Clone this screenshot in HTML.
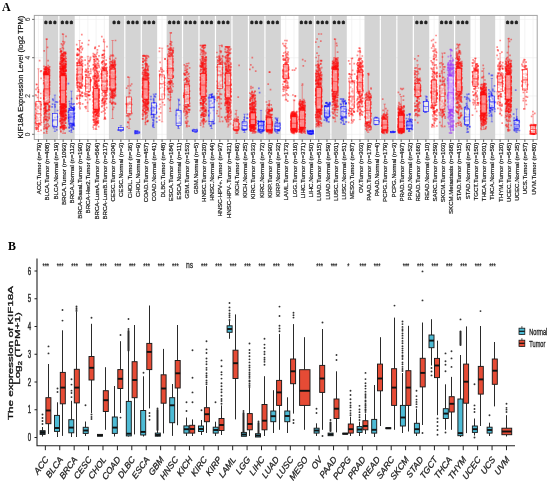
<!DOCTYPE html>
<html><head><meta charset="utf-8"><title>KIF18A expression</title>
<style>html,body{margin:0;padding:0;background:#fff;}svg{display:block;}</style>
</head><body>
<svg width="550" height="491" viewBox="0 0 550 491"><rect x="0" y="0" width="550" height="491" fill="#fff"/><path d="M38.42 15.4V139.5 M46.67 15.4V139.5 M54.91 15.4V139.5 M63.15 15.4V139.5 M71.40 15.4V139.5 M79.64 15.4V139.5 M87.89 15.4V139.5 M96.13 15.4V139.5 M104.38 15.4V139.5 M112.62 15.4V139.5 M120.86 15.4V139.5 M129.11 15.4V139.5 M137.35 15.4V139.5 M145.60 15.4V139.5 M153.84 15.4V139.5 M162.09 15.4V139.5 M170.33 15.4V139.5 M178.57 15.4V139.5 M186.82 15.4V139.5 M195.06 15.4V139.5 M203.31 15.4V139.5 M211.55 15.4V139.5 M219.80 15.4V139.5 M228.04 15.4V139.5 M236.28 15.4V139.5 M244.53 15.4V139.5 M252.77 15.4V139.5 M261.02 15.4V139.5 M269.26 15.4V139.5 M277.51 15.4V139.5 M285.75 15.4V139.5 M293.99 15.4V139.5 M302.24 15.4V139.5 M310.48 15.4V139.5 M318.73 15.4V139.5 M326.97 15.4V139.5 M335.22 15.4V139.5 M343.46 15.4V139.5 M351.70 15.4V139.5 M359.95 15.4V139.5 M368.19 15.4V139.5 M376.44 15.4V139.5 M384.68 15.4V139.5 M392.93 15.4V139.5 M401.17 15.4V139.5 M409.41 15.4V139.5 M417.66 15.4V139.5 M425.90 15.4V139.5 M434.15 15.4V139.5 M442.39 15.4V139.5 M450.64 15.4V139.5 M458.88 15.4V139.5 M467.12 15.4V139.5 M475.37 15.4V139.5 M483.61 15.4V139.5 M491.86 15.4V139.5 M500.10 15.4V139.5 M508.35 15.4V139.5 M516.59 15.4V139.5 M524.83 15.4V139.5 M533.08 15.4V139.5 M34.3 134.30H537.2 M34.3 96.00H537.2 M34.3 57.70H537.2 M34.3 19.40H537.2" stroke="#ececec" stroke-width="0.6" fill="none"/><rect x="42.94" y="15.4" width="15.29" height="124.1" fill="#d4d4d4"/><rect x="59.43" y="15.4" width="15.29" height="124.1" fill="#d4d4d4"/><rect x="108.90" y="15.4" width="15.29" height="124.1" fill="#d4d4d4"/><rect x="125.39" y="15.4" width="15.29" height="124.1" fill="#d4d4d4"/><rect x="141.88" y="15.4" width="15.29" height="124.1" fill="#d4d4d4"/><rect x="166.61" y="15.4" width="15.29" height="124.1" fill="#d4d4d4"/><rect x="183.10" y="15.4" width="15.29" height="124.1" fill="#d4d4d4"/><rect x="199.59" y="15.4" width="15.29" height="124.1" fill="#d4d4d4"/><rect x="216.07" y="15.4" width="15.29" height="124.1" fill="#d4d4d4"/><rect x="232.56" y="15.4" width="15.29" height="124.1" fill="#d4d4d4"/><rect x="249.05" y="15.4" width="15.29" height="124.1" fill="#d4d4d4"/><rect x="265.54" y="15.4" width="15.29" height="124.1" fill="#d4d4d4"/><rect x="298.52" y="15.4" width="15.29" height="124.1" fill="#d4d4d4"/><rect x="315.00" y="15.4" width="15.29" height="124.1" fill="#d4d4d4"/><rect x="331.49" y="15.4" width="15.29" height="124.1" fill="#d4d4d4"/><rect x="364.47" y="15.4" width="15.29" height="124.1" fill="#d4d4d4"/><rect x="380.96" y="15.4" width="15.29" height="124.1" fill="#d4d4d4"/><rect x="397.45" y="15.4" width="15.29" height="124.1" fill="#d4d4d4"/><rect x="413.94" y="15.4" width="15.29" height="124.1" fill="#d4d4d4"/><rect x="438.67" y="15.4" width="15.29" height="124.1" fill="#d4d4d4"/><rect x="455.16" y="15.4" width="15.29" height="124.1" fill="#d4d4d4"/><rect x="479.89" y="15.4" width="15.29" height="124.1" fill="#d4d4d4"/><rect x="504.62" y="15.4" width="15.29" height="124.1" fill="#d4d4d4"/><rect x="34.3" y="15.4" width="502.9" height="124.1" fill="none" stroke="#a3a3a3" stroke-width="1.0"/><path d="M40.0 117.3h.01M35.9 116.7h.01M40.6 106.6h.01M41.2 104.7h.01M38.3 108.2h.01M37.6 106.6h.01M39.1 122.6h.01M40.7 109.2h.01M39.2 124.2h.01M37.5 87.5h.01M37.6 114.5h.01M36.9 84.5h.01M41.4 122.5h.01M37.5 87.9h.01M41.1 130.4h.01M38.6 92.0h.01M45.5 90.3h.01M45.5 96.2h.01M44.9 118.4h.01M49.6 92.0h.01M45.7 69.1h.01M49.0 94.4h.01M45.9 120.0h.01M44.4 118.9h.01M45.3 88.9h.01M48.8 69.0h.01M49.0 90.9h.01M49.2 109.8h.01M44.3 104.3h.01M48.0 94.4h.01M43.9 101.6h.01M45.5 90.2h.01M44.3 73.6h.01M45.0 114.1h.01M49.4 84.1h.01M45.1 93.0h.01M46.7 101.3h.01M49.2 85.5h.01M47.8 100.6h.01M44.9 113.0h.01M45.0 74.6h.01M44.8 74.2h.01M44.5 75.2h.01M44.0 98.6h.01M48.1 74.8h.01M49.3 107.5h.01M45.9 93.0h.01M45.8 106.5h.01M45.8 79.0h.01M46.5 128.4h.01M49.0 67.3h.01M43.9 97.2h.01M48.2 68.0h.01M47.4 83.5h.01M43.7 91.5h.01M43.8 95.6h.01M46.0 88.9h.01M44.8 91.7h.01M47.3 92.8h.01M44.1 108.0h.01M43.9 96.8h.01M49.6 85.3h.01M47.9 68.3h.01M47.7 74.6h.01M48.7 93.3h.01M44.9 73.6h.01M47.1 81.5h.01M45.1 77.7h.01M46.5 110.5h.01M45.4 103.1h.01M49.2 117.8h.01M48.3 92.8h.01M45.0 90.0h.01M47.3 102.0h.01M47.7 74.7h.01M47.0 110.6h.01M47.5 121.2h.01M45.4 90.2h.01M45.8 102.8h.01M44.8 84.8h.01M46.2 79.4h.01M44.6 90.3h.01M44.2 96.6h.01M45.4 86.7h.01M48.5 86.4h.01M49.5 82.2h.01M49.1 92.1h.01M45.0 83.7h.01M45.0 105.6h.01M45.1 67.7h.01M48.2 69.9h.01M47.0 74.6h.01M46.2 89.9h.01M47.4 88.8h.01M46.4 67.4h.01M46.2 71.6h.01M47.5 47.4h.01M44.0 132.9h.01M60.2 71.8h.01M61.3 103.9h.01M63.3 91.8h.01M61.1 90.5h.01M63.3 115.2h.01M60.2 87.7h.01M61.2 79.0h.01M62.2 74.7h.01M63.7 97.4h.01M60.4 89.8h.01M65.1 115.1h.01M65.9 107.2h.01M62.0 102.7h.01M61.2 81.5h.01M63.5 79.3h.01M60.5 91.5h.01M61.3 76.9h.01M62.2 90.9h.01M65.2 80.3h.01M61.1 103.2h.01M61.4 97.3h.01M60.9 75.7h.01M62.4 74.8h.01M60.9 102.4h.01M62.5 127.1h.01M60.7 77.1h.01M60.8 51.7h.01M60.6 61.5h.01M61.8 100.2h.01M65.3 78.8h.01M64.1 53.6h.01M61.6 86.0h.01M60.8 117.7h.01M60.4 89.6h.01M60.4 88.1h.01M63.6 66.8h.01M62.2 86.0h.01M60.4 103.7h.01M60.8 101.3h.01M60.7 89.6h.01M61.8 111.6h.01M64.3 97.5h.01M60.5 72.4h.01M60.9 106.4h.01M61.7 93.1h.01M61.7 119.9h.01M62.0 96.8h.01M61.6 68.2h.01M62.0 70.8h.01M65.0 78.5h.01M63.7 126.5h.01M61.9 101.9h.01M61.3 95.2h.01M63.0 93.8h.01M66.1 78.9h.01M63.5 68.7h.01M63.4 72.4h.01M65.8 101.8h.01M60.3 97.4h.01M64.0 104.0h.01M65.1 77.4h.01M62.1 109.6h.01M61.6 77.6h.01M64.4 65.6h.01M61.1 99.0h.01M61.1 118.3h.01M62.8 82.2h.01M65.3 84.5h.01M63.2 117.0h.01M65.1 57.8h.01M63.5 100.9h.01M62.9 116.2h.01M65.9 67.1h.01M63.8 100.1h.01M64.0 102.9h.01M61.3 58.2h.01M62.4 68.1h.01M62.5 55.0h.01M60.8 109.6h.01M61.7 86.5h.01M60.8 86.5h.01M60.6 110.1h.01M64.7 110.8h.01M65.1 61.0h.01M64.8 104.9h.01M62.4 89.9h.01M64.4 128.2h.01M63.5 84.8h.01M62.2 82.1h.01M62.4 85.0h.01M63.8 85.8h.01M65.7 56.5h.01M65.2 84.7h.01M65.0 104.9h.01M62.4 92.4h.01M65.0 98.3h.01M63.2 81.8h.01M65.1 76.4h.01M65.2 119.3h.01M62.1 99.1h.01M61.2 109.2h.01M62.3 83.0h.01M62.9 104.4h.01M61.8 70.4h.01M63.3 79.9h.01M64.8 100.8h.01M62.3 67.2h.01M64.2 101.1h.01M64.0 52.9h.01M62.2 87.3h.01M61.6 57.5h.01M65.4 98.5h.01M61.2 90.9h.01M63.5 97.6h.01M60.6 97.2h.01M64.8 78.2h.01M65.5 104.4h.01M61.8 102.1h.01M63.8 125.5h.01M65.9 104.0h.01M62.2 68.5h.01M64.0 73.9h.01M64.0 127.8h.01M62.6 104.5h.01M63.7 95.0h.01M63.5 58.5h.01M62.1 103.5h.01M60.7 111.4h.01M63.5 127.0h.01M61.7 86.1h.01M64.8 106.9h.01M65.8 85.1h.01M64.8 87.4h.01M60.7 90.7h.01M63.5 96.6h.01M61.2 68.2h.01M64.8 84.3h.01M62.2 83.7h.01M60.8 55.7h.01M65.3 99.9h.01M65.8 89.2h.01M62.8 114.8h.01M61.9 124.8h.01M65.3 105.2h.01M61.9 90.7h.01M64.3 78.4h.01M61.4 79.3h.01M61.2 72.8h.01M60.8 107.5h.01M64.6 98.2h.01M62.2 65.1h.01M60.4 76.2h.01M63.2 108.0h.01M66.1 97.0h.01M61.0 76.0h.01M64.6 94.4h.01M65.7 83.4h.01M64.5 111.2h.01M60.4 100.0h.01M60.2 103.0h.01M64.3 92.3h.01M62.1 114.4h.01M62.6 91.4h.01M65.7 123.2h.01M61.3 78.6h.01M60.5 80.8h.01M62.0 112.6h.01M63.2 126.2h.01M64.6 52.8h.01M63.8 92.3h.01M61.5 86.2h.01M64.5 88.5h.01M65.7 111.5h.01M61.6 113.2h.01M65.1 92.1h.01M65.1 111.6h.01M60.8 68.1h.01M60.7 127.3h.01M63.0 71.6h.01M62.4 67.0h.01M62.4 103.0h.01M61.2 79.9h.01M65.2 63.8h.01M62.7 93.7h.01M62.8 102.1h.01M64.0 73.8h.01M65.7 71.2h.01M64.1 101.3h.01M63.3 70.0h.01M63.7 74.8h.01M63.0 60.1h.01M65.1 95.7h.01M64.2 71.8h.01M61.5 111.8h.01M64.7 86.0h.01M63.1 82.2h.01M66.1 58.5h.01M63.3 65.9h.01M62.0 92.6h.01M62.7 120.4h.01M65.3 87.5h.01M62.4 81.2h.01M65.0 83.3h.01M62.0 103.4h.01M61.8 90.2h.01M63.7 97.7h.01M60.5 121.5h.01M60.6 83.6h.01M65.0 106.6h.01M61.4 108.3h.01M60.8 101.1h.01M64.1 74.5h.01M60.5 115.9h.01M61.6 97.1h.01M65.6 99.8h.01M66.0 36.3h.01M61.5 43.8h.01M62.7 34.0h.01M81.5 59.9h.01M80.4 69.5h.01M81.4 46.4h.01M76.8 83.7h.01M77.0 85.5h.01M79.7 74.0h.01M81.5 88.1h.01M79.5 62.6h.01M79.4 78.4h.01M77.8 74.5h.01M80.9 57.2h.01M82.5 85.7h.01M81.0 65.3h.01M81.0 68.4h.01M80.4 64.2h.01M78.8 66.2h.01M77.3 79.5h.01M82.1 49.7h.01M77.3 64.5h.01M76.8 54.7h.01M79.3 76.0h.01M77.4 54.8h.01M76.7 85.3h.01M82.0 69.3h.01M82.0 72.0h.01M82.1 77.6h.01M77.8 74.7h.01M79.3 67.5h.01M79.0 68.6h.01M80.8 66.3h.01M77.0 82.9h.01M81.4 80.0h.01M77.2 87.4h.01M78.1 79.5h.01M80.5 67.0h.01M81.2 56.7h.01M81.5 57.5h.01M82.0 78.7h.01M89.7 88.3h.01M88.6 82.9h.01M88.1 72.2h.01M90.4 79.9h.01M86.6 71.4h.01M90.8 73.4h.01M89.4 89.9h.01M89.0 86.5h.01M88.4 95.2h.01M85.3 94.4h.01M85.6 99.8h.01M89.5 79.5h.01M89.0 92.0h.01M86.9 72.0h.01M90.0 60.5h.01M86.0 83.0h.01M88.9 40.5h.01M98.5 100.6h.01M94.0 54.4h.01M94.7 74.3h.01M93.7 106.2h.01M94.6 81.2h.01M98.6 109.5h.01M97.4 102.5h.01M93.4 105.8h.01M97.9 94.8h.01M99.1 94.8h.01M94.1 106.4h.01M94.4 59.6h.01M94.2 105.3h.01M98.8 88.6h.01M94.1 104.8h.01M95.3 103.9h.01M94.0 97.0h.01M97.5 100.2h.01M95.7 111.9h.01M98.8 89.9h.01M96.7 70.9h.01M95.5 106.6h.01M93.3 116.6h.01M98.5 101.7h.01M96.0 107.6h.01M94.7 82.1h.01M96.4 80.4h.01M97.3 77.3h.01M94.0 57.2h.01M97.5 101.8h.01M93.7 112.7h.01M98.3 122.7h.01M96.7 87.9h.01M93.3 53.6h.01M94.2 119.9h.01M99.0 109.7h.01M99.0 55.8h.01M94.0 109.6h.01M97.2 67.2h.01M95.8 121.3h.01M98.8 104.7h.01M94.2 78.5h.01M97.8 105.4h.01M97.1 91.5h.01M98.9 97.2h.01M94.7 73.8h.01M99.1 95.4h.01M96.8 123.6h.01M98.7 114.9h.01M97.7 87.2h.01M98.7 107.4h.01M93.8 110.6h.01M97.5 87.4h.01M94.4 99.3h.01M98.8 108.2h.01M97.7 97.5h.01M96.0 114.8h.01M93.5 112.2h.01M97.0 90.7h.01M96.0 109.5h.01M95.9 90.4h.01M98.7 92.3h.01M94.2 105.2h.01M96.0 78.7h.01M98.6 96.8h.01M96.3 119.2h.01M98.0 93.0h.01M98.1 95.4h.01M96.5 91.9h.01M96.1 56.7h.01M96.7 85.0h.01M99.0 97.9h.01M96.4 97.9h.01M94.8 105.0h.01M95.3 104.2h.01M97.2 94.9h.01M94.6 107.6h.01M94.4 83.7h.01M97.2 98.1h.01M93.1 78.4h.01M96.5 110.9h.01M98.1 100.4h.01M93.7 92.5h.01M95.1 99.8h.01M98.1 105.0h.01M94.0 99.6h.01M99.1 104.2h.01M96.4 113.3h.01M94.1 84.0h.01M96.1 81.3h.01M93.2 94.3h.01M94.6 97.8h.01M95.5 109.4h.01M98.1 111.8h.01M94.2 121.7h.01M97.0 108.6h.01M94.6 103.9h.01M97.4 95.9h.01M98.2 96.0h.01M96.2 99.6h.01M96.2 106.7h.01M93.7 112.9h.01M94.3 121.6h.01M94.7 79.1h.01M95.7 66.7h.01M98.7 94.6h.01M97.2 124.7h.01M98.0 63.0h.01M97.2 107.6h.01M97.4 91.6h.01M96.6 54.0h.01M97.4 49.9h.01M93.7 129.0h.01M104.2 87.1h.01M102.9 81.6h.01M104.4 50.7h.01M105.1 117.4h.01M105.1 87.9h.01M106.4 69.1h.01M107.2 73.7h.01M101.6 112.1h.01M106.5 89.1h.01M106.7 98.3h.01M106.6 85.5h.01M103.4 70.5h.01M102.3 84.8h.01M106.6 107.7h.01M106.9 67.5h.01M106.9 88.4h.01M105.6 101.5h.01M107.1 71.6h.01M105.5 95.6h.01M103.6 71.9h.01M105.8 89.5h.01M105.8 92.0h.01M106.9 95.1h.01M105.7 89.6h.01M105.2 113.3h.01M104.0 68.0h.01M104.7 81.5h.01M103.1 75.0h.01M104.0 89.0h.01M103.8 76.6h.01M103.7 81.4h.01M104.2 70.7h.01M101.5 73.9h.01M104.8 90.2h.01M105.7 73.3h.01M104.3 85.0h.01M104.7 74.4h.01M101.7 63.1h.01M104.3 75.6h.01M106.1 73.4h.01M103.4 69.4h.01M102.6 75.0h.01M103.7 41.3h.01M113.1 92.8h.01M113.3 77.4h.01M112.0 93.3h.01M110.3 89.3h.01M109.9 77.1h.01M114.6 86.1h.01M111.4 94.6h.01M115.2 89.7h.01M109.8 58.5h.01M113.4 79.4h.01M115.3 92.2h.01M114.4 67.2h.01M111.9 73.6h.01M111.6 78.4h.01M111.1 69.7h.01M110.7 69.0h.01M111.2 92.4h.01M112.0 85.2h.01M110.6 71.1h.01M110.4 81.4h.01M114.5 75.7h.01M109.6 88.7h.01M114.3 72.0h.01M114.6 74.5h.01M114.7 90.9h.01M110.4 82.7h.01M113.7 83.7h.01M110.2 95.1h.01M110.6 64.8h.01M110.1 71.1h.01M111.1 84.5h.01M109.8 62.0h.01M114.3 82.5h.01M111.4 82.9h.01M111.3 64.9h.01M115.2 88.4h.01M111.2 72.9h.01M110.6 102.3h.01M114.7 95.5h.01M114.1 86.8h.01M111.3 72.2h.01M115.2 89.6h.01M113.5 65.2h.01M114.7 89.7h.01M114.1 77.8h.01M114.0 87.9h.01M112.1 85.4h.01M111.8 86.8h.01M112.3 83.9h.01M110.7 96.7h.01M111.1 74.0h.01M113.0 95.7h.01M114.3 81.8h.01M112.8 60.6h.01M113.8 95.7h.01M110.0 63.5h.01M112.5 93.1h.01M112.3 97.8h.01M112.3 94.5h.01M113.5 67.3h.01M113.7 107.3h.01M127.3 106.3h.01M128.0 86.0h.01M129.6 93.2h.01M127.0 106.4h.01M131.4 99.3h.01M129.5 103.9h.01M128.1 105.2h.01M144.8 91.2h.01M147.4 95.4h.01M146.9 58.4h.01M146.9 99.6h.01M142.9 93.9h.01M144.2 90.0h.01M145.9 79.1h.01M148.5 77.9h.01M143.3 83.3h.01M147.6 95.6h.01M144.2 74.1h.01M146.0 66.7h.01M146.9 104.2h.01M145.4 84.1h.01M147.7 89.9h.01M147.0 69.9h.01M144.7 112.0h.01M148.0 100.3h.01M146.1 99.3h.01M148.5 79.6h.01M145.8 86.7h.01M144.2 89.4h.01M148.3 88.5h.01M145.1 99.3h.01M144.0 106.0h.01M143.0 86.6h.01M148.6 82.6h.01M148.2 102.3h.01M147.0 87.6h.01M147.7 82.3h.01M146.0 113.8h.01M145.1 108.6h.01M146.9 79.2h.01M147.9 94.2h.01M144.8 86.9h.01M148.5 83.4h.01M143.9 93.5h.01M145.4 83.9h.01M147.4 106.8h.01M148.1 84.9h.01M143.4 86.1h.01M146.7 112.5h.01M145.9 78.1h.01M143.9 82.1h.01M148.6 74.9h.01M147.8 102.2h.01M144.4 105.6h.01M146.6 75.9h.01M142.8 100.8h.01M145.1 97.5h.01M144.2 86.5h.01M147.9 73.5h.01M147.5 76.6h.01M145.1 91.5h.01M147.0 79.5h.01M146.6 90.6h.01M145.8 63.5h.01M148.5 79.9h.01M143.3 92.0h.01M143.3 114.9h.01M145.7 83.7h.01M142.6 97.1h.01M146.1 90.0h.01M143.1 62.2h.01M148.5 66.3h.01M145.6 83.4h.01M145.1 83.5h.01M147.7 70.2h.01M143.1 82.7h.01M146.9 86.5h.01M147.6 91.5h.01M144.2 81.4h.01M143.6 74.9h.01M145.8 92.3h.01M146.1 79.5h.01M147.4 78.5h.01M143.4 101.7h.01M144.9 89.1h.01M144.5 80.0h.01M147.6 80.5h.01M148.0 103.4h.01M143.3 84.4h.01M146.3 103.9h.01M143.0 110.5h.01M143.1 91.1h.01M147.8 110.1h.01M144.2 91.2h.01M143.2 108.1h.01M146.4 87.0h.01M143.9 97.6h.01M143.1 55.8h.01M162.7 76.4h.01M159.9 104.3h.01M159.9 76.5h.01M164.7 85.1h.01M161.8 79.5h.01M162.1 97.4h.01M161.8 84.4h.01M165.0 58.8h.01M161.6 94.4h.01M159.4 51.4h.01M173.2 50.8h.01M170.2 84.1h.01M171.1 75.7h.01M171.5 76.4h.01M170.4 58.8h.01M167.5 86.4h.01M171.3 69.3h.01M171.2 90.0h.01M170.6 87.4h.01M169.5 61.3h.01M170.6 72.6h.01M170.5 58.4h.01M169.4 70.2h.01M170.4 69.1h.01M173.1 86.5h.01M167.6 89.4h.01M171.2 68.4h.01M172.5 68.3h.01M171.2 88.5h.01M169.5 88.1h.01M167.7 61.2h.01M173.1 52.1h.01M170.6 69.8h.01M168.4 59.4h.01M169.1 75.0h.01M167.8 72.6h.01M170.5 71.2h.01M169.0 77.8h.01M170.4 99.7h.01M168.2 88.1h.01M168.9 92.2h.01M169.7 57.2h.01M168.1 98.8h.01M171.4 52.8h.01M169.2 76.5h.01M171.6 80.7h.01M171.2 32.8h.01M186.7 99.3h.01M188.2 104.6h.01M186.3 87.3h.01M187.8 121.3h.01M187.1 80.7h.01M184.7 90.8h.01M186.9 123.1h.01M185.2 68.0h.01M184.4 80.1h.01M189.3 85.8h.01M188.7 88.7h.01M189.1 84.0h.01M187.5 98.9h.01M184.8 85.0h.01M189.7 106.1h.01M185.0 97.0h.01M183.9 112.0h.01M185.9 78.6h.01M184.8 109.5h.01M184.8 90.2h.01M185.8 110.9h.01M188.9 73.6h.01M186.3 101.6h.01M188.3 89.4h.01M185.8 110.3h.01M186.9 72.1h.01M185.2 86.9h.01M185.4 106.6h.01M184.5 97.2h.01M189.3 98.6h.01M205.6 77.2h.01M201.6 115.1h.01M201.1 87.3h.01M203.1 106.4h.01M201.5 73.7h.01M203.5 48.4h.01M203.2 86.8h.01M204.3 88.5h.01M205.1 63.5h.01M205.8 100.4h.01M204.8 111.7h.01M203.0 56.9h.01M205.6 79.9h.01M203.0 90.7h.01M202.1 58.6h.01M205.0 67.3h.01M204.9 61.1h.01M202.0 113.9h.01M200.7 77.6h.01M205.5 110.7h.01M203.4 74.3h.01M206.1 112.8h.01M203.5 73.2h.01M205.8 63.9h.01M205.1 77.8h.01M205.0 88.5h.01M202.4 82.1h.01M205.7 90.3h.01M201.9 90.8h.01M206.2 104.4h.01M202.6 81.3h.01M203.1 109.3h.01M201.4 89.5h.01M203.4 103.3h.01M203.2 99.7h.01M201.7 91.2h.01M203.0 85.5h.01M204.1 121.0h.01M202.1 99.9h.01M201.1 117.1h.01M204.4 95.4h.01M202.2 76.5h.01M206.1 78.3h.01M204.0 84.2h.01M205.7 57.7h.01M200.4 66.1h.01M204.7 53.3h.01M205.2 73.6h.01M202.9 66.0h.01M203.1 86.9h.01M206.1 79.9h.01M206.0 83.1h.01M202.4 87.2h.01M200.4 59.7h.01M203.2 90.1h.01M203.7 108.2h.01M204.7 114.1h.01M204.3 87.9h.01M202.6 93.6h.01M203.6 123.8h.01M206.3 121.0h.01M201.0 93.9h.01M203.3 62.8h.01M206.2 108.0h.01M204.9 116.5h.01M202.1 112.9h.01M204.2 83.1h.01M203.5 80.5h.01M206.2 57.9h.01M202.8 81.7h.01M200.7 74.0h.01M202.1 82.1h.01M201.6 85.7h.01M204.1 102.9h.01M201.4 79.0h.01M202.5 89.0h.01M205.4 106.8h.01M205.7 75.5h.01M205.8 74.5h.01M202.8 60.0h.01M202.2 85.3h.01M203.5 114.1h.01M204.1 88.6h.01M203.8 65.6h.01M200.7 63.1h.01M200.6 102.8h.01M204.8 87.0h.01M203.3 101.8h.01M204.4 84.2h.01M201.6 78.7h.01M202.0 85.7h.01M201.4 52.5h.01M202.1 92.2h.01M202.7 81.0h.01M200.9 61.0h.01M203.2 120.7h.01M204.6 87.3h.01M200.6 104.8h.01M200.8 84.1h.01M204.4 106.2h.01M205.5 59.9h.01M205.2 88.5h.01M203.6 88.2h.01M201.3 45.5h.01M219.5 71.1h.01M218.0 91.2h.01M221.3 103.4h.01M217.1 67.2h.01M217.1 81.3h.01M220.4 58.3h.01M221.5 80.8h.01M217.8 61.4h.01M220.9 75.3h.01M220.4 51.2h.01M217.7 86.3h.01M222.5 55.9h.01M222.2 70.1h.01M222.1 80.5h.01M221.6 62.3h.01M217.7 62.3h.01M220.5 84.7h.01M217.3 85.3h.01M217.6 97.7h.01M221.8 45.4h.01M229.1 87.9h.01M229.2 52.6h.01M230.5 76.0h.01M226.2 80.2h.01M229.4 96.2h.01M226.6 89.2h.01M227.2 86.4h.01M225.9 68.7h.01M230.5 91.7h.01M228.3 67.3h.01M227.5 46.9h.01M229.6 90.8h.01M229.2 74.3h.01M226.0 75.5h.01M226.0 101.5h.01M225.2 94.0h.01M227.7 80.2h.01M230.4 95.3h.01M230.0 106.7h.01M228.3 107.3h.01M229.8 85.4h.01M226.8 98.2h.01M226.5 75.0h.01M226.4 77.8h.01M228.3 71.5h.01M228.3 60.7h.01M229.7 58.2h.01M230.0 102.9h.01M229.3 96.6h.01M227.3 110.8h.01M226.4 112.3h.01M228.4 64.6h.01M230.8 92.3h.01M228.7 95.7h.01M227.1 95.7h.01M229.2 87.2h.01M226.8 96.4h.01M225.7 58.0h.01M225.0 89.2h.01M226.4 119.7h.01M225.6 82.9h.01M229.4 85.5h.01M226.7 81.2h.01M229.7 73.8h.01M226.0 99.4h.01M229.9 119.7h.01M230.0 70.3h.01M227.7 75.4h.01M226.8 84.5h.01M228.5 102.2h.01M225.1 63.5h.01M225.2 74.2h.01M230.1 104.3h.01M227.2 62.3h.01M226.4 78.4h.01M225.1 90.4h.01M228.6 78.8h.01M230.9 112.1h.01M229.1 93.3h.01M226.4 92.7h.01M226.8 95.2h.01M228.3 64.2h.01M228.1 97.1h.01M226.7 84.9h.01M229.6 116.6h.01M229.1 86.9h.01M227.3 102.1h.01M226.5 70.7h.01M229.1 76.1h.01M226.3 63.6h.01M225.6 74.5h.01M225.5 103.6h.01M228.1 83.0h.01M228.7 81.9h.01M228.8 48.1h.01M229.0 73.3h.01M231.0 119.1h.01M228.4 61.1h.01M227.6 84.2h.01M229.0 60.6h.01M227.9 85.1h.01M225.3 79.5h.01M227.7 88.1h.01M227.4 46.8h.01M235.4 130.5h.01M238.0 122.5h.01M238.3 127.9h.01M233.4 125.1h.01M236.7 129.9h.01M237.9 126.4h.01M238.1 119.5h.01M238.0 117.1h.01M237.7 127.2h.01M237.1 129.4h.01M236.9 129.6h.01M236.1 125.8h.01M238.1 127.2h.01M252.8 120.8h.01M254.5 108.9h.01M253.8 124.8h.01M254.7 114.2h.01M254.8 95.0h.01M250.3 122.7h.01M254.7 114.7h.01M253.3 130.0h.01M249.8 125.9h.01M250.2 121.8h.01M254.0 94.8h.01M254.0 105.9h.01M251.4 119.6h.01M252.3 123.6h.01M253.2 127.1h.01M251.6 98.5h.01M253.1 121.3h.01M250.8 109.6h.01M254.6 125.1h.01M252.3 127.2h.01M252.7 109.1h.01M252.6 122.4h.01M253.5 117.8h.01M254.0 119.6h.01M254.5 113.4h.01M254.8 109.5h.01M254.0 114.5h.01M250.5 121.5h.01M252.7 120.0h.01M251.0 113.7h.01M253.2 116.9h.01M252.2 116.1h.01M254.1 114.0h.01M251.0 125.6h.01M252.0 103.3h.01M253.4 113.6h.01M253.6 124.5h.01M252.4 120.4h.01M253.6 119.5h.01M254.2 102.9h.01M254.8 117.0h.01M251.0 123.6h.01M252.1 126.7h.01M250.1 116.9h.01M254.9 120.6h.01M254.8 115.5h.01M252.6 116.7h.01M255.2 122.3h.01M251.8 120.4h.01M250.7 118.7h.01M249.8 120.1h.01M253.0 113.3h.01M250.7 124.5h.01M253.6 126.3h.01M251.0 127.9h.01M251.2 128.7h.01M251.2 117.8h.01M250.8 108.2h.01M250.1 109.5h.01M252.2 115.8h.01M250.6 125.1h.01M251.0 122.9h.01M254.5 113.8h.01M252.0 114.9h.01M252.6 112.2h.01M255.1 115.8h.01M252.3 129.0h.01M251.1 115.0h.01M255.1 116.6h.01M250.8 129.2h.01M252.7 113.6h.01M251.2 121.6h.01M251.0 119.1h.01M254.6 91.5h.01M252.9 103.2h.01M253.8 117.1h.01M251.3 109.1h.01M250.6 97.7h.01M253.3 116.8h.01M251.2 112.8h.01M251.1 108.1h.01M250.7 130.3h.01M254.1 119.0h.01M250.6 110.5h.01M251.4 112.0h.01M251.6 126.7h.01M253.6 121.7h.01M252.3 116.1h.01M255.3 108.8h.01M253.9 113.6h.01M253.8 129.6h.01M251.5 126.3h.01M251.9 113.4h.01M251.8 119.4h.01M252.7 130.1h.01M255.5 106.2h.01M254.8 121.8h.01M254.2 130.9h.01M254.5 118.8h.01M250.2 120.9h.01M250.7 120.7h.01M249.8 104.3h.01M251.8 114.5h.01M251.0 125.6h.01M251.8 120.4h.01M251.0 88.4h.01M249.9 69.4h.01M272.3 124.1h.01M267.8 126.9h.01M266.9 117.3h.01M269.6 123.6h.01M269.7 129.4h.01M268.3 111.9h.01M268.4 121.6h.01M268.2 120.0h.01M267.2 124.9h.01M271.5 127.0h.01M267.1 130.2h.01M270.8 130.1h.01M267.3 120.5h.01M270.5 126.2h.01M267.8 129.8h.01M266.5 129.6h.01M267.5 124.1h.01M267.5 122.8h.01M271.3 131.0h.01M266.5 110.7h.01M266.7 125.0h.01M270.6 130.6h.01M269.5 114.1h.01M270.7 116.7h.01M269.3 129.8h.01M268.1 119.6h.01M271.7 128.2h.01M268.9 105.3h.01M267.2 127.6h.01M269.7 128.5h.01M267.4 130.8h.01M267.9 129.2h.01M269.3 110.3h.01M266.6 119.1h.01M270.4 125.1h.01M267.3 104.8h.01M269.5 130.2h.01M270.4 130.1h.01M266.4 129.8h.01M269.4 123.2h.01M270.6 129.0h.01M266.4 111.0h.01M267.8 125.0h.01M266.6 131.2h.01M267.1 130.6h.01M269.8 124.2h.01M271.1 126.3h.01M267.6 130.4h.01M270.8 130.1h.01M266.8 130.1h.01M270.9 130.2h.01M267.6 129.6h.01M270.7 121.0h.01M269.4 129.6h.01M266.8 123.5h.01M271.9 129.8h.01M268.5 109.2h.01M266.4 102.0h.01M285.2 87.7h.01M284.5 59.9h.01M285.7 78.3h.01M287.9 57.7h.01M285.1 66.3h.01M285.9 71.7h.01M286.6 53.8h.01M283.9 74.5h.01M286.7 48.0h.01M286.9 71.2h.01M288.7 78.1h.01M286.1 55.2h.01M288.0 52.2h.01M286.2 70.9h.01M287.7 68.2h.01M286.0 75.4h.01M287.0 72.4h.01M285.7 79.8h.01M283.9 74.8h.01M287.6 70.5h.01M283.4 77.1h.01M283.2 74.4h.01M283.8 53.0h.01M283.0 95.4h.01M283.0 77.5h.01M287.4 87.8h.01M287.1 77.0h.01M287.5 66.9h.01M282.8 55.9h.01M286.5 67.1h.01M286.2 78.5h.01M284.6 65.8h.01M288.3 76.3h.01M284.5 72.8h.01M294.1 127.2h.01M291.3 117.8h.01M296.5 126.1h.01M291.8 113.3h.01M294.3 122.5h.01M293.0 117.1h.01M291.1 121.8h.01M296.8 126.3h.01M291.0 129.3h.01M296.2 120.2h.01M291.9 120.8h.01M294.1 113.2h.01M291.1 129.8h.01M293.0 120.9h.01M291.5 128.5h.01M296.2 124.7h.01M296.3 121.1h.01M294.0 126.8h.01M293.4 114.3h.01M293.5 126.4h.01M292.1 131.1h.01M294.4 129.8h.01M293.3 124.2h.01M294.1 125.4h.01M295.8 121.4h.01M296.9 130.9h.01M292.9 129.0h.01M295.8 122.9h.01M296.8 123.1h.01M291.1 127.3h.01M292.9 120.7h.01M296.7 123.0h.01M292.2 124.8h.01M292.7 119.1h.01M291.5 123.6h.01M295.3 121.0h.01M294.8 116.3h.01M296.2 115.1h.01M292.7 116.6h.01M291.5 131.4h.01M296.1 118.1h.01M296.2 114.7h.01M295.9 123.7h.01M296.8 126.1h.01M292.9 127.8h.01M295.9 127.1h.01M296.2 125.2h.01M292.3 126.7h.01M293.8 132.6h.01M295.9 118.2h.01M296.2 113.5h.01M295.9 123.9h.01M295.4 115.8h.01M293.2 125.5h.01M293.1 116.5h.01M293.0 114.8h.01M291.8 125.5h.01M296.4 117.1h.01M295.6 122.7h.01M294.3 130.3h.01M291.4 132.0h.01M294.2 124.3h.01M291.9 119.2h.01M293.1 116.6h.01M291.2 124.8h.01M295.1 128.8h.01M295.8 125.6h.01M292.2 116.8h.01M295.3 114.2h.01M292.1 114.6h.01M293.5 116.8h.01M294.9 125.9h.01M296.6 124.8h.01M291.3 116.3h.01M292.2 129.8h.01M291.8 130.4h.01M295.3 123.9h.01M294.1 125.4h.01M293.2 128.8h.01M294.2 115.5h.01M291.4 129.7h.01M292.7 118.1h.01M294.0 126.4h.01M294.6 114.8h.01M296.3 120.4h.01M295.2 117.3h.01M294.0 128.2h.01M291.3 125.3h.01M295.8 126.7h.01M295.0 122.6h.01M294.5 118.5h.01M292.3 124.1h.01M294.3 129.0h.01M291.8 130.6h.01M293.4 118.4h.01M293.0 117.9h.01M293.2 129.0h.01M295.8 115.4h.01M292.8 112.9h.01M294.9 115.9h.01M292.5 124.5h.01M295.8 130.6h.01M294.6 70.1h.01M295.9 68.4h.01M301.9 104.1h.01M302.5 113.0h.01M302.7 127.5h.01M302.8 122.6h.01M304.6 130.0h.01M302.1 127.2h.01M300.9 120.6h.01M301.8 123.0h.01M304.5 111.1h.01M301.5 112.5h.01M302.9 118.7h.01M299.3 129.8h.01M303.9 118.8h.01M301.5 116.2h.01M299.4 110.6h.01M304.3 122.6h.01M302.5 107.3h.01M302.6 104.6h.01M303.7 108.4h.01M300.3 116.4h.01M300.1 126.3h.01M301.4 129.8h.01M304.5 124.9h.01M299.6 115.9h.01M301.6 126.3h.01M303.9 116.0h.01M300.7 109.4h.01M301.9 121.1h.01M303.4 109.3h.01M300.9 129.0h.01M300.0 115.4h.01M301.3 127.1h.01M299.6 114.0h.01M304.3 113.4h.01M302.2 127.0h.01M300.7 128.7h.01M302.5 115.5h.01M301.8 113.8h.01M302.2 123.8h.01M301.4 122.2h.01M302.3 125.3h.01M305.0 129.2h.01M304.2 113.6h.01M302.7 123.1h.01M303.9 118.6h.01M304.3 108.7h.01M305.1 128.6h.01M304.9 116.4h.01M300.5 128.0h.01M304.2 119.1h.01M304.0 128.7h.01M301.4 123.9h.01M299.3 124.2h.01M303.9 105.3h.01M302.9 110.8h.01M304.4 115.3h.01M303.7 125.2h.01M304.0 103.0h.01M304.4 100.9h.01M303.6 112.4h.01M304.5 120.4h.01M304.4 122.3h.01M300.1 121.7h.01M299.5 108.1h.01M302.1 120.3h.01M301.2 125.8h.01M304.0 126.9h.01M300.3 105.8h.01M304.8 109.4h.01M301.1 131.7h.01M303.7 127.7h.01M302.1 127.6h.01M301.9 102.4h.01M305.2 133.1h.01M320.1 114.9h.01M318.3 75.2h.01M319.1 77.4h.01M321.0 102.6h.01M317.5 102.6h.01M321.4 88.3h.01M320.5 97.0h.01M321.4 107.1h.01M317.9 87.2h.01M316.6 109.5h.01M321.0 114.1h.01M315.8 102.7h.01M319.8 68.2h.01M318.2 85.2h.01M319.6 104.8h.01M321.7 100.7h.01M316.7 111.8h.01M317.1 103.1h.01M320.9 83.5h.01M318.7 71.0h.01M319.4 89.0h.01M318.2 100.3h.01M317.0 99.9h.01M317.1 79.1h.01M319.0 98.6h.01M318.0 111.2h.01M321.1 78.9h.01M320.2 73.1h.01M321.5 97.0h.01M319.0 87.2h.01M318.3 117.2h.01M320.0 101.0h.01M319.7 118.8h.01M318.3 104.8h.01M321.0 100.3h.01M321.0 99.9h.01M317.9 66.5h.01M316.4 80.6h.01M315.7 114.9h.01M318.4 83.7h.01M321.6 105.3h.01M320.4 86.5h.01M316.0 73.9h.01M320.8 98.4h.01M318.8 123.4h.01M316.6 94.7h.01M317.7 66.5h.01M318.5 121.7h.01M318.2 71.8h.01M320.4 113.6h.01M315.8 104.5h.01M320.1 108.6h.01M317.4 67.0h.01M319.7 98.4h.01M317.0 121.1h.01M319.3 112.2h.01M320.5 69.0h.01M319.7 75.5h.01M320.8 79.4h.01M316.5 71.2h.01M321.2 123.9h.01M315.9 117.5h.01M320.8 111.1h.01M320.7 105.0h.01M317.2 107.9h.01M321.6 89.1h.01M318.4 97.2h.01M317.8 125.5h.01M318.7 117.0h.01M319.1 86.7h.01M319.1 94.0h.01M320.5 105.1h.01M318.2 76.6h.01M316.1 89.2h.01M317.9 106.9h.01M319.1 65.6h.01M316.5 101.2h.01M321.5 101.6h.01M316.9 111.2h.01M316.5 86.5h.01M315.8 95.7h.01M317.3 120.6h.01M319.1 115.9h.01M320.0 87.4h.01M319.8 117.5h.01M320.4 95.2h.01M318.7 93.6h.01M316.7 90.7h.01M318.7 124.4h.01M321.5 60.6h.01M319.5 112.3h.01M317.1 105.4h.01M318.5 73.9h.01M319.0 115.8h.01M321.6 106.8h.01M320.4 83.5h.01M320.2 70.9h.01M321.5 92.6h.01M320.3 79.2h.01M316.3 119.4h.01M321.4 82.7h.01M318.6 46.9h.01M315.8 42.2h.01M336.3 68.0h.01M335.2 96.6h.01M335.4 93.0h.01M334.8 109.7h.01M336.1 58.8h.01M336.6 85.4h.01M337.5 109.9h.01M333.2 107.5h.01M334.7 107.7h.01M333.6 70.1h.01M336.6 90.5h.01M336.0 68.7h.01M334.1 81.8h.01M333.2 85.7h.01M333.3 101.5h.01M336.3 82.4h.01M336.6 73.5h.01M337.2 82.1h.01M334.8 90.2h.01M334.8 86.3h.01M335.5 64.4h.01M336.5 74.9h.01M336.3 97.6h.01M337.2 112.5h.01M336.5 104.1h.01M337.8 82.6h.01M335.6 75.7h.01M336.9 73.3h.01M333.3 83.5h.01M337.2 95.4h.01M337.9 62.8h.01M333.8 91.0h.01M336.6 76.4h.01M337.7 91.0h.01M334.9 90.1h.01M334.1 69.6h.01M334.4 100.5h.01M334.0 70.1h.01M336.5 75.9h.01M336.3 84.8h.01M337.5 66.7h.01M335.4 83.4h.01M333.6 83.0h.01M337.4 76.7h.01M336.9 82.0h.01M335.1 90.4h.01M333.9 67.5h.01M334.8 84.8h.01M333.0 88.0h.01M336.1 80.2h.01M332.6 109.0h.01M332.6 61.5h.01M337.9 82.7h.01M334.7 98.5h.01M334.6 76.2h.01M337.6 90.5h.01M334.0 84.2h.01M336.9 69.4h.01M332.3 90.3h.01M332.6 79.2h.01M335.2 66.7h.01M334.7 77.1h.01M333.7 70.8h.01M334.0 59.6h.01M335.3 84.5h.01M335.1 98.5h.01M337.8 61.3h.01M338.1 63.8h.01M336.5 75.9h.01M334.4 67.8h.01M333.9 79.7h.01M337.4 101.4h.01M333.5 103.9h.01M335.6 64.8h.01M337.3 71.8h.01M332.9 98.8h.01M335.7 74.9h.01M334.4 71.4h.01M335.7 80.9h.01M336.0 100.5h.01M336.2 61.8h.01M335.5 94.6h.01M335.9 58.1h.01M333.9 91.6h.01M334.1 85.2h.01M332.3 80.6h.01M332.9 73.1h.01M336.8 92.9h.01M337.2 87.0h.01M335.4 73.9h.01M336.4 92.4h.01M335.7 75.3h.01M337.2 69.3h.01M333.8 90.6h.01M334.1 90.3h.01M334.3 62.8h.01M335.9 63.4h.01M336.1 69.4h.01M336.9 45.6h.01M334.7 39.1h.01M348.8 102.6h.01M349.4 110.7h.01M353.3 95.7h.01M354.3 111.9h.01M351.3 95.8h.01M353.3 104.3h.01M352.5 104.8h.01M351.8 101.5h.01M349.8 63.9h.01M349.5 93.6h.01M352.9 82.7h.01M351.3 111.4h.01M352.5 91.0h.01M350.7 83.1h.01M349.0 78.7h.01M352.1 81.8h.01M352.2 80.6h.01M358.5 79.6h.01M358.8 77.3h.01M357.7 89.3h.01M357.8 88.7h.01M357.0 100.3h.01M357.7 107.1h.01M361.2 58.5h.01M359.1 66.2h.01M358.8 84.8h.01M359.5 89.0h.01M357.6 85.9h.01M358.9 58.6h.01M358.6 93.6h.01M359.3 94.9h.01M361.7 102.1h.01M357.0 76.5h.01M357.5 87.2h.01M360.5 101.6h.01M360.1 101.9h.01M360.3 65.8h.01M359.7 86.9h.01M362.6 89.4h.01M362.6 61.6h.01M359.7 105.9h.01M360.8 74.0h.01M357.7 78.6h.01M357.6 99.1h.01M361.2 83.2h.01M357.4 72.3h.01M360.3 85.6h.01M362.1 82.6h.01M361.6 103.4h.01M357.3 76.7h.01M360.8 87.1h.01M357.8 68.0h.01M361.6 75.2h.01M360.5 112.9h.01M361.6 78.6h.01M357.9 76.2h.01M361.1 84.3h.01M359.6 66.5h.01M357.6 72.1h.01M361.4 69.3h.01M359.2 101.7h.01M358.2 72.7h.01M361.1 99.2h.01M361.7 72.3h.01M359.6 82.8h.01M362.3 106.5h.01M361.4 99.5h.01M362.4 70.1h.01M359.4 95.0h.01M359.3 90.2h.01M357.9 109.4h.01M360.1 67.4h.01M358.7 70.9h.01M359.0 89.4h.01M358.9 91.5h.01M361.3 106.6h.01M361.3 74.3h.01M359.3 48.1h.01M366.8 122.4h.01M365.9 101.8h.01M369.0 122.5h.01M365.6 101.5h.01M365.6 124.1h.01M370.8 128.1h.01M366.8 110.6h.01M370.6 108.0h.01M370.3 94.0h.01M366.9 123.7h.01M370.9 97.5h.01M367.2 123.7h.01M370.4 126.3h.01M369.3 104.4h.01M366.6 113.1h.01M365.9 97.2h.01M370.2 97.7h.01M370.6 129.3h.01M367.1 125.5h.01M370.4 102.2h.01M370.4 118.4h.01M371.1 127.8h.01M365.9 118.6h.01M365.2 125.7h.01M369.1 92.7h.01M368.2 105.0h.01M370.3 122.6h.01M371.1 95.7h.01M369.2 125.0h.01M369.8 127.0h.01M371.1 128.8h.01M366.4 108.8h.01M366.4 94.6h.01M366.7 109.1h.01M370.2 110.8h.01M366.9 130.6h.01M385.8 124.2h.01M381.9 132.1h.01M387.4 116.6h.01M386.3 131.8h.01M386.6 129.8h.01M383.5 122.9h.01M386.8 131.2h.01M384.2 122.9h.01M382.3 120.3h.01M383.6 125.5h.01M383.8 117.2h.01M385.7 121.0h.01M382.4 130.0h.01M384.1 115.6h.01M386.4 119.0h.01M385.3 130.1h.01M382.8 132.5h.01M384.5 128.0h.01M382.3 123.5h.01M382.7 118.7h.01M385.9 127.1h.01M387.2 128.2h.01M385.7 121.9h.01M382.6 125.0h.01M385.3 123.1h.01M382.4 119.0h.01M382.3 130.0h.01M384.9 130.2h.01M382.3 129.7h.01M385.7 123.2h.01M387.5 114.4h.01M387.4 124.8h.01M386.2 127.8h.01M383.5 114.3h.01M382.5 129.5h.01M398.5 114.7h.01M402.3 128.5h.01M401.4 116.6h.01M404.1 127.2h.01M403.7 115.1h.01M403.8 125.5h.01M403.9 125.9h.01M401.1 106.8h.01M400.0 120.6h.01M399.3 121.1h.01M399.0 123.5h.01M398.5 126.8h.01M400.0 117.3h.01M399.0 131.8h.01M402.3 123.2h.01M399.5 113.5h.01M404.1 132.3h.01M402.9 112.4h.01M401.4 107.6h.01M398.7 124.2h.01M398.8 112.6h.01M401.5 119.9h.01M398.6 130.5h.01M398.7 126.1h.01M400.2 109.5h.01M399.8 113.0h.01M399.6 124.0h.01M403.5 116.3h.01M399.0 113.8h.01M402.6 115.7h.01M401.8 122.2h.01M400.2 125.8h.01M401.0 121.0h.01M402.6 122.0h.01M404.2 126.2h.01M399.0 131.1h.01M400.4 128.2h.01M398.2 127.3h.01M400.4 131.0h.01M401.7 124.4h.01M401.2 123.9h.01M398.4 115.3h.01M401.2 123.3h.01M401.3 126.0h.01M402.4 130.0h.01M403.7 121.0h.01M401.2 128.3h.01M398.7 132.5h.01M404.0 130.0h.01M400.1 125.7h.01M403.9 128.7h.01M401.7 118.3h.01M401.5 127.2h.01M401.3 126.2h.01M403.3 116.2h.01M399.9 131.4h.01M398.4 118.6h.01M400.9 123.5h.01M400.4 119.8h.01M401.0 127.3h.01M398.3 127.3h.01M402.1 118.8h.01M403.7 110.5h.01M400.1 114.8h.01M403.4 111.1h.01M398.8 129.6h.01M400.6 114.2h.01M400.7 113.9h.01M403.6 121.2h.01M399.3 129.1h.01M398.3 129.8h.01M398.8 108.5h.01M401.9 114.2h.01M399.8 106.9h.01M400.8 120.6h.01M402.2 123.7h.01M400.1 123.2h.01M402.9 118.8h.01M402.3 126.7h.01M402.9 117.1h.01M400.4 113.2h.01M399.1 107.9h.01M398.7 119.3h.01M398.4 121.2h.01M399.0 106.9h.01M400.4 111.8h.01M399.7 124.0h.01M399.2 115.7h.01M402.8 131.9h.01M401.8 111.7h.01M401.0 109.8h.01M400.6 126.3h.01M402.7 123.1h.01M404.0 130.7h.01M399.9 117.7h.01M404.1 121.7h.01M403.3 129.4h.01M399.2 120.7h.01M399.0 102.6h.01M400.8 88.7h.01M416.8 83.6h.01M419.7 79.8h.01M415.0 86.9h.01M419.6 89.6h.01M418.2 87.9h.01M415.3 90.2h.01M415.1 106.1h.01M415.0 68.1h.01M418.7 111.4h.01M416.7 110.4h.01M415.2 91.8h.01M416.4 85.3h.01M420.3 87.3h.01M415.5 91.8h.01M417.3 92.4h.01M415.2 115.3h.01M420.2 91.6h.01M420.4 80.8h.01M418.3 81.7h.01M415.1 87.5h.01M419.7 89.7h.01M418.2 79.7h.01M420.6 95.9h.01M416.9 88.1h.01M416.5 101.1h.01M419.3 109.5h.01M419.6 89.3h.01M419.4 88.0h.01M414.9 80.6h.01M418.1 84.6h.01M415.1 74.2h.01M416.9 105.7h.01M417.3 60.7h.01M433.1 109.3h.01M434.2 58.8h.01M435.7 95.2h.01M432.3 104.4h.01M434.2 98.4h.01M433.5 86.4h.01M436.6 90.9h.01M433.3 90.6h.01M433.0 89.2h.01M433.0 62.9h.01M434.6 73.4h.01M432.3 106.0h.01M435.4 94.4h.01M434.7 102.1h.01M436.6 101.8h.01M436.2 93.4h.01M434.8 79.2h.01M436.9 77.4h.01M432.1 97.8h.01M432.4 104.1h.01M431.7 87.6h.01M433.7 100.6h.01M433.2 94.2h.01M435.7 49.9h.01M434.3 112.3h.01M432.7 71.2h.01M434.5 86.9h.01M431.2 92.1h.01M436.2 56.2h.01M434.6 90.0h.01M435.6 105.1h.01M434.8 85.3h.01M434.1 80.9h.01M431.5 81.7h.01M434.3 123.2h.01M434.4 79.6h.01M433.7 71.9h.01M432.2 124.7h.01M435.6 49.0h.01M435.0 102.8h.01M433.6 56.4h.01M436.0 85.5h.01M433.7 93.0h.01M432.1 95.7h.01M433.7 105.5h.01M436.6 84.7h.01M437.1 94.1h.01M436.1 51.8h.01M433.5 87.0h.01M434.0 82.2h.01M435.3 101.7h.01M433.3 39.7h.01M442.1 116.8h.01M444.9 66.9h.01M444.7 111.3h.01M445.1 116.5h.01M444.3 72.5h.01M439.7 76.3h.01M442.3 100.3h.01M441.3 125.7h.01M442.6 90.3h.01M445.0 79.0h.01M442.1 84.6h.01M444.7 93.4h.01M441.1 115.4h.01M440.8 92.0h.01M444.7 84.0h.01M444.0 114.2h.01M441.8 91.6h.01M442.6 77.5h.01M441.7 73.0h.01M443.0 111.4h.01M460.2 89.6h.01M461.8 86.4h.01M459.5 67.0h.01M461.1 87.8h.01M461.6 71.4h.01M458.5 117.5h.01M457.2 86.0h.01M459.8 50.8h.01M458.1 88.1h.01M459.8 72.6h.01M459.2 52.5h.01M456.2 82.7h.01M460.6 76.2h.01M459.3 80.1h.01M455.9 83.1h.01M460.6 68.8h.01M461.1 61.5h.01M460.0 86.0h.01M461.8 61.7h.01M461.3 88.6h.01M461.7 78.7h.01M461.4 65.4h.01M457.1 56.3h.01M457.1 100.4h.01M459.4 76.1h.01M456.2 103.5h.01M456.2 72.0h.01M461.2 123.7h.01M461.6 64.0h.01M459.0 98.0h.01M457.9 112.4h.01M456.5 99.7h.01M460.5 72.1h.01M458.0 87.2h.01M457.1 57.2h.01M461.9 77.7h.01M456.5 53.5h.01M461.3 82.8h.01M459.4 62.8h.01M460.2 117.5h.01M458.2 70.3h.01M457.8 74.9h.01M459.5 118.1h.01M457.5 90.8h.01M459.5 95.2h.01M455.9 73.2h.01M458.9 76.7h.01M455.9 71.9h.01M461.7 82.9h.01M457.9 75.2h.01M461.3 92.2h.01M460.8 80.8h.01M461.0 70.7h.01M461.0 92.7h.01M459.2 68.1h.01M459.3 75.0h.01M457.6 96.4h.01M460.7 83.6h.01M459.8 88.7h.01M458.0 66.4h.01M458.1 59.5h.01M457.6 78.7h.01M458.8 60.0h.01M457.9 63.1h.01M457.0 73.3h.01M457.5 95.3h.01M457.8 62.2h.01M458.6 110.1h.01M457.2 80.4h.01M458.7 89.6h.01M455.9 110.7h.01M459.2 69.9h.01M460.8 99.5h.01M461.2 68.2h.01M458.2 108.2h.01M461.2 92.2h.01M456.6 85.4h.01M459.6 109.0h.01M456.4 84.1h.01M456.0 68.9h.01M459.9 73.5h.01M461.4 79.0h.01M459.7 44.6h.01M477.6 69.8h.01M477.9 76.6h.01M475.1 72.5h.01M475.8 81.6h.01M473.9 71.1h.01M476.0 63.9h.01M478.0 79.7h.01M475.5 69.5h.01M473.6 104.7h.01M478.1 77.2h.01M477.8 70.9h.01M474.8 70.6h.01M473.4 78.8h.01M474.8 85.4h.01M478.1 72.0h.01M475.3 71.2h.01M476.8 67.2h.01M474.8 83.8h.01M477.3 84.2h.01M475.4 85.6h.01M474.4 81.7h.01M473.4 75.3h.01M473.9 78.5h.01M473.2 77.7h.01M477.0 85.7h.01M477.3 99.8h.01M472.9 91.8h.01M478.0 77.6h.01M474.4 86.0h.01M472.8 76.9h.01M481.2 101.6h.01M486.6 119.0h.01M481.9 89.1h.01M485.2 99.4h.01M483.5 91.8h.01M485.4 88.3h.01M484.0 91.9h.01M484.8 97.3h.01M485.6 97.7h.01M482.3 94.8h.01M485.9 84.0h.01M481.6 110.3h.01M484.9 100.3h.01M482.1 95.2h.01M482.2 105.4h.01M484.3 122.7h.01M482.5 84.3h.01M483.9 115.9h.01M481.3 112.7h.01M482.2 89.5h.01M482.8 113.0h.01M486.4 115.2h.01M485.3 102.8h.01M483.9 124.9h.01M486.1 90.6h.01M484.2 98.8h.01M486.1 112.3h.01M483.4 119.5h.01M480.8 101.8h.01M485.8 113.9h.01M481.7 84.3h.01M481.1 119.6h.01M482.7 102.6h.01M483.4 110.9h.01M483.1 117.8h.01M482.9 107.5h.01M482.2 118.7h.01M484.2 116.3h.01M483.2 92.2h.01M481.4 123.3h.01M484.3 111.5h.01M482.1 94.7h.01M481.2 92.5h.01M482.1 109.1h.01M481.3 103.4h.01M482.6 121.8h.01M481.3 102.7h.01M484.0 107.9h.01M485.4 102.7h.01M485.6 94.6h.01M485.5 88.3h.01M480.6 115.9h.01M485.0 97.3h.01M483.7 115.2h.01M486.1 110.2h.01M483.8 124.6h.01M481.5 102.3h.01M485.1 103.4h.01M483.6 115.4h.01M484.5 96.1h.01M483.1 114.8h.01M484.1 113.4h.01M482.4 94.9h.01M480.8 103.4h.01M483.3 99.6h.01M484.1 85.8h.01M480.9 105.4h.01M484.1 91.0h.01M482.3 89.6h.01M483.1 105.1h.01M483.2 117.7h.01M482.6 114.0h.01M485.9 113.3h.01M485.6 111.9h.01M485.2 101.8h.01M482.5 102.4h.01M483.6 116.1h.01M482.9 111.3h.01M486.0 84.0h.01M480.9 119.2h.01M484.8 105.1h.01M483.6 91.7h.01M485.4 128.7h.01M483.5 94.0h.01M485.7 96.2h.01M484.9 120.5h.01M484.0 87.7h.01M485.2 112.5h.01M482.0 113.8h.01M483.3 97.9h.01M481.1 117.8h.01M485.2 114.8h.01M483.4 103.6h.01M484.2 90.0h.01M483.2 98.2h.01M485.0 103.8h.01M480.9 88.8h.01M481.2 97.7h.01M483.1 109.4h.01M485.2 83.7h.01M483.2 65.4h.01M503.1 83.8h.01M501.7 72.8h.01M497.3 92.0h.01M500.8 66.3h.01M498.4 96.4h.01M498.3 69.0h.01M498.3 84.0h.01M501.4 78.4h.01M498.4 83.8h.01M499.3 73.0h.01M497.3 102.3h.01M501.7 89.2h.01M502.5 82.0h.01M498.7 69.1h.01M501.3 78.3h.01M500.7 94.1h.01M498.0 65.4h.01M501.9 52.1h.01M498.9 84.4h.01M498.5 99.0h.01M501.5 82.3h.01M497.6 76.1h.01M499.6 95.4h.01M502.2 123.1h.01M508.1 91.5h.01M508.3 96.3h.01M507.6 81.0h.01M506.7 126.6h.01M509.9 74.8h.01M509.4 104.1h.01M511.3 70.0h.01M508.2 83.3h.01M509.1 80.5h.01M507.3 105.3h.01M507.1 64.7h.01M506.2 76.5h.01M509.0 70.9h.01M508.0 89.6h.01M505.7 88.5h.01M511.0 87.8h.01M506.2 66.9h.01M509.9 94.0h.01M509.4 71.5h.01M505.9 83.1h.01M507.3 103.9h.01M505.5 96.5h.01M508.9 65.8h.01M509.8 96.8h.01M506.9 82.6h.01M506.4 124.7h.01M506.5 95.7h.01M506.7 120.1h.01M508.1 89.3h.01M508.7 111.9h.01M508.9 110.1h.01M511.0 101.6h.01M507.9 106.0h.01M507.9 116.0h.01M506.4 108.7h.01M508.0 86.7h.01M506.2 62.2h.01M509.6 60.7h.01M509.4 77.5h.01M509.4 82.3h.01M509.4 88.4h.01M509.4 73.1h.01M508.5 105.3h.01M509.2 89.4h.01M509.5 81.0h.01M508.6 98.3h.01M510.8 83.9h.01M508.5 93.8h.01M509.1 78.0h.01M509.5 82.6h.01M511.2 100.6h.01M509.8 80.2h.01M511.1 97.8h.01M510.2 94.8h.01M511.2 106.6h.01M509.6 81.8h.01M508.4 100.7h.01M511.0 65.9h.01M508.7 88.9h.01M509.3 96.3h.01M505.5 77.3h.01M507.2 74.4h.01M508.7 93.9h.01M505.9 69.0h.01M508.7 109.5h.01M506.2 101.2h.01M510.1 69.3h.01M511.1 110.5h.01M509.1 87.0h.01M508.4 97.1h.01M509.8 76.2h.01M509.8 89.2h.01M507.2 96.2h.01M510.7 76.7h.01M509.0 117.1h.01M510.0 97.6h.01M510.6 83.4h.01M507.9 68.5h.01M506.3 84.8h.01M506.9 83.3h.01M507.2 102.7h.01M511.3 93.3h.01M506.5 87.0h.01M506.8 92.0h.01M507.2 121.2h.01M510.2 76.8h.01M510.1 92.8h.01M511.3 88.3h.01M509.2 84.7h.01M506.8 76.6h.01M507.7 106.3h.01M508.7 91.5h.01M506.7 83.9h.01M508.1 82.9h.01M509.8 93.4h.01M510.5 86.6h.01M510.9 76.6h.01M508.4 96.6h.01M510.7 64.4h.01M508.4 96.2h.01M505.4 98.9h.01M509.8 84.8h.01M508.4 93.3h.01M506.0 70.8h.01M509.7 80.1h.01M507.4 60.2h.01M508.7 94.7h.01M507.4 52.6h.01M507.8 129.9h.01M523.2 62.3h.01M522.5 82.0h.01M525.3 89.6h.01M526.0 96.6h.01M525.5 66.0h.01M522.1 69.9h.01M526.5 80.1h.01M525.2 67.6h.01M523.7 80.3h.01M526.1 78.0h.01M523.5 61.2h.01M531.5 133.6h.01M535.5 133.5h.01M534.9 125.8h.01M536.0 133.4h.01M534.0 127.4h.01M534.6 134.2h.01M531.1 133.9h.01M534.3 125.6h.01M530.1 131.2h.01M530.4 133.7h.01M533.3 133.8h.01M533.7 126.3h.01M534.6 125.9h.01M532.9 133.4h.01M534.4 129.2h.01M534.8 113.4h.01" stroke="#ff0000" stroke-opacity="0.45" stroke-width="1.7" stroke-linecap="square" fill="none"/><path d="M36.2 104.5h.01M38.1 91.8h.01M37.1 110.3h.01M36.3 129.2h.01M39.0 114.3h.01M38.8 123.2h.01M39.5 123.8h.01M40.2 120.1h.01M35.8 109.2h.01M35.7 118.3h.01M35.6 127.9h.01M37.5 107.1h.01M38.2 120.2h.01M37.0 127.9h.01M38.6 107.2h.01M41.3 70.9h.01M48.1 73.1h.01M47.0 96.0h.01M49.1 74.9h.01M46.4 85.0h.01M44.2 72.4h.01M48.2 86.2h.01M45.7 119.7h.01M46.7 70.9h.01M45.2 112.2h.01M48.9 72.8h.01M46.5 101.4h.01M48.6 71.8h.01M44.6 72.6h.01M47.6 96.9h.01M48.4 89.1h.01M44.4 72.5h.01M44.1 127.0h.01M47.3 89.2h.01M47.5 67.4h.01M49.4 114.6h.01M47.7 72.7h.01M45.0 113.0h.01M44.9 107.5h.01M49.5 81.4h.01M48.2 94.6h.01M45.0 74.4h.01M46.0 79.6h.01M44.0 66.4h.01M49.7 66.8h.01M48.1 90.8h.01M45.7 109.8h.01M49.4 106.2h.01M48.6 68.1h.01M45.9 72.5h.01M43.8 117.5h.01M43.9 108.9h.01M49.1 72.8h.01M45.2 104.4h.01M48.2 79.4h.01M45.1 74.2h.01M45.2 91.2h.01M48.5 114.6h.01M45.6 79.7h.01M44.9 74.5h.01M47.0 116.8h.01M45.3 69.5h.01M46.3 72.9h.01M48.2 95.1h.01M45.4 71.1h.01M45.2 72.9h.01M45.6 71.9h.01M48.5 84.6h.01M48.6 101.9h.01M44.4 77.1h.01M45.9 67.2h.01M49.3 125.9h.01M45.9 75.9h.01M47.6 117.5h.01M44.8 69.4h.01M44.0 111.0h.01M44.2 114.2h.01M45.5 104.6h.01M46.2 92.5h.01M48.0 85.9h.01M48.6 76.2h.01M43.8 74.5h.01M47.4 104.2h.01M46.8 78.1h.01M49.5 72.0h.01M46.6 70.9h.01M47.4 78.4h.01M46.1 93.5h.01M46.1 83.6h.01M48.0 68.2h.01M43.9 103.5h.01M47.4 70.5h.01M47.6 82.5h.01M46.6 74.2h.01M44.7 70.3h.01M44.2 98.4h.01M44.2 50.8h.01M46.7 131.5h.01M62.0 108.3h.01M63.1 104.7h.01M66.1 111.7h.01M64.7 96.5h.01M65.1 105.3h.01M64.8 106.0h.01M61.8 92.7h.01M62.9 77.9h.01M65.9 106.3h.01M65.7 78.2h.01M62.0 103.0h.01M61.6 97.3h.01M65.4 89.8h.01M62.3 57.8h.01M60.8 94.2h.01M60.9 85.1h.01M61.9 83.3h.01M61.1 112.3h.01M60.9 89.6h.01M62.3 126.0h.01M65.9 84.1h.01M64.4 93.3h.01M61.6 92.1h.01M63.2 87.1h.01M64.1 82.5h.01M61.2 105.6h.01M63.5 69.1h.01M62.0 96.4h.01M62.6 116.4h.01M60.9 114.0h.01M62.3 73.3h.01M65.2 86.6h.01M65.6 101.3h.01M61.1 103.7h.01M62.0 96.7h.01M64.5 95.5h.01M60.2 121.4h.01M65.3 93.5h.01M64.9 75.9h.01M64.3 125.3h.01M60.7 59.2h.01M64.6 112.3h.01M64.3 101.6h.01M64.7 77.9h.01M63.4 85.7h.01M60.5 61.5h.01M61.0 89.7h.01M63.2 58.3h.01M65.5 86.1h.01M63.4 99.9h.01M62.9 83.3h.01M62.3 91.9h.01M64.4 59.6h.01M62.3 92.5h.01M64.7 81.2h.01M60.8 98.4h.01M60.2 68.6h.01M64.1 119.5h.01M64.8 85.3h.01M65.2 107.2h.01M64.6 83.5h.01M62.4 79.4h.01M60.4 63.4h.01M65.6 83.9h.01M62.0 68.7h.01M62.8 92.4h.01M61.3 60.7h.01M64.9 93.3h.01M62.7 74.6h.01M65.6 67.1h.01M62.2 81.0h.01M66.0 115.1h.01M63.9 74.1h.01M61.9 93.3h.01M62.0 101.1h.01M64.2 89.7h.01M63.6 115.5h.01M60.8 107.1h.01M65.3 65.9h.01M63.1 98.7h.01M63.2 55.9h.01M62.8 68.9h.01M60.8 126.5h.01M62.5 122.0h.01M61.0 95.5h.01M60.2 101.1h.01M62.7 100.0h.01M65.7 109.5h.01M64.7 92.2h.01M64.6 109.1h.01M60.8 93.4h.01M64.2 105.3h.01M63.6 69.0h.01M61.3 80.1h.01M61.0 110.0h.01M65.8 64.6h.01M65.4 70.7h.01M64.2 89.7h.01M62.5 66.6h.01M61.5 115.3h.01M62.3 89.5h.01M60.2 100.9h.01M66.1 96.1h.01M61.8 119.1h.01M65.9 87.6h.01M65.4 70.0h.01M61.8 93.0h.01M62.0 88.1h.01M62.3 54.4h.01M62.1 93.1h.01M61.6 78.9h.01M62.9 111.7h.01M60.6 93.2h.01M65.8 102.3h.01M61.2 89.6h.01M62.7 67.9h.01M61.8 105.3h.01M64.4 105.3h.01M65.3 103.6h.01M63.8 100.4h.01M61.0 123.8h.01M65.7 90.1h.01M62.6 53.9h.01M60.4 97.2h.01M61.7 82.9h.01M66.1 76.1h.01M60.7 87.1h.01M65.0 59.3h.01M64.1 110.4h.01M64.4 85.1h.01M66.0 70.1h.01M60.9 70.3h.01M62.3 101.5h.01M60.3 76.7h.01M61.2 86.2h.01M64.6 90.4h.01M61.6 86.8h.01M65.0 94.1h.01M64.6 91.4h.01M60.5 107.6h.01M63.9 84.4h.01M61.5 86.8h.01M66.1 79.1h.01M65.4 118.1h.01M62.1 79.3h.01M63.7 91.6h.01M65.5 81.1h.01M65.3 52.8h.01M66.0 84.5h.01M60.7 89.0h.01M65.7 58.3h.01M61.6 80.0h.01M61.5 51.2h.01M62.1 102.2h.01M62.7 90.8h.01M63.2 92.7h.01M62.3 107.2h.01M61.8 81.3h.01M63.2 95.0h.01M64.3 82.3h.01M66.0 76.0h.01M62.7 87.9h.01M61.0 96.9h.01M61.7 93.8h.01M60.9 101.5h.01M64.3 108.6h.01M66.0 81.7h.01M63.7 103.8h.01M62.4 74.2h.01M64.2 94.2h.01M63.8 81.2h.01M63.3 94.4h.01M63.3 101.4h.01M61.2 79.8h.01M65.5 79.6h.01M65.1 73.8h.01M62.3 106.1h.01M62.5 61.1h.01M64.9 67.6h.01M63.3 81.8h.01M60.3 104.3h.01M64.5 78.7h.01M60.7 101.1h.01M64.9 100.1h.01M62.4 101.2h.01M65.0 95.2h.01M61.3 66.7h.01M62.1 92.6h.01M63.1 93.8h.01M62.9 113.1h.01M65.5 114.3h.01M64.2 75.6h.01M63.5 71.0h.01M60.6 98.3h.01M63.5 83.6h.01M60.5 120.1h.01M65.1 98.5h.01M60.2 118.8h.01M61.7 122.6h.01M60.5 80.7h.01M61.7 116.3h.01M62.9 129.2h.01M61.4 93.0h.01M63.4 77.8h.01M64.9 83.0h.01M62.9 94.4h.01M62.8 76.3h.01M63.7 89.8h.01M63.1 107.2h.01M65.2 106.9h.01M60.7 111.8h.01M61.7 126.4h.01M64.3 79.3h.01M63.6 81.4h.01M62.1 91.0h.01M62.5 45.2h.01M63.4 48.7h.01M64.2 129.5h.01M76.9 78.6h.01M78.7 103.0h.01M77.9 86.4h.01M81.3 61.8h.01M80.4 62.8h.01M80.2 69.8h.01M82.4 78.8h.01M77.4 71.7h.01M78.7 89.8h.01M81.1 95.2h.01M77.8 55.5h.01M81.1 52.3h.01M77.0 58.8h.01M80.4 76.6h.01M82.6 63.7h.01M82.0 76.0h.01M77.6 71.9h.01M81.4 75.0h.01M80.0 91.5h.01M82.1 92.2h.01M81.0 61.5h.01M76.7 75.4h.01M81.6 78.7h.01M79.8 98.1h.01M79.6 79.6h.01M78.9 81.5h.01M79.4 86.3h.01M77.0 62.8h.01M80.7 77.9h.01M79.5 62.3h.01M78.1 78.4h.01M81.6 84.2h.01M82.5 66.2h.01M82.2 96.3h.01M82.2 69.6h.01M77.3 63.1h.01M77.6 49.4h.01M82.1 43.1h.01M88.1 78.9h.01M87.1 88.1h.01M88.8 60.8h.01M89.0 95.7h.01M90.3 59.2h.01M85.9 69.4h.01M89.4 61.7h.01M86.1 80.1h.01M88.8 91.6h.01M85.3 65.0h.01M87.8 63.7h.01M86.0 88.7h.01M87.6 87.2h.01M89.9 99.3h.01M89.7 84.8h.01M90.3 81.6h.01M86.0 108.4h.01M98.9 110.0h.01M96.9 96.3h.01M94.8 76.3h.01M93.2 100.1h.01M94.7 98.1h.01M94.3 89.3h.01M97.4 113.2h.01M98.8 96.2h.01M97.2 108.1h.01M95.1 95.2h.01M95.6 89.3h.01M93.6 125.2h.01M96.0 98.5h.01M96.0 93.1h.01M93.6 111.2h.01M95.7 93.1h.01M98.3 109.2h.01M95.3 116.7h.01M94.9 77.1h.01M94.0 110.0h.01M97.2 93.9h.01M94.2 95.9h.01M95.1 83.4h.01M95.2 96.7h.01M95.1 77.1h.01M95.4 111.0h.01M94.8 63.9h.01M93.3 119.7h.01M94.5 59.9h.01M98.6 95.1h.01M98.7 107.4h.01M95.4 86.3h.01M99.0 96.8h.01M97.4 105.2h.01M96.8 109.1h.01M95.7 115.0h.01M99.1 80.5h.01M95.2 97.8h.01M93.3 87.2h.01M98.4 76.3h.01M98.3 106.5h.01M95.4 89.0h.01M96.2 100.4h.01M96.6 91.2h.01M98.7 111.7h.01M98.6 105.9h.01M97.3 101.8h.01M94.1 56.5h.01M93.6 109.8h.01M96.6 90.0h.01M93.7 104.3h.01M98.4 97.7h.01M97.0 98.8h.01M97.1 59.5h.01M99.1 78.7h.01M95.9 93.0h.01M93.8 114.6h.01M99.1 108.6h.01M95.4 96.3h.01M93.7 91.0h.01M95.9 67.5h.01M94.2 108.9h.01M96.1 102.6h.01M97.8 121.2h.01M96.8 84.9h.01M98.3 95.3h.01M97.2 89.9h.01M98.9 111.1h.01M95.6 94.9h.01M94.7 111.4h.01M94.1 112.6h.01M94.0 106.0h.01M95.0 104.2h.01M96.9 122.5h.01M98.8 103.8h.01M95.3 102.9h.01M99.0 66.1h.01M96.2 91.2h.01M98.7 107.0h.01M93.4 94.4h.01M93.2 92.8h.01M93.2 100.5h.01M98.7 108.7h.01M98.9 106.8h.01M99.0 89.2h.01M95.3 90.8h.01M96.9 90.8h.01M95.3 61.2h.01M94.0 103.0h.01M96.6 108.8h.01M93.5 116.2h.01M98.1 79.4h.01M95.1 107.1h.01M95.8 102.3h.01M93.5 93.0h.01M95.7 117.6h.01M94.1 112.5h.01M95.7 82.9h.01M97.0 95.9h.01M95.1 108.9h.01M94.1 71.4h.01M98.5 110.3h.01M93.7 113.2h.01M97.2 104.2h.01M94.1 104.9h.01M93.7 119.5h.01M96.1 103.1h.01M96.0 95.6h.01M97.3 95.2h.01M97.9 75.6h.01M97.5 72.3h.01M94.8 48.3h.01M107.1 81.1h.01M102.6 64.4h.01M105.2 82.1h.01M103.3 74.3h.01M102.2 89.3h.01M106.1 68.6h.01M104.8 101.4h.01M106.3 63.9h.01M107.0 92.0h.01M102.4 72.3h.01M104.0 82.2h.01M102.6 67.7h.01M101.8 76.4h.01M103.1 91.9h.01M107.3 84.2h.01M106.2 60.1h.01M104.7 72.3h.01M104.2 70.1h.01M103.1 82.5h.01M103.8 96.5h.01M104.4 56.6h.01M106.6 99.0h.01M105.3 71.7h.01M104.2 89.2h.01M103.5 102.2h.01M104.3 79.0h.01M101.4 78.0h.01M105.0 78.1h.01M106.6 85.0h.01M105.4 93.7h.01M104.4 91.6h.01M102.3 88.2h.01M104.6 98.6h.01M107.0 80.8h.01M104.6 78.6h.01M102.7 99.3h.01M101.8 72.3h.01M105.8 88.2h.01M102.9 92.0h.01M102.9 90.4h.01M105.7 92.0h.01M102.0 62.0h.01M101.6 76.9h.01M103.3 50.5h.01M113.1 73.2h.01M110.0 102.0h.01M110.2 84.9h.01M113.2 67.5h.01M114.9 96.5h.01M115.0 60.8h.01M114.2 80.5h.01M113.0 86.6h.01M112.4 85.2h.01M112.5 84.4h.01M109.7 72.7h.01M109.8 67.4h.01M111.0 88.2h.01M113.1 90.5h.01M112.7 74.3h.01M113.0 66.0h.01M112.6 84.6h.01M112.9 97.1h.01M110.4 79.4h.01M114.4 78.3h.01M110.9 72.9h.01M114.8 73.4h.01M113.4 56.0h.01M115.1 84.0h.01M113.0 81.8h.01M114.8 62.8h.01M110.4 73.5h.01M111.3 79.7h.01M110.3 85.1h.01M114.1 96.1h.01M113.6 80.9h.01M111.7 73.3h.01M112.8 84.7h.01M111.3 66.7h.01M114.8 80.1h.01M115.3 79.7h.01M111.2 77.4h.01M112.2 81.7h.01M115.0 62.6h.01M115.2 68.7h.01M112.3 73.8h.01M112.5 71.8h.01M114.9 77.6h.01M114.5 78.7h.01M112.4 83.7h.01M110.2 73.2h.01M113.1 102.2h.01M110.3 90.0h.01M115.5 96.0h.01M115.3 71.7h.01M111.5 90.2h.01M110.9 76.1h.01M115.0 72.5h.01M112.8 73.0h.01M111.9 65.0h.01M112.9 76.2h.01M109.8 77.0h.01M111.0 88.3h.01M113.9 67.1h.01M112.0 55.7h.01M112.8 109.3h.01M129.3 114.7h.01M128.2 116.3h.01M127.1 105.2h.01M126.7 115.9h.01M131.7 84.0h.01M127.6 103.1h.01M128.0 77.2h.01M147.9 103.5h.01M145.8 92.8h.01M145.5 68.2h.01M147.5 121.5h.01M143.3 97.4h.01M145.3 90.0h.01M145.3 74.4h.01M148.3 84.6h.01M144.7 96.9h.01M148.3 83.9h.01M142.9 113.0h.01M146.2 73.2h.01M145.4 88.9h.01M146.3 106.6h.01M147.5 95.0h.01M148.5 101.9h.01M146.2 86.0h.01M144.6 83.5h.01M147.6 68.7h.01M148.2 78.6h.01M148.3 82.8h.01M146.0 93.3h.01M147.9 120.5h.01M148.3 84.0h.01M146.8 75.5h.01M146.8 95.1h.01M147.4 86.3h.01M145.8 90.3h.01M146.6 97.9h.01M143.8 82.8h.01M143.5 86.0h.01M146.1 105.1h.01M143.4 78.5h.01M143.6 101.8h.01M142.7 87.6h.01M143.9 96.4h.01M145.2 102.7h.01M143.6 98.5h.01M143.7 97.3h.01M143.2 94.7h.01M146.3 85.3h.01M146.3 84.3h.01M148.0 98.9h.01M146.4 82.4h.01M144.9 85.7h.01M143.8 98.5h.01M145.5 105.2h.01M142.6 83.6h.01M145.8 90.0h.01M148.4 90.1h.01M147.3 82.4h.01M145.6 104.0h.01M143.3 98.0h.01M145.2 95.0h.01M146.8 98.3h.01M146.4 83.7h.01M142.7 88.6h.01M148.0 81.6h.01M147.0 78.1h.01M142.7 72.4h.01M144.0 80.3h.01M148.5 87.1h.01M148.5 56.8h.01M147.1 90.9h.01M143.0 91.8h.01M146.8 85.0h.01M147.1 74.4h.01M147.0 98.8h.01M143.2 83.7h.01M147.0 93.5h.01M146.3 92.4h.01M143.5 81.0h.01M144.2 85.3h.01M145.5 82.6h.01M147.3 109.1h.01M143.4 82.8h.01M142.7 119.0h.01M143.8 83.0h.01M145.1 69.3h.01M147.0 97.9h.01M145.3 93.7h.01M145.6 102.3h.01M146.6 70.0h.01M142.7 96.7h.01M147.2 83.7h.01M147.5 92.4h.01M146.0 83.6h.01M147.4 113.0h.01M146.4 60.6h.01M145.8 94.5h.01M144.7 55.8h.01M159.4 108.8h.01M162.2 69.7h.01M163.4 93.7h.01M164.6 78.0h.01M160.6 112.8h.01M164.9 78.0h.01M162.2 76.3h.01M159.2 116.6h.01M164.6 82.5h.01M159.6 48.1h.01M168.9 51.7h.01M172.5 76.4h.01M170.2 64.0h.01M168.1 62.6h.01M171.6 74.7h.01M169.4 83.0h.01M168.3 55.8h.01M171.0 76.4h.01M171.9 75.9h.01M167.8 64.5h.01M172.6 50.5h.01M170.3 80.3h.01M173.0 59.0h.01M168.0 71.4h.01M171.9 92.2h.01M172.4 69.6h.01M169.7 69.1h.01M172.7 61.9h.01M171.3 77.0h.01M170.2 50.2h.01M170.7 68.6h.01M172.3 77.4h.01M172.3 59.5h.01M169.4 82.1h.01M173.3 48.0h.01M173.0 68.4h.01M171.1 47.8h.01M170.5 54.0h.01M172.1 61.4h.01M172.6 62.3h.01M169.9 53.2h.01M170.5 54.6h.01M170.6 67.7h.01M169.5 75.4h.01M170.5 82.8h.01M169.1 65.0h.01M169.9 108.4h.01M189.0 98.6h.01M186.5 84.7h.01M185.2 101.4h.01M186.8 92.8h.01M189.6 109.6h.01M188.9 106.1h.01M184.9 108.6h.01M187.4 89.2h.01M187.1 86.6h.01M187.5 103.7h.01M184.2 93.3h.01M187.2 81.3h.01M186.1 94.6h.01M188.8 81.7h.01M186.0 93.3h.01M184.0 95.6h.01M184.6 73.6h.01M188.3 99.0h.01M189.3 91.5h.01M185.7 72.8h.01M188.4 83.2h.01M186.9 112.4h.01M188.1 109.5h.01M183.9 110.6h.01M186.7 91.9h.01M185.4 78.8h.01M189.2 94.0h.01M187.1 113.8h.01M186.9 101.3h.01M187.6 65.9h.01M206.2 65.5h.01M201.0 102.8h.01M202.0 47.1h.01M206.1 111.5h.01M204.1 87.2h.01M202.2 50.7h.01M201.1 98.3h.01M206.1 92.4h.01M202.3 85.0h.01M205.9 91.6h.01M203.9 98.0h.01M201.1 93.4h.01M204.0 84.6h.01M202.9 85.2h.01M204.6 86.2h.01M202.3 94.8h.01M205.4 88.5h.01M202.6 104.2h.01M204.1 87.8h.01M200.4 90.3h.01M201.7 56.5h.01M205.6 52.6h.01M205.4 79.8h.01M201.0 89.1h.01M206.1 80.4h.01M200.7 74.1h.01M203.9 91.3h.01M202.5 62.6h.01M202.0 95.8h.01M203.3 93.5h.01M203.7 108.1h.01M200.5 88.6h.01M203.2 87.3h.01M204.8 94.0h.01M204.9 79.6h.01M204.2 69.6h.01M203.3 105.5h.01M200.6 123.1h.01M203.8 64.2h.01M201.7 78.9h.01M205.6 86.4h.01M201.1 66.3h.01M206.2 90.9h.01M205.6 88.7h.01M204.5 90.2h.01M204.7 75.6h.01M206.3 90.1h.01M206.1 61.9h.01M203.0 45.6h.01M205.4 74.5h.01M204.8 108.9h.01M203.5 88.4h.01M200.3 73.5h.01M202.5 64.8h.01M200.9 115.2h.01M205.1 47.5h.01M204.7 88.0h.01M202.6 89.4h.01M202.4 69.6h.01M205.9 76.2h.01M204.6 92.8h.01M205.4 98.3h.01M203.4 100.9h.01M204.1 96.1h.01M202.6 91.5h.01M204.4 119.9h.01M206.3 91.5h.01M204.2 90.1h.01M202.7 69.9h.01M202.5 66.2h.01M206.2 65.8h.01M204.9 92.8h.01M201.8 63.4h.01M201.4 82.9h.01M203.6 99.4h.01M204.8 55.0h.01M203.6 77.0h.01M200.4 66.6h.01M205.7 115.7h.01M203.8 74.0h.01M201.8 88.5h.01M205.9 110.0h.01M202.4 80.3h.01M204.7 74.7h.01M205.9 72.0h.01M200.8 103.4h.01M204.1 74.7h.01M202.7 51.7h.01M206.1 60.6h.01M202.4 94.4h.01M203.8 96.2h.01M204.2 119.8h.01M202.3 108.2h.01M203.1 67.3h.01M202.7 76.5h.01M200.6 54.4h.01M204.8 83.9h.01M205.9 53.3h.01M203.6 80.4h.01M203.1 84.1h.01M202.2 66.2h.01M204.5 78.2h.01M203.8 50.6h.01M205.4 45.5h.01M217.1 57.1h.01M218.7 103.7h.01M219.8 71.5h.01M217.6 69.7h.01M217.1 100.6h.01M217.5 96.5h.01M221.0 76.7h.01M218.9 86.5h.01M219.6 98.5h.01M218.7 60.7h.01M221.4 74.4h.01M218.3 75.3h.01M218.7 56.3h.01M221.5 94.4h.01M219.3 57.6h.01M217.8 83.4h.01M219.2 83.6h.01M218.8 97.3h.01M220.4 76.7h.01M222.6 121.3h.01M226.3 88.4h.01M229.6 62.4h.01M227.6 111.9h.01M226.5 91.0h.01M225.2 78.5h.01M227.9 70.6h.01M226.8 66.7h.01M227.5 99.1h.01M226.4 85.8h.01M227.3 102.4h.01M225.9 69.6h.01M227.7 115.0h.01M227.3 47.8h.01M229.6 94.2h.01M226.4 61.4h.01M230.6 95.9h.01M225.6 72.5h.01M230.0 53.5h.01M226.9 84.3h.01M226.3 60.2h.01M230.3 91.5h.01M225.7 92.5h.01M229.4 98.2h.01M227.8 89.0h.01M225.3 95.5h.01M228.6 107.8h.01M225.7 103.0h.01M228.3 109.8h.01M229.8 102.8h.01M225.2 49.1h.01M225.2 56.9h.01M225.9 90.5h.01M225.4 98.9h.01M230.6 62.9h.01M227.4 54.9h.01M228.4 101.1h.01M226.2 94.7h.01M228.6 109.5h.01M225.3 96.7h.01M227.6 112.2h.01M230.5 106.2h.01M230.5 70.2h.01M229.7 58.5h.01M228.5 76.8h.01M226.7 86.7h.01M228.5 105.1h.01M230.8 102.9h.01M227.2 59.3h.01M225.7 84.7h.01M226.9 89.1h.01M225.1 117.8h.01M227.9 57.7h.01M230.9 66.7h.01M228.3 52.2h.01M227.7 96.8h.01M227.4 118.5h.01M230.1 59.3h.01M228.4 75.7h.01M229.1 114.1h.01M225.6 78.8h.01M227.3 81.6h.01M227.4 85.7h.01M227.1 87.9h.01M225.3 49.6h.01M227.8 74.9h.01M225.8 66.8h.01M226.4 76.8h.01M230.6 73.5h.01M229.7 74.9h.01M225.1 95.3h.01M226.6 107.4h.01M225.4 75.5h.01M229.9 109.6h.01M229.5 86.7h.01M227.8 93.0h.01M227.9 117.1h.01M226.9 88.2h.01M226.9 87.5h.01M226.6 52.4h.01M229.3 84.9h.01M229.1 69.9h.01M225.4 82.7h.01M226.6 46.8h.01M225.6 46.8h.01M237.2 130.5h.01M238.9 127.5h.01M238.1 126.8h.01M234.7 129.8h.01M236.5 121.1h.01M235.9 124.2h.01M239.1 124.0h.01M237.7 129.8h.01M235.3 130.3h.01M235.1 130.0h.01M237.9 129.8h.01M236.8 123.6h.01M238.2 97.2h.01M249.8 127.1h.01M251.0 121.6h.01M252.2 123.4h.01M253.9 113.7h.01M253.3 110.6h.01M250.4 110.3h.01M251.4 110.3h.01M251.0 121.1h.01M249.9 112.8h.01M249.9 126.0h.01M253.0 114.4h.01M255.2 104.4h.01M252.7 114.9h.01M254.6 120.0h.01M251.9 120.1h.01M252.7 125.4h.01M252.9 111.7h.01M251.2 114.1h.01M252.5 125.8h.01M252.2 106.4h.01M252.3 120.2h.01M251.6 127.0h.01M251.6 124.5h.01M253.4 125.4h.01M253.3 116.0h.01M249.9 115.8h.01M255.0 118.1h.01M251.8 102.9h.01M250.1 122.5h.01M251.4 121.7h.01M254.1 127.1h.01M252.5 123.0h.01M253.6 123.8h.01M255.3 119.2h.01M255.7 109.7h.01M251.4 121.5h.01M252.2 107.5h.01M254.5 129.8h.01M254.1 118.9h.01M255.6 127.7h.01M255.1 121.3h.01M250.8 113.4h.01M252.5 127.4h.01M252.7 94.5h.01M252.7 104.5h.01M251.8 128.1h.01M250.5 108.6h.01M250.2 125.7h.01M254.6 119.5h.01M249.9 115.2h.01M250.6 129.3h.01M255.5 122.8h.01M254.5 124.0h.01M255.4 122.8h.01M250.9 123.6h.01M250.6 101.0h.01M253.8 124.0h.01M250.1 129.8h.01M252.7 119.0h.01M252.3 112.5h.01M251.0 117.4h.01M252.8 119.4h.01M252.5 112.3h.01M251.5 116.8h.01M254.9 98.6h.01M251.2 126.6h.01M255.5 101.4h.01M250.1 106.8h.01M255.5 112.9h.01M251.4 125.1h.01M254.7 121.7h.01M252.8 114.4h.01M252.8 127.7h.01M252.4 111.2h.01M254.6 126.9h.01M253.1 114.1h.01M254.6 129.1h.01M253.3 119.4h.01M253.5 117.9h.01M254.6 117.8h.01M251.5 96.7h.01M251.3 120.2h.01M255.3 127.0h.01M251.5 112.1h.01M255.1 122.4h.01M254.3 111.7h.01M250.1 116.8h.01M253.7 123.3h.01M252.6 108.7h.01M255.3 120.2h.01M251.0 130.7h.01M251.6 113.4h.01M254.7 112.8h.01M251.2 125.1h.01M252.0 125.5h.01M255.6 123.6h.01M250.7 112.0h.01M254.0 120.0h.01M250.8 124.4h.01M250.9 123.8h.01M250.3 115.6h.01M251.9 114.1h.01M255.6 129.0h.01M253.9 110.3h.01M251.0 125.2h.01M252.8 87.6h.01M252.3 57.7h.01M269.4 124.0h.01M267.1 129.8h.01M272.1 122.3h.01M272.2 121.8h.01M267.7 122.7h.01M271.1 133.0h.01M267.8 130.3h.01M271.2 114.8h.01M270.4 117.9h.01M268.1 130.5h.01M268.1 116.3h.01M266.7 123.4h.01M267.4 131.3h.01M269.0 126.4h.01M271.0 123.2h.01M272.0 125.3h.01M271.3 115.0h.01M266.7 126.6h.01M268.0 130.3h.01M270.5 110.0h.01M269.5 111.6h.01M269.3 109.8h.01M268.8 130.0h.01M271.4 120.1h.01M270.8 127.5h.01M266.6 115.7h.01M269.5 130.3h.01M272.0 117.5h.01M270.9 120.2h.01M271.5 132.2h.01M269.6 125.2h.01M271.9 125.1h.01M266.6 117.7h.01M270.2 131.1h.01M270.1 126.3h.01M268.6 122.3h.01M268.7 126.5h.01M266.9 130.6h.01M271.5 129.6h.01M270.5 118.4h.01M268.8 132.4h.01M270.5 123.7h.01M271.4 108.1h.01M267.3 121.9h.01M271.8 122.9h.01M271.8 127.9h.01M267.8 130.3h.01M271.5 126.1h.01M270.6 119.9h.01M266.7 129.9h.01M270.4 131.8h.01M268.9 118.6h.01M268.2 127.1h.01M267.2 130.4h.01M267.7 129.8h.01M268.8 130.9h.01M271.0 130.6h.01M269.3 72.1h.01M287.7 85.1h.01M284.9 59.9h.01M288.0 75.7h.01M288.1 73.2h.01M284.6 94.9h.01M287.1 67.1h.01M288.0 60.0h.01M284.1 87.0h.01M285.8 62.9h.01M283.5 91.2h.01M287.8 76.1h.01M286.3 64.7h.01M286.8 64.3h.01M287.7 74.1h.01M284.0 74.4h.01M286.3 75.8h.01M285.2 58.5h.01M283.0 89.2h.01M283.7 87.2h.01M283.7 60.1h.01M285.7 69.6h.01M287.8 82.9h.01M285.7 68.8h.01M283.9 87.4h.01M286.6 70.1h.01M287.4 68.4h.01M282.8 71.0h.01M285.5 65.0h.01M284.1 45.6h.01M287.3 68.5h.01M287.3 81.3h.01M283.8 70.1h.01M282.8 84.3h.01M282.9 43.6h.01M296.8 129.1h.01M295.3 128.4h.01M292.4 121.5h.01M296.6 123.4h.01M295.2 116.8h.01M292.9 132.4h.01M294.1 130.9h.01M292.9 123.3h.01M292.8 117.2h.01M293.0 119.6h.01M294.1 118.9h.01M293.7 121.7h.01M291.4 113.6h.01M292.8 126.4h.01M291.2 126.1h.01M295.9 126.9h.01M291.5 116.4h.01M291.5 123.4h.01M293.8 116.1h.01M292.0 119.2h.01M294.6 126.5h.01M295.1 113.9h.01M291.7 115.8h.01M291.7 129.1h.01M291.0 129.4h.01M291.2 116.2h.01M296.9 121.8h.01M293.1 129.1h.01M293.6 120.6h.01M296.5 127.0h.01M291.9 129.1h.01M292.4 124.8h.01M296.5 119.3h.01M293.4 116.5h.01M292.2 115.7h.01M296.0 118.4h.01M297.0 116.6h.01M294.8 128.5h.01M293.9 130.6h.01M293.1 122.3h.01M295.2 119.0h.01M292.8 124.8h.01M295.1 129.5h.01M292.3 132.3h.01M296.7 114.7h.01M294.4 118.6h.01M292.3 126.3h.01M296.2 116.9h.01M296.2 130.1h.01M295.8 128.6h.01M294.2 115.8h.01M295.8 129.2h.01M293.4 118.6h.01M295.3 129.4h.01M293.5 123.4h.01M294.0 129.3h.01M291.5 126.2h.01M293.4 121.3h.01M291.5 128.3h.01M294.9 123.1h.01M292.1 124.7h.01M293.7 119.3h.01M295.2 119.6h.01M293.6 121.8h.01M296.3 130.8h.01M292.2 121.8h.01M294.2 115.9h.01M293.7 120.5h.01M291.8 123.6h.01M294.9 130.2h.01M296.8 120.0h.01M294.6 115.1h.01M296.2 126.9h.01M294.0 127.7h.01M293.9 125.3h.01M293.9 120.8h.01M293.5 125.5h.01M294.2 126.6h.01M296.5 112.1h.01M292.5 113.0h.01M296.3 115.6h.01M291.2 115.5h.01M296.9 116.4h.01M293.8 124.3h.01M294.7 117.6h.01M292.2 111.9h.01M292.1 117.9h.01M294.2 120.8h.01M292.8 125.9h.01M292.5 114.7h.01M292.3 125.1h.01M291.9 113.3h.01M295.1 116.2h.01M292.6 125.9h.01M296.1 118.8h.01M292.7 127.1h.01M291.1 129.0h.01M296.4 124.1h.01M296.6 126.5h.01M295.1 115.4h.01M291.6 118.5h.01M293.5 120.2h.01M295.3 96.4h.01M299.4 121.9h.01M300.4 105.4h.01M303.8 121.7h.01M304.2 127.9h.01M299.9 128.4h.01M301.2 124.4h.01M303.1 127.1h.01M300.4 111.6h.01M300.3 119.7h.01M302.4 107.1h.01M301.9 123.9h.01M300.8 124.3h.01M305.0 120.3h.01M304.3 108.9h.01M301.9 124.7h.01M301.7 117.7h.01M300.6 129.1h.01M304.0 128.0h.01M301.4 117.6h.01M303.7 111.0h.01M301.0 128.2h.01M302.5 116.7h.01M303.7 107.6h.01M302.6 120.7h.01M303.1 129.8h.01M299.6 109.3h.01M302.9 106.8h.01M300.0 128.7h.01M305.2 127.5h.01M304.3 112.3h.01M300.0 127.9h.01M299.4 129.2h.01M304.1 101.5h.01M300.1 128.1h.01M304.0 113.9h.01M302.7 129.3h.01M302.7 111.7h.01M303.4 103.2h.01M302.4 126.5h.01M299.3 118.5h.01M304.6 113.9h.01M299.3 103.1h.01M299.3 131.9h.01M301.9 118.9h.01M302.4 114.0h.01M303.3 122.7h.01M301.5 119.1h.01M304.3 127.1h.01M301.4 122.4h.01M305.1 105.8h.01M304.1 123.0h.01M303.8 128.4h.01M300.6 124.7h.01M301.2 120.6h.01M301.3 108.1h.01M304.7 120.3h.01M301.2 123.4h.01M300.4 129.4h.01M303.4 114.8h.01M301.2 127.1h.01M303.6 128.4h.01M301.2 123.7h.01M302.5 126.9h.01M304.5 125.7h.01M304.9 122.8h.01M302.2 103.8h.01M301.6 114.7h.01M301.8 129.5h.01M303.4 110.0h.01M301.7 108.0h.01M300.5 121.4h.01M305.1 102.7h.01M301.3 129.8h.01M302.5 84.2h.01M301.1 132.6h.01M319.9 103.8h.01M318.6 83.7h.01M318.1 118.3h.01M316.0 94.7h.01M318.7 120.4h.01M317.2 117.2h.01M318.1 110.1h.01M320.8 105.8h.01M318.1 80.6h.01M318.2 110.7h.01M317.3 89.5h.01M318.3 99.9h.01M321.0 119.4h.01M317.2 74.1h.01M317.5 67.9h.01M316.6 96.7h.01M321.4 91.0h.01M319.6 86.6h.01M319.8 90.3h.01M321.4 105.6h.01M319.0 90.7h.01M319.3 94.0h.01M318.6 82.3h.01M317.5 105.5h.01M315.9 98.9h.01M318.6 87.7h.01M317.5 110.6h.01M320.7 100.3h.01M317.6 65.5h.01M317.1 76.4h.01M317.1 89.2h.01M316.1 93.6h.01M319.3 94.3h.01M317.4 88.0h.01M317.0 117.9h.01M320.2 74.6h.01M316.7 92.3h.01M320.8 102.0h.01M318.9 97.6h.01M320.1 102.5h.01M320.4 110.4h.01M318.0 84.1h.01M318.6 104.3h.01M317.9 109.3h.01M317.8 107.4h.01M317.7 93.5h.01M319.6 74.9h.01M319.6 125.3h.01M319.2 74.7h.01M316.7 112.7h.01M317.8 83.3h.01M318.7 111.3h.01M318.2 92.0h.01M319.5 113.3h.01M317.1 125.5h.01M316.0 84.0h.01M318.3 78.5h.01M320.5 108.0h.01M320.3 104.1h.01M319.1 92.4h.01M320.0 122.5h.01M317.5 71.4h.01M319.0 102.8h.01M321.5 113.8h.01M316.4 88.9h.01M320.5 60.6h.01M320.7 73.0h.01M317.7 107.3h.01M319.4 121.8h.01M318.0 68.0h.01M316.1 79.7h.01M316.5 111.5h.01M318.2 123.9h.01M317.1 101.3h.01M319.3 76.6h.01M320.3 98.9h.01M319.8 109.5h.01M317.4 64.8h.01M319.9 89.8h.01M320.9 123.5h.01M316.9 77.5h.01M316.2 80.5h.01M318.7 97.7h.01M321.5 122.9h.01M320.4 78.0h.01M318.8 109.3h.01M317.8 103.0h.01M316.5 70.2h.01M317.9 107.1h.01M317.6 88.8h.01M319.9 85.1h.01M318.5 65.7h.01M321.1 96.8h.01M320.3 74.6h.01M315.9 91.5h.01M319.1 124.9h.01M317.7 73.8h.01M319.4 116.0h.01M319.2 112.1h.01M318.6 104.5h.01M321.0 94.8h.01M321.3 34.0h.01M318.8 34.0h.01M334.7 96.2h.01M336.1 74.3h.01M335.9 78.8h.01M337.4 60.2h.01M337.0 71.3h.01M336.8 86.4h.01M333.4 69.6h.01M334.3 68.4h.01M334.4 80.0h.01M332.7 68.0h.01M333.2 66.6h.01M336.1 84.2h.01M334.1 91.3h.01M335.7 69.8h.01M337.0 65.9h.01M338.1 89.6h.01M332.3 105.3h.01M336.6 77.3h.01M337.0 75.1h.01M336.8 58.6h.01M334.9 67.9h.01M333.5 99.6h.01M336.2 77.6h.01M334.6 79.3h.01M336.9 59.5h.01M337.4 64.1h.01M335.7 66.2h.01M335.6 88.9h.01M334.3 102.3h.01M333.6 68.9h.01M335.8 75.8h.01M337.8 74.1h.01M336.2 58.9h.01M332.8 63.7h.01M334.1 96.5h.01M333.7 78.3h.01M336.3 85.6h.01M336.6 101.5h.01M334.5 84.1h.01M333.6 74.7h.01M334.3 89.1h.01M333.7 75.0h.01M332.8 94.2h.01M335.3 81.9h.01M334.4 66.9h.01M337.8 66.9h.01M336.5 78.4h.01M332.7 71.5h.01M333.1 83.0h.01M337.3 100.6h.01M333.4 80.7h.01M333.7 75.4h.01M337.2 79.6h.01M337.0 103.1h.01M338.0 87.6h.01M338.1 65.4h.01M334.9 96.5h.01M332.9 82.8h.01M335.7 67.1h.01M332.5 95.6h.01M334.5 83.8h.01M333.4 62.7h.01M332.4 112.2h.01M337.1 107.0h.01M337.1 82.1h.01M337.6 89.8h.01M332.7 96.1h.01M333.4 101.9h.01M333.7 75.7h.01M335.0 104.9h.01M334.3 83.5h.01M334.6 78.8h.01M336.8 75.2h.01M336.3 77.4h.01M333.6 66.9h.01M333.0 73.2h.01M336.4 85.2h.01M337.8 106.8h.01M336.3 74.7h.01M332.5 86.3h.01M336.8 69.2h.01M334.5 70.7h.01M336.9 90.0h.01M334.8 78.1h.01M335.4 115.0h.01M337.8 78.8h.01M333.3 93.0h.01M335.2 67.1h.01M334.8 88.6h.01M338.2 79.7h.01M333.6 62.3h.01M333.9 78.0h.01M336.8 88.4h.01M336.4 68.2h.01M338.1 68.6h.01M335.0 87.3h.01M333.6 63.2h.01M332.5 83.9h.01M334.1 57.9h.01M334.3 117.9h.01M353.5 110.3h.01M352.0 113.7h.01M350.9 107.4h.01M351.6 91.5h.01M352.6 70.3h.01M352.7 103.4h.01M354.6 74.2h.01M351.7 120.2h.01M352.4 99.4h.01M353.4 104.7h.01M352.7 81.1h.01M352.3 100.6h.01M349.3 73.9h.01M349.0 97.3h.01M354.4 80.9h.01M351.3 101.0h.01M349.4 92.9h.01M358.0 96.9h.01M362.7 75.7h.01M361.2 86.6h.01M358.7 70.5h.01M361.8 66.7h.01M358.7 83.9h.01M361.6 101.0h.01M359.8 64.1h.01M361.0 63.3h.01M362.2 98.2h.01M360.6 100.7h.01M361.0 68.6h.01M359.3 72.2h.01M362.0 88.7h.01M359.6 75.6h.01M361.8 80.1h.01M361.6 96.8h.01M358.2 106.9h.01M360.5 99.8h.01M358.8 71.9h.01M358.5 102.6h.01M357.8 62.8h.01M358.6 67.9h.01M361.3 111.0h.01M357.3 104.2h.01M359.5 74.9h.01M358.2 89.3h.01M361.1 84.5h.01M357.5 70.9h.01M359.9 109.7h.01M361.4 96.2h.01M357.5 78.5h.01M358.8 92.7h.01M362.7 92.3h.01M358.6 68.7h.01M361.3 78.5h.01M362.5 80.4h.01M361.7 86.4h.01M359.2 74.3h.01M359.8 96.5h.01M360.4 82.5h.01M357.3 78.8h.01M362.0 102.2h.01M362.9 90.5h.01M359.0 97.3h.01M359.0 93.4h.01M361.2 75.7h.01M357.6 76.8h.01M362.1 84.1h.01M360.7 93.0h.01M361.2 80.0h.01M362.0 74.2h.01M359.2 66.1h.01M358.0 77.8h.01M359.1 70.8h.01M360.6 69.6h.01M359.7 85.8h.01M358.4 76.1h.01M362.6 65.3h.01M358.5 70.1h.01M362.2 115.2h.01M368.5 125.2h.01M369.5 109.3h.01M369.2 101.5h.01M369.6 96.3h.01M370.1 124.0h.01M370.4 107.6h.01M369.4 120.8h.01M370.8 121.1h.01M366.0 105.3h.01M366.1 126.7h.01M366.8 96.0h.01M367.3 108.4h.01M366.0 122.7h.01M370.1 124.7h.01M365.8 118.1h.01M369.0 97.6h.01M370.0 124.8h.01M371.0 126.7h.01M366.2 93.9h.01M367.2 122.3h.01M366.7 105.8h.01M366.8 129.7h.01M371.1 104.0h.01M367.1 113.1h.01M365.7 105.6h.01M371.0 97.6h.01M368.4 105.7h.01M369.2 93.5h.01M370.0 105.4h.01M365.4 94.8h.01M366.8 117.3h.01M370.0 99.6h.01M371.0 113.7h.01M365.3 116.9h.01M367.2 123.5h.01M383.0 130.9h.01M387.5 127.7h.01M385.2 117.4h.01M383.4 128.1h.01M386.7 117.9h.01M385.2 120.6h.01M383.1 126.3h.01M384.9 129.8h.01M387.0 118.2h.01M385.0 122.2h.01M384.0 126.8h.01M384.9 124.4h.01M385.7 119.1h.01M387.4 131.2h.01M384.2 120.0h.01M385.7 129.7h.01M383.9 132.3h.01M386.7 123.0h.01M383.6 121.8h.01M382.3 128.9h.01M385.3 121.7h.01M382.2 131.7h.01M384.4 124.2h.01M385.8 128.7h.01M382.3 117.4h.01M383.6 125.1h.01M387.4 120.9h.01M383.6 123.0h.01M384.3 130.2h.01M385.2 122.4h.01M384.5 117.7h.01M382.4 126.4h.01M386.0 130.2h.01M383.5 130.9h.01M386.3 116.0h.01M385.9 108.6h.01M403.1 118.4h.01M400.2 120.7h.01M399.4 116.8h.01M403.0 129.1h.01M401.4 122.0h.01M401.5 132.3h.01M399.2 122.6h.01M402.7 113.1h.01M400.4 129.0h.01M398.9 112.6h.01M401.0 111.5h.01M401.2 131.5h.01M401.6 120.0h.01M398.4 128.9h.01M402.7 117.4h.01M398.8 129.0h.01M398.4 125.8h.01M402.7 121.0h.01M398.6 131.1h.01M401.5 114.0h.01M401.3 119.7h.01M400.7 123.7h.01M402.9 130.1h.01M398.7 112.4h.01M403.8 123.2h.01M398.4 131.2h.01M402.6 132.3h.01M398.5 120.1h.01M398.4 112.2h.01M402.2 119.3h.01M403.8 117.1h.01M404.1 115.1h.01M400.9 130.3h.01M401.2 123.1h.01M403.3 116.2h.01M398.8 108.7h.01M402.4 132.0h.01M402.6 113.2h.01M398.4 126.3h.01M399.1 124.4h.01M403.3 126.3h.01M402.3 117.7h.01M399.9 119.2h.01M398.4 128.0h.01M400.9 123.9h.01M399.9 127.5h.01M403.0 121.2h.01M401.3 120.3h.01M399.4 122.8h.01M399.3 129.6h.01M398.3 109.7h.01M399.2 129.6h.01M398.3 107.8h.01M400.1 120.0h.01M400.4 109.1h.01M400.8 128.9h.01M403.3 128.7h.01M400.1 125.0h.01M401.0 130.5h.01M403.9 123.7h.01M403.2 128.7h.01M402.1 126.4h.01M398.2 118.9h.01M401.6 131.1h.01M404.0 120.2h.01M399.7 110.7h.01M404.1 113.5h.01M403.8 117.9h.01M403.8 131.3h.01M399.9 116.4h.01M403.1 120.8h.01M398.4 124.7h.01M398.9 129.2h.01M400.5 118.8h.01M401.6 129.3h.01M401.2 119.0h.01M402.7 129.8h.01M399.5 121.0h.01M399.3 118.9h.01M400.1 123.9h.01M403.7 128.9h.01M401.3 132.2h.01M400.1 128.5h.01M402.7 127.1h.01M399.1 113.6h.01M398.4 108.0h.01M399.9 120.7h.01M401.8 114.4h.01M401.7 131.2h.01M400.3 118.6h.01M400.6 131.4h.01M401.1 113.5h.01M402.4 130.6h.01M399.9 127.0h.01M401.2 123.8h.01M401.7 123.6h.01M398.7 131.8h.01M403.9 117.6h.01M403.4 100.1h.01M403.3 88.7h.01M417.2 97.6h.01M418.3 94.7h.01M420.1 87.9h.01M415.8 87.4h.01M416.4 109.4h.01M420.4 91.4h.01M419.3 82.9h.01M418.6 106.4h.01M415.3 106.4h.01M416.2 89.4h.01M416.3 67.8h.01M418.6 87.1h.01M415.5 76.8h.01M416.0 90.7h.01M419.4 115.3h.01M418.1 89.7h.01M417.5 93.6h.01M418.2 87.3h.01M417.1 101.2h.01M416.9 91.6h.01M418.2 87.9h.01M416.4 71.6h.01M418.6 93.4h.01M414.9 94.6h.01M418.8 88.8h.01M419.1 80.1h.01M419.3 108.9h.01M420.4 89.8h.01M419.6 91.2h.01M415.2 90.2h.01M415.8 84.0h.01M417.6 95.8h.01M418.3 55.8h.01M435.6 95.9h.01M436.8 86.8h.01M435.2 82.5h.01M432.1 76.5h.01M432.8 98.9h.01M435.2 94.8h.01M436.6 67.3h.01M432.9 46.2h.01M434.6 88.7h.01M436.3 80.2h.01M433.1 125.5h.01M433.6 96.8h.01M433.9 108.2h.01M432.4 79.8h.01M431.5 87.6h.01M432.1 107.4h.01M436.8 68.5h.01M435.9 85.9h.01M433.9 113.7h.01M436.9 92.7h.01M434.5 90.0h.01M436.6 52.6h.01M433.5 92.4h.01M436.5 111.9h.01M436.4 76.4h.01M433.4 99.1h.01M436.4 75.3h.01M435.4 85.5h.01M432.4 98.9h.01M431.2 107.6h.01M435.4 80.2h.01M436.6 73.8h.01M435.3 85.9h.01M436.1 83.9h.01M436.2 93.6h.01M434.5 83.7h.01M436.0 54.8h.01M435.7 100.9h.01M437.1 95.2h.01M433.2 93.9h.01M437.0 98.3h.01M433.6 84.3h.01M436.6 93.6h.01M433.2 88.5h.01M431.2 92.5h.01M434.7 97.6h.01M434.8 101.1h.01M434.3 111.5h.01M433.1 84.7h.01M435.3 85.2h.01M435.8 57.5h.01M436.1 35.5h.01M439.9 63.4h.01M441.2 113.4h.01M439.6 115.0h.01M443.9 86.4h.01M444.0 83.6h.01M445.2 105.2h.01M444.2 80.3h.01M443.3 105.4h.01M443.4 103.3h.01M444.0 114.8h.01M443.4 93.2h.01M439.9 95.7h.01M441.2 62.8h.01M443.6 114.6h.01M441.9 101.7h.01M443.7 81.4h.01M442.7 81.3h.01M443.6 103.1h.01M440.0 88.1h.01M440.0 97.5h.01M456.8 67.1h.01M458.4 98.9h.01M456.0 81.5h.01M458.2 53.5h.01M457.3 66.6h.01M460.6 115.9h.01M461.6 87.4h.01M459.2 70.2h.01M458.4 90.0h.01M459.1 99.4h.01M458.2 112.1h.01M459.9 67.6h.01M460.3 122.2h.01M457.8 106.8h.01M457.0 69.0h.01M457.0 99.0h.01M456.3 98.1h.01M461.6 65.8h.01M456.7 72.7h.01M460.4 52.3h.01M460.2 86.6h.01M458.3 67.2h.01M460.1 68.7h.01M461.2 80.9h.01M455.9 81.8h.01M456.2 86.8h.01M459.1 78.4h.01M459.8 89.1h.01M456.2 85.3h.01M461.3 73.8h.01M460.6 70.0h.01M458.5 64.6h.01M461.1 87.7h.01M458.2 64.3h.01M457.6 122.9h.01M459.0 58.5h.01M460.0 93.8h.01M459.0 90.3h.01M457.4 102.0h.01M458.8 76.8h.01M457.5 58.5h.01M457.7 81.2h.01M456.7 72.9h.01M458.9 72.3h.01M456.5 93.9h.01M460.4 96.7h.01M458.9 75.9h.01M458.3 58.5h.01M457.9 83.9h.01M456.0 77.1h.01M459.3 91.8h.01M460.7 82.0h.01M457.5 106.6h.01M456.3 74.5h.01M461.6 108.9h.01M455.9 83.4h.01M458.2 85.7h.01M461.0 78.8h.01M461.3 62.5h.01M461.5 91.1h.01M461.0 83.4h.01M459.0 98.1h.01M458.7 96.6h.01M456.4 76.0h.01M456.2 90.4h.01M460.2 76.0h.01M458.1 67.9h.01M461.2 92.4h.01M457.0 112.0h.01M461.4 68.7h.01M457.7 66.9h.01M456.1 94.6h.01M458.9 84.8h.01M459.8 106.8h.01M459.0 60.0h.01M459.7 62.9h.01M458.3 70.5h.01M458.8 60.2h.01M460.1 74.7h.01M459.1 56.5h.01M456.1 97.6h.01M459.4 79.9h.01M457.8 47.5h.01M476.3 81.5h.01M473.0 63.4h.01M475.0 76.5h.01M475.1 70.3h.01M475.7 79.1h.01M475.8 74.0h.01M477.4 102.5h.01M475.1 79.5h.01M477.2 96.3h.01M478.1 69.7h.01M474.9 94.7h.01M476.0 82.5h.01M477.6 98.4h.01M475.7 88.2h.01M477.3 102.9h.01M478.3 84.3h.01M473.4 95.2h.01M477.5 68.4h.01M474.0 62.7h.01M477.2 80.3h.01M474.6 84.5h.01M473.4 84.0h.01M476.5 83.3h.01M475.5 70.9h.01M474.6 88.8h.01M476.5 68.9h.01M473.0 102.6h.01M476.5 70.2h.01M475.7 87.9h.01M473.1 59.8h.01M484.8 103.0h.01M483.4 88.8h.01M485.9 105.0h.01M482.9 97.4h.01M481.0 128.3h.01M483.2 84.8h.01M484.1 111.9h.01M480.8 99.1h.01M483.9 123.2h.01M483.2 116.2h.01M485.6 101.1h.01M485.9 106.3h.01M480.6 103.2h.01M486.0 100.0h.01M482.5 108.4h.01M484.5 113.8h.01M483.7 93.6h.01M486.3 105.7h.01M481.1 94.6h.01M482.1 113.3h.01M481.3 109.0h.01M484.8 117.0h.01M482.2 107.5h.01M483.3 107.3h.01M484.0 93.4h.01M484.7 93.1h.01M482.3 120.7h.01M481.4 97.5h.01M482.1 116.2h.01M485.6 106.6h.01M485.4 109.1h.01M481.5 115.6h.01M485.8 104.0h.01M482.0 94.3h.01M482.8 105.8h.01M485.1 123.8h.01M484.9 89.9h.01M485.4 120.5h.01M480.8 103.7h.01M483.7 108.2h.01M485.9 116.9h.01M485.8 118.7h.01M485.3 95.2h.01M486.2 110.3h.01M481.9 93.4h.01M484.9 97.1h.01M480.9 108.7h.01M482.7 109.2h.01M482.2 103.1h.01M485.7 123.8h.01M482.0 88.1h.01M481.3 99.1h.01M480.9 117.5h.01M482.7 101.1h.01M486.1 95.7h.01M480.9 95.6h.01M483.9 95.6h.01M482.7 91.0h.01M483.7 99.7h.01M486.1 89.6h.01M483.5 120.7h.01M482.4 88.7h.01M481.1 84.8h.01M482.7 97.5h.01M481.9 98.7h.01M485.7 121.7h.01M482.4 100.4h.01M484.3 105.5h.01M482.0 91.2h.01M481.7 116.2h.01M481.9 105.0h.01M485.4 116.6h.01M486.4 118.2h.01M481.9 100.1h.01M483.5 97.7h.01M481.8 110.1h.01M485.7 111.4h.01M481.2 125.4h.01M483.1 100.0h.01M482.5 97.9h.01M481.1 103.3h.01M483.4 119.8h.01M484.1 87.7h.01M486.5 108.0h.01M485.3 102.0h.01M481.4 119.7h.01M481.9 107.7h.01M483.6 85.7h.01M485.9 102.2h.01M481.0 108.1h.01M483.8 94.3h.01M482.8 86.4h.01M481.9 97.6h.01M485.6 93.9h.01M482.1 112.2h.01M483.4 92.7h.01M481.4 100.6h.01M481.0 87.4h.01M482.8 95.4h.01M484.1 83.7h.01M498.1 50.6h.01M498.6 101.5h.01M500.5 84.3h.01M502.2 86.4h.01M500.3 85.7h.01M502.1 105.5h.01M501.9 82.7h.01M498.4 81.6h.01M498.1 98.1h.01M498.8 92.1h.01M498.9 79.5h.01M501.1 74.7h.01M499.8 76.4h.01M497.9 66.5h.01M499.4 68.1h.01M501.8 106.2h.01M499.3 70.5h.01M501.8 80.5h.01M501.7 77.5h.01M500.3 102.5h.01M502.5 77.5h.01M502.8 78.1h.01M502.0 84.0h.01M501.0 96.2h.01M510.9 116.2h.01M509.3 99.3h.01M510.3 93.4h.01M508.3 92.5h.01M508.4 90.1h.01M509.9 68.9h.01M506.4 86.7h.01M508.5 73.9h.01M505.5 92.8h.01M509.8 112.4h.01M508.6 86.9h.01M508.6 93.8h.01M510.9 80.3h.01M505.6 89.1h.01M507.4 79.1h.01M511.1 98.8h.01M509.9 70.7h.01M509.0 71.5h.01M510.6 66.4h.01M509.2 74.5h.01M509.3 84.9h.01M506.3 69.3h.01M510.6 81.3h.01M511.2 100.6h.01M505.4 103.8h.01M508.7 120.9h.01M506.6 89.5h.01M507.3 73.4h.01M509.6 89.6h.01M507.8 66.6h.01M506.0 90.1h.01M505.4 68.1h.01M508.2 67.4h.01M506.8 74.1h.01M508.3 87.9h.01M508.5 74.9h.01M507.7 114.4h.01M510.1 111.0h.01M508.2 88.0h.01M510.6 69.4h.01M506.7 106.1h.01M509.3 64.4h.01M509.0 92.7h.01M508.2 61.8h.01M506.1 63.5h.01M511.2 89.7h.01M508.6 100.8h.01M511.2 125.3h.01M509.5 59.4h.01M507.8 98.5h.01M509.5 66.6h.01M505.8 85.4h.01M509.1 75.1h.01M507.1 89.6h.01M505.7 90.9h.01M506.9 66.0h.01M509.5 89.7h.01M508.0 79.3h.01M506.4 73.4h.01M505.3 66.8h.01M508.3 103.7h.01M511.0 80.6h.01M509.5 68.4h.01M508.5 99.2h.01M509.1 97.0h.01M507.5 98.9h.01M506.6 104.2h.01M507.9 86.5h.01M510.4 107.2h.01M510.5 84.8h.01M510.2 63.6h.01M509.2 106.3h.01M509.9 116.7h.01M508.5 100.2h.01M511.0 76.6h.01M509.4 112.3h.01M509.5 74.0h.01M509.6 70.4h.01M507.7 71.5h.01M506.2 93.4h.01M508.4 127.6h.01M508.9 73.8h.01M507.7 87.5h.01M510.9 82.3h.01M510.8 88.7h.01M510.4 117.1h.01M506.8 73.2h.01M506.9 111.1h.01M510.4 92.6h.01M509.9 104.4h.01M508.6 63.5h.01M510.9 78.2h.01M507.2 99.1h.01M506.9 75.0h.01M511.1 76.5h.01M505.5 87.8h.01M507.0 101.6h.01M508.1 70.3h.01M511.3 66.9h.01M510.4 75.6h.01M509.7 73.6h.01M508.1 71.7h.01M509.0 104.1h.01M505.7 109.5h.01M509.5 80.3h.01M509.0 108.8h.01M511.2 81.4h.01M506.8 58.1h.01M508.6 46.7h.01M526.4 89.0h.01M523.4 92.5h.01M526.4 104.5h.01M526.0 100.6h.01M524.0 79.7h.01M523.4 77.7h.01M522.0 86.1h.01M525.2 82.7h.01M526.8 86.1h.01M525.3 77.9h.01M523.4 77.2h.01M524.2 59.6h.01M531.6 133.8h.01M532.0 129.2h.01M530.8 131.8h.01M534.3 134.1h.01M533.5 131.1h.01M534.2 125.7h.01M533.5 126.9h.01M535.5 125.0h.01M532.6 133.4h.01M535.0 127.3h.01M532.4 128.1h.01M530.4 125.3h.01M533.4 125.1h.01M533.8 133.6h.01M531.0 132.2h.01M531.6 116.4h.01" stroke="#ff0000" stroke-opacity="0.45" stroke-width="1.7" stroke-linecap="square" fill="none"/><path d="M36.9 116.9h.01M38.7 106.0h.01M37.9 129.1h.01M36.5 129.5h.01M37.0 104.3h.01M41.1 78.3h.01M35.7 118.6h.01M37.8 125.0h.01M35.8 106.0h.01M35.4 115.2h.01M40.7 98.1h.01M37.6 111.5h.01M38.3 126.8h.01M40.4 109.3h.01M36.3 123.7h.01M40.6 71.3h.01M49.5 73.7h.01M46.0 76.0h.01M46.6 119.3h.01M44.5 74.1h.01M45.1 95.0h.01M46.1 74.7h.01M44.0 76.2h.01M47.4 74.4h.01M46.1 74.3h.01M43.8 92.6h.01M47.2 80.6h.01M48.8 69.5h.01M46.8 86.5h.01M48.3 126.6h.01M45.1 73.9h.01M45.2 69.4h.01M46.8 111.1h.01M43.7 92.9h.01M49.0 88.0h.01M47.9 100.4h.01M46.2 74.1h.01M43.9 120.7h.01M48.4 104.8h.01M45.5 82.1h.01M45.4 106.9h.01M46.2 75.1h.01M44.9 73.4h.01M46.0 124.6h.01M49.3 91.4h.01M43.9 82.8h.01M44.7 96.4h.01M44.4 71.8h.01M48.6 80.0h.01M49.2 82.2h.01M46.1 102.7h.01M44.0 72.5h.01M45.7 67.2h.01M48.0 90.1h.01M49.2 81.1h.01M46.5 87.9h.01M46.2 85.7h.01M48.1 80.2h.01M45.6 108.7h.01M48.2 111.1h.01M45.6 104.7h.01M44.2 74.7h.01M45.1 72.6h.01M48.7 72.3h.01M47.1 93.4h.01M45.1 88.8h.01M46.0 74.2h.01M47.6 87.8h.01M48.7 88.8h.01M44.8 77.2h.01M48.9 78.2h.01M44.3 74.2h.01M44.5 124.7h.01M44.9 88.3h.01M45.5 71.6h.01M44.3 90.6h.01M44.6 89.4h.01M49.4 74.8h.01M48.9 109.1h.01M44.9 117.0h.01M46.1 89.7h.01M47.0 82.8h.01M45.9 111.7h.01M49.2 97.5h.01M44.9 104.4h.01M44.0 74.3h.01M48.6 111.0h.01M48.7 88.5h.01M46.8 76.8h.01M49.1 88.5h.01M48.7 74.9h.01M45.5 89.1h.01M46.3 69.2h.01M45.1 102.3h.01M46.5 113.7h.01M46.3 90.2h.01M48.1 60.7h.01M64.9 54.6h.01M65.2 125.9h.01M63.5 85.3h.01M63.6 63.8h.01M60.8 83.3h.01M63.8 90.7h.01M62.1 104.3h.01M60.8 93.7h.01M62.5 85.7h.01M62.8 106.1h.01M65.3 66.3h.01M63.8 80.6h.01M62.5 103.4h.01M63.1 66.2h.01M61.3 77.0h.01M63.4 81.2h.01M65.1 101.6h.01M61.6 120.8h.01M64.4 91.4h.01M62.8 84.3h.01M64.5 94.0h.01M63.2 113.6h.01M61.7 87.5h.01M63.8 90.7h.01M63.4 110.9h.01M63.6 102.9h.01M65.3 97.5h.01M62.3 87.2h.01M61.5 80.5h.01M65.6 100.9h.01M61.8 62.1h.01M62.6 114.5h.01M62.3 68.7h.01M64.6 102.3h.01M61.3 99.0h.01M64.0 59.1h.01M61.7 73.0h.01M65.2 76.0h.01M63.8 84.2h.01M61.4 90.1h.01M62.5 88.2h.01M65.8 93.4h.01M65.1 67.8h.01M62.7 122.9h.01M60.4 83.3h.01M66.0 74.4h.01M62.3 87.8h.01M64.4 118.6h.01M62.8 107.3h.01M61.0 115.9h.01M64.7 83.8h.01M64.8 80.0h.01M61.4 96.3h.01M62.8 73.7h.01M61.2 111.2h.01M60.7 94.2h.01M63.1 112.0h.01M65.7 117.0h.01M61.7 105.0h.01M65.2 120.4h.01M65.7 101.0h.01M62.1 120.7h.01M63.5 105.0h.01M63.6 86.5h.01M65.8 71.1h.01M63.6 74.0h.01M66.0 77.9h.01M64.5 116.3h.01M62.7 69.7h.01M62.2 99.6h.01M61.1 99.2h.01M61.3 66.0h.01M65.6 85.0h.01M65.0 123.1h.01M63.6 80.2h.01M62.2 78.8h.01M62.8 93.2h.01M62.7 77.1h.01M61.2 55.2h.01M61.7 61.0h.01M63.5 102.8h.01M63.7 96.8h.01M65.3 53.8h.01M66.1 80.6h.01M61.2 96.5h.01M64.8 89.1h.01M63.7 87.8h.01M65.5 52.2h.01M65.4 122.7h.01M64.2 108.6h.01M65.8 117.2h.01M63.4 95.8h.01M61.7 72.6h.01M60.8 112.4h.01M63.5 108.0h.01M65.4 119.0h.01M60.2 113.1h.01M65.0 106.6h.01M62.5 65.7h.01M65.4 104.9h.01M65.5 96.0h.01M63.0 99.4h.01M63.6 106.0h.01M60.4 96.9h.01M63.2 125.8h.01M66.1 79.9h.01M64.8 88.4h.01M64.9 98.1h.01M64.7 87.2h.01M63.5 56.0h.01M66.1 104.8h.01M62.3 99.1h.01M62.8 112.7h.01M62.0 61.2h.01M62.2 60.2h.01M63.6 107.7h.01M65.4 61.8h.01M61.7 116.3h.01M61.5 97.0h.01M64.0 66.1h.01M60.6 127.3h.01M61.3 115.3h.01M61.4 113.4h.01M64.2 79.7h.01M63.9 68.2h.01M62.9 123.4h.01M60.5 96.3h.01M61.1 91.2h.01M62.7 70.7h.01M63.8 71.4h.01M64.7 77.3h.01M62.9 109.8h.01M60.2 90.6h.01M66.1 105.2h.01M61.0 74.1h.01M65.8 110.7h.01M65.7 84.3h.01M66.0 127.4h.01M62.9 106.5h.01M60.5 64.2h.01M63.5 101.4h.01M61.5 90.9h.01M61.4 95.5h.01M61.5 86.2h.01M61.8 108.4h.01M63.1 102.2h.01M62.9 93.1h.01M62.3 62.0h.01M66.1 63.7h.01M60.2 79.5h.01M61.2 83.1h.01M64.5 92.4h.01M64.9 105.4h.01M62.7 54.0h.01M65.4 106.4h.01M61.2 75.9h.01M60.8 106.6h.01M61.4 89.4h.01M61.2 70.0h.01M62.6 74.8h.01M64.1 85.9h.01M65.4 113.8h.01M66.0 82.8h.01M66.1 83.1h.01M63.8 90.1h.01M65.2 74.7h.01M62.1 70.2h.01M60.2 66.8h.01M66.1 61.6h.01M64.4 67.4h.01M62.1 91.2h.01M61.7 90.4h.01M63.0 102.7h.01M63.3 93.0h.01M65.1 87.2h.01M65.4 99.2h.01M60.9 68.9h.01M65.0 75.9h.01M66.1 87.0h.01M64.7 74.6h.01M61.6 102.4h.01M61.4 97.6h.01M61.8 88.7h.01M64.0 74.3h.01M63.9 102.4h.01M64.4 100.7h.01M62.3 100.0h.01M66.0 96.8h.01M60.6 82.2h.01M65.6 74.9h.01M62.9 116.1h.01M62.8 83.7h.01M64.6 85.7h.01M64.8 88.8h.01M65.1 103.0h.01M60.5 74.6h.01M64.3 77.5h.01M65.4 79.4h.01M66.1 115.9h.01M65.3 88.8h.01M62.0 95.6h.01M61.4 89.5h.01M63.1 105.4h.01M65.7 106.5h.01M62.6 80.7h.01M61.9 73.9h.01M65.8 74.0h.01M64.0 93.7h.01M61.2 111.5h.01M64.2 113.9h.01M61.0 68.8h.01M64.9 73.7h.01M65.6 108.5h.01M60.4 71.3h.01M62.1 74.1h.01M65.2 65.7h.01M60.4 49.1h.01M60.7 48.8h.01M60.8 130.9h.01M81.6 70.6h.01M78.6 81.9h.01M81.7 76.5h.01M76.8 77.1h.01M81.0 87.3h.01M78.0 74.8h.01M78.6 74.0h.01M79.4 51.0h.01M77.8 82.4h.01M79.7 78.1h.01M78.2 89.1h.01M82.3 78.5h.01M77.9 63.4h.01M78.2 62.7h.01M78.5 70.6h.01M81.5 85.7h.01M81.3 74.9h.01M79.5 65.6h.01M79.7 72.2h.01M80.9 71.1h.01M78.9 59.5h.01M77.9 49.4h.01M81.4 64.7h.01M77.1 80.2h.01M80.5 80.2h.01M77.3 98.3h.01M80.2 94.9h.01M81.0 85.9h.01M80.9 76.5h.01M77.5 91.1h.01M82.6 60.7h.01M80.4 96.0h.01M81.5 93.1h.01M78.0 81.4h.01M78.2 82.9h.01M82.5 48.4h.01M79.7 63.0h.01M76.7 44.7h.01M85.5 96.2h.01M88.1 68.7h.01M88.1 83.3h.01M90.7 71.1h.01M85.0 94.0h.01M87.5 102.6h.01M86.4 74.8h.01M86.4 84.0h.01M88.5 95.1h.01M85.0 93.0h.01M90.7 81.2h.01M85.5 71.6h.01M89.3 73.8h.01M85.1 106.9h.01M88.9 85.3h.01M85.8 75.4h.01M93.3 94.8h.01M96.2 114.3h.01M98.0 59.5h.01M95.7 70.6h.01M95.2 98.8h.01M96.2 109.5h.01M96.6 109.5h.01M94.8 122.0h.01M95.8 120.6h.01M94.0 97.8h.01M97.7 109.7h.01M96.8 94.3h.01M94.3 94.4h.01M95.8 89.7h.01M94.3 80.3h.01M97.3 95.2h.01M95.2 76.2h.01M96.6 113.2h.01M96.9 97.3h.01M96.5 68.5h.01M95.3 91.1h.01M95.2 102.6h.01M93.8 89.9h.01M96.0 96.1h.01M96.3 106.5h.01M95.5 99.1h.01M95.5 73.5h.01M95.1 70.0h.01M94.3 107.9h.01M93.5 94.1h.01M98.8 102.4h.01M95.7 123.8h.01M93.7 102.2h.01M93.4 97.3h.01M96.9 114.5h.01M97.2 113.2h.01M95.5 88.7h.01M97.4 107.5h.01M97.6 81.3h.01M95.8 110.8h.01M96.7 98.0h.01M98.6 61.2h.01M97.3 101.7h.01M93.2 112.6h.01M97.5 96.4h.01M96.8 90.2h.01M97.9 112.9h.01M95.0 98.7h.01M98.3 96.0h.01M98.7 90.4h.01M98.6 116.4h.01M97.8 73.7h.01M95.8 98.4h.01M93.7 101.3h.01M94.8 65.5h.01M95.7 105.6h.01M98.3 96.9h.01M97.6 101.2h.01M96.4 98.6h.01M94.6 104.2h.01M98.2 123.2h.01M97.4 90.0h.01M94.0 114.9h.01M95.2 106.4h.01M94.6 104.0h.01M99.0 113.1h.01M95.8 84.6h.01M97.6 95.2h.01M98.7 108.5h.01M94.1 96.5h.01M95.3 108.6h.01M98.4 100.9h.01M96.6 82.8h.01M93.3 108.2h.01M96.5 110.1h.01M96.9 118.4h.01M96.8 86.1h.01M93.5 88.1h.01M93.8 68.3h.01M99.1 94.5h.01M95.7 106.9h.01M95.6 90.9h.01M94.3 62.7h.01M94.7 106.5h.01M95.6 83.4h.01M93.8 99.6h.01M97.1 109.3h.01M97.1 121.8h.01M98.5 97.4h.01M96.7 78.0h.01M96.5 88.9h.01M95.7 86.5h.01M94.6 102.5h.01M97.7 110.9h.01M96.2 93.0h.01M93.6 104.6h.01M95.0 54.9h.01M95.0 67.0h.01M94.1 99.0h.01M94.1 109.2h.01M93.7 113.2h.01M97.1 82.9h.01M93.2 56.1h.01M97.3 115.4h.01M94.5 107.8h.01M93.6 64.6h.01M96.1 89.0h.01M98.0 95.6h.01M94.0 108.9h.01M96.6 85.1h.01M93.8 120.0h.01M95.2 48.0h.01M99.0 46.2h.01M105.5 85.1h.01M102.4 100.5h.01M102.2 67.4h.01M104.7 118.2h.01M103.2 84.7h.01M104.8 104.6h.01M105.9 81.4h.01M105.3 84.8h.01M107.2 82.2h.01M106.3 103.6h.01M106.4 90.5h.01M106.8 80.3h.01M101.8 106.7h.01M103.0 67.8h.01M104.0 54.2h.01M105.8 64.0h.01M105.1 109.9h.01M106.1 92.9h.01M105.8 74.4h.01M102.7 55.2h.01M104.4 85.9h.01M103.5 68.9h.01M103.8 66.5h.01M104.4 103.2h.01M106.3 83.5h.01M103.6 61.0h.01M106.2 93.8h.01M105.1 68.4h.01M106.1 69.9h.01M107.1 88.0h.01M102.3 78.2h.01M102.5 73.7h.01M104.0 105.3h.01M102.6 99.1h.01M102.7 74.4h.01M104.8 73.7h.01M105.2 65.2h.01M102.0 70.9h.01M101.9 85.4h.01M103.2 98.0h.01M102.1 62.2h.01M105.6 88.6h.01M105.9 98.9h.01M101.8 36.6h.01M109.7 75.6h.01M112.9 64.1h.01M114.0 88.8h.01M114.8 72.2h.01M113.6 98.0h.01M111.1 80.1h.01M113.3 81.4h.01M115.1 65.5h.01M112.9 64.0h.01M113.4 75.8h.01M111.5 66.8h.01M113.5 90.6h.01M113.8 62.8h.01M115.3 75.5h.01M111.9 65.6h.01M114.3 65.2h.01M115.2 65.3h.01M115.2 90.6h.01M111.4 81.7h.01M112.7 72.9h.01M115.3 64.5h.01M114.6 77.2h.01M114.6 62.0h.01M111.5 61.7h.01M111.3 64.3h.01M115.0 82.4h.01M114.3 94.2h.01M114.3 81.5h.01M111.7 103.8h.01M110.2 66.0h.01M114.9 73.0h.01M111.1 65.4h.01M113.8 98.1h.01M114.1 90.6h.01M113.5 98.3h.01M112.3 90.5h.01M110.2 59.3h.01M115.6 58.3h.01M111.9 65.2h.01M113.6 65.1h.01M112.4 81.0h.01M115.4 89.1h.01M112.1 80.5h.01M111.9 77.3h.01M112.1 96.2h.01M115.5 83.8h.01M115.0 85.1h.01M110.0 81.7h.01M112.1 75.1h.01M113.2 95.2h.01M112.6 62.3h.01M109.9 93.7h.01M111.0 96.9h.01M109.9 83.7h.01M115.1 79.1h.01M113.5 73.7h.01M114.0 66.0h.01M110.7 84.5h.01M111.7 91.4h.01M113.0 55.0h.01M128.8 97.5h.01M129.7 102.2h.01M126.7 88.1h.01M130.5 102.6h.01M127.6 107.8h.01M127.8 122.1h.01M131.8 113.4h.01M127.3 126.9h.01M146.7 64.2h.01M148.4 82.8h.01M147.7 86.3h.01M144.8 95.2h.01M143.1 100.3h.01M143.1 93.1h.01M144.4 77.5h.01M147.0 94.9h.01M143.4 76.7h.01M143.9 70.5h.01M145.8 89.0h.01M144.4 91.1h.01M145.4 93.4h.01M143.7 84.7h.01M145.5 88.6h.01M143.3 67.6h.01M143.3 110.0h.01M144.4 89.5h.01M143.0 61.2h.01M143.2 87.9h.01M144.1 89.0h.01M144.8 94.8h.01M144.1 91.0h.01M144.1 87.9h.01M146.5 100.8h.01M144.7 78.5h.01M145.4 96.8h.01M144.2 99.0h.01M147.7 106.0h.01M147.8 69.4h.01M148.1 108.8h.01M145.2 98.2h.01M144.1 104.1h.01M142.6 80.2h.01M145.2 91.6h.01M143.0 81.8h.01M148.5 86.4h.01M145.0 89.6h.01M143.2 82.7h.01M147.1 117.0h.01M147.1 89.6h.01M145.1 69.3h.01M148.6 84.2h.01M147.0 99.9h.01M148.2 97.7h.01M144.7 70.3h.01M147.1 91.1h.01M143.0 78.7h.01M146.4 99.3h.01M144.7 72.8h.01M142.6 86.3h.01M142.8 80.5h.01M147.3 80.2h.01M148.5 103.2h.01M143.4 94.2h.01M144.5 77.6h.01M144.6 94.1h.01M147.5 107.8h.01M147.5 105.4h.01M143.2 104.6h.01M147.7 121.1h.01M145.1 88.7h.01M147.2 72.7h.01M144.0 83.2h.01M145.2 94.0h.01M145.7 89.3h.01M146.8 79.9h.01M146.0 105.2h.01M144.5 88.1h.01M146.3 93.2h.01M144.0 82.3h.01M147.8 75.8h.01M145.7 105.0h.01M148.1 82.1h.01M144.8 95.0h.01M143.3 58.9h.01M145.6 94.8h.01M142.6 80.8h.01M144.8 75.5h.01M145.6 73.5h.01M143.8 82.6h.01M146.0 96.7h.01M146.4 117.4h.01M147.6 81.0h.01M143.6 76.5h.01M147.6 105.2h.01M146.6 92.3h.01M143.7 101.8h.01M145.7 79.5h.01M143.6 89.2h.01M147.9 55.8h.01M164.3 90.2h.01M162.6 94.4h.01M162.3 87.2h.01M165.0 59.1h.01M163.5 82.0h.01M164.4 104.8h.01M163.8 91.0h.01M162.8 102.5h.01M160.4 88.1h.01M159.5 120.1h.01M172.0 64.0h.01M172.0 82.7h.01M171.3 65.0h.01M169.2 74.4h.01M170.3 72.9h.01M167.6 66.9h.01M172.5 62.9h.01M171.8 49.7h.01M172.4 69.2h.01M172.6 68.6h.01M167.7 73.0h.01M168.9 88.8h.01M172.7 51.4h.01M169.5 82.4h.01M169.5 63.5h.01M172.5 63.6h.01M169.9 44.0h.01M169.3 70.7h.01M167.8 54.3h.01M173.2 77.0h.01M171.8 64.1h.01M172.1 53.7h.01M172.2 69.4h.01M169.3 81.8h.01M167.7 63.4h.01M169.5 100.4h.01M170.0 48.0h.01M170.2 86.5h.01M169.9 73.1h.01M167.6 68.1h.01M171.9 55.6h.01M169.0 49.3h.01M169.4 74.5h.01M172.9 49.7h.01M169.0 67.7h.01M170.1 92.4h.01M184.9 83.1h.01M184.9 99.4h.01M185.6 106.0h.01M186.7 111.5h.01M183.9 97.3h.01M185.1 106.4h.01M186.9 98.1h.01M185.7 99.8h.01M184.5 74.6h.01M185.7 123.2h.01M184.9 70.4h.01M186.3 99.0h.01M188.3 99.9h.01M186.7 80.6h.01M184.8 87.0h.01M189.5 91.0h.01M188.4 86.0h.01M186.0 95.7h.01M186.8 91.9h.01M189.2 80.3h.01M185.1 84.4h.01M187.3 98.3h.01M187.6 92.8h.01M187.3 72.0h.01M187.6 116.5h.01M186.7 97.2h.01M187.4 69.4h.01M186.0 118.0h.01M183.9 95.4h.01M186.8 106.9h.01M184.3 64.9h.01M205.1 61.2h.01M201.8 73.3h.01M200.7 69.3h.01M206.2 96.1h.01M203.9 91.7h.01M204.3 78.9h.01M204.8 71.2h.01M203.8 71.3h.01M200.9 89.8h.01M204.3 86.2h.01M201.6 89.8h.01M203.7 88.6h.01M204.8 93.6h.01M202.5 121.9h.01M201.6 50.2h.01M206.3 59.7h.01M201.1 107.8h.01M203.5 80.9h.01M204.6 59.1h.01M201.1 74.4h.01M203.5 61.1h.01M200.7 49.4h.01M204.2 88.0h.01M205.2 93.9h.01M204.8 57.6h.01M203.5 122.7h.01M204.7 72.7h.01M203.5 70.8h.01M202.7 96.6h.01M204.7 110.8h.01M200.8 103.5h.01M201.8 62.7h.01M201.9 96.3h.01M204.0 116.0h.01M205.9 114.9h.01M200.3 100.1h.01M202.5 64.1h.01M201.9 114.3h.01M202.5 57.6h.01M201.3 50.7h.01M200.7 83.6h.01M202.9 67.0h.01M202.8 99.8h.01M205.6 71.9h.01M204.9 90.3h.01M205.1 86.2h.01M204.0 74.3h.01M202.5 79.8h.01M202.2 81.6h.01M202.7 71.8h.01M204.5 80.5h.01M202.6 107.9h.01M206.3 68.3h.01M205.0 80.5h.01M205.3 83.4h.01M203.3 83.2h.01M202.3 60.5h.01M205.7 84.8h.01M202.9 82.4h.01M200.7 69.9h.01M204.6 78.4h.01M205.6 67.0h.01M202.5 114.0h.01M206.2 82.3h.01M203.9 96.2h.01M202.5 56.9h.01M202.0 86.5h.01M205.3 121.9h.01M204.7 90.8h.01M202.4 95.6h.01M205.1 85.1h.01M205.6 91.4h.01M205.4 67.5h.01M200.3 79.7h.01M202.3 83.6h.01M204.8 88.8h.01M203.8 102.3h.01M206.1 86.5h.01M203.9 107.6h.01M205.3 84.0h.01M200.5 79.8h.01M201.3 66.4h.01M204.3 113.6h.01M201.1 108.4h.01M204.5 87.6h.01M202.4 75.7h.01M203.8 71.7h.01M205.3 110.2h.01M202.4 97.2h.01M205.0 69.1h.01M204.9 110.1h.01M204.4 82.4h.01M205.7 71.9h.01M201.5 87.1h.01M201.5 83.5h.01M204.5 82.8h.01M201.9 97.6h.01M204.6 73.8h.01M204.9 92.1h.01M205.1 95.7h.01M203.5 95.2h.01M205.2 65.3h.01M200.4 45.5h.01M203.6 45.5h.01M217.3 110.9h.01M217.3 98.4h.01M221.9 84.5h.01M220.8 86.0h.01M222.8 73.3h.01M218.8 96.8h.01M217.9 70.9h.01M220.5 63.1h.01M220.0 88.3h.01M221.3 67.6h.01M221.0 108.7h.01M220.9 52.4h.01M222.5 86.9h.01M219.0 66.5h.01M222.2 61.7h.01M218.5 85.6h.01M221.6 117.2h.01M216.9 52.5h.01M219.1 67.7h.01M230.9 67.3h.01M229.4 69.5h.01M229.1 97.2h.01M230.6 69.4h.01M228.0 80.6h.01M228.7 65.9h.01M226.3 84.6h.01M230.6 112.8h.01M230.3 86.0h.01M225.4 99.5h.01M229.3 91.9h.01M229.7 66.0h.01M227.8 115.4h.01M228.4 112.9h.01M227.6 109.4h.01M226.0 68.3h.01M229.3 98.0h.01M226.6 90.3h.01M230.6 72.5h.01M226.5 73.0h.01M226.6 109.9h.01M227.6 86.9h.01M229.3 101.0h.01M230.5 109.7h.01M228.5 68.4h.01M225.8 95.4h.01M228.8 92.4h.01M230.3 78.5h.01M227.6 71.3h.01M230.4 88.8h.01M227.6 111.2h.01M229.4 105.2h.01M228.2 119.3h.01M225.9 97.3h.01M226.2 57.8h.01M227.4 102.0h.01M226.7 120.9h.01M229.2 103.6h.01M227.1 103.3h.01M230.0 77.7h.01M230.0 93.1h.01M225.4 81.9h.01M227.1 81.0h.01M230.5 123.8h.01M230.5 84.6h.01M230.3 123.3h.01M226.9 103.1h.01M230.8 89.2h.01M230.5 72.4h.01M226.1 95.1h.01M226.3 55.9h.01M228.4 90.0h.01M228.8 107.6h.01M229.9 91.9h.01M227.5 105.6h.01M228.3 92.8h.01M230.3 89.4h.01M227.0 71.5h.01M227.1 106.1h.01M227.3 100.6h.01M228.4 54.6h.01M227.5 108.4h.01M228.3 82.2h.01M226.2 100.3h.01M227.5 101.1h.01M228.8 99.2h.01M228.3 68.7h.01M225.2 64.1h.01M225.3 81.4h.01M230.9 96.1h.01M226.7 98.8h.01M230.4 89.1h.01M226.3 71.8h.01M225.1 117.0h.01M229.1 90.7h.01M230.6 99.8h.01M228.0 78.9h.01M228.0 111.9h.01M226.1 93.4h.01M227.9 86.5h.01M226.2 90.2h.01M227.5 117.0h.01M228.1 58.8h.01M225.8 46.8h.01M226.7 46.8h.01M234.7 118.6h.01M238.0 128.5h.01M234.7 119.4h.01M237.7 128.5h.01M235.4 124.7h.01M237.9 120.0h.01M233.5 128.5h.01M233.9 120.3h.01M235.5 114.0h.01M237.7 130.7h.01M237.0 118.8h.01M236.7 130.7h.01M239.1 65.4h.01M251.9 123.6h.01M252.4 122.1h.01M250.1 125.7h.01M255.0 116.3h.01M253.0 123.0h.01M252.1 120.9h.01M255.1 111.7h.01M250.2 127.5h.01M254.6 120.0h.01M254.9 124.8h.01M251.7 123.9h.01M250.0 123.8h.01M252.8 117.7h.01M250.6 121.7h.01M255.3 95.6h.01M252.5 112.0h.01M255.1 111.6h.01M250.3 129.1h.01M252.9 96.8h.01M254.2 124.3h.01M254.7 118.8h.01M251.3 119.3h.01M250.5 118.9h.01M250.8 120.4h.01M253.6 125.9h.01M251.3 122.1h.01M255.4 116.5h.01M250.4 122.7h.01M255.2 121.1h.01M250.6 123.9h.01M251.1 128.7h.01M252.0 113.2h.01M253.9 104.1h.01M253.0 120.0h.01M252.2 114.7h.01M251.2 107.0h.01M254.9 113.5h.01M252.1 112.4h.01M252.9 122.8h.01M251.9 127.2h.01M252.4 123.1h.01M250.8 121.9h.01M250.0 104.9h.01M255.2 91.3h.01M249.9 93.1h.01M250.6 119.1h.01M253.1 128.3h.01M254.8 119.8h.01M252.4 105.2h.01M250.1 114.5h.01M255.2 97.9h.01M253.9 114.4h.01M253.7 119.8h.01M251.3 106.1h.01M254.0 108.4h.01M251.0 124.4h.01M251.2 115.8h.01M250.3 99.9h.01M255.1 119.4h.01M251.7 121.4h.01M251.8 115.5h.01M253.9 124.7h.01M251.0 127.3h.01M250.3 103.8h.01M254.8 100.0h.01M253.4 125.0h.01M255.0 112.1h.01M249.9 125.9h.01M251.2 128.5h.01M255.7 120.3h.01M254.6 128.3h.01M255.4 121.3h.01M255.3 110.2h.01M253.9 123.9h.01M255.1 120.8h.01M254.9 125.2h.01M254.0 115.1h.01M254.4 123.5h.01M252.4 120.5h.01M252.1 91.4h.01M253.8 127.0h.01M250.4 130.4h.01M253.3 114.9h.01M253.2 120.4h.01M253.6 127.0h.01M249.9 127.8h.01M250.0 120.1h.01M253.8 118.8h.01M252.2 121.3h.01M254.5 124.6h.01M250.5 119.5h.01M255.3 122.9h.01M250.2 116.8h.01M254.9 110.9h.01M251.8 126.9h.01M255.4 117.8h.01M250.2 121.3h.01M255.7 117.2h.01M250.2 101.4h.01M253.7 106.9h.01M252.7 95.6h.01M250.2 105.4h.01M253.7 116.2h.01M255.6 121.9h.01M253.7 129.2h.01M251.0 86.6h.01M269.8 118.2h.01M268.0 128.6h.01M272.1 123.0h.01M271.6 129.6h.01M268.9 127.3h.01M271.5 119.9h.01M270.5 118.7h.01M267.7 124.7h.01M266.3 119.6h.01M267.5 130.7h.01M266.8 122.2h.01M272.1 121.5h.01M266.8 112.7h.01M270.7 122.2h.01M267.5 112.9h.01M266.8 115.5h.01M270.0 129.8h.01M272.1 109.8h.01M269.8 130.4h.01M267.1 123.7h.01M267.0 109.1h.01M268.1 123.5h.01M270.1 130.2h.01M268.9 126.8h.01M268.1 120.8h.01M270.7 110.5h.01M269.2 117.2h.01M270.9 118.3h.01M271.0 123.1h.01M269.6 124.6h.01M267.3 131.9h.01M269.2 118.9h.01M271.3 127.4h.01M268.8 114.7h.01M266.5 126.7h.01M267.5 121.5h.01M266.6 130.0h.01M269.3 104.0h.01M268.5 116.8h.01M266.7 130.0h.01M271.9 121.7h.01M267.3 119.8h.01M269.5 116.3h.01M266.9 117.8h.01M271.4 132.6h.01M266.6 115.9h.01M267.6 122.6h.01M272.2 129.0h.01M269.6 126.9h.01M267.3 112.4h.01M266.9 124.4h.01M268.5 128.6h.01M267.8 129.0h.01M269.7 110.8h.01M271.3 130.3h.01M270.8 115.4h.01M267.6 130.5h.01M268.2 84.2h.01M286.5 90.1h.01M287.9 54.9h.01M287.6 53.8h.01M283.5 77.6h.01M285.7 71.8h.01M283.6 66.2h.01M287.8 88.2h.01M285.6 71.8h.01M286.8 68.5h.01M283.0 76.2h.01M285.0 64.7h.01M283.9 76.4h.01M285.0 67.1h.01M286.7 69.0h.01M286.7 65.6h.01M285.1 65.4h.01M287.8 74.5h.01M286.4 99.6h.01M284.5 81.6h.01M284.9 75.2h.01M286.0 80.9h.01M287.8 70.1h.01M286.8 69.6h.01M287.1 78.3h.01M288.4 78.6h.01M283.9 70.3h.01M287.4 68.6h.01M286.9 93.8h.01M287.0 69.0h.01M284.3 74.1h.01M286.6 87.6h.01M285.3 65.7h.01M285.2 74.9h.01M287.1 77.9h.01M286.9 40.6h.01M292.0 128.6h.01M291.2 129.6h.01M291.0 129.3h.01M296.2 125.9h.01M291.7 125.7h.01M291.5 123.3h.01M291.1 123.3h.01M294.1 116.2h.01M292.3 129.1h.01M291.7 117.7h.01M294.4 127.5h.01M293.9 125.0h.01M295.8 130.3h.01M296.5 131.2h.01M292.3 129.8h.01M295.0 131.2h.01M293.4 120.5h.01M291.5 124.1h.01M294.8 121.9h.01M296.2 123.2h.01M294.7 118.1h.01M291.4 126.8h.01M296.0 118.5h.01M293.4 130.6h.01M293.3 116.8h.01M293.2 119.8h.01M296.5 124.2h.01M291.0 129.4h.01M293.5 120.5h.01M296.7 128.2h.01M295.6 124.5h.01M292.2 119.3h.01M295.5 120.9h.01M294.9 120.4h.01M293.3 115.0h.01M293.8 122.0h.01M292.6 122.1h.01M294.4 113.1h.01M295.9 124.1h.01M293.8 130.4h.01M293.3 124.4h.01M292.1 120.2h.01M292.5 115.8h.01M296.7 129.1h.01M291.2 115.3h.01M291.9 116.7h.01M293.1 120.6h.01M291.7 124.9h.01M295.5 124.0h.01M291.0 120.8h.01M296.3 124.9h.01M292.3 130.0h.01M292.9 120.3h.01M292.6 124.7h.01M291.5 116.9h.01M296.4 129.3h.01M296.3 114.4h.01M292.0 128.2h.01M293.6 116.6h.01M296.6 120.7h.01M291.2 116.8h.01M296.4 114.4h.01M296.9 125.3h.01M293.6 124.1h.01M296.8 111.7h.01M291.7 127.3h.01M292.4 120.7h.01M296.6 121.9h.01M296.5 125.4h.01M292.1 116.9h.01M294.6 112.2h.01M292.7 129.0h.01M293.9 126.2h.01M295.7 120.3h.01M294.6 114.5h.01M295.8 118.3h.01M292.1 129.0h.01M295.1 125.4h.01M291.4 121.4h.01M296.7 126.5h.01M296.0 116.8h.01M294.0 129.9h.01M292.8 128.4h.01M291.7 131.0h.01M296.2 130.9h.01M294.6 131.3h.01M294.9 121.2h.01M291.6 120.5h.01M296.7 130.4h.01M295.9 124.8h.01M292.6 128.4h.01M293.5 116.5h.01M294.7 123.4h.01M291.1 124.9h.01M294.4 115.0h.01M293.5 128.2h.01M293.3 126.9h.01M296.6 129.2h.01M295.8 121.1h.01M291.8 126.4h.01M291.9 127.4h.01M292.7 112.9h.01M293.6 111.5h.01M299.8 130.8h.01M303.4 106.1h.01M304.0 126.2h.01M300.7 127.9h.01M301.9 112.4h.01M305.0 110.7h.01M304.1 131.9h.01M300.5 109.6h.01M300.3 112.6h.01M302.2 122.4h.01M299.6 127.5h.01M299.7 126.1h.01M303.6 121.9h.01M303.0 124.5h.01M302.7 109.4h.01M299.9 109.3h.01M302.3 121.0h.01M300.7 119.8h.01M302.3 119.0h.01M303.7 108.0h.01M302.6 115.6h.01M300.4 129.9h.01M304.2 120.4h.01M301.2 127.6h.01M300.6 128.7h.01M300.1 127.9h.01M299.3 119.9h.01M305.2 114.4h.01M300.6 107.9h.01M299.9 108.0h.01M300.1 104.7h.01M299.8 111.4h.01M299.5 101.7h.01M302.1 121.6h.01M302.8 101.8h.01M301.2 106.4h.01M303.9 131.8h.01M300.3 109.8h.01M303.8 109.3h.01M301.8 128.0h.01M302.9 120.0h.01M301.9 122.4h.01M302.3 130.6h.01M302.5 129.1h.01M299.8 116.8h.01M300.1 125.4h.01M301.4 109.0h.01M304.6 120.6h.01M300.8 110.9h.01M300.3 114.8h.01M302.0 116.9h.01M300.5 119.4h.01M303.7 116.2h.01M303.5 118.4h.01M300.0 128.5h.01M301.5 128.2h.01M300.7 113.2h.01M304.1 119.4h.01M302.9 109.9h.01M304.2 114.9h.01M304.2 116.5h.01M304.8 123.6h.01M305.0 106.4h.01M304.1 120.2h.01M300.9 121.8h.01M303.6 112.8h.01M304.6 107.5h.01M301.3 128.2h.01M302.1 125.8h.01M302.0 108.0h.01M303.0 127.0h.01M302.4 127.8h.01M301.1 131.6h.01M303.3 65.8h.01M318.0 90.6h.01M319.1 109.2h.01M319.4 109.7h.01M316.8 95.7h.01M316.7 108.6h.01M321.3 60.9h.01M316.3 107.0h.01M319.8 81.8h.01M321.4 90.3h.01M321.3 105.6h.01M321.2 99.2h.01M320.0 82.8h.01M316.9 105.9h.01M321.3 93.0h.01M320.8 112.7h.01M317.4 94.4h.01M317.0 71.7h.01M318.8 87.7h.01M319.5 96.7h.01M320.1 103.5h.01M321.5 112.4h.01M318.3 89.4h.01M320.2 97.0h.01M320.4 110.3h.01M320.8 108.7h.01M318.5 123.8h.01M318.6 99.4h.01M320.2 79.8h.01M316.0 76.5h.01M320.8 118.2h.01M321.2 85.4h.01M319.5 113.6h.01M318.5 103.0h.01M315.7 102.2h.01M316.9 89.5h.01M321.5 105.9h.01M321.2 72.2h.01M317.4 83.3h.01M320.6 86.9h.01M321.6 90.8h.01M319.3 95.0h.01M316.4 103.1h.01M321.3 109.7h.01M318.0 86.4h.01M316.3 126.7h.01M321.0 103.1h.01M316.4 103.8h.01M320.8 88.1h.01M318.4 83.5h.01M318.1 98.6h.01M318.6 104.9h.01M321.5 86.3h.01M316.3 106.5h.01M321.6 89.6h.01M320.6 106.9h.01M317.3 111.9h.01M317.6 94.8h.01M319.5 80.8h.01M316.4 90.3h.01M316.7 77.1h.01M318.4 122.2h.01M317.6 117.5h.01M316.2 83.2h.01M319.6 111.5h.01M321.4 96.3h.01M319.6 78.6h.01M317.3 114.8h.01M316.9 74.0h.01M317.7 91.4h.01M317.7 99.0h.01M320.8 99.2h.01M318.7 102.4h.01M317.0 107.3h.01M317.1 119.6h.01M315.9 90.2h.01M321.7 74.7h.01M319.5 108.9h.01M317.9 80.0h.01M316.6 77.9h.01M318.3 104.0h.01M321.6 78.3h.01M320.5 91.9h.01M320.5 118.4h.01M317.3 95.8h.01M316.7 86.0h.01M317.7 105.2h.01M319.2 94.7h.01M316.1 91.0h.01M320.4 109.1h.01M318.7 93.7h.01M319.9 100.6h.01M319.2 81.5h.01M320.5 93.8h.01M316.7 98.6h.01M317.7 89.6h.01M317.5 111.5h.01M319.3 89.7h.01M315.8 117.4h.01M317.8 80.2h.01M315.8 95.2h.01M318.5 103.6h.01M320.7 100.7h.01M317.0 53.1h.01M332.9 113.5h.01M333.0 70.1h.01M337.4 59.5h.01M332.5 68.6h.01M333.6 76.2h.01M332.8 82.6h.01M333.2 81.1h.01M337.2 66.4h.01M334.4 78.3h.01M335.4 102.8h.01M335.2 96.0h.01M338.2 71.0h.01M334.6 77.4h.01M334.8 70.5h.01M337.8 72.0h.01M332.3 74.5h.01M333.5 65.2h.01M337.7 78.5h.01M336.9 107.0h.01M335.2 60.8h.01M337.4 93.8h.01M332.5 75.4h.01M333.3 71.8h.01M336.0 68.0h.01M334.0 76.7h.01M338.0 74.4h.01M335.0 83.7h.01M333.3 89.6h.01M334.3 99.6h.01M338.1 74.2h.01M337.0 88.1h.01M333.7 83.6h.01M334.8 74.3h.01M332.3 68.7h.01M334.8 98.4h.01M335.1 82.8h.01M333.9 64.2h.01M333.6 97.9h.01M336.1 105.9h.01M337.0 92.1h.01M335.6 85.1h.01M333.9 88.3h.01M333.5 67.9h.01M336.4 77.6h.01M335.0 77.4h.01M333.0 67.4h.01M333.5 81.1h.01M334.1 97.8h.01M338.1 78.8h.01M333.3 101.7h.01M333.8 86.1h.01M333.4 95.9h.01M333.2 101.2h.01M333.9 101.7h.01M333.4 73.3h.01M334.3 66.6h.01M334.9 83.0h.01M337.7 94.7h.01M334.6 81.8h.01M335.9 60.0h.01M335.5 63.6h.01M336.3 81.8h.01M337.7 91.3h.01M336.4 85.5h.01M335.5 77.7h.01M335.6 87.0h.01M335.1 105.5h.01M333.9 81.9h.01M333.9 88.0h.01M337.2 62.6h.01M332.4 91.5h.01M338.1 95.2h.01M336.1 74.4h.01M335.5 85.9h.01M333.4 90.3h.01M336.9 93.9h.01M337.1 64.4h.01M337.2 70.0h.01M333.8 65.3h.01M335.3 86.6h.01M336.8 76.8h.01M333.9 96.7h.01M337.3 86.7h.01M338.1 69.7h.01M336.6 89.9h.01M335.1 66.7h.01M334.3 84.8h.01M334.5 79.7h.01M333.1 76.0h.01M333.5 72.0h.01M333.7 62.9h.01M333.9 89.3h.01M334.4 63.6h.01M334.1 79.6h.01M337.7 76.3h.01M333.1 84.4h.01M337.4 68.9h.01M334.9 101.2h.01M336.9 67.0h.01M337.6 52.1h.01M333.3 118.2h.01M350.0 111.6h.01M354.3 82.6h.01M349.4 74.2h.01M352.0 98.0h.01M349.3 115.8h.01M348.9 113.8h.01M353.7 107.2h.01M349.5 81.1h.01M351.9 104.9h.01M349.1 99.8h.01M352.7 90.7h.01M353.0 92.8h.01M351.9 74.7h.01M352.9 91.4h.01M351.7 113.7h.01M349.0 81.4h.01M348.7 60.9h.01M361.7 83.1h.01M357.8 77.7h.01M361.7 69.3h.01M358.4 60.2h.01M361.8 104.0h.01M357.7 98.9h.01M361.5 67.2h.01M360.6 86.8h.01M357.4 111.0h.01M358.1 82.1h.01M362.3 75.3h.01M362.2 94.3h.01M357.8 65.3h.01M359.4 106.9h.01M362.3 80.1h.01M360.1 89.8h.01M359.4 84.7h.01M360.4 86.9h.01M358.1 68.2h.01M359.5 76.1h.01M359.4 101.8h.01M361.6 88.3h.01M362.4 87.6h.01M362.6 88.8h.01M362.3 56.0h.01M357.3 78.4h.01M357.9 98.7h.01M359.5 58.7h.01M358.6 85.2h.01M358.8 82.3h.01M361.2 64.6h.01M359.7 86.3h.01M360.4 82.8h.01M358.3 60.5h.01M360.0 74.3h.01M362.5 106.4h.01M358.9 85.6h.01M358.7 74.2h.01M362.7 71.3h.01M360.6 59.1h.01M359.8 62.4h.01M359.0 85.6h.01M357.0 82.0h.01M357.4 83.5h.01M361.2 100.9h.01M357.8 84.4h.01M360.6 70.1h.01M358.7 91.6h.01M361.3 111.3h.01M360.2 72.8h.01M362.5 84.4h.01M361.3 88.8h.01M359.1 76.7h.01M360.7 67.2h.01M362.9 66.8h.01M358.8 89.8h.01M360.6 99.7h.01M359.7 67.5h.01M360.0 75.0h.01M360.3 52.1h.01M360.1 115.4h.01M365.2 110.9h.01M367.8 122.2h.01M370.6 104.7h.01M369.7 129.8h.01M368.8 105.3h.01M367.5 114.0h.01M367.2 103.7h.01M368.4 127.7h.01M369.6 109.4h.01M369.0 104.2h.01M366.0 105.6h.01M370.4 99.5h.01M366.4 108.2h.01M369.3 100.1h.01M367.0 112.8h.01M367.5 107.2h.01M368.8 107.3h.01M370.7 96.8h.01M366.7 99.9h.01M370.2 103.6h.01M368.9 106.1h.01M368.3 103.1h.01M370.4 107.6h.01M371.1 116.0h.01M368.1 96.5h.01M365.8 104.2h.01M368.7 118.3h.01M366.5 105.8h.01M366.8 110.7h.01M365.3 103.5h.01M367.3 118.3h.01M369.5 99.7h.01M368.4 115.7h.01M369.8 107.8h.01M371.0 88.0h.01M384.0 131.0h.01M387.4 117.2h.01M383.9 122.8h.01M385.8 114.6h.01M382.4 130.3h.01M385.3 125.1h.01M387.3 130.1h.01M386.9 132.9h.01M385.3 118.6h.01M382.1 125.2h.01M384.5 125.7h.01M384.8 129.4h.01M383.9 114.0h.01M385.7 122.8h.01M386.4 130.0h.01M382.7 120.7h.01M387.3 128.5h.01M387.6 127.6h.01M385.2 114.5h.01M383.7 123.6h.01M387.6 129.5h.01M386.9 112.6h.01M383.6 130.5h.01M382.2 118.7h.01M383.1 125.4h.01M383.7 122.7h.01M383.3 124.2h.01M386.8 129.6h.01M383.8 125.8h.01M383.9 118.1h.01M387.2 121.9h.01M386.1 131.0h.01M383.6 116.5h.01M381.9 131.3h.01M384.5 121.4h.01M387.5 110.6h.01M403.1 132.1h.01M402.3 114.3h.01M398.6 105.9h.01M403.4 127.0h.01M401.7 129.0h.01M401.8 108.1h.01M399.5 132.7h.01M401.4 106.3h.01M399.1 114.3h.01M401.0 124.8h.01M399.0 121.0h.01M403.1 113.4h.01M402.6 119.3h.01M401.6 129.4h.01M398.2 126.6h.01M402.1 120.1h.01M399.7 119.8h.01M400.1 122.0h.01M403.6 121.2h.01M399.0 126.4h.01M401.1 128.4h.01M403.4 120.6h.01M399.4 126.6h.01M401.2 126.9h.01M402.1 111.9h.01M398.2 130.3h.01M402.8 129.6h.01M399.6 110.0h.01M403.5 127.3h.01M404.1 125.9h.01M403.7 120.8h.01M402.6 118.6h.01M400.7 124.2h.01M403.6 106.7h.01M403.0 131.9h.01M400.3 130.7h.01M401.7 128.4h.01M399.9 121.7h.01M401.9 119.4h.01M398.2 122.5h.01M401.7 113.0h.01M400.0 121.0h.01M403.9 123.5h.01M401.4 116.4h.01M403.8 123.8h.01M403.9 118.1h.01M403.4 122.0h.01M399.8 116.2h.01M401.3 120.6h.01M399.9 123.1h.01M399.3 122.4h.01M399.0 131.6h.01M399.4 120.2h.01M400.1 127.3h.01M403.3 116.1h.01M398.9 117.6h.01M401.2 132.0h.01M400.5 124.8h.01M403.3 131.8h.01M398.5 127.0h.01M400.1 117.9h.01M400.3 120.5h.01M400.0 130.5h.01M403.3 132.0h.01M399.0 120.5h.01M404.2 115.0h.01M399.7 112.6h.01M402.1 116.8h.01M401.3 119.9h.01M399.1 127.0h.01M403.0 117.8h.01M398.9 113.4h.01M403.1 117.1h.01M404.0 117.3h.01M402.3 125.6h.01M402.2 131.9h.01M399.4 125.6h.01M403.2 113.4h.01M402.6 129.2h.01M398.7 115.0h.01M403.3 122.5h.01M398.7 115.6h.01M401.3 126.3h.01M402.1 125.8h.01M401.0 121.1h.01M398.3 124.2h.01M400.6 122.8h.01M402.0 127.6h.01M398.5 118.8h.01M398.7 124.3h.01M403.6 122.0h.01M401.9 132.4h.01M403.7 120.8h.01M403.2 128.6h.01M401.6 109.2h.01M401.8 122.2h.01M401.0 124.5h.01M402.0 128.2h.01M402.1 89.4h.01M420.0 87.5h.01M418.7 103.2h.01M418.4 93.8h.01M416.4 91.3h.01M415.0 109.8h.01M417.1 94.0h.01M415.8 88.7h.01M419.5 94.2h.01M420.4 87.9h.01M415.9 93.6h.01M419.1 94.3h.01M419.2 84.0h.01M416.1 113.9h.01M417.7 98.0h.01M417.1 96.6h.01M420.4 96.1h.01M417.8 86.7h.01M417.3 89.0h.01M416.7 92.0h.01M415.2 82.7h.01M416.0 88.1h.01M415.3 94.5h.01M415.6 79.6h.01M417.7 86.0h.01M419.9 103.1h.01M417.2 88.9h.01M418.4 96.9h.01M417.5 82.5h.01M414.9 83.6h.01M420.0 68.5h.01M418.6 110.8h.01M416.2 115.0h.01M415.6 95.0h.01M417.8 122.6h.01M436.7 89.8h.01M436.5 94.9h.01M431.4 97.9h.01M433.6 97.2h.01M434.3 89.8h.01M436.5 92.8h.01M432.3 105.1h.01M435.9 99.8h.01M436.1 93.5h.01M434.8 111.1h.01M433.5 69.4h.01M432.5 77.2h.01M433.6 67.8h.01M433.1 51.1h.01M432.8 80.8h.01M436.1 118.6h.01M436.8 72.9h.01M434.6 120.5h.01M432.7 64.7h.01M434.2 84.0h.01M433.0 98.4h.01M432.5 106.9h.01M434.2 72.6h.01M433.7 108.4h.01M432.3 82.9h.01M434.4 98.8h.01M432.6 86.9h.01M433.1 119.0h.01M436.8 115.6h.01M434.5 120.4h.01M437.1 75.8h.01M433.1 88.2h.01M435.6 100.3h.01M431.5 88.7h.01M432.9 88.3h.01M434.8 86.3h.01M431.4 93.7h.01M435.3 88.1h.01M436.3 90.2h.01M433.1 96.6h.01M435.2 112.6h.01M436.9 109.7h.01M435.6 90.4h.01M435.5 105.5h.01M436.0 114.8h.01M434.7 92.1h.01M434.5 105.6h.01M433.1 92.6h.01M434.4 119.7h.01M437.1 93.5h.01M435.6 42.5h.01M442.8 110.1h.01M441.7 71.2h.01M440.1 100.6h.01M443.5 106.3h.01M444.7 100.3h.01M440.9 110.1h.01M440.4 81.0h.01M440.2 86.1h.01M444.5 94.3h.01M441.1 93.7h.01M443.8 81.3h.01M439.9 122.4h.01M444.6 90.2h.01M440.3 86.5h.01M440.9 110.8h.01M444.7 101.1h.01M439.6 98.8h.01M442.9 112.8h.01M445.1 100.0h.01M440.4 97.7h.01M442.5 57.0h.01M456.8 107.9h.01M457.4 102.9h.01M457.4 94.2h.01M460.4 81.8h.01M456.6 86.2h.01M457.8 88.1h.01M458.5 85.2h.01M457.2 112.4h.01M457.5 67.0h.01M456.5 77.6h.01M460.7 81.2h.01M458.7 91.9h.01M459.1 67.5h.01M460.9 86.6h.01M457.2 59.4h.01M459.3 107.0h.01M457.8 80.6h.01M458.6 123.5h.01M461.3 73.3h.01M461.4 74.5h.01M460.6 68.7h.01M456.4 62.0h.01M459.6 72.9h.01M459.8 63.1h.01M456.2 92.8h.01M460.2 80.5h.01M458.4 88.6h.01M460.8 124.9h.01M461.2 90.6h.01M459.8 77.4h.01M459.4 79.5h.01M456.8 66.5h.01M460.7 75.9h.01M456.7 52.2h.01M457.1 69.1h.01M456.8 62.5h.01M459.5 77.9h.01M459.0 118.2h.01M459.9 65.1h.01M460.4 81.1h.01M461.3 79.2h.01M456.0 71.0h.01M458.8 85.0h.01M458.4 91.4h.01M457.2 64.2h.01M461.7 89.1h.01M458.2 61.9h.01M458.9 85.8h.01M456.4 69.7h.01M457.8 85.9h.01M460.8 101.4h.01M458.5 85.3h.01M458.6 76.1h.01M459.5 91.9h.01M458.6 88.9h.01M461.4 84.2h.01M458.1 74.3h.01M457.3 97.4h.01M458.7 78.1h.01M459.2 96.2h.01M456.3 84.9h.01M461.5 90.7h.01M459.0 72.0h.01M457.9 73.0h.01M459.2 90.3h.01M458.3 63.8h.01M460.7 116.3h.01M457.2 76.0h.01M459.2 83.7h.01M459.1 51.0h.01M461.1 115.4h.01M457.2 84.8h.01M455.9 78.9h.01M458.3 113.8h.01M461.8 66.5h.01M461.3 78.2h.01M460.3 86.7h.01M457.5 80.4h.01M459.3 72.4h.01M461.8 87.1h.01M456.6 79.2h.01M459.9 91.9h.01M457.1 44.3h.01M473.1 81.3h.01M474.5 72.6h.01M474.4 81.0h.01M477.2 70.9h.01M476.5 79.1h.01M476.6 71.6h.01M473.3 72.1h.01M474.6 69.0h.01M475.9 64.8h.01M473.0 82.8h.01M476.9 84.1h.01M474.0 78.6h.01M477.5 78.3h.01M473.8 68.0h.01M476.1 82.2h.01M476.1 84.7h.01M478.3 88.0h.01M472.4 71.8h.01M476.5 74.3h.01M477.6 82.3h.01M478.1 103.1h.01M474.6 102.8h.01M472.7 81.6h.01M474.5 100.9h.01M476.5 70.5h.01M475.4 93.3h.01M473.0 76.1h.01M478.0 66.1h.01M477.7 82.9h.01M474.4 61.0h.01M483.6 105.8h.01M486.2 91.5h.01M480.9 112.9h.01M481.4 129.5h.01M484.9 109.7h.01M484.4 104.5h.01M485.7 94.6h.01M482.3 96.2h.01M482.9 100.3h.01M484.5 119.9h.01M486.1 117.5h.01M480.8 87.4h.01M481.3 91.5h.01M482.6 99.3h.01M484.8 111.2h.01M484.1 111.2h.01M484.7 105.1h.01M484.8 107.9h.01M484.4 122.5h.01M483.1 102.3h.01M486.1 102.6h.01M485.1 113.9h.01M481.8 91.5h.01M481.9 115.4h.01M485.3 90.6h.01M480.8 120.7h.01M486.6 104.5h.01M486.2 94.1h.01M484.9 101.8h.01M484.4 90.9h.01M482.5 101.3h.01M484.2 115.3h.01M481.1 110.9h.01M483.9 111.0h.01M484.0 107.3h.01M483.0 113.6h.01M486.0 106.1h.01M486.6 107.4h.01M483.8 121.2h.01M486.0 87.3h.01M484.3 93.4h.01M484.4 87.6h.01M484.7 107.3h.01M480.8 94.6h.01M486.6 112.4h.01M482.9 89.1h.01M481.5 110.0h.01M482.7 125.2h.01M486.2 126.8h.01M483.7 111.3h.01M485.2 92.8h.01M483.4 113.2h.01M486.2 108.4h.01M483.1 92.0h.01M482.3 101.5h.01M484.1 117.7h.01M482.4 109.3h.01M483.7 120.1h.01M481.5 91.6h.01M484.1 117.7h.01M485.5 110.2h.01M481.7 93.3h.01M484.2 115.7h.01M486.1 106.8h.01M485.8 103.8h.01M484.4 98.4h.01M486.3 95.0h.01M485.3 85.7h.01M481.5 95.2h.01M484.6 110.0h.01M485.4 102.8h.01M483.8 94.4h.01M486.0 92.2h.01M481.0 92.3h.01M482.2 104.1h.01M484.0 95.6h.01M484.0 99.8h.01M481.4 112.1h.01M481.0 88.6h.01M484.4 96.0h.01M480.9 114.3h.01M481.3 116.0h.01M483.2 97.4h.01M485.2 104.5h.01M482.8 94.5h.01M485.1 108.7h.01M484.2 98.6h.01M485.9 99.6h.01M484.5 92.9h.01M486.4 116.1h.01M484.7 94.4h.01M482.7 102.2h.01M484.8 111.4h.01M480.9 92.8h.01M481.2 111.5h.01M481.2 93.6h.01M485.9 92.7h.01M482.7 101.1h.01M485.7 104.9h.01M484.9 80.0h.01M499.7 102.9h.01M500.7 83.4h.01M502.8 74.1h.01M499.4 105.2h.01M502.7 68.9h.01M498.5 81.1h.01M502.7 80.8h.01M500.3 66.3h.01M497.8 73.2h.01M501.8 104.7h.01M502.0 104.3h.01M498.7 87.5h.01M500.5 79.0h.01M499.9 84.6h.01M501.8 77.9h.01M500.7 89.2h.01M502.7 75.5h.01M497.6 75.4h.01M499.7 83.6h.01M501.2 84.0h.01M502.9 90.8h.01M499.6 69.4h.01M498.4 73.6h.01M497.9 108.3h.01M508.6 61.5h.01M506.5 88.2h.01M510.3 91.3h.01M508.2 84.6h.01M508.1 85.6h.01M505.7 61.2h.01M510.9 80.7h.01M509.8 95.2h.01M510.3 107.5h.01M506.5 79.8h.01M509.8 99.3h.01M511.0 86.8h.01M505.4 76.4h.01M507.0 91.3h.01M510.0 106.3h.01M510.9 89.9h.01M506.4 89.6h.01M509.7 76.4h.01M510.3 96.2h.01M507.5 81.7h.01M508.5 103.6h.01M510.9 72.3h.01M510.3 74.0h.01M506.5 64.1h.01M506.1 92.0h.01M509.7 78.9h.01M505.8 73.9h.01M508.4 124.7h.01M506.1 77.2h.01M508.7 85.9h.01M507.8 90.0h.01M509.1 73.3h.01M506.9 77.2h.01M507.0 76.3h.01M507.6 90.1h.01M507.2 100.4h.01M506.3 74.6h.01M510.9 93.1h.01M509.0 92.1h.01M507.1 72.9h.01M505.8 102.8h.01M511.0 109.4h.01M507.1 76.9h.01M507.2 73.0h.01M508.3 65.4h.01M505.7 94.0h.01M510.3 95.3h.01M507.6 65.5h.01M506.1 94.0h.01M506.2 88.5h.01M506.2 104.0h.01M510.8 63.4h.01M505.6 103.9h.01M505.5 93.0h.01M508.4 111.6h.01M507.1 80.8h.01M507.7 92.2h.01M505.7 88.7h.01M508.0 76.8h.01M511.3 60.5h.01M506.6 96.4h.01M509.9 98.8h.01M506.2 80.0h.01M505.7 88.0h.01M508.2 111.5h.01M506.8 90.6h.01M510.1 114.8h.01M505.7 111.1h.01M507.5 126.2h.01M506.7 108.9h.01M509.5 72.3h.01M506.9 98.4h.01M510.9 94.0h.01M510.6 79.6h.01M509.7 97.8h.01M508.6 95.4h.01M507.8 98.9h.01M510.4 98.2h.01M506.8 80.0h.01M510.8 72.3h.01M507.9 77.4h.01M509.6 118.8h.01M506.5 97.3h.01M506.4 69.2h.01M505.8 99.6h.01M508.6 100.8h.01M509.4 94.7h.01M506.8 86.1h.01M506.3 90.8h.01M508.4 93.4h.01M505.6 90.2h.01M510.7 90.6h.01M510.1 121.2h.01M506.7 70.8h.01M509.2 80.4h.01M509.0 63.8h.01M507.4 84.3h.01M507.5 98.8h.01M506.7 107.9h.01M510.3 84.9h.01M506.4 87.3h.01M508.1 99.9h.01M510.6 98.7h.01M506.4 119.4h.01M509.8 82.6h.01M511.2 101.1h.01M511.0 104.6h.01M511.2 39.5h.01M508.8 38.6h.01M521.9 64.4h.01M527.4 97.2h.01M522.6 65.7h.01M522.4 65.7h.01M523.8 88.8h.01M526.1 62.1h.01M525.9 68.9h.01M522.8 66.1h.01M526.8 68.5h.01M525.9 81.8h.01M527.0 79.3h.01M523.9 108.9h.01M535.4 133.9h.01M530.3 133.8h.01M535.5 126.5h.01M532.4 126.9h.01M535.6 132.2h.01M531.6 133.5h.01M533.3 133.6h.01M531.1 124.7h.01M535.3 125.1h.01M536.0 124.9h.01M532.0 132.1h.01M536.0 133.5h.01M534.7 125.3h.01M533.9 133.4h.01M532.7 128.2h.01M532.9 111.7h.01" stroke="#ff0000" stroke-opacity="0.45" stroke-width="1.7" stroke-linecap="square" fill="none"/><path d="M37.8 118.2h.01M40.7 93.5h.01M37.6 97.5h.01M36.8 124.6h.01M35.4 122.9h.01M39.6 103.7h.01M40.8 115.2h.01M37.8 121.2h.01M36.7 128.1h.01M36.3 124.2h.01M39.1 101.6h.01M36.2 127.0h.01M35.9 125.1h.01M36.4 84.4h.01M38.7 125.9h.01M39.6 60.6h.01M45.2 69.4h.01M44.7 72.1h.01M45.0 85.3h.01M44.8 86.0h.01M45.2 112.4h.01M46.1 84.3h.01M45.3 108.7h.01M48.8 69.6h.01M46.3 68.8h.01M43.9 128.9h.01M43.7 80.4h.01M49.5 69.7h.01M47.8 86.3h.01M46.4 74.0h.01M49.2 87.3h.01M47.5 68.6h.01M47.2 128.8h.01M45.5 89.5h.01M46.5 77.9h.01M45.5 72.2h.01M45.2 88.8h.01M45.7 102.2h.01M48.1 120.1h.01M48.6 102.2h.01M49.4 82.9h.01M47.7 82.1h.01M49.5 70.7h.01M49.1 79.2h.01M45.6 77.3h.01M47.7 73.9h.01M43.7 73.5h.01M49.5 75.7h.01M46.3 90.3h.01M44.8 103.4h.01M48.5 82.9h.01M49.2 113.3h.01M45.3 74.0h.01M45.6 78.1h.01M47.5 75.7h.01M49.4 105.9h.01M46.6 88.9h.01M48.6 72.4h.01M45.8 127.4h.01M45.2 110.2h.01M49.5 78.1h.01M44.2 89.3h.01M46.2 111.1h.01M47.7 76.6h.01M45.9 87.0h.01M44.6 112.8h.01M49.6 88.4h.01M49.6 94.0h.01M49.2 118.7h.01M49.5 90.0h.01M46.4 72.1h.01M47.2 73.2h.01M44.9 126.0h.01M43.7 83.7h.01M44.9 115.7h.01M46.0 88.8h.01M47.8 93.0h.01M45.5 81.6h.01M49.6 88.1h.01M43.7 94.1h.01M49.0 106.4h.01M47.5 103.9h.01M46.7 91.3h.01M44.3 95.6h.01M44.4 83.8h.01M49.2 73.1h.01M44.6 71.5h.01M48.6 71.6h.01M46.0 74.7h.01M43.9 83.3h.01M44.4 98.9h.01M46.2 103.0h.01M46.3 71.9h.01M48.2 89.8h.01M44.3 119.6h.01M46.7 95.4h.01M48.3 65.5h.01M62.0 102.6h.01M63.7 110.0h.01M61.8 105.1h.01M62.6 101.8h.01M60.8 104.0h.01M65.0 89.1h.01M64.4 93.6h.01M65.6 70.9h.01M60.5 63.8h.01M63.9 59.1h.01M62.0 73.4h.01M65.9 61.4h.01M64.5 107.2h.01M64.9 83.1h.01M66.0 64.7h.01M62.5 63.9h.01M62.3 96.4h.01M60.4 52.0h.01M60.7 111.9h.01M65.2 107.1h.01M62.4 105.4h.01M61.5 93.0h.01M65.6 92.6h.01M61.4 107.9h.01M61.8 112.4h.01M62.0 126.9h.01M62.1 83.2h.01M63.2 86.3h.01M60.9 84.1h.01M64.8 120.6h.01M60.3 71.7h.01M64.1 79.0h.01M63.9 119.6h.01M64.4 82.4h.01M62.0 70.6h.01M61.2 102.1h.01M62.8 112.3h.01M64.8 107.9h.01M60.4 96.9h.01M65.6 85.8h.01M64.6 80.3h.01M62.7 93.2h.01M63.9 71.5h.01M63.2 103.2h.01M64.4 95.6h.01M64.0 70.5h.01M62.6 67.7h.01M64.2 100.5h.01M65.8 117.8h.01M63.5 73.8h.01M61.2 73.7h.01M65.1 90.0h.01M60.5 78.1h.01M60.8 77.8h.01M60.6 80.2h.01M64.5 86.6h.01M62.8 105.2h.01M64.0 71.1h.01M61.6 102.9h.01M61.9 71.5h.01M61.2 64.0h.01M61.3 100.6h.01M62.4 104.3h.01M63.9 109.6h.01M63.1 60.6h.01M60.6 120.5h.01M60.7 111.3h.01M60.2 68.5h.01M61.9 69.0h.01M62.8 76.9h.01M61.9 82.8h.01M60.7 64.8h.01M65.3 82.0h.01M60.5 106.5h.01M65.9 106.3h.01M65.5 101.7h.01M60.7 74.7h.01M63.3 100.4h.01M65.5 76.2h.01M60.7 92.6h.01M61.5 80.8h.01M60.6 80.2h.01M63.5 116.9h.01M64.5 126.7h.01M65.9 127.9h.01M60.5 78.6h.01M61.4 113.4h.01M63.9 88.6h.01M61.2 104.9h.01M65.1 111.5h.01M64.5 112.9h.01M65.0 117.3h.01M61.3 123.5h.01M60.3 77.6h.01M61.9 106.0h.01M63.4 98.7h.01M62.2 116.1h.01M60.4 73.4h.01M63.0 103.2h.01M63.8 110.8h.01M63.7 102.7h.01M63.6 87.8h.01M62.2 74.0h.01M61.0 69.8h.01M61.7 65.5h.01M60.4 114.2h.01M64.0 129.0h.01M65.4 85.1h.01M64.6 59.8h.01M62.6 68.5h.01M63.0 91.6h.01M61.0 127.9h.01M63.6 78.1h.01M62.0 87.4h.01M65.7 69.7h.01M66.1 70.3h.01M60.6 108.8h.01M60.3 66.7h.01M62.6 69.6h.01M61.3 53.1h.01M65.0 71.4h.01M63.4 84.1h.01M62.1 77.0h.01M62.2 74.3h.01M62.2 119.0h.01M60.2 102.0h.01M63.8 113.5h.01M61.0 57.0h.01M63.4 88.1h.01M62.1 106.2h.01M64.8 76.3h.01M61.8 75.5h.01M63.0 67.5h.01M61.5 100.7h.01M60.5 107.3h.01M62.3 58.0h.01M61.1 86.2h.01M63.1 104.4h.01M62.1 101.8h.01M64.0 121.5h.01M62.6 86.2h.01M61.7 71.0h.01M64.7 82.7h.01M63.6 88.7h.01M64.7 75.4h.01M65.5 88.7h.01M63.6 92.9h.01M64.8 120.9h.01M61.9 74.1h.01M65.6 110.4h.01M64.3 96.0h.01M65.4 69.2h.01M64.3 78.0h.01M60.8 50.8h.01M60.9 87.8h.01M64.3 80.1h.01M62.3 86.5h.01M66.0 89.2h.01M61.7 77.5h.01M63.5 59.1h.01M63.4 108.2h.01M64.5 110.4h.01M62.5 92.5h.01M60.2 106.9h.01M62.4 70.4h.01M64.9 55.6h.01M64.0 65.7h.01M64.6 68.0h.01M61.6 114.4h.01M62.5 96.9h.01M63.9 75.5h.01M65.6 53.6h.01M61.5 63.1h.01M63.3 99.1h.01M62.9 113.5h.01M60.4 83.8h.01M61.1 90.5h.01M63.3 76.4h.01M64.3 108.0h.01M61.1 74.1h.01M62.4 90.2h.01M63.6 91.7h.01M62.1 56.3h.01M65.3 128.2h.01M62.4 97.2h.01M61.9 111.1h.01M62.5 62.9h.01M64.4 92.8h.01M64.7 82.3h.01M64.7 68.3h.01M65.2 102.6h.01M63.1 107.2h.01M62.6 66.3h.01M64.8 80.1h.01M60.8 99.9h.01M64.2 105.7h.01M62.7 78.5h.01M61.0 74.5h.01M61.8 79.1h.01M63.5 112.6h.01M65.4 88.9h.01M60.5 108.8h.01M63.7 102.4h.01M63.5 109.7h.01M63.5 127.4h.01M64.4 73.5h.01M62.8 98.7h.01M60.4 128.9h.01M65.7 99.5h.01M64.2 92.9h.01M65.7 118.6h.01M65.9 78.2h.01M64.3 67.3h.01M65.2 90.7h.01M63.5 53.4h.01M61.1 108.9h.01M62.4 47.3h.01M62.9 41.5h.01M65.1 133.2h.01M77.3 82.8h.01M80.1 87.3h.01M81.5 78.3h.01M79.7 83.5h.01M80.2 104.2h.01M81.8 64.1h.01M82.6 76.8h.01M80.7 46.9h.01M79.1 61.2h.01M79.3 50.2h.01M80.0 95.6h.01M82.2 77.7h.01M76.7 97.8h.01M78.8 54.4h.01M76.9 103.9h.01M79.4 70.5h.01M79.5 60.5h.01M81.6 61.8h.01M77.9 85.3h.01M82.3 84.4h.01M81.5 81.4h.01M80.2 48.0h.01M79.4 77.6h.01M78.6 79.5h.01M77.9 55.1h.01M80.2 102.8h.01M80.5 58.5h.01M77.0 96.0h.01M78.1 70.2h.01M82.1 86.0h.01M78.0 95.7h.01M81.1 74.3h.01M76.9 69.3h.01M80.7 80.4h.01M77.6 72.1h.01M80.9 77.6h.01M77.3 74.6h.01M81.8 34.7h.01M89.8 95.1h.01M90.7 79.8h.01M90.5 57.3h.01M85.4 71.7h.01M86.4 86.9h.01M89.0 75.6h.01M86.4 70.2h.01M90.7 69.1h.01M89.1 81.2h.01M87.1 77.6h.01M89.0 77.8h.01M86.7 88.1h.01M85.5 86.2h.01M89.9 82.6h.01M86.6 76.0h.01M88.8 88.6h.01M96.1 93.6h.01M98.7 98.1h.01M95.7 56.4h.01M96.2 99.2h.01M97.4 58.9h.01M94.2 95.3h.01M97.5 111.8h.01M98.2 98.7h.01M93.6 93.0h.01M95.9 97.1h.01M94.6 83.7h.01M95.0 99.8h.01M95.0 104.6h.01M99.0 92.1h.01M96.7 106.6h.01M98.9 92.8h.01M97.3 100.7h.01M93.2 76.9h.01M98.7 75.4h.01M97.1 65.2h.01M98.2 104.4h.01M98.8 98.2h.01M98.5 65.1h.01M96.1 97.2h.01M98.7 106.2h.01M96.8 93.3h.01M95.3 81.1h.01M98.1 99.0h.01M93.5 91.7h.01M94.7 92.4h.01M96.4 98.2h.01M94.3 76.3h.01M98.4 81.1h.01M93.5 102.1h.01M93.8 90.0h.01M98.9 90.5h.01M94.7 89.3h.01M94.2 103.1h.01M93.5 120.0h.01M97.9 110.7h.01M95.2 109.2h.01M96.5 105.7h.01M93.2 69.7h.01M97.9 111.9h.01M95.6 86.2h.01M95.0 75.5h.01M97.9 73.8h.01M97.7 103.0h.01M96.1 125.5h.01M97.7 63.5h.01M96.7 74.7h.01M93.7 97.3h.01M97.5 87.6h.01M96.1 64.6h.01M95.4 90.5h.01M96.6 81.6h.01M95.5 95.6h.01M94.0 59.3h.01M97.6 75.7h.01M98.0 112.4h.01M98.5 77.2h.01M97.5 122.5h.01M98.0 92.6h.01M94.1 107.2h.01M98.6 64.4h.01M97.8 115.9h.01M93.7 105.1h.01M94.5 125.1h.01M94.1 67.4h.01M94.0 107.5h.01M96.5 96.6h.01M95.3 102.9h.01M98.9 92.6h.01M94.4 106.1h.01M98.8 85.7h.01M96.4 93.1h.01M94.9 85.0h.01M93.2 96.9h.01M98.2 85.8h.01M97.2 95.4h.01M98.9 85.7h.01M98.5 91.1h.01M94.2 61.5h.01M98.4 120.9h.01M97.3 68.3h.01M97.6 76.6h.01M98.9 86.1h.01M94.1 82.4h.01M94.7 122.7h.01M97.9 120.3h.01M95.6 104.2h.01M94.6 72.5h.01M93.7 122.4h.01M94.5 94.7h.01M98.7 111.1h.01M95.1 65.7h.01M96.2 89.9h.01M95.1 92.8h.01M93.4 92.0h.01M96.9 93.9h.01M97.6 95.4h.01M95.7 109.3h.01M94.5 105.3h.01M99.1 101.0h.01M95.5 108.2h.01M96.4 64.7h.01M96.1 104.9h.01M94.9 112.2h.01M96.0 112.0h.01M99.0 110.4h.01M95.1 99.1h.01M97.3 52.3h.01M95.8 128.6h.01M105.4 118.8h.01M105.2 70.0h.01M105.1 77.4h.01M102.2 105.9h.01M105.4 100.5h.01M102.7 82.3h.01M103.6 103.7h.01M102.0 55.3h.01M105.7 64.9h.01M104.5 67.4h.01M105.5 95.2h.01M103.4 111.1h.01M105.1 89.7h.01M106.9 75.8h.01M106.2 86.2h.01M102.7 82.3h.01M106.5 79.2h.01M104.1 92.2h.01M106.4 70.8h.01M102.7 68.7h.01M101.5 75.7h.01M102.6 81.2h.01M104.5 80.1h.01M106.1 79.9h.01M101.9 71.4h.01M104.8 92.7h.01M102.9 98.9h.01M102.1 93.5h.01M105.4 81.9h.01M102.5 54.7h.01M102.7 100.2h.01M104.8 102.4h.01M104.4 63.4h.01M101.6 74.5h.01M106.1 81.0h.01M105.3 86.2h.01M105.5 96.6h.01M106.4 90.0h.01M102.9 61.9h.01M104.1 86.8h.01M102.7 89.9h.01M106.1 96.0h.01M103.8 39.6h.01M115.4 64.5h.01M111.9 103.4h.01M111.9 95.7h.01M114.4 83.9h.01M115.5 103.6h.01M111.3 86.6h.01M113.1 88.9h.01M111.6 90.8h.01M113.0 65.1h.01M114.0 76.3h.01M112.8 80.1h.01M114.9 93.3h.01M114.4 90.4h.01M112.8 71.7h.01M114.3 76.1h.01M111.7 77.8h.01M115.2 70.4h.01M110.6 75.5h.01M110.0 67.1h.01M113.8 84.3h.01M110.5 70.6h.01M114.5 63.7h.01M110.2 56.6h.01M115.5 94.5h.01M113.7 70.2h.01M111.1 72.9h.01M111.1 68.3h.01M114.2 77.8h.01M112.4 92.3h.01M114.9 68.7h.01M113.6 94.0h.01M112.1 85.8h.01M114.4 80.3h.01M110.4 75.6h.01M110.9 69.3h.01M112.5 93.6h.01M113.0 71.1h.01M112.6 86.5h.01M112.5 91.1h.01M110.4 100.3h.01M111.5 75.7h.01M115.1 89.2h.01M110.5 80.4h.01M115.6 77.2h.01M114.6 68.4h.01M110.8 89.8h.01M110.9 77.1h.01M115.3 95.2h.01M112.7 86.7h.01M111.7 97.5h.01M112.9 93.5h.01M112.3 62.7h.01M110.6 100.6h.01M114.3 95.8h.01M110.0 68.3h.01M114.5 73.4h.01M111.0 81.5h.01M113.4 83.2h.01M110.7 84.7h.01M114.5 79.2h.01M110.8 55.3h.01M130.5 90.4h.01M130.5 85.7h.01M128.2 122.6h.01M126.8 104.2h.01M129.2 102.9h.01M130.6 111.2h.01M131.8 104.5h.01M145.5 118.7h.01M145.3 102.8h.01M142.6 73.6h.01M143.5 91.5h.01M148.6 99.4h.01M146.0 100.5h.01M148.1 90.1h.01M146.2 63.4h.01M147.6 84.4h.01M145.1 76.2h.01M143.9 82.8h.01M144.4 112.1h.01M147.0 102.6h.01M144.3 75.9h.01M147.8 101.1h.01M143.7 75.0h.01M142.6 78.3h.01M147.7 82.3h.01M143.7 85.2h.01M145.9 99.1h.01M144.8 89.3h.01M142.8 58.7h.01M146.1 107.2h.01M147.5 67.0h.01M144.8 72.1h.01M143.2 92.5h.01M143.5 78.9h.01M147.4 115.4h.01M145.7 110.4h.01M145.1 64.0h.01M142.7 74.2h.01M145.2 102.6h.01M142.6 88.2h.01M147.4 82.3h.01M147.1 121.5h.01M144.0 105.0h.01M146.8 86.4h.01M144.5 56.2h.01M146.8 64.0h.01M146.4 81.1h.01M146.6 92.5h.01M145.4 94.6h.01M143.7 97.5h.01M145.9 65.7h.01M144.1 72.5h.01M145.2 91.4h.01M148.5 78.0h.01M146.4 86.0h.01M142.8 116.4h.01M143.8 95.1h.01M146.3 82.3h.01M144.1 76.4h.01M144.4 112.4h.01M144.9 94.3h.01M148.1 90.0h.01M142.8 106.3h.01M144.2 96.8h.01M144.7 86.9h.01M142.6 94.2h.01M147.3 65.7h.01M147.7 85.9h.01M143.3 93.9h.01M147.2 103.6h.01M148.2 74.5h.01M144.5 81.4h.01M143.4 100.3h.01M147.2 99.7h.01M147.9 93.7h.01M145.0 76.5h.01M143.3 70.4h.01M143.8 88.2h.01M146.0 112.9h.01M146.4 109.7h.01M143.0 77.4h.01M146.1 76.5h.01M142.6 114.4h.01M143.9 101.7h.01M142.6 95.7h.01M144.2 98.3h.01M144.5 82.3h.01M142.6 67.8h.01M147.5 81.8h.01M143.3 72.6h.01M146.3 71.7h.01M147.8 67.7h.01M144.7 60.0h.01M144.9 92.7h.01M144.0 74.8h.01M143.4 87.1h.01M147.7 74.0h.01M144.0 55.7h.01M146.5 55.7h.01M160.1 62.4h.01M161.8 96.1h.01M160.9 67.9h.01M159.5 71.2h.01M164.5 94.7h.01M161.8 71.8h.01M160.2 83.7h.01M159.7 75.0h.01M164.4 88.2h.01M167.7 45.9h.01M169.2 75.2h.01M167.6 46.5h.01M170.5 70.3h.01M172.4 60.9h.01M169.6 66.5h.01M173.3 70.1h.01M169.0 74.0h.01M168.9 67.6h.01M168.9 64.2h.01M171.4 45.3h.01M169.5 66.9h.01M168.7 59.5h.01M173.2 75.9h.01M167.8 69.1h.01M169.0 71.3h.01M167.7 46.4h.01M171.0 43.8h.01M167.4 70.9h.01M167.8 72.1h.01M168.5 88.8h.01M168.3 81.8h.01M173.0 76.9h.01M171.1 68.3h.01M172.5 62.5h.01M167.7 88.6h.01M169.7 58.8h.01M170.1 77.3h.01M168.2 65.9h.01M167.7 60.5h.01M171.2 82.5h.01M169.9 62.1h.01M173.0 61.3h.01M171.7 55.1h.01M169.1 56.0h.01M171.3 81.6h.01M170.7 41.5h.01M188.3 87.1h.01M185.8 90.2h.01M189.0 95.4h.01M188.1 105.0h.01M189.6 67.8h.01M184.2 105.5h.01M184.1 73.7h.01M189.2 76.5h.01M186.9 107.2h.01M188.3 98.5h.01M184.9 92.2h.01M185.5 112.0h.01M188.4 109.5h.01M187.0 108.0h.01M185.7 107.0h.01M184.0 95.3h.01M184.8 93.3h.01M184.3 96.9h.01M189.6 97.9h.01M187.2 77.8h.01M185.0 75.2h.01M188.8 100.7h.01M185.2 115.5h.01M184.7 107.1h.01M187.1 79.0h.01M188.3 78.6h.01M185.4 79.0h.01M189.1 112.1h.01M189.4 109.9h.01M187.8 93.2h.01M188.7 63.4h.01M200.6 90.7h.01M204.7 96.9h.01M205.9 110.2h.01M201.5 65.0h.01M203.4 83.7h.01M206.0 74.9h.01M202.9 62.6h.01M203.9 84.7h.01M205.8 94.9h.01M206.0 69.4h.01M200.8 77.6h.01M201.9 84.0h.01M205.2 82.3h.01M205.0 93.5h.01M200.4 87.6h.01M204.6 63.9h.01M205.8 80.3h.01M203.5 114.9h.01M204.5 101.1h.01M200.4 93.8h.01M200.3 77.4h.01M204.2 69.9h.01M206.0 85.1h.01M202.2 74.2h.01M202.7 64.9h.01M203.7 93.3h.01M202.6 78.3h.01M203.2 68.8h.01M204.2 83.4h.01M202.8 46.9h.01M206.2 95.6h.01M202.3 84.7h.01M203.7 111.3h.01M200.8 86.6h.01M202.4 75.4h.01M205.3 84.3h.01M201.7 76.1h.01M205.9 57.3h.01M206.0 99.3h.01M203.0 112.6h.01M200.5 80.3h.01M202.5 65.2h.01M204.2 47.9h.01M201.1 88.2h.01M200.7 86.7h.01M202.2 90.7h.01M202.5 116.3h.01M201.6 75.5h.01M204.7 99.2h.01M202.8 82.4h.01M205.3 100.8h.01M200.3 84.1h.01M202.2 109.8h.01M204.3 86.4h.01M204.9 80.3h.01M203.2 71.9h.01M205.0 96.0h.01M205.9 103.6h.01M203.9 69.9h.01M205.7 69.8h.01M204.8 59.7h.01M204.6 69.9h.01M203.2 115.8h.01M205.8 78.2h.01M203.7 120.2h.01M205.0 68.4h.01M200.3 110.7h.01M205.6 86.9h.01M205.3 82.6h.01M202.8 101.3h.01M203.7 76.1h.01M202.6 63.2h.01M204.2 91.2h.01M202.5 85.1h.01M201.9 93.1h.01M202.6 95.3h.01M204.4 69.0h.01M204.0 119.4h.01M200.4 65.2h.01M201.1 77.9h.01M200.9 90.2h.01M202.0 91.7h.01M201.2 83.5h.01M200.6 102.6h.01M201.3 65.0h.01M205.6 80.3h.01M203.4 94.5h.01M202.1 89.5h.01M202.9 51.0h.01M201.4 98.1h.01M201.0 88.6h.01M201.6 61.8h.01M205.6 70.7h.01M203.1 72.9h.01M205.4 73.2h.01M203.4 104.0h.01M201.8 67.2h.01M203.3 119.0h.01M201.0 84.7h.01M202.8 103.3h.01M203.8 86.3h.01M201.8 75.8h.01M205.2 45.4h.01M204.7 45.5h.01M221.8 76.9h.01M218.7 106.8h.01M222.8 56.6h.01M217.6 88.5h.01M219.2 63.3h.01M219.0 58.4h.01M219.6 56.3h.01M222.8 62.7h.01M221.8 58.6h.01M221.1 72.8h.01M220.2 59.8h.01M221.6 79.0h.01M220.3 62.8h.01M219.5 61.5h.01M218.1 66.7h.01M217.1 93.6h.01M220.1 70.7h.01M217.8 60.2h.01M220.8 74.8h.01M228.3 89.5h.01M228.7 125.0h.01M226.3 108.8h.01M231.0 115.5h.01M225.9 74.2h.01M227.5 84.2h.01M225.1 62.5h.01M227.3 71.3h.01M230.0 115.9h.01M225.8 65.9h.01M226.4 70.3h.01M226.1 72.8h.01M226.3 88.3h.01M227.2 104.3h.01M226.0 76.6h.01M228.4 96.7h.01M230.0 90.9h.01M230.3 117.2h.01M225.9 86.8h.01M225.2 83.2h.01M228.8 96.4h.01M225.8 78.6h.01M228.4 71.9h.01M227.2 60.8h.01M226.9 83.3h.01M227.5 97.6h.01M230.4 84.8h.01M230.6 89.0h.01M226.0 73.6h.01M228.1 103.6h.01M228.3 95.8h.01M226.2 64.6h.01M229.7 50.1h.01M228.6 121.4h.01M225.3 103.1h.01M230.3 88.3h.01M230.5 91.5h.01M229.2 91.1h.01M228.3 96.9h.01M230.2 98.9h.01M226.9 81.0h.01M228.7 77.5h.01M230.8 111.2h.01M226.3 73.1h.01M227.6 81.3h.01M226.6 84.5h.01M225.0 105.0h.01M226.7 107.8h.01M230.0 110.6h.01M226.6 116.3h.01M230.3 82.7h.01M225.2 51.9h.01M228.3 65.5h.01M230.6 117.1h.01M229.8 50.5h.01M231.0 96.8h.01M225.6 94.5h.01M228.7 97.8h.01M228.9 87.3h.01M229.3 102.4h.01M226.1 94.8h.01M230.9 84.7h.01M229.9 71.2h.01M226.3 103.8h.01M228.5 83.4h.01M227.6 56.7h.01M226.6 78.5h.01M231.0 64.1h.01M227.5 50.6h.01M227.0 69.3h.01M228.8 98.8h.01M228.6 111.3h.01M228.7 87.0h.01M226.8 82.2h.01M227.6 70.9h.01M228.2 76.7h.01M229.0 53.7h.01M230.9 84.8h.01M227.5 88.7h.01M228.5 55.3h.01M226.5 74.0h.01M228.6 95.5h.01M230.6 113.6h.01M228.9 46.8h.01M234.7 129.8h.01M234.7 127.6h.01M234.5 127.9h.01M236.2 129.2h.01M237.3 130.7h.01M233.8 129.7h.01M238.2 129.9h.01M238.9 128.9h.01M236.8 128.2h.01M234.9 129.3h.01M234.4 120.3h.01M239.2 124.0h.01M235.0 123.1h.01M237.4 133.0h.01M253.4 115.4h.01M253.9 123.9h.01M250.4 129.8h.01M253.8 128.5h.01M250.7 129.4h.01M251.5 127.3h.01M254.8 120.6h.01M251.1 120.8h.01M255.0 102.7h.01M252.0 114.3h.01M250.7 126.6h.01M251.1 93.9h.01M251.4 122.6h.01M253.0 95.7h.01M254.5 121.6h.01M254.8 121.4h.01M251.9 92.9h.01M255.6 101.5h.01M251.1 120.5h.01M255.0 114.9h.01M252.3 119.6h.01M254.4 103.0h.01M254.5 95.7h.01M252.8 110.7h.01M250.8 120.2h.01M252.2 122.4h.01M251.4 116.1h.01M255.5 124.4h.01M251.2 119.5h.01M253.0 121.0h.01M250.6 99.1h.01M250.8 120.4h.01M253.6 120.5h.01M252.5 119.1h.01M254.6 120.3h.01M251.6 121.2h.01M250.7 119.4h.01M251.3 112.0h.01M254.0 124.7h.01M251.6 126.5h.01M252.3 114.8h.01M251.6 121.3h.01M251.8 108.4h.01M253.7 107.8h.01M250.1 116.1h.01M254.3 98.9h.01M253.2 119.0h.01M251.7 103.9h.01M250.2 121.6h.01M252.1 111.4h.01M253.0 120.4h.01M252.1 119.9h.01M251.6 130.9h.01M255.8 104.0h.01M255.3 116.6h.01M251.1 126.0h.01M251.4 122.4h.01M249.8 121.7h.01M253.5 121.7h.01M250.1 121.2h.01M250.4 125.9h.01M252.8 108.7h.01M250.0 108.1h.01M250.9 118.7h.01M251.3 109.0h.01M255.4 122.7h.01M255.3 112.2h.01M255.3 128.7h.01M255.6 122.7h.01M255.4 131.8h.01M255.2 105.7h.01M253.5 122.4h.01M253.2 126.0h.01M253.9 127.1h.01M255.7 120.9h.01M251.2 116.9h.01M249.8 114.8h.01M251.8 116.1h.01M251.4 125.5h.01M254.1 120.4h.01M255.0 120.8h.01M250.9 109.2h.01M250.6 124.3h.01M252.8 110.3h.01M253.4 131.6h.01M253.7 123.9h.01M254.5 121.2h.01M251.5 124.2h.01M253.9 96.7h.01M255.5 102.5h.01M251.8 122.0h.01M255.7 125.1h.01M249.8 113.9h.01M252.5 119.9h.01M250.1 104.3h.01M250.4 115.7h.01M251.0 119.7h.01M250.1 99.8h.01M255.7 122.4h.01M250.8 125.5h.01M253.0 113.2h.01M253.1 102.1h.01M253.8 109.5h.01M250.3 123.3h.01M254.9 111.7h.01M252.8 67.4h.01M267.6 123.0h.01M268.4 121.2h.01M270.7 119.7h.01M266.8 130.1h.01M268.9 126.9h.01M267.6 126.2h.01M271.9 110.8h.01M266.9 129.9h.01M269.3 116.8h.01M270.7 127.6h.01M267.2 127.9h.01M268.5 116.4h.01M271.5 121.9h.01M272.1 130.3h.01M268.2 120.9h.01M268.6 125.9h.01M270.2 129.9h.01M266.4 128.6h.01M266.8 126.0h.01M269.3 128.7h.01M268.5 111.7h.01M271.7 130.1h.01M268.3 129.0h.01M271.4 129.8h.01M266.7 126.8h.01M271.8 124.8h.01M268.2 130.0h.01M270.6 131.3h.01M269.7 120.3h.01M268.2 122.8h.01M271.7 110.4h.01M268.3 113.4h.01M272.0 124.9h.01M269.8 110.6h.01M272.1 109.5h.01M269.0 121.0h.01M270.5 123.8h.01M267.1 114.3h.01M267.0 116.5h.01M271.3 125.1h.01M271.5 122.6h.01M269.0 105.2h.01M271.6 129.6h.01M270.4 128.4h.01M267.2 131.0h.01M270.2 122.8h.01M272.2 126.1h.01M270.6 116.8h.01M272.2 125.5h.01M271.2 104.8h.01M267.6 130.6h.01M271.9 130.8h.01M270.7 130.1h.01M268.2 119.9h.01M271.1 130.7h.01M271.1 131.9h.01M269.1 110.0h.01M270.5 89.6h.01M288.6 77.2h.01M284.1 78.7h.01M284.9 63.4h.01M285.2 46.4h.01M285.5 66.2h.01M288.3 68.1h.01M286.8 57.8h.01M285.3 74.3h.01M288.7 87.5h.01M283.7 71.9h.01M286.5 71.0h.01M286.1 77.7h.01M284.2 67.7h.01M288.5 68.5h.01M282.8 70.7h.01M288.6 69.3h.01M285.5 76.0h.01M284.6 76.5h.01M287.8 76.8h.01M285.5 52.2h.01M284.4 77.4h.01M282.9 69.7h.01M284.2 89.3h.01M286.4 69.8h.01M288.1 76.0h.01M288.1 86.6h.01M287.7 65.0h.01M285.4 67.9h.01M286.3 67.5h.01M287.0 62.6h.01M283.6 58.5h.01M286.9 83.0h.01M286.2 65.4h.01M284.8 81.6h.01M285.0 40.5h.01M293.3 130.4h.01M292.3 117.9h.01M295.2 124.3h.01M296.6 132.2h.01M294.9 117.1h.01M295.9 122.8h.01M294.3 122.1h.01M292.6 116.8h.01M295.5 116.8h.01M293.7 117.0h.01M292.3 132.8h.01M295.0 123.7h.01M295.2 128.1h.01M293.5 122.2h.01M294.8 113.0h.01M297.0 129.5h.01M291.9 125.6h.01M293.8 125.5h.01M295.2 117.7h.01M291.2 116.0h.01M291.6 112.6h.01M295.4 126.2h.01M294.7 130.3h.01M291.5 132.0h.01M291.2 119.2h.01M296.8 118.0h.01M293.3 132.1h.01M293.2 123.9h.01M293.3 116.5h.01M291.2 123.8h.01M296.2 117.0h.01M293.3 119.0h.01M292.7 125.1h.01M295.7 130.9h.01M296.7 128.7h.01M293.3 111.9h.01M296.7 122.8h.01M296.1 126.3h.01M292.1 120.1h.01M295.3 121.2h.01M294.1 124.0h.01M292.5 124.8h.01M293.5 128.3h.01M291.3 113.6h.01M295.1 130.4h.01M292.4 124.3h.01M294.7 116.6h.01M294.8 112.9h.01M295.6 127.0h.01M292.3 114.2h.01M291.5 112.9h.01M294.4 130.2h.01M295.6 120.9h.01M294.0 128.6h.01M292.9 129.9h.01M296.1 119.2h.01M295.6 114.6h.01M291.5 124.5h.01M291.5 130.9h.01M292.9 124.2h.01M291.0 116.3h.01M293.9 120.7h.01M295.5 129.1h.01M292.7 124.4h.01M296.9 120.0h.01M291.0 114.8h.01M293.9 117.2h.01M293.7 115.9h.01M295.1 115.1h.01M293.8 114.1h.01M294.1 117.4h.01M292.3 128.3h.01M292.8 122.2h.01M296.8 116.4h.01M296.8 122.1h.01M291.2 119.7h.01M291.4 121.3h.01M295.6 115.7h.01M295.7 115.2h.01M292.8 116.8h.01M291.3 117.5h.01M296.1 116.5h.01M292.9 120.8h.01M293.9 129.0h.01M293.9 123.2h.01M294.0 132.5h.01M291.7 130.8h.01M295.9 125.1h.01M293.0 122.5h.01M293.9 114.7h.01M291.5 115.7h.01M293.7 127.3h.01M293.8 122.4h.01M296.5 115.6h.01M296.6 124.1h.01M296.7 122.2h.01M296.5 126.3h.01M295.4 112.9h.01M295.5 128.4h.01M293.0 118.3h.01M293.7 125.5h.01M292.5 70.2h.01M295.3 95.8h.01M299.7 108.3h.01M303.8 99.5h.01M303.6 127.1h.01M301.4 130.2h.01M300.4 128.6h.01M303.7 129.7h.01M300.4 131.4h.01M304.0 128.3h.01M301.1 111.2h.01M303.0 129.3h.01M301.1 107.3h.01M302.7 102.7h.01M304.9 117.0h.01M299.4 119.4h.01M300.4 104.5h.01M300.6 126.6h.01M302.7 101.6h.01M303.0 105.1h.01M303.2 129.0h.01M301.8 111.1h.01M299.6 129.1h.01M304.2 109.5h.01M301.6 101.6h.01M300.4 120.9h.01M300.4 107.5h.01M304.0 129.4h.01M301.3 121.3h.01M301.2 116.0h.01M299.4 111.9h.01M300.3 115.7h.01M299.5 104.1h.01M303.5 128.4h.01M301.7 127.3h.01M301.3 112.4h.01M301.7 131.7h.01M304.1 127.0h.01M302.2 119.1h.01M304.6 125.0h.01M300.3 125.9h.01M300.0 127.2h.01M300.9 109.2h.01M303.5 123.1h.01M301.5 125.4h.01M303.8 115.5h.01M301.5 130.3h.01M302.7 123.3h.01M302.4 117.4h.01M305.2 127.5h.01M302.8 104.9h.01M299.7 126.4h.01M301.7 119.5h.01M303.3 124.1h.01M303.0 120.5h.01M300.4 101.3h.01M303.3 107.8h.01M302.3 111.2h.01M301.4 125.5h.01M305.2 131.5h.01M300.6 128.1h.01M304.4 116.1h.01M304.9 119.1h.01M299.8 118.9h.01M301.2 119.4h.01M301.8 115.8h.01M300.4 103.9h.01M300.3 114.2h.01M303.7 125.1h.01M302.4 124.3h.01M304.9 114.6h.01M300.7 114.1h.01M302.7 104.8h.01M302.9 128.0h.01M301.2 124.5h.01M305.2 61.0h.01M320.6 114.7h.01M319.4 91.4h.01M320.8 109.4h.01M320.0 98.0h.01M320.2 121.8h.01M319.6 76.5h.01M320.1 93.1h.01M317.0 105.1h.01M319.0 89.6h.01M320.2 96.9h.01M321.3 125.8h.01M316.4 105.6h.01M318.2 98.8h.01M317.6 115.2h.01M320.5 97.2h.01M320.3 98.8h.01M320.3 89.1h.01M316.5 95.1h.01M320.7 110.4h.01M320.9 63.7h.01M316.9 76.2h.01M318.7 102.5h.01M320.0 77.5h.01M317.4 76.2h.01M316.9 81.1h.01M319.0 85.0h.01M321.3 105.2h.01M316.7 114.0h.01M320.2 116.2h.01M316.7 104.0h.01M320.5 93.8h.01M320.8 84.1h.01M317.5 108.4h.01M317.6 112.2h.01M317.1 112.9h.01M319.7 88.0h.01M316.9 123.6h.01M319.6 108.4h.01M315.9 75.3h.01M316.6 121.2h.01M320.1 105.0h.01M315.8 88.3h.01M319.5 111.3h.01M318.3 73.2h.01M317.2 81.6h.01M321.6 110.2h.01M321.0 109.0h.01M321.7 106.9h.01M318.9 85.0h.01M317.5 109.6h.01M317.1 115.8h.01M320.0 75.8h.01M316.4 95.5h.01M321.1 88.6h.01M317.9 93.9h.01M318.2 69.7h.01M319.4 102.4h.01M315.9 84.3h.01M318.2 110.4h.01M321.5 76.4h.01M321.5 101.0h.01M316.6 98.2h.01M317.8 104.9h.01M319.5 99.9h.01M317.8 89.4h.01M316.0 81.3h.01M318.9 104.2h.01M316.7 96.7h.01M316.2 104.0h.01M321.1 79.0h.01M318.3 111.3h.01M316.2 77.6h.01M319.7 115.5h.01M318.2 111.5h.01M317.2 94.5h.01M320.0 106.1h.01M315.8 90.4h.01M318.3 103.9h.01M318.0 101.7h.01M315.8 114.8h.01M319.0 79.7h.01M319.9 79.7h.01M319.6 93.2h.01M318.9 100.9h.01M318.3 104.1h.01M320.2 100.5h.01M321.1 102.6h.01M320.4 93.5h.01M320.0 98.8h.01M316.0 65.4h.01M319.4 90.8h.01M320.4 108.5h.01M318.7 65.0h.01M319.2 68.9h.01M316.8 90.5h.01M317.0 99.9h.01M317.1 86.6h.01M321.5 91.0h.01M316.8 94.0h.01M317.5 93.7h.01M317.0 93.1h.01M317.5 83.2h.01M316.2 57.5h.01M334.0 86.3h.01M333.2 91.1h.01M336.4 74.8h.01M332.5 102.2h.01M334.3 75.6h.01M334.5 64.8h.01M336.5 63.5h.01M337.7 62.7h.01M337.5 97.4h.01M336.6 75.1h.01M336.1 86.6h.01M332.3 67.6h.01M336.3 70.4h.01M332.9 98.8h.01M337.1 105.2h.01M333.6 90.7h.01M335.2 76.0h.01M334.0 86.1h.01M337.5 75.0h.01M333.7 98.6h.01M337.0 66.3h.01M333.9 93.8h.01M337.4 83.8h.01M332.7 93.9h.01M335.2 97.0h.01M334.1 66.3h.01M337.9 65.7h.01M334.6 87.5h.01M338.0 62.9h.01M335.0 73.3h.01M332.7 82.2h.01M333.5 90.3h.01M332.8 69.0h.01M334.4 92.0h.01M334.3 61.6h.01M335.5 69.3h.01M334.4 88.6h.01M337.9 106.0h.01M334.0 75.2h.01M337.7 78.0h.01M337.6 65.6h.01M335.5 88.9h.01M335.9 59.0h.01M333.2 96.5h.01M334.2 69.9h.01M333.3 67.5h.01M336.5 76.2h.01M333.5 75.2h.01M334.6 89.9h.01M332.6 89.8h.01M337.0 77.2h.01M337.4 65.9h.01M336.0 67.8h.01M333.8 65.2h.01M337.4 65.6h.01M336.8 71.9h.01M336.9 74.2h.01M336.9 62.2h.01M335.7 78.7h.01M336.2 88.5h.01M332.4 90.6h.01M333.0 69.4h.01M337.8 88.4h.01M337.6 69.5h.01M335.8 93.5h.01M336.6 90.6h.01M336.4 66.0h.01M333.2 61.1h.01M333.7 72.3h.01M334.9 109.6h.01M332.5 63.6h.01M334.1 94.1h.01M334.0 96.3h.01M336.2 82.2h.01M333.3 78.3h.01M337.2 99.9h.01M333.5 105.0h.01M336.5 76.8h.01M334.9 104.1h.01M334.5 100.0h.01M335.9 82.1h.01M337.9 81.6h.01M336.0 77.4h.01M333.4 62.3h.01M337.1 87.2h.01M334.6 72.7h.01M337.7 75.9h.01M333.4 61.6h.01M335.3 78.2h.01M332.4 78.3h.01M332.5 78.7h.01M333.3 67.1h.01M333.7 113.6h.01M334.3 111.8h.01M334.0 83.4h.01M333.3 72.7h.01M333.2 93.7h.01M333.5 78.4h.01M337.8 79.8h.01M337.9 57.8h.01M353.9 119.8h.01M352.4 88.9h.01M351.2 102.5h.01M352.9 121.7h.01M349.6 97.2h.01M350.4 96.0h.01M354.3 102.0h.01M350.9 87.1h.01M352.4 97.3h.01M350.0 108.4h.01M354.0 111.9h.01M353.3 97.8h.01M351.2 101.3h.01M351.1 78.2h.01M350.6 74.5h.01M349.5 103.9h.01M352.0 83.8h.01M352.4 58.3h.01M357.5 70.4h.01M359.9 90.9h.01M357.9 91.5h.01M358.5 80.6h.01M362.7 82.3h.01M362.5 75.5h.01M362.8 71.5h.01M360.0 83.4h.01M361.9 95.5h.01M360.1 81.7h.01M359.4 92.8h.01M358.0 103.5h.01M362.3 74.0h.01M360.4 85.5h.01M358.3 84.2h.01M362.2 94.0h.01M358.6 65.2h.01M360.5 62.9h.01M362.3 70.0h.01M362.8 111.8h.01M358.7 87.5h.01M362.3 84.9h.01M361.6 85.6h.01M358.0 84.4h.01M362.1 62.9h.01M361.2 74.1h.01M362.2 63.0h.01M358.2 90.8h.01M360.3 81.8h.01M357.4 55.3h.01M358.8 69.9h.01M359.1 75.2h.01M360.0 86.4h.01M358.8 74.1h.01M359.3 91.2h.01M360.2 66.8h.01M362.1 72.1h.01M360.5 79.4h.01M359.0 102.0h.01M357.7 102.7h.01M360.3 102.5h.01M357.7 65.6h.01M358.1 90.0h.01M359.3 104.3h.01M361.0 63.5h.01M357.0 64.1h.01M359.4 84.7h.01M361.5 75.9h.01M362.6 101.2h.01M357.7 111.3h.01M361.6 88.4h.01M359.9 78.3h.01M359.8 113.1h.01M360.4 97.6h.01M358.7 90.2h.01M359.5 71.8h.01M361.6 81.4h.01M362.4 74.4h.01M360.7 66.4h.01M358.3 51.3h.01M369.3 97.7h.01M367.1 116.9h.01M367.1 94.7h.01M366.3 103.0h.01M365.4 102.9h.01M366.7 103.1h.01M365.3 117.1h.01M370.3 116.1h.01M365.4 116.7h.01M365.7 123.4h.01M371.1 119.6h.01M366.9 127.8h.01M368.8 112.7h.01M368.9 116.3h.01M366.2 110.4h.01M367.5 96.8h.01M371.1 113.6h.01M369.2 97.9h.01M365.7 123.2h.01M365.8 102.0h.01M370.4 122.5h.01M369.1 120.9h.01M369.9 113.5h.01M368.2 95.3h.01M369.7 116.0h.01M370.9 102.1h.01M367.9 102.1h.01M368.4 102.4h.01M366.6 124.3h.01M366.3 109.0h.01M367.8 110.5h.01M365.8 123.0h.01M369.4 127.0h.01M366.8 105.9h.01M366.0 105.5h.01M368.7 74.9h.01M385.8 116.0h.01M386.9 128.2h.01M387.6 125.1h.01M386.0 129.7h.01M386.6 126.7h.01M382.3 115.8h.01M383.2 115.4h.01M382.7 130.0h.01M383.7 132.7h.01M387.1 129.8h.01M387.2 126.6h.01M386.9 125.8h.01M384.3 118.4h.01M382.4 121.5h.01M383.5 130.3h.01M382.4 131.4h.01M385.0 128.7h.01M382.7 132.1h.01M382.3 121.9h.01M386.4 132.1h.01M387.5 131.0h.01M383.6 129.9h.01M382.0 125.3h.01M383.7 123.4h.01M386.8 114.5h.01M387.1 121.5h.01M387.4 129.9h.01M386.8 114.3h.01M387.3 126.1h.01M383.6 127.0h.01M382.8 125.1h.01M383.4 127.4h.01M382.9 117.7h.01M383.8 117.4h.01M383.0 128.8h.01M383.1 110.4h.01M400.1 126.5h.01M402.9 131.9h.01M398.5 120.3h.01M401.0 126.1h.01M402.5 120.8h.01M400.2 116.6h.01M402.4 122.2h.01M399.4 120.4h.01M403.6 129.4h.01M398.6 130.6h.01M399.6 109.6h.01M402.7 130.6h.01M403.7 123.8h.01M403.4 126.3h.01M399.3 109.9h.01M399.1 131.1h.01M398.8 119.1h.01M400.1 120.8h.01M403.0 126.4h.01M403.7 129.1h.01M400.8 108.8h.01M399.4 133.2h.01M401.6 123.8h.01M401.8 124.3h.01M399.2 116.9h.01M403.0 125.7h.01M399.1 130.7h.01M402.5 121.1h.01M403.8 116.2h.01M399.9 113.8h.01M402.9 119.6h.01M404.0 106.4h.01M403.5 126.7h.01M403.2 126.5h.01M402.3 112.8h.01M401.9 115.4h.01M403.6 114.9h.01M403.8 121.5h.01M398.5 125.9h.01M403.4 118.9h.01M403.4 111.6h.01M401.6 114.9h.01M400.5 130.4h.01M401.9 112.1h.01M400.4 129.7h.01M402.1 130.7h.01M399.0 126.9h.01M399.8 124.4h.01M400.7 127.7h.01M403.7 128.7h.01M403.7 122.7h.01M401.0 118.1h.01M404.1 107.3h.01M398.4 121.8h.01M403.9 130.1h.01M399.6 123.8h.01M400.3 111.9h.01M400.8 128.5h.01M403.0 117.3h.01M403.2 118.3h.01M401.8 119.1h.01M400.2 127.6h.01M401.3 114.3h.01M403.0 131.9h.01M399.3 123.5h.01M403.1 113.1h.01M402.8 128.6h.01M400.7 122.0h.01M398.9 115.7h.01M402.2 117.1h.01M401.2 110.1h.01M399.0 112.8h.01M402.5 132.0h.01M401.8 121.7h.01M401.4 133.1h.01M404.1 126.3h.01M400.2 117.4h.01M401.8 129.5h.01M403.0 127.9h.01M401.2 120.8h.01M402.7 128.9h.01M402.8 125.2h.01M400.5 121.6h.01M399.5 114.6h.01M399.1 121.1h.01M403.1 119.3h.01M400.7 122.0h.01M403.3 126.9h.01M403.5 122.4h.01M398.8 130.7h.01M401.1 112.8h.01M402.4 122.8h.01M400.3 110.4h.01M403.7 131.3h.01M399.8 115.0h.01M400.9 110.5h.01M401.9 115.3h.01M398.5 109.2h.01M403.5 96.2h.01M415.4 109.8h.01M420.1 84.8h.01M414.7 72.9h.01M418.5 84.3h.01M416.5 91.1h.01M414.7 89.2h.01M418.6 104.4h.01M419.2 102.1h.01M419.0 96.5h.01M417.1 106.8h.01M416.7 78.7h.01M414.7 74.6h.01M417.5 116.3h.01M418.4 92.7h.01M414.7 70.8h.01M420.0 69.5h.01M415.4 96.4h.01M416.7 74.8h.01M418.8 96.4h.01M419.2 89.7h.01M418.9 84.0h.01M419.1 89.6h.01M416.7 92.0h.01M419.1 99.0h.01M415.5 89.5h.01M417.1 100.3h.01M420.0 78.3h.01M416.9 104.4h.01M419.1 85.8h.01M419.4 110.9h.01M416.4 106.4h.01M417.9 107.8h.01M417.9 89.6h.01M434.0 88.8h.01M431.8 81.7h.01M435.9 95.1h.01M433.6 111.7h.01M431.2 107.3h.01M436.5 104.5h.01M431.9 126.8h.01M436.5 59.9h.01M434.9 90.6h.01M434.8 84.0h.01M434.8 99.8h.01M436.8 126.0h.01M435.4 74.0h.01M434.6 99.5h.01M432.0 96.5h.01M431.8 100.3h.01M433.5 107.7h.01M437.0 72.3h.01M434.7 72.4h.01M431.2 91.1h.01M432.7 81.3h.01M431.2 68.3h.01M436.1 99.0h.01M433.1 72.0h.01M434.6 80.0h.01M431.6 84.9h.01M433.5 84.4h.01M432.6 115.0h.01M435.4 91.8h.01M437.0 93.1h.01M433.7 94.5h.01M431.3 92.6h.01M435.8 110.9h.01M435.1 118.3h.01M434.7 65.1h.01M434.2 77.4h.01M437.0 110.7h.01M435.8 98.2h.01M435.5 105.2h.01M431.5 81.3h.01M436.6 73.0h.01M434.7 101.5h.01M433.4 84.3h.01M434.8 102.1h.01M433.2 82.6h.01M433.0 116.4h.01M435.4 86.7h.01M435.4 81.4h.01M432.2 85.0h.01M434.8 84.5h.01M432.3 100.4h.01M433.2 44.4h.01M439.9 91.4h.01M445.0 94.3h.01M439.7 76.3h.01M439.6 73.9h.01M441.0 104.4h.01M443.6 88.3h.01M443.2 64.1h.01M441.1 90.4h.01M444.3 108.9h.01M443.6 77.4h.01M442.2 90.0h.01M442.4 64.6h.01M445.1 100.9h.01M444.2 114.7h.01M444.1 108.8h.01M442.5 110.0h.01M440.3 80.2h.01M444.9 92.5h.01M444.9 85.4h.01M440.6 81.3h.01M444.6 53.1h.01M458.0 65.8h.01M457.1 92.5h.01M460.9 99.7h.01M459.2 86.2h.01M458.2 71.3h.01M457.7 91.4h.01M461.0 112.9h.01M460.7 106.1h.01M458.8 102.5h.01M456.2 123.9h.01M457.2 82.2h.01M461.0 98.7h.01M460.4 86.7h.01M457.4 68.3h.01M461.4 75.1h.01M459.4 95.5h.01M459.4 95.4h.01M460.7 74.2h.01M457.0 98.7h.01M460.7 79.3h.01M456.0 80.2h.01M458.6 86.9h.01M459.5 80.7h.01M457.4 70.7h.01M459.4 80.5h.01M459.6 100.4h.01M457.3 55.2h.01M460.7 85.2h.01M458.4 86.5h.01M460.3 76.5h.01M456.7 66.2h.01M459.3 84.1h.01M457.5 93.2h.01M460.6 78.7h.01M458.9 105.1h.01M460.7 90.5h.01M459.3 88.9h.01M457.2 98.3h.01M460.4 86.6h.01M458.1 66.3h.01M459.8 77.2h.01M456.1 64.7h.01M460.9 99.3h.01M461.8 69.0h.01M461.2 96.7h.01M457.8 58.7h.01M459.9 89.9h.01M460.8 82.4h.01M458.2 87.8h.01M458.3 80.7h.01M457.2 56.7h.01M460.5 89.1h.01M456.4 94.4h.01M457.2 82.9h.01M456.6 94.1h.01M460.5 94.5h.01M461.5 101.5h.01M461.6 102.1h.01M456.7 89.8h.01M459.8 67.1h.01M456.3 72.1h.01M460.5 93.3h.01M461.0 71.9h.01M458.6 76.5h.01M456.4 95.4h.01M457.5 83.2h.01M456.5 62.9h.01M457.1 79.8h.01M460.7 69.4h.01M461.3 84.3h.01M458.2 83.6h.01M456.6 111.6h.01M460.8 63.9h.01M458.0 103.7h.01M457.3 78.6h.01M459.6 89.6h.01M461.4 87.4h.01M458.9 80.0h.01M459.9 89.5h.01M459.4 70.8h.01M456.5 78.5h.01M458.3 45.7h.01M456.3 126.3h.01M476.9 81.9h.01M472.9 72.4h.01M476.8 64.4h.01M476.1 67.7h.01M473.1 84.3h.01M477.9 77.7h.01M476.7 95.0h.01M474.6 68.5h.01M478.2 104.9h.01M475.5 77.6h.01M473.9 73.8h.01M473.3 99.6h.01M474.2 85.5h.01M472.6 65.8h.01M473.1 72.4h.01M476.7 105.0h.01M478.1 66.0h.01M473.8 80.7h.01M477.8 71.0h.01M475.1 83.9h.01M472.4 62.9h.01M474.9 72.7h.01M474.5 71.9h.01M474.1 69.4h.01M476.6 96.7h.01M474.4 82.8h.01M474.8 82.4h.01M473.8 85.7h.01M473.3 75.6h.01M475.4 58.3h.01M480.8 102.6h.01M486.5 101.1h.01M481.6 101.8h.01M484.1 90.6h.01M483.1 100.7h.01M481.1 119.2h.01M482.6 105.9h.01M484.6 104.1h.01M483.2 107.3h.01M482.6 112.1h.01M483.7 92.1h.01M484.9 96.5h.01M483.7 97.8h.01M481.7 123.7h.01M481.0 95.4h.01M480.8 98.5h.01M483.4 117.3h.01M484.4 94.4h.01M482.6 99.9h.01M481.3 101.4h.01M486.5 114.1h.01M482.4 123.7h.01M483.2 97.4h.01M484.2 120.3h.01M486.2 101.2h.01M480.7 116.0h.01M482.9 91.6h.01M484.0 113.3h.01M486.2 122.6h.01M482.8 118.9h.01M485.6 118.4h.01M484.3 83.8h.01M480.9 111.1h.01M483.5 105.0h.01M483.8 103.3h.01M483.5 94.5h.01M483.9 109.3h.01M480.9 107.7h.01M482.8 111.3h.01M482.1 91.8h.01M485.1 113.9h.01M481.4 119.5h.01M485.9 97.8h.01M483.6 112.3h.01M481.2 97.4h.01M480.8 103.3h.01M486.0 104.9h.01M481.1 98.8h.01M481.0 110.4h.01M481.0 93.9h.01M480.8 117.9h.01M486.0 93.2h.01M481.8 91.3h.01M485.2 98.9h.01M483.8 119.6h.01M481.6 126.7h.01M484.5 92.2h.01M484.5 114.7h.01M484.8 109.9h.01M485.9 100.2h.01M485.4 94.6h.01M483.8 94.0h.01M481.8 116.3h.01M483.3 111.8h.01M484.9 118.4h.01M481.4 103.0h.01M484.0 114.0h.01M485.1 121.2h.01M482.2 103.3h.01M485.5 108.0h.01M481.6 104.0h.01M481.8 103.5h.01M485.4 95.4h.01M484.2 111.1h.01M485.8 89.3h.01M482.9 94.0h.01M481.5 93.1h.01M482.5 123.4h.01M485.1 112.4h.01M483.6 117.7h.01M486.4 115.2h.01M485.8 115.4h.01M482.3 106.5h.01M482.5 115.3h.01M483.3 106.9h.01M481.9 88.7h.01M486.0 95.9h.01M482.4 92.0h.01M486.0 123.3h.01M485.3 114.6h.01M481.2 114.2h.01M481.7 98.4h.01M483.6 109.9h.01M485.8 119.7h.01M485.7 106.4h.01M486.4 105.4h.01M482.5 125.4h.01M486.3 108.8h.01M481.8 77.7h.01M482.2 71.2h.01M500.0 63.4h.01M502.6 68.7h.01M501.5 110.4h.01M500.5 66.3h.01M498.8 77.0h.01M502.7 66.2h.01M501.6 65.1h.01M499.2 64.7h.01M502.3 86.2h.01M499.2 81.9h.01M497.5 78.4h.01M502.6 86.3h.01M500.4 61.8h.01M500.8 74.1h.01M500.1 69.2h.01M501.2 94.0h.01M499.3 79.2h.01M500.3 78.0h.01M502.3 76.6h.01M502.6 68.8h.01M498.4 95.9h.01M497.7 49.8h.01M498.5 73.3h.01M497.2 47.1h.01M508.5 99.0h.01M505.5 117.4h.01M506.4 106.5h.01M507.8 97.0h.01M507.1 67.0h.01M508.3 90.9h.01M509.6 93.9h.01M509.5 104.6h.01M509.4 98.6h.01M510.5 68.0h.01M510.4 66.3h.01M509.9 89.1h.01M506.1 67.8h.01M510.9 88.5h.01M505.5 64.2h.01M510.6 110.4h.01M507.9 90.4h.01M505.8 79.1h.01M509.6 68.3h.01M506.5 96.2h.01M511.2 87.0h.01M508.1 91.2h.01M508.4 85.7h.01M508.4 111.7h.01M508.1 93.5h.01M509.1 92.7h.01M509.1 95.9h.01M506.4 86.2h.01M511.3 92.3h.01M507.0 81.2h.01M510.4 78.5h.01M505.8 103.6h.01M510.0 72.8h.01M506.1 71.3h.01M508.9 92.8h.01M505.5 93.3h.01M510.6 112.0h.01M506.5 95.6h.01M507.5 106.0h.01M506.3 108.0h.01M505.7 87.4h.01M506.5 116.7h.01M505.5 92.5h.01M508.7 80.2h.01M510.2 94.9h.01M506.7 101.9h.01M507.2 93.6h.01M508.2 74.3h.01M509.5 104.4h.01M510.1 78.2h.01M510.7 92.4h.01M507.7 75.7h.01M507.3 90.9h.01M511.2 81.6h.01M509.0 82.8h.01M508.7 91.7h.01M507.0 106.7h.01M506.4 111.0h.01M508.0 86.5h.01M511.3 71.2h.01M510.5 65.0h.01M505.7 64.6h.01M510.6 100.3h.01M508.3 70.6h.01M510.2 92.5h.01M506.2 59.1h.01M509.9 106.1h.01M505.8 115.1h.01M510.5 64.0h.01M509.3 104.6h.01M506.8 70.2h.01M505.7 80.8h.01M510.3 102.4h.01M507.1 66.2h.01M511.2 90.9h.01M510.6 105.0h.01M505.5 93.3h.01M508.6 92.6h.01M507.3 100.7h.01M510.5 103.1h.01M510.1 90.7h.01M509.1 83.9h.01M507.5 57.4h.01M510.8 72.1h.01M507.9 75.1h.01M509.3 96.2h.01M507.6 96.3h.01M506.2 98.9h.01M506.0 87.7h.01M507.0 86.7h.01M510.6 102.7h.01M508.7 97.1h.01M508.8 78.1h.01M507.5 78.2h.01M509.1 84.5h.01M511.3 95.2h.01M507.7 78.7h.01M505.8 94.0h.01M507.3 110.1h.01M505.8 87.4h.01M507.9 99.6h.01M510.8 77.4h.01M509.6 94.9h.01M509.9 76.8h.01M511.1 80.9h.01M505.8 77.5h.01M507.2 85.4h.01M509.5 41.4h.01M509.7 130.2h.01M525.7 79.9h.01M526.2 75.0h.01M522.9 70.2h.01M523.9 69.9h.01M522.4 84.8h.01M523.8 74.0h.01M526.8 69.1h.01M523.2 82.3h.01M524.2 67.0h.01M526.0 84.3h.01M526.3 88.3h.01M532.4 125.5h.01M533.3 133.5h.01M534.6 130.0h.01M531.1 133.5h.01M534.0 125.5h.01M534.6 126.1h.01M534.2 124.6h.01M533.2 133.6h.01M535.3 125.0h.01M531.8 125.3h.01M533.7 125.2h.01M534.5 131.9h.01M535.9 129.9h.01M531.3 127.5h.01M530.3 132.3h.01M533.3 125.4h.01" stroke="#ff0000" stroke-opacity="0.45" stroke-width="1.7" stroke-linecap="square" fill="none"/><path d="M40.7 124.9h.01M40.3 109.2h.01M40.7 104.6h.01M36.8 120.4h.01M37.9 108.1h.01M38.5 89.9h.01M40.1 102.3h.01M36.0 89.4h.01M36.4 112.8h.01M36.0 104.7h.01M36.3 95.5h.01M40.5 102.6h.01M36.0 121.3h.01M35.6 103.3h.01M35.6 94.8h.01M45.7 85.7h.01M47.6 123.5h.01M44.6 72.1h.01M49.1 71.4h.01M44.2 90.7h.01M47.1 73.3h.01M46.8 75.7h.01M49.5 110.0h.01M45.0 108.2h.01M49.4 107.2h.01M47.9 70.0h.01M46.0 69.4h.01M45.2 92.7h.01M49.3 69.9h.01M47.0 82.3h.01M47.5 70.5h.01M47.9 102.8h.01M46.0 72.3h.01M46.4 101.2h.01M45.1 72.7h.01M43.8 122.4h.01M47.7 74.1h.01M46.2 73.3h.01M46.7 91.3h.01M45.1 128.3h.01M46.6 98.4h.01M49.4 70.5h.01M44.5 95.1h.01M49.0 108.0h.01M44.8 73.4h.01M45.9 89.6h.01M45.3 86.8h.01M44.9 76.0h.01M44.0 78.1h.01M45.9 70.5h.01M48.3 85.1h.01M45.2 116.4h.01M49.4 106.9h.01M45.3 104.0h.01M49.3 84.6h.01M49.4 101.9h.01M49.2 85.3h.01M48.3 79.9h.01M48.4 87.7h.01M44.1 68.8h.01M49.0 78.6h.01M46.7 76.5h.01M47.4 92.0h.01M44.4 73.4h.01M48.1 96.0h.01M49.0 85.0h.01M46.7 73.7h.01M44.3 74.9h.01M43.9 97.9h.01M47.2 93.7h.01M45.2 107.1h.01M47.4 127.4h.01M45.2 110.7h.01M45.6 75.8h.01M48.4 99.4h.01M47.0 78.8h.01M46.1 95.4h.01M47.1 90.7h.01M45.8 119.5h.01M49.1 95.4h.01M46.4 91.9h.01M49.1 116.5h.01M44.5 99.1h.01M46.6 72.1h.01M49.3 76.4h.01M46.0 78.3h.01M48.4 109.8h.01M44.8 88.4h.01M44.4 104.9h.01M47.0 97.8h.01M47.3 103.3h.01M47.2 74.0h.01M43.8 99.7h.01M48.3 124.5h.01M44.4 121.9h.01M43.9 91.4h.01M46.7 39.1h.01M64.3 104.4h.01M64.2 52.1h.01M64.0 63.8h.01M60.9 85.5h.01M61.2 126.5h.01M60.5 78.4h.01M62.3 79.9h.01M63.6 89.9h.01M65.5 101.6h.01M61.7 55.2h.01M65.5 65.8h.01M63.1 88.0h.01M61.5 60.1h.01M61.6 102.4h.01M61.9 88.2h.01M62.6 118.4h.01M61.6 73.7h.01M64.1 88.6h.01M61.8 88.7h.01M65.0 61.5h.01M65.9 110.2h.01M62.9 61.5h.01M63.7 91.2h.01M65.4 76.4h.01M64.8 118.0h.01M62.5 119.4h.01M64.1 62.9h.01M61.9 54.4h.01M64.5 89.1h.01M65.5 65.4h.01M64.2 127.7h.01M64.4 81.2h.01M61.2 114.7h.01M60.4 84.6h.01M62.4 74.2h.01M65.2 76.4h.01M64.3 69.4h.01M61.9 64.3h.01M61.6 84.7h.01M64.7 66.6h.01M65.1 68.3h.01M65.7 75.8h.01M62.9 59.4h.01M65.7 103.7h.01M65.0 86.6h.01M63.4 103.9h.01M61.4 122.5h.01M61.6 74.9h.01M62.3 79.2h.01M62.2 73.6h.01M64.2 101.4h.01M60.8 71.8h.01M61.8 58.3h.01M62.1 55.0h.01M60.2 63.1h.01M66.0 118.3h.01M61.3 106.6h.01M63.9 71.8h.01M61.0 83.0h.01M61.3 114.0h.01M64.9 72.5h.01M65.1 101.2h.01M65.1 110.9h.01M65.1 86.6h.01M63.2 67.3h.01M64.3 98.3h.01M60.4 64.0h.01M65.2 94.4h.01M64.1 88.4h.01M64.2 84.7h.01M62.8 55.1h.01M62.1 79.2h.01M66.0 107.3h.01M64.2 86.7h.01M63.0 80.3h.01M60.3 84.1h.01M64.1 97.5h.01M63.5 106.1h.01M63.4 61.0h.01M63.3 92.8h.01M63.6 83.2h.01M62.6 60.9h.01M64.4 111.9h.01M60.8 79.6h.01M63.5 73.9h.01M61.6 97.1h.01M62.0 88.9h.01M65.4 115.1h.01M64.6 74.7h.01M60.9 63.0h.01M60.4 91.8h.01M60.8 111.0h.01M62.8 95.7h.01M60.8 82.0h.01M64.3 90.6h.01M64.3 74.2h.01M61.1 59.2h.01M61.2 84.7h.01M61.1 109.3h.01M60.6 108.8h.01M60.4 101.2h.01M62.5 84.9h.01M60.3 121.3h.01M64.2 99.1h.01M63.6 81.0h.01M63.5 70.7h.01M64.0 115.6h.01M65.8 98.7h.01M63.2 89.3h.01M60.5 87.5h.01M62.4 103.0h.01M60.2 91.3h.01M62.0 91.6h.01M64.5 86.7h.01M63.7 56.0h.01M62.3 117.7h.01M63.1 68.0h.01M61.1 57.3h.01M61.4 101.0h.01M64.6 95.6h.01M65.4 111.7h.01M65.4 105.4h.01M64.7 72.7h.01M60.5 126.8h.01M63.1 107.7h.01M65.7 79.4h.01M64.5 108.8h.01M64.8 84.1h.01M63.7 104.6h.01M64.6 116.2h.01M62.0 61.9h.01M63.3 86.4h.01M64.1 72.1h.01M64.7 94.3h.01M63.2 104.4h.01M61.1 101.4h.01M60.3 77.4h.01M64.0 76.9h.01M65.6 53.5h.01M62.6 128.2h.01M65.7 103.4h.01M61.7 54.9h.01M64.0 120.4h.01M61.1 97.7h.01M65.1 78.7h.01M61.1 89.4h.01M65.5 103.1h.01M65.3 75.5h.01M60.3 113.5h.01M61.1 97.9h.01M60.7 114.6h.01M66.0 80.8h.01M60.4 69.5h.01M60.3 74.6h.01M63.1 90.9h.01M61.0 84.4h.01M63.1 90.7h.01M65.5 77.4h.01M60.6 97.6h.01M62.3 93.4h.01M63.4 104.9h.01M62.6 79.6h.01M62.5 110.4h.01M63.8 67.9h.01M61.6 102.3h.01M65.6 98.2h.01M63.4 89.5h.01M65.3 73.2h.01M63.9 67.2h.01M63.3 114.4h.01M63.4 93.1h.01M63.0 80.8h.01M61.0 87.1h.01M65.0 68.1h.01M64.0 89.2h.01M62.4 123.0h.01M61.7 102.2h.01M62.9 110.6h.01M62.9 89.1h.01M64.2 125.2h.01M62.2 68.8h.01M60.5 111.6h.01M61.6 96.8h.01M61.4 86.0h.01M60.4 104.5h.01M62.6 93.0h.01M63.6 70.1h.01M62.4 67.5h.01M62.4 95.7h.01M60.3 76.2h.01M62.6 80.1h.01M63.2 104.8h.01M60.4 109.7h.01M60.9 101.4h.01M60.7 57.3h.01M64.4 71.3h.01M63.7 80.6h.01M62.2 108.1h.01M61.7 111.7h.01M63.2 83.0h.01M65.0 91.6h.01M63.4 99.3h.01M62.3 111.1h.01M60.5 73.4h.01M62.1 111.6h.01M65.0 69.0h.01M65.4 68.6h.01M65.3 70.1h.01M63.5 59.9h.01M61.9 98.1h.01M61.4 51.4h.01M62.6 110.8h.01M61.1 95.3h.01M61.9 125.7h.01M61.1 95.3h.01M65.0 63.9h.01M64.0 43.6h.01M64.5 42.0h.01M60.9 131.8h.01M78.0 77.5h.01M78.0 75.2h.01M79.9 83.9h.01M79.2 91.2h.01M79.0 87.0h.01M82.6 93.1h.01M77.1 99.0h.01M80.9 68.6h.01M78.3 70.5h.01M77.8 78.0h.01M80.9 79.4h.01M81.0 83.5h.01M81.8 77.9h.01M77.6 68.9h.01M77.7 48.9h.01M77.3 63.1h.01M82.6 103.9h.01M77.4 81.2h.01M78.2 61.0h.01M82.5 95.8h.01M81.7 78.2h.01M78.9 68.0h.01M76.9 74.0h.01M80.4 86.6h.01M78.1 54.5h.01M77.4 53.4h.01M80.9 78.7h.01M79.5 76.5h.01M80.5 88.0h.01M80.2 79.9h.01M79.0 70.3h.01M76.9 55.4h.01M76.9 78.5h.01M82.2 56.8h.01M76.8 65.3h.01M77.8 87.6h.01M81.4 73.2h.01M80.0 108.7h.01M86.8 94.3h.01M85.9 86.8h.01M87.3 81.2h.01M86.2 81.2h.01M89.2 66.0h.01M89.0 78.3h.01M85.1 60.1h.01M88.7 71.7h.01M86.7 96.7h.01M85.7 74.7h.01M86.5 93.5h.01M87.3 86.3h.01M90.5 80.1h.01M86.2 106.7h.01M84.9 86.0h.01M88.4 44.6h.01M98.5 80.6h.01M96.5 93.5h.01M96.7 114.1h.01M95.9 81.2h.01M97.6 102.2h.01M96.7 88.9h.01M97.6 95.7h.01M98.7 95.3h.01M93.5 92.7h.01M97.0 78.1h.01M94.3 75.3h.01M94.1 117.3h.01M96.2 76.1h.01M96.0 106.7h.01M94.0 99.7h.01M95.6 68.7h.01M95.5 98.1h.01M98.2 96.4h.01M95.5 115.4h.01M97.5 107.2h.01M97.9 96.1h.01M96.4 95.0h.01M97.9 115.9h.01M95.3 76.4h.01M97.0 93.9h.01M97.8 105.6h.01M98.6 96.9h.01M94.1 99.9h.01M98.0 90.4h.01M97.5 117.6h.01M98.7 89.8h.01M97.6 114.0h.01M97.7 104.4h.01M93.9 85.3h.01M94.1 78.5h.01M95.3 91.4h.01M94.5 101.3h.01M94.2 103.1h.01M96.3 102.4h.01M96.6 111.3h.01M95.5 119.0h.01M94.0 97.3h.01M97.9 90.0h.01M95.6 119.7h.01M98.9 91.0h.01M95.4 89.6h.01M98.1 107.5h.01M94.7 106.9h.01M94.8 111.9h.01M94.0 102.6h.01M95.7 122.3h.01M94.8 100.9h.01M94.7 70.1h.01M97.5 96.0h.01M98.7 100.6h.01M98.0 110.3h.01M98.8 93.3h.01M97.2 100.9h.01M93.9 107.2h.01M93.3 101.3h.01M93.3 86.9h.01M95.2 98.3h.01M93.9 91.4h.01M98.7 99.9h.01M94.5 94.3h.01M96.9 121.8h.01M98.6 108.9h.01M95.9 106.9h.01M97.2 72.2h.01M96.0 99.8h.01M97.7 83.5h.01M98.9 116.2h.01M95.4 110.2h.01M93.9 79.0h.01M97.2 113.8h.01M98.3 99.8h.01M98.9 108.2h.01M96.5 114.3h.01M97.1 95.1h.01M97.4 89.3h.01M95.0 66.2h.01M96.7 91.5h.01M98.1 118.4h.01M96.2 93.8h.01M93.5 76.1h.01M94.8 90.4h.01M99.1 67.5h.01M97.5 83.9h.01M94.0 117.9h.01M94.1 100.5h.01M96.4 93.9h.01M97.7 114.7h.01M96.0 94.5h.01M97.2 105.7h.01M96.8 77.8h.01M93.7 108.3h.01M98.8 114.2h.01M98.6 126.7h.01M93.9 100.6h.01M93.5 96.6h.01M97.4 85.3h.01M97.1 71.5h.01M95.5 102.2h.01M95.1 124.1h.01M97.3 87.4h.01M99.1 71.7h.01M94.3 96.2h.01M98.7 94.7h.01M93.9 93.0h.01M93.4 68.4h.01M93.5 64.9h.01M95.3 47.0h.01M93.2 127.2h.01M104.4 86.2h.01M105.5 71.3h.01M102.4 95.4h.01M104.3 108.4h.01M104.7 82.9h.01M104.0 79.0h.01M104.1 70.2h.01M105.0 87.9h.01M103.0 88.4h.01M101.5 73.8h.01M104.6 76.9h.01M101.5 78.2h.01M102.1 103.3h.01M106.8 73.3h.01M103.1 79.3h.01M101.9 100.7h.01M102.2 57.7h.01M102.6 74.9h.01M102.9 54.8h.01M107.1 90.2h.01M105.9 67.7h.01M103.5 78.0h.01M102.3 80.1h.01M102.6 78.2h.01M103.0 60.6h.01M102.7 86.5h.01M106.4 88.0h.01M106.0 73.9h.01M106.3 74.1h.01M102.0 74.7h.01M106.6 76.0h.01M102.5 102.3h.01M106.4 71.8h.01M106.0 81.3h.01M103.2 68.9h.01M103.6 58.1h.01M102.3 80.5h.01M106.6 91.0h.01M101.9 85.6h.01M103.6 69.2h.01M101.4 69.3h.01M107.4 89.3h.01M107.0 46.7h.01M114.6 84.6h.01M111.2 88.1h.01M112.6 67.9h.01M113.2 103.4h.01M114.2 61.8h.01M115.1 77.4h.01M111.9 91.8h.01M112.9 74.3h.01M115.6 84.9h.01M115.4 85.7h.01M113.9 81.1h.01M110.0 78.9h.01M111.0 68.8h.01M113.3 91.3h.01M115.3 104.2h.01M114.4 90.5h.01M109.7 85.4h.01M114.7 68.6h.01M111.6 69.5h.01M113.1 73.6h.01M114.5 73.4h.01M111.0 61.7h.01M114.2 60.0h.01M111.6 68.6h.01M113.7 97.3h.01M112.9 66.0h.01M113.8 82.7h.01M111.5 71.8h.01M114.5 102.6h.01M110.6 82.8h.01M110.1 98.4h.01M112.3 80.0h.01M113.9 85.3h.01M111.9 80.5h.01M111.6 93.9h.01M111.9 68.4h.01M114.8 103.4h.01M114.2 65.6h.01M111.9 76.9h.01M113.4 83.2h.01M112.7 67.1h.01M115.1 71.4h.01M115.1 65.9h.01M109.8 69.9h.01M110.9 72.3h.01M114.4 79.1h.01M111.9 81.3h.01M113.4 75.6h.01M113.1 73.3h.01M112.1 103.0h.01M112.2 83.6h.01M115.5 87.8h.01M111.7 73.1h.01M112.3 78.5h.01M113.6 67.1h.01M111.4 97.3h.01M109.9 78.0h.01M111.3 65.7h.01M114.5 64.9h.01M113.2 75.0h.01M115.5 40.5h.01M130.1 119.1h.01M127.3 110.6h.01M130.5 114.6h.01M130.6 102.2h.01M127.7 115.1h.01M130.3 107.8h.01M126.2 104.0h.01M147.4 93.1h.01M146.0 106.3h.01M148.0 103.4h.01M144.6 92.3h.01M146.5 75.1h.01M144.5 80.5h.01M147.6 82.5h.01M144.7 71.4h.01M143.0 61.8h.01M148.5 92.6h.01M142.7 91.6h.01M146.6 65.2h.01M146.7 95.1h.01M142.8 94.9h.01M147.9 92.2h.01M144.2 108.4h.01M144.7 91.8h.01M144.6 84.8h.01M148.4 89.6h.01M147.0 107.9h.01M148.6 93.4h.01M148.3 97.2h.01M148.2 97.3h.01M142.7 64.9h.01M146.1 101.1h.01M148.1 88.4h.01M143.1 79.1h.01M148.4 88.3h.01M148.5 95.8h.01M146.0 75.4h.01M145.8 89.5h.01M143.7 102.8h.01M143.2 111.1h.01M147.8 103.0h.01M146.2 57.0h.01M146.1 110.5h.01M143.2 78.5h.01M144.5 78.6h.01M144.5 84.7h.01M145.3 122.6h.01M144.8 106.9h.01M145.4 81.9h.01M145.4 72.6h.01M144.6 99.6h.01M146.7 96.2h.01M146.5 103.0h.01M143.0 80.3h.01M148.2 75.7h.01M145.2 114.0h.01M147.7 87.4h.01M145.8 93.9h.01M144.5 111.7h.01M146.3 73.3h.01M145.7 70.3h.01M148.1 81.9h.01M147.6 99.0h.01M148.1 107.9h.01M143.0 89.6h.01M145.1 80.2h.01M147.3 84.1h.01M147.6 86.3h.01M144.5 103.6h.01M147.4 77.7h.01M148.4 111.0h.01M144.6 60.9h.01M148.6 89.8h.01M144.6 98.0h.01M144.5 79.3h.01M146.0 58.6h.01M142.9 110.2h.01M146.9 87.7h.01M145.0 106.2h.01M148.2 70.7h.01M144.4 70.2h.01M146.4 79.8h.01M148.5 73.7h.01M146.5 65.0h.01M144.2 92.2h.01M144.1 106.0h.01M142.7 118.9h.01M144.0 94.0h.01M147.9 104.7h.01M144.5 89.8h.01M144.9 87.9h.01M148.0 108.9h.01M143.8 83.1h.01M148.2 95.0h.01M144.9 71.5h.01M144.3 88.3h.01M147.1 87.9h.01M143.5 55.7h.01M143.1 55.8h.01M160.5 75.0h.01M161.9 76.0h.01M164.1 77.3h.01M161.4 77.6h.01M159.9 74.2h.01M159.7 99.8h.01M160.8 69.3h.01M163.6 71.1h.01M160.5 107.0h.01M169.0 84.4h.01M167.8 70.1h.01M171.6 71.2h.01M168.4 49.1h.01M170.7 97.1h.01M170.6 59.7h.01M172.8 65.6h.01M172.2 58.8h.01M172.3 90.6h.01M169.8 49.0h.01M170.3 83.1h.01M171.4 50.5h.01M171.4 49.1h.01M169.0 53.3h.01M170.3 94.6h.01M172.9 56.2h.01M173.0 83.8h.01M170.5 91.9h.01M172.0 54.2h.01M172.7 76.7h.01M171.1 58.9h.01M171.9 85.0h.01M171.6 81.3h.01M171.3 74.6h.01M172.0 67.9h.01M169.3 81.7h.01M172.5 72.1h.01M173.1 71.0h.01M168.2 74.6h.01M172.9 53.1h.01M168.2 94.7h.01M169.8 55.4h.01M168.5 90.9h.01M167.6 83.4h.01M169.9 50.0h.01M169.8 91.4h.01M171.6 42.1h.01M188.7 81.5h.01M186.9 125.6h.01M186.2 92.6h.01M186.0 70.4h.01M185.5 66.2h.01M185.1 102.0h.01M185.4 74.5h.01M186.5 99.2h.01M187.7 99.0h.01M187.5 91.8h.01M188.0 74.4h.01M186.6 82.3h.01M185.5 100.0h.01M187.8 101.5h.01M188.9 110.0h.01M189.6 103.4h.01M188.3 106.4h.01M186.6 94.8h.01M188.9 86.2h.01M187.0 86.0h.01M187.5 112.6h.01M184.3 108.5h.01M188.0 96.8h.01M185.6 121.6h.01M188.1 105.1h.01M184.3 93.1h.01M185.1 93.3h.01M188.2 84.3h.01M187.6 91.0h.01M185.6 113.9h.01M189.1 126.1h.01M203.2 87.4h.01M203.8 85.7h.01M204.8 92.6h.01M201.8 84.2h.01M205.0 86.1h.01M200.6 125.2h.01M205.3 91.5h.01M206.2 56.8h.01M200.7 88.7h.01M204.0 116.1h.01M204.8 98.0h.01M201.9 63.9h.01M202.9 78.2h.01M205.6 63.6h.01M204.4 91.5h.01M202.2 104.6h.01M202.9 91.6h.01M202.1 65.6h.01M202.7 73.7h.01M203.6 86.7h.01M200.5 89.3h.01M203.4 85.8h.01M204.4 85.5h.01M205.8 74.4h.01M203.4 81.4h.01M204.6 96.6h.01M204.4 84.9h.01M205.3 63.0h.01M201.2 67.2h.01M200.5 71.4h.01M203.8 84.4h.01M204.2 83.4h.01M204.4 86.2h.01M204.2 69.2h.01M205.4 76.1h.01M203.0 53.4h.01M204.5 89.6h.01M202.0 80.1h.01M206.2 77.1h.01M202.0 84.0h.01M201.0 69.5h.01M204.7 95.8h.01M201.1 80.2h.01M201.3 94.0h.01M204.0 88.7h.01M200.3 88.8h.01M202.3 79.7h.01M206.3 79.7h.01M206.2 75.2h.01M205.1 92.3h.01M205.8 77.6h.01M203.5 96.2h.01M205.9 68.7h.01M204.3 51.9h.01M203.2 103.5h.01M203.2 94.6h.01M202.6 120.1h.01M205.0 90.2h.01M200.5 85.7h.01M203.7 86.1h.01M202.8 90.7h.01M201.6 120.9h.01M203.1 97.2h.01M201.4 92.6h.01M204.7 82.7h.01M203.3 58.3h.01M205.7 72.5h.01M202.6 54.7h.01M202.5 75.9h.01M205.4 111.1h.01M204.2 83.8h.01M203.3 89.2h.01M203.0 80.9h.01M203.8 82.2h.01M204.7 101.9h.01M200.5 92.9h.01M203.6 69.2h.01M202.8 86.1h.01M204.0 77.7h.01M205.4 70.3h.01M201.9 98.1h.01M202.5 82.3h.01M200.6 94.5h.01M204.3 75.6h.01M202.8 93.5h.01M205.8 80.3h.01M204.2 68.5h.01M202.7 105.3h.01M202.7 58.8h.01M203.2 68.0h.01M203.2 75.3h.01M201.7 96.1h.01M205.1 75.1h.01M206.0 70.9h.01M202.1 115.1h.01M205.1 94.6h.01M203.9 118.6h.01M202.5 107.9h.01M200.9 82.4h.01M206.2 74.0h.01M203.0 81.5h.01M203.3 85.3h.01M203.0 45.5h.01M204.7 45.4h.01M221.4 72.0h.01M219.9 66.8h.01M220.2 85.0h.01M222.2 63.8h.01M220.1 81.3h.01M221.2 99.0h.01M222.3 60.3h.01M216.9 113.4h.01M217.4 87.5h.01M219.3 82.3h.01M221.3 51.3h.01M218.4 116.2h.01M222.6 67.5h.01M220.3 64.1h.01M219.9 59.9h.01M220.2 94.2h.01M220.9 86.2h.01M221.9 69.2h.01M222.0 46.4h.01M230.6 53.0h.01M227.3 90.8h.01M230.8 100.9h.01M227.1 75.7h.01M226.5 52.5h.01M229.3 90.5h.01M230.2 107.8h.01M228.3 89.3h.01M229.9 72.8h.01M228.9 83.6h.01M228.7 49.6h.01M229.8 104.6h.01M225.9 79.9h.01M226.6 97.8h.01M230.3 91.1h.01M229.7 83.6h.01M227.6 100.2h.01M226.8 69.4h.01M227.6 55.1h.01M228.2 85.9h.01M226.1 66.8h.01M228.5 93.0h.01M226.7 88.4h.01M228.6 75.7h.01M228.7 66.0h.01M225.9 69.9h.01M228.7 108.3h.01M228.6 89.6h.01M227.9 77.0h.01M230.7 91.4h.01M229.7 67.7h.01M230.2 75.7h.01M226.4 101.3h.01M229.1 110.8h.01M228.3 107.5h.01M226.8 52.5h.01M226.6 103.4h.01M227.2 85.7h.01M229.0 84.4h.01M225.6 96.2h.01M230.8 49.0h.01M230.9 84.1h.01M230.5 81.8h.01M227.4 77.3h.01M227.7 80.6h.01M230.4 89.5h.01M225.7 119.5h.01M230.7 85.1h.01M229.1 66.7h.01M226.2 86.6h.01M227.3 73.5h.01M228.4 86.1h.01M226.3 91.5h.01M230.9 79.8h.01M226.0 80.0h.01M227.1 81.3h.01M228.2 61.7h.01M230.8 74.8h.01M229.4 79.5h.01M227.2 74.5h.01M226.7 121.8h.01M228.2 112.3h.01M228.2 79.4h.01M225.6 74.8h.01M225.7 82.2h.01M229.8 87.8h.01M229.5 85.5h.01M225.8 102.2h.01M227.6 103.7h.01M225.5 93.4h.01M230.4 99.6h.01M227.4 91.5h.01M225.4 83.0h.01M227.5 77.2h.01M227.1 102.1h.01M228.6 117.4h.01M228.6 87.3h.01M229.9 64.5h.01M227.6 103.2h.01M225.7 90.5h.01M225.3 105.5h.01M228.7 82.7h.01M229.3 67.6h.01M229.6 46.8h.01M235.3 128.7h.01M238.5 126.0h.01M236.2 120.1h.01M236.8 127.1h.01M236.0 119.7h.01M237.7 128.9h.01M237.4 128.3h.01M236.0 129.0h.01M233.8 129.7h.01M238.1 120.1h.01M238.1 125.2h.01M237.5 122.0h.01M235.1 129.9h.01M251.2 120.0h.01M251.3 113.3h.01M251.1 118.5h.01M253.7 125.2h.01M254.4 128.1h.01M251.2 122.0h.01M253.2 127.7h.01M250.9 113.9h.01M251.0 123.1h.01M255.0 118.7h.01M251.8 118.6h.01M250.5 122.6h.01M252.9 127.5h.01M250.5 121.1h.01M254.6 106.8h.01M255.8 117.1h.01M253.5 113.2h.01M250.6 126.0h.01M253.1 95.3h.01M255.1 120.8h.01M255.8 132.0h.01M251.0 118.2h.01M251.9 113.5h.01M254.4 120.8h.01M254.8 132.9h.01M250.1 120.9h.01M254.0 92.9h.01M251.3 117.4h.01M253.2 125.8h.01M254.4 119.5h.01M251.5 124.7h.01M252.9 127.9h.01M250.5 98.3h.01M252.9 97.9h.01M251.3 94.6h.01M250.5 121.1h.01M252.2 127.6h.01M254.9 131.5h.01M255.1 121.5h.01M255.5 121.6h.01M255.1 125.2h.01M255.5 125.3h.01M252.3 120.8h.01M252.8 102.9h.01M255.4 118.0h.01M253.2 124.9h.01M253.0 122.9h.01M254.0 106.7h.01M252.3 115.4h.01M252.6 100.5h.01M252.5 109.5h.01M255.7 122.1h.01M250.1 108.1h.01M250.8 118.2h.01M253.0 130.9h.01M251.0 124.6h.01M252.3 96.1h.01M252.3 116.0h.01M253.8 114.2h.01M251.6 114.9h.01M250.7 112.4h.01M253.5 120.4h.01M254.2 107.3h.01M253.9 107.2h.01M255.1 116.0h.01M251.1 104.6h.01M252.6 113.4h.01M254.0 109.5h.01M253.0 120.5h.01M251.4 118.1h.01M251.9 114.7h.01M251.9 128.5h.01M255.0 125.2h.01M254.5 126.7h.01M252.4 126.1h.01M252.0 98.1h.01M252.6 106.9h.01M250.4 115.3h.01M250.2 122.9h.01M251.9 114.8h.01M253.1 131.6h.01M255.3 128.3h.01M252.1 92.1h.01M252.0 126.6h.01M250.8 127.8h.01M251.7 105.1h.01M255.5 120.9h.01M250.9 112.6h.01M253.9 129.3h.01M255.0 101.4h.01M251.3 115.4h.01M255.4 119.7h.01M254.3 102.6h.01M250.2 117.6h.01M254.9 114.7h.01M252.5 100.2h.01M252.4 120.1h.01M250.3 115.4h.01M254.0 126.9h.01M254.5 114.1h.01M252.4 120.5h.01M254.9 118.8h.01M250.8 130.8h.01M253.4 117.1h.01M254.8 123.4h.01M250.8 64.9h.01M255.7 71.1h.01M267.6 130.4h.01M267.6 112.8h.01M268.4 129.2h.01M271.5 110.4h.01M266.3 117.3h.01M271.6 130.3h.01M269.7 110.7h.01M268.1 113.5h.01M269.3 130.5h.01M267.3 119.6h.01M267.5 120.1h.01M268.6 127.4h.01M268.2 126.5h.01M268.7 111.3h.01M268.3 130.4h.01M270.7 130.3h.01M267.4 107.4h.01M271.2 129.8h.01M271.3 120.2h.01M270.8 120.6h.01M267.3 129.1h.01M271.7 129.8h.01M269.1 130.6h.01M272.2 114.6h.01M267.6 119.0h.01M270.9 117.8h.01M271.5 125.5h.01M269.4 125.1h.01M272.2 132.7h.01M267.0 125.3h.01M272.2 123.2h.01M267.0 119.0h.01M269.3 128.0h.01M272.2 108.9h.01M267.5 113.1h.01M268.8 131.3h.01M272.1 125.4h.01M270.7 132.5h.01M270.5 114.4h.01M267.4 123.2h.01M267.2 123.3h.01M271.9 131.5h.01M269.1 125.3h.01M268.0 129.8h.01M271.8 130.5h.01M269.5 125.5h.01M269.7 120.4h.01M269.1 121.7h.01M271.6 130.5h.01M270.6 130.0h.01M270.8 126.3h.01M267.2 129.6h.01M271.3 130.1h.01M269.6 127.8h.01M270.9 125.2h.01M270.0 132.1h.01M268.1 110.0h.01M269.8 72.2h.01M285.5 85.7h.01M286.8 75.4h.01M288.2 95.2h.01M283.0 73.0h.01M288.6 67.0h.01M287.6 65.3h.01M283.4 86.8h.01M286.6 63.1h.01M283.4 76.1h.01M284.6 78.5h.01M287.3 77.8h.01M286.4 76.6h.01M286.8 86.2h.01M284.3 69.2h.01M285.8 60.1h.01M285.5 76.0h.01M288.1 60.0h.01M283.1 72.8h.01M288.6 69.6h.01M283.6 81.7h.01M286.6 56.8h.01M283.9 66.6h.01M288.2 74.8h.01M283.1 59.5h.01M284.6 72.1h.01M288.3 78.0h.01M285.0 82.0h.01M288.7 58.6h.01M286.5 61.1h.01M288.2 61.8h.01M284.3 81.7h.01M284.8 66.7h.01M283.4 55.8h.01M288.4 73.8h.01M287.7 101.2h.01M291.1 125.5h.01M293.6 121.6h.01M295.2 126.7h.01M295.9 132.3h.01M293.1 119.3h.01M295.6 125.3h.01M292.0 120.0h.01M296.4 113.0h.01M293.2 120.8h.01M291.5 116.4h.01M292.1 124.0h.01M291.8 114.1h.01M291.9 122.6h.01M295.3 121.0h.01M293.7 126.6h.01M296.8 130.9h.01M294.7 115.6h.01M294.7 123.3h.01M295.2 131.2h.01M292.2 118.4h.01M294.1 130.8h.01M292.6 128.4h.01M295.9 126.0h.01M291.6 131.1h.01M295.6 116.2h.01M292.5 128.3h.01M295.0 117.0h.01M295.1 119.3h.01M294.6 131.0h.01M291.0 121.9h.01M294.3 127.4h.01M293.7 115.1h.01M292.4 128.3h.01M296.7 118.0h.01M293.7 128.0h.01M295.7 128.6h.01M293.9 116.9h.01M291.5 114.6h.01M295.7 130.0h.01M294.1 124.5h.01M293.3 118.4h.01M292.5 115.7h.01M296.4 131.7h.01M297.0 131.0h.01M296.5 124.5h.01M296.7 124.7h.01M292.8 131.2h.01M293.4 115.6h.01M291.1 126.6h.01M295.4 131.6h.01M292.6 132.0h.01M293.6 127.7h.01M295.2 128.7h.01M292.1 114.6h.01M293.1 120.7h.01M292.8 126.3h.01M295.4 126.9h.01M293.4 121.4h.01M292.3 121.2h.01M292.4 123.9h.01M291.7 127.3h.01M291.5 118.4h.01M292.4 126.6h.01M291.9 116.4h.01M293.3 119.4h.01M293.0 115.7h.01M294.2 128.8h.01M296.9 127.8h.01M293.7 113.8h.01M291.9 114.3h.01M294.7 129.1h.01M294.6 127.8h.01M294.5 114.7h.01M291.5 125.1h.01M291.6 128.2h.01M293.3 121.2h.01M295.6 123.5h.01M293.4 123.6h.01M293.8 116.5h.01M292.9 132.0h.01M291.9 130.6h.01M295.3 128.0h.01M292.6 131.5h.01M296.8 122.8h.01M294.0 132.3h.01M292.8 132.6h.01M293.7 126.8h.01M291.1 118.0h.01M291.9 116.0h.01M292.6 123.9h.01M292.4 125.6h.01M294.6 123.9h.01M296.1 123.0h.01M296.3 128.6h.01M296.4 124.7h.01M293.8 126.7h.01M293.5 123.4h.01M294.0 126.8h.01M291.3 125.9h.01M293.7 130.8h.01M291.1 122.8h.01M292.9 95.0h.01M294.4 100.5h.01M301.0 117.5h.01M304.2 123.0h.01M301.1 109.2h.01M299.3 104.5h.01M299.9 102.9h.01M302.8 109.0h.01M302.5 117.5h.01M304.8 104.9h.01M301.5 124.5h.01M300.3 101.9h.01M302.7 125.6h.01M300.2 126.5h.01M301.1 122.0h.01M300.9 125.0h.01M300.6 106.0h.01M299.4 109.2h.01M299.5 130.0h.01M303.6 131.5h.01M301.9 129.4h.01M300.1 99.8h.01M301.1 124.1h.01M299.6 119.5h.01M304.9 114.7h.01M303.4 108.2h.01M302.9 116.0h.01M301.6 130.1h.01M302.8 128.1h.01M303.2 124.1h.01M303.1 109.6h.01M302.1 107.2h.01M301.8 122.6h.01M303.1 105.5h.01M304.8 107.9h.01M299.6 105.6h.01M302.6 101.3h.01M302.4 120.2h.01M301.2 104.1h.01M301.7 116.4h.01M300.3 128.3h.01M300.4 120.1h.01M303.1 121.7h.01M304.1 106.6h.01M301.9 120.7h.01M304.5 116.8h.01M300.4 100.9h.01M304.5 117.5h.01M301.7 108.4h.01M299.9 105.1h.01M301.6 129.3h.01M301.6 131.6h.01M300.1 117.5h.01M304.6 122.8h.01M301.6 115.2h.01M302.1 123.4h.01M303.4 119.1h.01M302.0 114.4h.01M304.2 118.5h.01M301.3 127.2h.01M299.2 117.2h.01M304.4 130.8h.01M304.8 122.3h.01M300.3 121.6h.01M299.6 131.8h.01M303.2 121.4h.01M302.2 128.2h.01M304.0 125.0h.01M303.6 114.4h.01M304.3 110.5h.01M303.5 123.6h.01M300.5 111.7h.01M303.7 131.8h.01M302.4 105.6h.01M302.3 117.6h.01M302.7 59.6h.01M316.3 72.9h.01M318.5 93.7h.01M317.7 88.1h.01M315.8 80.6h.01M318.3 105.0h.01M317.9 64.0h.01M320.5 64.1h.01M317.3 90.7h.01M320.0 95.9h.01M321.4 75.3h.01M320.6 78.4h.01M318.5 94.3h.01M319.8 91.4h.01M317.7 82.0h.01M319.7 74.6h.01M316.3 98.8h.01M321.2 96.4h.01M319.0 74.6h.01M321.2 110.3h.01M320.8 96.3h.01M317.0 92.5h.01M317.0 89.2h.01M316.3 124.3h.01M320.2 104.0h.01M320.8 78.4h.01M316.5 116.8h.01M318.0 92.5h.01M319.2 111.3h.01M316.7 116.7h.01M321.6 80.2h.01M320.1 112.7h.01M320.1 117.1h.01M318.9 104.6h.01M317.4 96.2h.01M318.7 105.7h.01M321.1 88.1h.01M319.5 70.1h.01M316.5 113.2h.01M316.9 109.9h.01M319.2 100.6h.01M316.4 94.1h.01M320.6 97.8h.01M318.8 101.9h.01M317.8 97.4h.01M320.7 93.8h.01M318.2 114.4h.01M320.0 74.7h.01M316.8 103.1h.01M318.5 94.1h.01M318.2 108.5h.01M321.3 106.4h.01M317.1 93.1h.01M316.0 92.8h.01M319.0 108.8h.01M319.6 69.7h.01M317.5 112.5h.01M320.5 95.7h.01M321.3 96.4h.01M317.5 94.5h.01M317.0 83.8h.01M316.0 90.6h.01M320.0 113.2h.01M321.7 67.7h.01M320.4 84.4h.01M321.4 94.1h.01M321.0 92.6h.01M316.1 100.9h.01M317.9 91.1h.01M319.6 99.4h.01M320.4 83.2h.01M318.2 94.4h.01M321.2 112.3h.01M319.0 97.5h.01M316.0 100.9h.01M316.9 105.1h.01M320.6 101.9h.01M317.9 89.4h.01M316.7 105.0h.01M317.6 61.4h.01M321.4 80.8h.01M320.3 83.7h.01M316.4 79.4h.01M317.8 93.5h.01M315.8 93.0h.01M319.3 108.3h.01M317.9 100.1h.01M316.8 83.4h.01M316.9 112.9h.01M317.7 89.8h.01M317.5 122.3h.01M318.5 116.9h.01M317.5 114.4h.01M315.8 73.5h.01M317.4 115.7h.01M318.4 94.4h.01M318.6 67.2h.01M318.9 89.4h.01M318.8 79.9h.01M321.3 107.3h.01M318.3 96.2h.01M318.9 84.3h.01M317.1 39.0h.01M320.8 41.2h.01M337.0 115.8h.01M334.3 72.9h.01M335.5 104.7h.01M335.5 95.5h.01M333.7 87.7h.01M336.3 71.2h.01M334.9 105.8h.01M335.9 71.3h.01M333.2 109.4h.01M332.4 83.4h.01M336.9 69.1h.01M333.4 89.9h.01M334.9 89.6h.01M336.5 105.5h.01M337.1 74.2h.01M333.9 88.0h.01M333.9 89.8h.01M333.3 89.5h.01M334.9 68.7h.01M335.9 60.8h.01M332.6 89.4h.01M332.3 66.3h.01M333.8 82.8h.01M333.5 68.5h.01M332.4 78.5h.01M336.4 96.6h.01M335.5 74.3h.01M335.2 66.2h.01M332.7 67.8h.01M334.6 76.3h.01M335.8 82.3h.01M337.0 66.6h.01M336.6 69.0h.01M335.2 96.1h.01M336.0 74.2h.01M332.5 82.4h.01M333.9 83.0h.01M332.7 84.6h.01M333.9 71.5h.01M333.1 94.0h.01M336.0 107.3h.01M334.4 82.2h.01M332.9 117.0h.01M333.9 80.1h.01M335.3 97.4h.01M336.4 94.6h.01M334.6 86.1h.01M334.9 86.5h.01M334.4 99.4h.01M335.5 90.0h.01M336.7 78.5h.01M336.7 82.6h.01M334.8 88.6h.01M335.2 78.8h.01M335.7 74.3h.01M338.0 92.7h.01M337.2 68.9h.01M334.0 67.5h.01M334.1 74.4h.01M333.2 96.9h.01M333.4 93.0h.01M335.3 66.3h.01M338.0 69.6h.01M334.3 83.4h.01M336.5 109.4h.01M332.3 68.6h.01M335.4 106.9h.01M337.4 97.5h.01M335.8 75.3h.01M335.2 90.8h.01M338.0 73.0h.01M332.8 97.2h.01M333.0 79.1h.01M336.6 77.7h.01M334.8 74.9h.01M336.6 70.2h.01M332.4 94.0h.01M335.8 75.9h.01M332.9 95.1h.01M332.5 72.2h.01M337.4 73.9h.01M335.7 84.4h.01M335.5 69.9h.01M338.0 75.7h.01M334.3 109.8h.01M334.0 87.0h.01M336.0 83.7h.01M332.8 93.6h.01M336.3 78.2h.01M335.8 69.7h.01M335.4 67.4h.01M337.3 92.4h.01M332.4 66.6h.01M337.8 86.5h.01M336.9 65.0h.01M336.4 85.3h.01M333.6 87.4h.01M336.0 69.8h.01M334.0 94.1h.01M336.5 43.4h.01M354.2 63.6h.01M353.6 99.3h.01M352.5 114.9h.01M348.8 113.2h.01M351.9 91.6h.01M352.0 109.7h.01M351.1 100.7h.01M350.2 96.8h.01M353.8 111.7h.01M353.8 105.9h.01M350.3 87.7h.01M350.3 76.5h.01M350.8 114.1h.01M352.8 115.3h.01M349.1 110.1h.01M349.1 99.6h.01M351.8 99.3h.01M348.7 122.4h.01M360.8 95.5h.01M357.7 92.9h.01M362.9 90.8h.01M360.5 109.4h.01M360.8 81.4h.01M360.6 63.4h.01M358.0 69.0h.01M358.4 66.0h.01M357.5 89.7h.01M358.2 79.5h.01M362.4 86.8h.01M361.3 85.6h.01M358.7 77.7h.01M360.5 89.9h.01M362.9 74.5h.01M357.9 84.8h.01M362.0 60.8h.01M357.2 92.1h.01M359.2 83.5h.01M359.2 84.9h.01M362.7 77.5h.01M361.0 77.7h.01M361.0 83.6h.01M357.1 78.0h.01M362.9 98.4h.01M357.6 105.4h.01M362.5 76.0h.01M358.1 108.2h.01M357.4 89.6h.01M359.4 64.4h.01M358.0 62.8h.01M358.1 90.2h.01M361.8 114.1h.01M359.1 60.2h.01M358.7 90.3h.01M360.4 81.5h.01M360.0 97.0h.01M359.7 81.9h.01M357.7 87.1h.01M360.1 95.7h.01M362.9 86.0h.01M357.2 87.1h.01M358.2 71.7h.01M360.1 72.2h.01M361.7 95.2h.01M360.9 90.2h.01M357.2 87.3h.01M360.5 90.1h.01M357.9 83.9h.01M359.9 74.5h.01M357.3 78.1h.01M359.7 114.2h.01M360.5 96.0h.01M359.9 95.4h.01M360.1 77.0h.01M357.2 76.2h.01M357.3 87.8h.01M362.5 65.9h.01M357.8 83.7h.01M360.0 50.8h.01M369.3 109.2h.01M366.3 97.8h.01M369.9 126.2h.01M367.9 114.4h.01M367.2 98.9h.01M369.4 111.0h.01M367.4 98.5h.01M366.9 92.7h.01M369.9 111.6h.01M367.1 109.1h.01M368.2 125.9h.01M370.1 123.3h.01M367.6 123.4h.01M368.2 103.4h.01M369.5 93.6h.01M368.2 103.2h.01M368.1 114.7h.01M365.7 123.6h.01M366.5 126.1h.01M368.7 122.2h.01M368.6 125.8h.01M365.2 98.6h.01M368.1 112.6h.01M367.1 123.6h.01M366.1 105.5h.01M365.4 107.7h.01M370.0 112.0h.01M369.2 91.4h.01M368.1 118.1h.01M365.7 129.1h.01M370.0 117.0h.01M366.0 98.2h.01M369.8 94.7h.01M370.0 97.4h.01M371.1 89.0h.01M368.5 73.6h.01M387.1 120.6h.01M383.4 122.5h.01M381.8 126.1h.01M384.6 118.3h.01M387.6 119.0h.01M385.0 118.3h.01M382.9 126.5h.01M387.1 128.1h.01M383.8 128.2h.01M383.2 119.5h.01M382.1 122.5h.01M384.9 126.2h.01M382.9 132.4h.01M386.7 128.8h.01M385.8 115.1h.01M386.2 125.2h.01M387.6 122.8h.01M382.9 116.7h.01M381.9 118.0h.01M385.2 121.3h.01M382.5 129.7h.01M385.5 124.2h.01M385.7 125.4h.01M383.3 125.4h.01M386.9 124.2h.01M382.5 129.3h.01M383.4 129.8h.01M385.3 128.0h.01M384.0 118.1h.01M387.3 132.5h.01M382.8 133.1h.01M382.3 123.9h.01M386.0 120.1h.01M385.0 124.5h.01M384.9 118.4h.01M382.7 99.1h.01M403.0 120.4h.01M401.2 123.1h.01M402.9 110.9h.01M398.8 113.9h.01M399.6 125.9h.01M401.6 121.7h.01M402.4 114.6h.01M400.0 131.4h.01M400.2 130.0h.01M400.8 126.7h.01M403.9 106.1h.01M399.0 127.6h.01M401.4 132.7h.01M399.7 132.1h.01M401.1 120.1h.01M401.9 132.9h.01M401.0 125.5h.01M401.4 113.0h.01M402.6 122.0h.01M399.3 104.1h.01M402.5 124.3h.01M401.3 130.3h.01M402.4 122.9h.01M399.3 128.9h.01M401.8 124.6h.01M403.9 126.0h.01M403.9 110.6h.01M400.5 110.8h.01M400.9 111.8h.01M401.0 111.5h.01M401.4 118.6h.01M399.9 119.3h.01M401.1 124.6h.01M400.0 124.2h.01M400.8 125.5h.01M403.4 121.9h.01M403.7 122.8h.01M398.6 128.9h.01M398.7 119.3h.01M403.2 122.3h.01M398.8 111.5h.01M402.6 128.2h.01M400.9 123.0h.01M399.2 121.5h.01M398.7 127.7h.01M400.3 116.1h.01M399.9 112.4h.01M402.1 122.9h.01M401.6 122.1h.01M401.1 114.2h.01M398.8 128.5h.01M403.4 111.6h.01M402.9 131.3h.01M399.5 123.7h.01M402.3 107.3h.01M400.3 116.0h.01M401.9 124.2h.01M400.0 122.0h.01M403.4 113.9h.01M402.2 123.2h.01M398.5 126.2h.01M402.9 120.3h.01M400.1 124.8h.01M400.5 117.0h.01M404.0 120.3h.01M399.4 123.3h.01M399.7 128.8h.01M403.9 128.8h.01M400.1 129.0h.01M402.8 125.2h.01M404.1 130.5h.01M402.8 117.5h.01M401.6 128.2h.01M398.5 116.0h.01M399.5 129.0h.01M403.6 126.1h.01M398.5 113.0h.01M403.1 108.5h.01M400.8 112.7h.01M398.6 132.4h.01M400.5 104.3h.01M403.0 108.4h.01M402.3 107.4h.01M398.6 125.0h.01M398.2 125.4h.01M401.8 130.8h.01M401.9 112.6h.01M403.1 122.4h.01M402.1 121.3h.01M403.6 115.5h.01M400.1 122.0h.01M398.4 128.1h.01M398.9 118.2h.01M402.5 114.9h.01M401.6 127.6h.01M399.7 110.2h.01M404.1 111.7h.01M400.1 94.5h.01M398.4 92.3h.01M420.6 90.2h.01M419.7 80.0h.01M417.9 80.4h.01M415.0 83.4h.01M418.7 68.9h.01M415.8 71.7h.01M418.5 73.6h.01M415.3 86.9h.01M414.8 77.5h.01M418.8 78.8h.01M416.9 94.6h.01M417.8 71.7h.01M418.6 93.5h.01M414.8 103.4h.01M415.9 113.7h.01M415.2 120.0h.01M417.7 86.0h.01M418.4 104.6h.01M417.9 86.9h.01M416.5 81.2h.01M414.8 111.1h.01M417.1 78.6h.01M418.2 97.5h.01M419.2 88.4h.01M415.7 86.1h.01M415.6 86.1h.01M414.9 89.1h.01M420.6 86.0h.01M416.3 86.2h.01M417.9 114.8h.01M419.6 96.2h.01M416.5 88.8h.01M414.8 58.8h.01M432.0 62.3h.01M433.2 85.7h.01M432.1 69.2h.01M434.2 96.2h.01M433.2 79.1h.01M433.9 58.7h.01M436.1 64.8h.01M433.2 101.9h.01M432.0 93.9h.01M435.1 98.3h.01M432.8 96.7h.01M433.8 101.4h.01M432.4 93.0h.01M437.0 118.9h.01M434.9 84.0h.01M434.3 84.2h.01M434.4 92.0h.01M434.6 50.7h.01M433.0 93.3h.01M436.7 98.6h.01M433.5 89.2h.01M432.5 93.5h.01M433.8 89.1h.01M434.8 114.7h.01M432.0 108.0h.01M431.2 60.9h.01M437.1 98.0h.01M434.4 54.6h.01M434.2 112.9h.01M433.6 107.4h.01M435.8 96.0h.01M433.2 92.7h.01M436.0 80.9h.01M436.2 82.9h.01M433.3 93.1h.01M435.7 82.1h.01M431.6 96.7h.01M433.3 75.4h.01M435.6 120.6h.01M431.7 48.0h.01M432.6 73.9h.01M432.4 125.1h.01M433.5 59.1h.01M431.4 85.6h.01M433.3 85.8h.01M436.9 109.8h.01M431.5 96.2h.01M434.7 95.6h.01M432.9 99.1h.01M433.2 111.5h.01M431.5 105.5h.01M431.6 40.7h.01M443.7 69.3h.01M443.6 103.5h.01M440.6 98.2h.01M439.4 112.8h.01M440.2 99.8h.01M443.1 115.9h.01M441.2 88.2h.01M441.9 107.1h.01M443.2 111.9h.01M440.4 109.6h.01M443.0 88.5h.01M441.9 93.1h.01M445.1 118.2h.01M443.7 66.9h.01M439.8 75.8h.01M440.1 94.8h.01M440.2 67.0h.01M442.2 112.1h.01M442.6 106.5h.01M442.2 101.6h.01M444.7 126.4h.01M458.1 73.9h.01M457.3 81.2h.01M456.5 55.0h.01M456.0 86.5h.01M461.4 107.8h.01M456.3 68.0h.01M456.3 106.7h.01M459.4 73.9h.01M461.1 107.7h.01M457.2 86.7h.01M461.6 77.8h.01M456.4 76.8h.01M459.9 64.3h.01M459.2 63.3h.01M456.7 57.7h.01M460.4 53.8h.01M460.9 79.9h.01M458.1 76.8h.01M459.3 75.1h.01M460.3 77.4h.01M461.5 97.4h.01M457.9 64.7h.01M461.7 115.2h.01M461.8 88.9h.01M461.8 65.7h.01M460.8 97.9h.01M461.4 77.4h.01M459.2 57.1h.01M457.6 101.8h.01M460.0 82.4h.01M456.9 77.1h.01M456.6 67.5h.01M460.0 59.0h.01M458.5 68.1h.01M461.0 76.8h.01M460.7 73.2h.01M456.5 88.6h.01M457.5 89.3h.01M461.7 93.4h.01M461.6 90.1h.01M456.8 71.3h.01M461.4 70.6h.01M456.9 64.2h.01M458.1 59.1h.01M457.3 62.5h.01M457.6 65.9h.01M460.8 73.3h.01M456.3 75.1h.01M456.3 83.8h.01M459.8 104.8h.01M456.9 83.7h.01M456.2 64.5h.01M461.1 69.0h.01M458.6 72.9h.01M458.5 117.5h.01M459.4 52.3h.01M457.2 81.5h.01M461.1 100.6h.01M458.1 88.1h.01M456.6 79.4h.01M458.0 76.5h.01M460.1 87.8h.01M460.7 114.0h.01M461.8 63.5h.01M459.4 93.9h.01M460.0 63.0h.01M460.7 71.0h.01M457.0 107.1h.01M456.8 74.9h.01M460.4 77.7h.01M460.9 64.7h.01M458.6 60.9h.01M455.9 58.5h.01M457.5 67.1h.01M460.8 65.9h.01M461.1 94.2h.01M457.1 54.0h.01M459.0 95.1h.01M457.3 88.8h.01M457.3 67.5h.01M457.0 102.8h.01M456.4 48.6h.01M461.3 126.1h.01M475.6 69.9h.01M474.2 75.6h.01M478.0 73.2h.01M476.0 70.2h.01M475.9 76.5h.01M478.1 75.4h.01M476.7 111.3h.01M474.8 79.1h.01M475.4 69.3h.01M476.1 70.6h.01M474.5 79.7h.01M472.5 82.1h.01M475.1 74.9h.01M475.7 68.0h.01M474.9 75.9h.01M475.2 86.3h.01M476.4 66.2h.01M476.1 78.4h.01M477.1 91.0h.01M473.8 95.4h.01M476.1 92.8h.01M476.9 79.2h.01M474.3 77.7h.01M474.0 88.8h.01M477.3 63.9h.01M478.1 102.9h.01M477.7 65.7h.01M475.7 84.7h.01M475.5 66.1h.01M472.5 115.1h.01M482.7 114.8h.01M480.8 92.9h.01M482.9 111.2h.01M483.4 106.7h.01M481.5 93.4h.01M482.4 114.7h.01M484.3 108.5h.01M480.7 115.9h.01M485.6 128.4h.01M483.5 91.1h.01M483.1 119.9h.01M484.1 99.2h.01M482.2 91.8h.01M481.8 124.1h.01M484.3 92.8h.01M483.7 99.2h.01M484.1 93.8h.01M484.0 107.8h.01M482.5 106.0h.01M482.4 110.3h.01M484.2 111.9h.01M485.6 96.9h.01M483.6 102.6h.01M486.2 106.9h.01M480.8 118.0h.01M486.1 112.8h.01M484.9 90.6h.01M483.5 107.7h.01M484.7 110.7h.01M483.4 96.5h.01M482.0 111.8h.01M486.5 101.3h.01M484.8 108.1h.01M484.8 115.7h.01M482.6 92.2h.01M481.3 121.8h.01M482.6 93.8h.01M481.0 106.4h.01M480.8 113.9h.01M482.9 118.3h.01M482.7 93.7h.01M485.0 84.3h.01M483.0 122.3h.01M482.4 107.2h.01M486.2 87.7h.01M484.3 114.8h.01M482.5 98.7h.01M480.7 87.9h.01M485.7 109.7h.01M485.1 112.1h.01M484.2 103.5h.01M485.7 95.9h.01M484.5 100.3h.01M481.9 97.2h.01M485.8 97.2h.01M485.3 106.5h.01M486.4 121.6h.01M482.1 119.5h.01M481.7 102.8h.01M484.1 84.6h.01M483.8 115.4h.01M481.4 100.9h.01M481.4 94.5h.01M483.7 96.7h.01M483.0 109.0h.01M480.7 102.6h.01M481.7 89.9h.01M484.7 120.0h.01M482.6 106.2h.01M483.9 108.1h.01M481.9 113.2h.01M481.0 112.4h.01M483.8 117.0h.01M483.8 87.8h.01M484.7 98.5h.01M482.7 120.8h.01M485.5 84.1h.01M480.7 111.1h.01M485.3 95.6h.01M483.5 94.0h.01M482.8 115.1h.01M482.1 97.0h.01M485.7 96.8h.01M485.3 98.7h.01M482.1 105.2h.01M480.8 104.0h.01M486.2 97.4h.01M484.0 86.3h.01M481.2 115.1h.01M481.6 123.8h.01M481.7 96.0h.01M482.8 88.5h.01M484.8 124.3h.01M485.4 101.6h.01M486.2 109.3h.01M485.2 120.3h.01M482.9 87.1h.01M485.0 102.9h.01M482.7 77.4h.01M483.5 76.7h.01M497.6 103.9h.01M497.1 55.3h.01M498.1 84.7h.01M498.4 96.5h.01M502.7 62.6h.01M501.5 81.8h.01M499.8 79.7h.01M498.3 59.0h.01M497.5 94.0h.01M500.9 96.7h.01M499.2 79.0h.01M501.3 75.7h.01M497.2 77.2h.01M500.6 109.0h.01M501.6 115.3h.01M502.3 68.2h.01M501.2 78.9h.01M500.1 113.7h.01M501.5 97.0h.01M500.3 105.3h.01M499.3 66.6h.01M499.3 63.1h.01M501.4 82.9h.01M500.2 40.5h.01M508.3 72.6h.01M511.0 61.4h.01M510.5 108.6h.01M510.6 77.2h.01M505.8 84.6h.01M508.4 62.2h.01M506.2 103.2h.01M508.0 73.3h.01M505.8 96.6h.01M509.5 68.3h.01M510.3 81.9h.01M506.4 81.9h.01M505.5 90.4h.01M506.9 76.8h.01M507.9 79.6h.01M508.0 87.0h.01M508.4 82.3h.01M508.9 90.2h.01M506.0 68.4h.01M507.5 80.2h.01M507.0 82.0h.01M510.1 70.9h.01M506.8 83.2h.01M511.2 97.3h.01M507.1 108.0h.01M510.2 92.3h.01M511.0 73.5h.01M510.5 64.2h.01M507.7 84.4h.01M508.5 73.1h.01M507.7 70.0h.01M507.5 73.6h.01M508.0 96.6h.01M508.4 65.3h.01M507.2 84.2h.01M508.8 77.6h.01M511.1 106.7h.01M510.3 72.5h.01M507.5 86.5h.01M508.3 98.0h.01M507.1 91.8h.01M506.2 98.7h.01M508.6 108.4h.01M508.8 81.3h.01M506.1 70.3h.01M509.9 102.5h.01M508.7 81.1h.01M506.0 89.9h.01M509.1 87.3h.01M510.0 89.4h.01M509.5 89.1h.01M505.5 89.7h.01M508.3 84.2h.01M506.3 62.3h.01M508.9 109.2h.01M506.4 116.2h.01M507.3 111.2h.01M510.0 88.3h.01M507.6 100.2h.01M508.9 112.0h.01M506.4 91.0h.01M510.1 92.8h.01M508.0 68.0h.01M508.5 74.4h.01M506.7 68.9h.01M508.0 74.0h.01M510.8 78.0h.01M509.4 116.3h.01M510.0 114.5h.01M510.0 80.3h.01M509.3 83.9h.01M508.1 80.3h.01M508.3 100.7h.01M506.5 70.2h.01M510.2 67.4h.01M506.9 102.3h.01M505.8 125.3h.01M507.3 96.7h.01M507.8 86.1h.01M505.6 90.0h.01M508.3 68.9h.01M505.9 97.1h.01M506.1 84.6h.01M510.1 90.0h.01M511.3 97.9h.01M511.0 66.1h.01M509.1 98.5h.01M506.2 97.5h.01M505.9 80.7h.01M507.0 71.9h.01M510.0 99.8h.01M505.6 69.5h.01M510.1 86.8h.01M508.6 68.0h.01M507.1 66.2h.01M506.0 112.9h.01M507.5 81.2h.01M511.0 77.3h.01M508.7 101.0h.01M508.3 68.5h.01M509.5 82.5h.01M511.3 66.0h.01M505.8 111.3h.01M510.9 104.8h.01M509.3 81.8h.01M507.9 104.8h.01M506.4 77.9h.01M510.0 55.4h.01M508.4 130.2h.01M525.6 82.4h.01M523.5 98.5h.01M526.0 73.5h.01M527.7 84.7h.01M523.3 100.6h.01M521.9 81.1h.01M525.2 65.8h.01M524.1 88.8h.01M526.8 92.1h.01M526.2 65.9h.01M526.9 74.5h.01M531.1 125.8h.01M530.5 125.5h.01M534.6 125.3h.01M533.9 134.1h.01M533.2 129.2h.01M532.4 133.6h.01M533.5 131.5h.01M535.0 125.3h.01M535.2 125.6h.01M535.7 131.4h.01M533.1 133.6h.01M532.5 125.0h.01M531.7 125.3h.01M535.1 131.8h.01M533.2 129.3h.01M531.3 132.2h.01" stroke="#ff0000" stroke-opacity="0.45" stroke-width="1.7" stroke-linecap="square" fill="none"/><path d="M53.6 127.6h.01M53.2 100.3h.01M53.0 121.2h.01M52.9 121.4h.01M70.5 107.3h.01M74.3 125.9h.01M73.1 125.1h.01M72.2 113.0h.01M70.5 126.9h.01M69.2 108.5h.01M73.4 118.1h.01M73.1 122.2h.01M74.1 107.0h.01M73.4 109.7h.01M71.4 103.7h.01M73.1 113.5h.01M70.8 109.8h.01M72.0 113.8h.01M68.5 117.3h.01M71.1 123.0h.01M72.1 108.3h.01M71.1 119.5h.01M68.6 117.9h.01M70.6 117.3h.01M70.8 113.0h.01M69.5 120.5h.01M69.5 131.1h.01M135.1 133.7h.01M137.8 132.4h.01M153.5 99.1h.01M152.7 111.0h.01M153.5 114.0h.01M151.6 112.4h.01M153.0 122.8h.01M150.9 99.4h.01M153.2 110.6h.01M154.7 96.2h.01M176.4 115.2h.01M179.6 104.6h.01M192.5 130.4h.01M210.4 125.9h.01M209.2 96.7h.01M214.4 123.3h.01M213.3 110.4h.01M214.5 99.6h.01M212.7 120.2h.01M213.1 123.7h.01M209.2 123.8h.01M211.1 107.8h.01M243.6 129.7h.01M244.3 129.0h.01M246.3 129.6h.01M242.8 128.4h.01M244.2 125.7h.01M262.0 124.7h.01M263.6 129.2h.01M262.8 131.3h.01M263.8 123.6h.01M261.1 121.6h.01M261.6 122.7h.01M263.7 128.1h.01M263.1 129.9h.01M261.9 121.5h.01M263.4 129.5h.01M259.8 125.6h.01M258.7 130.4h.01M258.7 121.7h.01M258.8 125.9h.01M258.9 88.3h.01M277.0 122.5h.01M277.7 124.9h.01M277.3 120.5h.01M274.8 130.3h.01M276.2 119.0h.01M279.0 130.5h.01M311.3 133.6h.01M309.9 130.9h.01M308.9 133.3h.01M312.7 133.0h.01M313.1 133.4h.01M312.1 132.2h.01M307.8 131.2h.01M311.0 131.3h.01M311.6 131.5h.01M308.2 133.5h.01M329.2 113.8h.01M329.1 105.7h.01M327.9 106.9h.01M328.5 105.3h.01M328.6 104.2h.01M328.4 105.6h.01M325.9 116.3h.01M325.1 114.8h.01M325.6 105.8h.01M329.6 105.8h.01M327.8 104.2h.01M329.6 102.7h.01M341.3 116.2h.01M340.7 119.1h.01M344.6 124.2h.01M341.5 117.9h.01M346.3 109.6h.01M344.7 101.3h.01M342.4 101.6h.01M345.6 104.3h.01M342.7 107.3h.01M344.4 124.2h.01M375.4 124.4h.01M393.0 131.5h.01M410.3 124.4h.01M409.3 126.2h.01M409.6 120.3h.01M410.3 120.3h.01M410.5 126.3h.01M409.4 122.3h.01M406.9 125.2h.01M409.1 128.7h.01M408.7 119.0h.01M409.4 114.2h.01M423.8 105.5h.01M426.8 100.4h.01M467.1 125.8h.01M466.8 105.5h.01M468.4 98.4h.01M465.4 113.0h.01M469.8 126.9h.01M465.5 116.9h.01M469.3 99.4h.01M492.8 99.2h.01M490.1 91.5h.01M489.2 100.0h.01M490.3 99.9h.01M489.6 116.0h.01M494.2 107.9h.01M490.0 110.2h.01M489.1 93.6h.01M488.9 96.6h.01M492.0 107.4h.01M491.2 92.6h.01M491.4 75.3h.01M514.5 124.0h.01M514.1 118.0h.01M518.2 124.9h.01M517.6 126.1h.01M516.4 119.9h.01M515.3 130.9h.01M513.6 114.1h.01" stroke="#0000ff" stroke-opacity="0.45" stroke-width="1.7" stroke-linecap="square" fill="none"/><path d="M56.8 129.8h.01M53.5 120.3h.01M52.9 125.5h.01M56.6 127.3h.01M69.2 121.2h.01M74.4 113.1h.01M73.8 123.4h.01M73.5 122.5h.01M69.4 101.5h.01M73.4 116.8h.01M73.2 113.5h.01M73.6 124.5h.01M69.1 109.3h.01M69.8 119.9h.01M73.8 109.5h.01M73.2 120.2h.01M68.9 110.7h.01M73.4 108.4h.01M69.1 114.8h.01M70.4 114.9h.01M70.2 115.1h.01M72.4 122.9h.01M73.3 120.2h.01M69.7 125.7h.01M71.4 125.2h.01M73.4 120.3h.01M122.9 129.9h.01M136.6 131.6h.01M137.0 131.8h.01M153.0 110.0h.01M151.5 110.2h.01M152.9 119.7h.01M151.0 96.7h.01M152.8 125.4h.01M151.6 114.2h.01M156.6 118.2h.01M154.4 108.0h.01M179.7 118.4h.01M178.1 126.6h.01M197.1 131.5h.01M210.7 125.7h.01M210.7 107.0h.01M210.2 113.2h.01M212.1 103.5h.01M211.9 97.3h.01M212.9 96.9h.01M209.7 101.3h.01M213.6 123.5h.01M209.6 94.9h.01M245.4 125.9h.01M246.3 129.1h.01M245.1 123.2h.01M245.7 126.1h.01M247.5 118.2h.01M259.4 122.4h.01M258.3 131.8h.01M259.0 130.6h.01M259.3 121.8h.01M263.1 128.0h.01M262.3 121.8h.01M258.1 130.1h.01M259.5 128.7h.01M261.7 131.9h.01M259.9 124.6h.01M264.0 130.3h.01M262.5 125.7h.01M264.0 121.5h.01M263.6 126.6h.01M260.0 132.2h.01M279.4 130.4h.01M275.3 126.1h.01M275.5 125.6h.01M278.6 124.6h.01M275.3 131.0h.01M277.5 127.4h.01M310.8 133.5h.01M312.9 131.5h.01M312.2 131.3h.01M312.4 132.2h.01M308.3 132.5h.01M310.7 133.4h.01M311.8 132.9h.01M309.8 131.9h.01M312.0 132.8h.01M312.4 130.6h.01M325.6 106.0h.01M325.8 107.5h.01M328.8 121.9h.01M328.7 111.6h.01M327.5 116.7h.01M326.5 118.7h.01M327.0 114.7h.01M329.5 112.6h.01M326.3 107.6h.01M329.4 111.4h.01M326.4 120.5h.01M329.8 102.8h.01M346.2 113.3h.01M344.8 116.4h.01M344.8 101.2h.01M342.7 120.6h.01M341.1 104.6h.01M342.0 116.3h.01M345.2 100.7h.01M344.0 107.9h.01M341.6 118.6h.01M343.2 99.0h.01M379.1 121.7h.01M408.3 122.3h.01M407.4 121.7h.01M407.8 121.3h.01M411.3 128.3h.01M406.9 128.8h.01M409.2 123.9h.01M408.4 126.0h.01M410.1 114.9h.01M411.6 122.1h.01M412.3 129.4h.01M410.2 114.2h.01M426.9 101.1h.01M424.8 112.1h.01M467.0 109.8h.01M465.4 125.1h.01M465.2 107.5h.01M468.5 108.9h.01M466.9 97.5h.01M468.2 125.4h.01M468.8 94.1h.01M490.2 100.6h.01M494.5 91.5h.01M494.5 102.1h.01M494.5 85.9h.01M492.2 96.0h.01M490.1 111.1h.01M490.9 108.2h.01M494.3 101.6h.01M489.3 113.3h.01M489.8 104.6h.01M488.9 89.8h.01M489.1 73.6h.01M517.3 130.4h.01M517.3 128.0h.01M515.9 125.0h.01M516.6 119.1h.01M517.9 129.7h.01M515.8 126.6h.01M515.7 90.1h.01" stroke="#0000ff" stroke-opacity="0.45" stroke-width="1.7" stroke-linecap="square" fill="none"/><path d="M52.8 99.2h.01M54.9 117.5h.01M57.5 110.5h.01M52.6 104.1h.01M69.6 119.2h.01M73.1 118.8h.01M72.9 112.4h.01M73.1 114.8h.01M74.2 118.7h.01M74.0 103.9h.01M71.9 120.9h.01M70.2 122.8h.01M74.2 108.9h.01M69.6 121.7h.01M72.5 124.0h.01M72.5 126.3h.01M72.3 107.8h.01M73.2 115.6h.01M73.3 129.2h.01M69.7 103.8h.01M68.9 124.0h.01M73.2 120.2h.01M69.5 116.7h.01M73.7 125.2h.01M74.1 115.8h.01M69.4 114.7h.01M117.9 130.0h.01M135.1 130.9h.01M136.2 133.0h.01M151.0 108.3h.01M153.7 107.1h.01M153.8 115.6h.01M154.2 109.1h.01M155.3 97.0h.01M152.1 105.9h.01M153.5 120.7h.01M155.8 94.1h.01M179.0 115.9h.01M179.2 100.4h.01M193.6 129.5h.01M214.4 97.5h.01M210.3 104.3h.01M208.8 110.8h.01M210.3 105.0h.01M214.2 97.5h.01M212.5 96.6h.01M209.1 114.9h.01M211.0 100.9h.01M211.1 94.9h.01M242.4 128.0h.01M242.8 122.6h.01M243.9 119.9h.01M243.4 130.0h.01M243.8 129.8h.01M262.9 130.7h.01M263.5 121.7h.01M261.0 121.5h.01M260.6 122.0h.01M259.7 129.9h.01M261.5 125.5h.01M259.0 128.8h.01M263.7 130.4h.01M263.3 121.6h.01M262.1 122.7h.01M262.0 124.1h.01M261.9 126.3h.01M258.6 121.7h.01M261.5 130.9h.01M277.1 125.9h.01M280.0 125.0h.01M277.7 129.8h.01M280.1 128.0h.01M276.9 119.8h.01M278.4 130.2h.01M275.5 118.0h.01M313.3 133.6h.01M312.6 133.5h.01M311.6 133.8h.01M309.6 132.2h.01M309.8 132.5h.01M310.7 131.2h.01M313.2 131.1h.01M313.1 131.5h.01M309.3 133.9h.01M307.6 130.6h.01M326.3 112.6h.01M329.3 116.4h.01M329.6 104.3h.01M328.7 111.1h.01M326.0 116.0h.01M328.5 104.3h.01M324.8 115.5h.01M327.1 111.0h.01M324.8 106.0h.01M329.7 104.4h.01M325.0 110.4h.01M326.6 102.7h.01M344.9 109.0h.01M346.2 117.8h.01M345.9 103.5h.01M341.1 122.7h.01M343.2 110.6h.01M340.6 104.0h.01M341.1 107.5h.01M343.2 115.0h.01M343.7 101.7h.01M341.5 99.0h.01M376.9 117.9h.01M411.0 121.7h.01M406.4 118.5h.01M407.3 121.1h.01M408.5 128.5h.01M412.2 119.8h.01M410.1 123.6h.01M407.6 124.6h.01M406.7 122.7h.01M410.9 119.2h.01M407.8 125.5h.01M408.9 130.9h.01M423.7 110.7h.01M426.4 111.7h.01M466.4 103.6h.01M465.5 121.2h.01M468.2 119.5h.01M466.1 120.0h.01M468.9 114.7h.01M469.5 126.3h.01M468.2 131.8h.01M491.8 106.1h.01M492.8 89.4h.01M489.7 96.6h.01M492.2 102.7h.01M493.1 98.5h.01M494.0 103.0h.01M490.4 112.1h.01M492.9 90.6h.01M490.1 107.9h.01M494.7 111.4h.01M491.6 116.0h.01M516.0 120.1h.01M519.4 130.5h.01M514.0 120.4h.01M514.4 129.5h.01M519.2 122.0h.01M516.4 126.4h.01M515.7 122.5h.01" stroke="#0000ff" stroke-opacity="0.45" stroke-width="1.7" stroke-linecap="square" fill="none"/><path d="M54.9 104.9h.01M53.8 125.6h.01M56.0 101.8h.01M55.1 106.9h.01M69.7 108.9h.01M71.3 130.4h.01M72.2 114.2h.01M69.0 118.1h.01M72.4 119.5h.01M73.8 109.8h.01M71.0 118.5h.01M74.2 107.0h.01M73.1 108.4h.01M71.1 107.2h.01M72.7 114.4h.01M74.0 116.8h.01M73.4 124.7h.01M68.4 112.1h.01M70.9 115.8h.01M70.5 112.6h.01M70.0 117.9h.01M69.1 127.4h.01M70.0 105.8h.01M72.1 113.5h.01M71.4 117.7h.01M71.6 98.6h.01M120.5 130.0h.01M135.4 132.3h.01M153.8 117.2h.01M153.7 100.5h.01M151.3 114.7h.01M154.0 103.1h.01M156.7 121.9h.01M153.8 110.8h.01M153.1 106.8h.01M154.3 102.8h.01M152.8 126.5h.01M177.1 113.5h.01M179.5 121.8h.01M196.9 129.6h.01M212.7 103.2h.01M214.2 101.8h.01M213.9 107.2h.01M213.6 99.1h.01M214.1 96.3h.01M208.7 97.8h.01M209.0 115.8h.01M214.5 99.5h.01M212.2 94.1h.01M242.7 129.8h.01M244.4 117.4h.01M243.8 123.5h.01M242.2 129.5h.01M243.9 129.6h.01M262.6 130.6h.01M260.2 126.7h.01M258.1 121.2h.01M258.7 130.6h.01M260.8 128.4h.01M261.5 127.4h.01M262.0 123.7h.01M260.8 127.1h.01M263.4 122.1h.01M259.0 126.6h.01M260.3 122.4h.01M258.1 123.9h.01M261.8 124.4h.01M261.7 125.6h.01M275.7 122.0h.01M278.2 126.3h.01M279.4 129.6h.01M279.7 123.2h.01M276.9 124.9h.01M277.6 126.6h.01M276.1 132.0h.01M309.6 132.0h.01M307.8 132.2h.01M308.5 131.6h.01M312.4 132.4h.01M309.3 133.5h.01M309.2 133.1h.01M310.2 131.9h.01M308.8 132.3h.01M308.2 132.4h.01M312.8 130.5h.01M324.7 113.0h.01M325.6 112.3h.01M326.1 118.1h.01M325.6 110.3h.01M328.3 114.3h.01M327.5 105.8h.01M325.5 106.2h.01M325.9 103.0h.01M325.8 118.4h.01M328.2 116.9h.01M327.9 109.9h.01M342.4 100.7h.01M341.5 108.0h.01M345.0 117.3h.01M346.0 116.7h.01M345.9 103.2h.01M344.1 112.1h.01M345.8 102.8h.01M342.3 118.1h.01M344.2 108.9h.01M341.3 107.7h.01M340.5 99.0h.01M391.0 132.4h.01M409.6 129.0h.01M408.0 123.5h.01M411.4 126.1h.01M410.4 128.5h.01M412.1 126.6h.01M411.2 126.3h.01M408.2 123.6h.01M411.1 126.4h.01M407.1 115.1h.01M410.1 122.9h.01M423.6 102.2h.01M425.6 108.2h.01M466.5 99.1h.01M465.3 120.1h.01M465.2 121.3h.01M466.4 114.5h.01M467.5 107.3h.01M465.5 106.8h.01M467.9 120.6h.01M489.7 110.5h.01M491.9 109.7h.01M494.8 109.1h.01M492.3 98.3h.01M494.8 102.4h.01M491.7 94.1h.01M491.0 102.1h.01M494.2 106.1h.01M492.3 98.3h.01M493.7 100.1h.01M490.3 108.5h.01M492.1 95.7h.01M515.3 122.7h.01M514.2 130.4h.01M516.9 119.8h.01M519.0 126.0h.01M516.8 117.0h.01M516.2 126.3h.01M517.8 120.8h.01" stroke="#0000ff" stroke-opacity="0.45" stroke-width="1.7" stroke-linecap="square" fill="none"/><path d="M57.4 102.2h.01M52.1 106.9h.01M57.3 116.8h.01M69.3 128.0h.01M70.4 117.0h.01M71.4 115.2h.01M69.6 119.6h.01M72.7 127.9h.01M72.9 122.0h.01M72.9 104.3h.01M73.4 128.7h.01M71.6 114.6h.01M69.9 122.4h.01M69.8 124.7h.01M70.8 113.5h.01M73.4 109.3h.01M70.4 117.4h.01M71.3 115.8h.01M72.0 127.1h.01M73.5 110.7h.01M72.6 113.8h.01M72.5 124.9h.01M74.1 114.2h.01M73.8 124.1h.01M74.3 108.5h.01M68.4 83.7h.01M135.6 131.2h.01M135.9 132.6h.01M156.5 106.0h.01M154.0 102.6h.01M151.9 117.4h.01M153.2 124.7h.01M152.5 111.5h.01M155.6 105.9h.01M153.2 114.4h.01M156.6 112.3h.01M176.7 109.6h.01M180.4 111.8h.01M178.2 109.7h.01M196.2 132.0h.01M211.2 97.8h.01M211.1 100.9h.01M209.0 121.7h.01M211.1 97.6h.01M210.8 98.6h.01M212.7 107.0h.01M211.8 96.0h.01M213.0 121.9h.01M245.3 129.9h.01M246.8 118.0h.01M243.0 122.9h.01M242.8 122.0h.01M243.8 129.7h.01M247.4 114.4h.01M260.9 124.3h.01M261.3 121.6h.01M258.2 123.5h.01M263.6 121.8h.01M259.5 129.0h.01M259.9 131.6h.01M263.9 124.8h.01M261.4 127.3h.01M259.9 128.6h.01M261.8 126.6h.01M263.8 125.4h.01M260.8 128.0h.01M261.3 121.3h.01M259.6 92.7h.01M277.7 130.3h.01M275.0 129.1h.01M278.5 130.6h.01M277.4 129.9h.01M276.8 125.6h.01M277.1 130.7h.01M310.5 132.3h.01M308.8 132.1h.01M308.5 133.5h.01M312.2 133.7h.01M309.0 132.5h.01M312.4 131.7h.01M311.0 134.2h.01M310.3 133.5h.01M310.4 131.0h.01M311.6 132.3h.01M328.9 104.8h.01M327.0 120.0h.01M326.8 107.4h.01M326.3 103.2h.01M329.2 115.3h.01M324.4 120.2h.01M326.1 102.9h.01M327.8 117.6h.01M325.0 117.4h.01M329.8 115.7h.01M329.8 115.3h.01M329.8 104.2h.01M346.4 121.9h.01M345.8 122.0h.01M346.0 111.3h.01M342.7 113.5h.01M343.0 110.6h.01M342.7 117.3h.01M343.7 108.9h.01M343.4 103.3h.01M346.1 103.3h.01M341.9 120.0h.01M375.2 117.7h.01M394.0 132.2h.01M407.3 128.8h.01M408.7 125.9h.01M407.1 126.1h.01M408.1 128.5h.01M412.2 125.2h.01M411.7 129.0h.01M410.6 120.1h.01M407.7 128.1h.01M410.4 120.2h.01M409.2 123.7h.01M426.7 99.5h.01M426.8 96.9h.01M464.3 117.5h.01M467.6 128.8h.01M464.3 119.2h.01M464.7 123.6h.01M464.6 107.9h.01M469.8 100.9h.01M464.8 96.8h.01M489.6 108.0h.01M494.0 104.0h.01M492.7 109.6h.01M491.3 114.7h.01M493.0 101.3h.01M489.8 106.4h.01M491.4 97.1h.01M491.2 94.3h.01M491.8 105.6h.01M493.1 101.7h.01M493.6 97.0h.01M492.4 75.4h.01M519.0 120.6h.01M517.2 119.0h.01M517.1 125.5h.01M517.5 126.5h.01M515.0 127.4h.01M515.5 129.2h.01M517.1 121.2h.01" stroke="#0000ff" stroke-opacity="0.45" stroke-width="1.7" stroke-linecap="square" fill="none"/><path d="M448.2 67.6h.01M447.7 96.2h.01M453.1 107.2h.01M449.3 99.1h.01M449.0 93.2h.01M449.9 74.6h.01M447.9 77.9h.01M452.9 122.7h.01M451.1 106.7h.01M447.8 106.6h.01M451.6 86.6h.01M450.7 114.8h.01M449.7 89.0h.01M451.7 89.8h.01M452.2 89.7h.01M452.2 98.3h.01M449.0 76.0h.01M451.5 98.5h.01M451.6 115.3h.01M449.3 87.1h.01M448.8 92.5h.01M453.4 68.1h.01M450.8 130.3h.01M449.9 99.2h.01M453.1 94.6h.01M450.3 97.8h.01M452.8 59.7h.01M450.3 106.9h.01M450.4 60.9h.01M452.9 112.1h.01M451.6 100.9h.01M451.8 109.7h.01M451.1 55.5h.01M450.5 113.4h.01M449.1 89.5h.01M453.1 76.2h.01M452.2 61.3h.01M453.4 98.5h.01M452.5 94.6h.01M448.3 81.7h.01M452.4 110.8h.01M452.2 83.2h.01M452.0 76.2h.01M448.4 112.5h.01M452.3 98.3h.01M451.6 101.2h.01M448.9 85.1h.01M453.1 75.1h.01M453.1 97.4h.01M447.9 98.4h.01M450.0 98.3h.01M452.8 99.9h.01M450.1 93.8h.01M448.2 94.3h.01M452.5 97.9h.01M453.5 73.5h.01M452.3 115.5h.01M452.3 92.2h.01M452.9 123.7h.01M452.3 94.1h.01M452.5 64.3h.01M450.0 112.0h.01M449.5 73.3h.01M447.9 74.8h.01M450.8 64.3h.01M447.7 80.2h.01M450.4 111.2h.01M450.3 114.7h.01M452.1 107.7h.01M452.3 105.0h.01M450.2 105.3h.01M448.8 93.7h.01M451.6 126.0h.01M450.8 49.5h.01" stroke="#9b30ff" stroke-opacity="0.45" stroke-width="1.7" stroke-linecap="square" fill="none"/><path d="M450.2 122.4h.01M451.0 90.6h.01M449.9 67.7h.01M449.3 113.2h.01M452.9 125.8h.01M452.6 72.7h.01M448.9 78.8h.01M449.8 119.5h.01M450.4 71.5h.01M453.0 97.4h.01M448.3 88.5h.01M451.9 86.8h.01M448.6 70.4h.01M448.0 97.5h.01M451.5 83.9h.01M453.3 116.2h.01M450.4 115.1h.01M451.3 122.4h.01M453.1 72.4h.01M448.4 99.2h.01M449.4 105.4h.01M450.8 126.8h.01M448.5 89.2h.01M448.0 65.0h.01M450.3 86.1h.01M450.9 68.0h.01M451.4 62.9h.01M449.6 73.0h.01M449.0 83.3h.01M453.0 94.0h.01M450.9 110.0h.01M451.8 87.1h.01M449.1 110.0h.01M448.7 65.7h.01M448.4 93.2h.01M451.5 65.2h.01M448.4 94.4h.01M453.6 113.1h.01M449.8 120.3h.01M449.5 64.7h.01M453.0 82.9h.01M452.5 109.2h.01M450.3 111.2h.01M451.2 74.6h.01M448.0 122.7h.01M452.1 112.0h.01M450.8 76.4h.01M452.4 94.2h.01M451.1 108.3h.01M453.1 129.9h.01M453.3 89.9h.01M448.6 100.0h.01M449.0 80.6h.01M451.5 115.1h.01M451.3 76.7h.01M448.4 101.7h.01M452.0 121.0h.01M450.6 91.9h.01M449.5 102.0h.01M451.9 93.5h.01M453.5 73.7h.01M452.8 130.0h.01M450.6 65.5h.01M449.6 65.5h.01M448.9 107.6h.01M450.3 106.7h.01M447.7 80.7h.01M449.3 87.9h.01M450.0 102.6h.01M453.0 65.9h.01M450.1 107.6h.01M453.0 74.0h.01M449.3 70.6h.01M451.6 132.8h.01" stroke="#9b30ff" stroke-opacity="0.45" stroke-width="1.7" stroke-linecap="square" fill="none"/><path d="M447.7 117.4h.01M449.9 69.3h.01M451.1 79.2h.01M448.6 72.3h.01M452.9 88.1h.01M453.3 71.1h.01M450.9 70.0h.01M450.7 76.0h.01M449.9 60.9h.01M453.5 125.5h.01M448.6 84.3h.01M451.2 79.8h.01M452.8 91.1h.01M452.5 118.1h.01M453.4 60.4h.01M451.4 103.9h.01M453.0 95.3h.01M448.7 109.4h.01M452.3 96.5h.01M448.4 67.8h.01M449.2 83.0h.01M453.5 120.3h.01M450.9 118.0h.01M450.6 75.0h.01M449.6 84.4h.01M448.5 95.2h.01M452.8 117.0h.01M450.7 69.6h.01M452.8 77.3h.01M450.9 118.0h.01M453.0 97.9h.01M453.3 107.2h.01M452.7 95.2h.01M452.2 58.0h.01M450.9 97.1h.01M450.1 110.3h.01M451.1 110.1h.01M451.4 76.4h.01M449.9 79.4h.01M449.9 111.3h.01M448.6 68.2h.01M449.9 78.7h.01M450.4 91.0h.01M451.2 93.5h.01M449.4 116.1h.01M452.9 127.3h.01M448.7 117.1h.01M452.3 94.1h.01M452.7 68.8h.01M451.5 103.3h.01M449.5 61.3h.01M451.6 121.2h.01M451.3 85.9h.01M449.8 97.9h.01M452.5 60.9h.01M452.3 127.1h.01M448.9 123.3h.01M448.6 92.9h.01M452.6 116.4h.01M448.7 118.6h.01M452.7 114.6h.01M453.6 64.9h.01M451.9 93.7h.01M450.8 93.1h.01M450.5 106.1h.01M449.3 75.2h.01M453.4 110.5h.01M449.3 126.8h.01M453.0 88.1h.01M451.8 92.8h.01M452.1 114.8h.01M450.8 89.8h.01M450.4 49.6h.01M449.6 132.8h.01" stroke="#9b30ff" stroke-opacity="0.45" stroke-width="1.7" stroke-linecap="square" fill="none"/><path d="M450.5 87.9h.01M451.2 118.7h.01M453.4 85.1h.01M453.4 129.1h.01M449.3 112.8h.01M453.1 92.8h.01M452.2 126.5h.01M450.5 114.6h.01M453.4 89.9h.01M452.0 118.9h.01M449.7 110.1h.01M450.2 87.0h.01M450.6 55.8h.01M450.2 115.9h.01M449.7 82.3h.01M448.5 95.0h.01M449.1 74.6h.01M450.1 68.6h.01M453.1 124.9h.01M451.9 100.2h.01M449.9 70.1h.01M452.3 98.9h.01M449.5 74.4h.01M450.5 96.2h.01M451.4 73.5h.01M448.4 65.8h.01M451.2 75.5h.01M448.6 79.6h.01M453.1 80.1h.01M449.6 105.8h.01M451.6 68.5h.01M450.0 83.9h.01M452.2 111.4h.01M452.1 126.5h.01M450.3 94.4h.01M451.9 73.1h.01M451.5 86.4h.01M448.8 124.4h.01M450.7 124.7h.01M449.6 84.9h.01M452.1 68.8h.01M449.7 81.3h.01M451.3 79.7h.01M452.1 93.4h.01M447.7 95.5h.01M452.9 97.9h.01M451.6 106.8h.01M453.2 94.3h.01M451.9 83.8h.01M448.9 107.2h.01M447.8 78.3h.01M448.3 63.0h.01M452.7 64.6h.01M453.0 67.5h.01M449.7 95.5h.01M451.2 126.0h.01M453.6 99.7h.01M449.3 65.2h.01M448.4 87.3h.01M453.4 121.2h.01M451.2 93.6h.01M453.4 130.1h.01M448.6 71.6h.01M453.2 127.4h.01M449.2 70.8h.01M450.9 89.0h.01M449.5 65.9h.01M448.3 56.7h.01M447.9 64.6h.01M448.4 74.2h.01M451.6 111.1h.01M449.3 82.4h.01M452.0 50.7h.01" stroke="#9b30ff" stroke-opacity="0.45" stroke-width="1.7" stroke-linecap="square" fill="none"/><path d="M450.1 68.0h.01M452.9 101.6h.01M453.6 67.6h.01M450.8 86.0h.01M451.1 65.3h.01M449.2 69.0h.01M450.7 104.2h.01M452.6 97.8h.01M450.3 109.6h.01M449.8 88.0h.01M449.1 95.5h.01M452.7 102.9h.01M448.1 67.8h.01M451.1 87.7h.01M448.9 83.1h.01M451.0 75.4h.01M453.5 121.9h.01M453.0 83.4h.01M449.5 87.7h.01M450.0 75.2h.01M451.0 63.7h.01M451.0 68.1h.01M447.6 70.2h.01M448.4 63.9h.01M448.3 102.3h.01M448.6 85.5h.01M451.1 98.3h.01M453.3 68.9h.01M448.7 62.9h.01M447.7 83.3h.01M452.9 88.8h.01M453.6 75.7h.01M449.1 69.2h.01M451.8 69.3h.01M449.1 112.6h.01M448.8 79.7h.01M450.0 80.5h.01M449.0 116.8h.01M449.7 96.5h.01M447.9 67.5h.01M451.9 93.3h.01M452.6 104.6h.01M448.5 114.9h.01M448.1 69.7h.01M448.7 96.5h.01M453.0 81.4h.01M449.1 87.8h.01M449.3 91.7h.01M451.0 83.9h.01M450.6 83.1h.01M453.6 70.6h.01M452.7 68.3h.01M451.4 79.5h.01M453.1 109.3h.01M451.5 104.1h.01M448.0 102.3h.01M451.9 67.2h.01M452.4 111.4h.01M449.6 76.4h.01M451.6 84.9h.01M449.5 85.9h.01M451.4 79.8h.01M451.4 98.5h.01M452.7 81.8h.01M453.6 72.5h.01M451.2 101.2h.01M450.3 128.8h.01M453.2 121.6h.01M451.7 103.1h.01M451.7 91.2h.01M450.4 88.2h.01M450.2 112.4h.01M451.5 50.3h.01" stroke="#9b30ff" stroke-opacity="0.45" stroke-width="1.7" stroke-linecap="square" fill="none"/><path d="M38.42 68.81V101.55M38.42 123.38V131.43M37.22 68.81h2.4M37.22 131.43h2.4" stroke="#ff0000" stroke-width="0.5" fill="none" stroke-opacity="0.7"/><rect x="35.92" y="101.55" width="5.0" height="21.83" fill="#fff" fill-opacity="0.5" stroke="#ff0000" stroke-width="0.6" stroke-opacity="0.9"/><path d="M35.92 113.62h5.0" stroke="#ff0000" stroke-width="0.5"/><path d="M46.67 39.12V74.94M46.67 102.89V133.34M45.47 39.12h2.4M45.47 133.34h2.4" stroke="#ff0000" stroke-width="0.5" fill="none" stroke-opacity="0.7"/><rect x="44.17" y="74.94" width="5.0" height="27.96" fill="#fff" fill-opacity="0.5" stroke="#ff0000" stroke-width="0.6" stroke-opacity="0.9"/><path d="M44.17 88.91h5.0" stroke="#ff0000" stroke-width="0.5"/><path d="M54.91 95.04V113.62M54.91 126.26V131.43M53.71 95.04h2.4M53.71 131.43h2.4" stroke="#0000ff" stroke-width="0.5" fill="none" stroke-opacity="0.7"/><rect x="52.41" y="113.62" width="5.0" height="12.64" fill="#fff" fill-opacity="0.5" stroke="#0000ff" stroke-width="0.6" stroke-opacity="0.9"/><path d="M52.41 119.94h5.0" stroke="#0000ff" stroke-width="0.5"/><path d="M63.15 34.24V75.89M63.15 103.66V133.34M61.95 34.24h2.4M61.95 133.34h2.4" stroke="#ff0000" stroke-width="0.5" fill="none" stroke-opacity="0.7"/><rect x="60.65" y="75.89" width="5.0" height="27.77" fill="#fff" fill-opacity="0.5" stroke="#ff0000" stroke-width="0.6" stroke-opacity="0.9"/><path d="M60.65 90.26h5.0" stroke="#ff0000" stroke-width="0.5"/><path d="M71.40 91.12V110.36M71.40 123.19V132.39M70.20 91.12h2.4M70.20 132.39h2.4" stroke="#0000ff" stroke-width="0.5" fill="none" stroke-opacity="0.7"/><rect x="68.90" y="110.36" width="5.0" height="12.83" fill="#fff" fill-opacity="0.5" stroke="#0000ff" stroke-width="0.6" stroke-opacity="0.9"/><path d="M68.90 117.07h5.0" stroke="#0000ff" stroke-width="0.5"/><path d="M79.64 40.56V65.55M79.64 82.21V107.20M78.44 40.56h2.4M78.44 107.20h2.4" stroke="#ff0000" stroke-width="0.5" fill="none" stroke-opacity="0.7"/><rect x="77.14" y="65.55" width="5.0" height="16.66" fill="#fff" fill-opacity="0.5" stroke="#ff0000" stroke-width="0.6" stroke-opacity="0.9"/><path d="M77.14 74.17h5.0" stroke="#ff0000" stroke-width="0.5"/><path d="M87.89 56.26V77.23M87.89 91.21V111.32M86.69 56.26h2.4M86.69 111.32h2.4" stroke="#ff0000" stroke-width="0.5" fill="none" stroke-opacity="0.7"/><rect x="85.39" y="77.23" width="5.0" height="13.98" fill="#fff" fill-opacity="0.5" stroke="#ff0000" stroke-width="0.6" stroke-opacity="0.9"/><path d="M85.39 84.13h5.0" stroke="#ff0000" stroke-width="0.5"/><path d="M96.13 58.27V88.72M96.13 109.02V129.51M94.93 58.27h2.4M94.93 129.51h2.4" stroke="#ff0000" stroke-width="0.5" fill="none" stroke-opacity="0.7"/><rect x="93.63" y="88.72" width="5.0" height="20.30" fill="#fff" fill-opacity="0.5" stroke="#ff0000" stroke-width="0.6" stroke-opacity="0.9"/><path d="M93.63 99.06h5.0" stroke="#ff0000" stroke-width="0.5"/><path d="M104.38 41.90V70.91M104.38 90.26V119.27M103.18 41.90h2.4M103.18 119.27h2.4" stroke="#ff0000" stroke-width="0.5" fill="none" stroke-opacity="0.7"/><rect x="101.88" y="70.91" width="5.0" height="19.34" fill="#fff" fill-opacity="0.5" stroke="#ff0000" stroke-width="0.6" stroke-opacity="0.9"/><path d="M101.88 81.06h5.0" stroke="#ff0000" stroke-width="0.5"/><path d="M112.62 40.47V69.19M112.62 88.91V118.50M111.42 40.47h2.4M111.42 118.50h2.4" stroke="#ff0000" stroke-width="0.5" fill="none" stroke-opacity="0.7"/><rect x="110.12" y="69.19" width="5.0" height="19.72" fill="#fff" fill-opacity="0.5" stroke="#ff0000" stroke-width="0.6" stroke-opacity="0.9"/><path d="M110.12 78.77h5.0" stroke="#ff0000" stroke-width="0.5"/><path d="M120.86 125.68V127.60M120.86 130.47V131.43M119.66 125.68h2.4M119.66 131.43h2.4" stroke="#0000ff" stroke-width="0.5" fill="none" stroke-opacity="0.7"/><rect x="118.36" y="127.60" width="5.0" height="2.87" fill="#fff" fill-opacity="0.5" stroke="#0000ff" stroke-width="0.6" stroke-opacity="0.9"/><path d="M118.36 129.51h5.0" stroke="#0000ff" stroke-width="0.5"/><path d="M129.11 77.23V96.96M129.11 113.24V128.56M127.91 77.23h2.4M127.91 128.56h2.4" stroke="#ff0000" stroke-width="0.5" fill="none" stroke-opacity="0.7"/><rect x="126.61" y="96.96" width="5.0" height="16.28" fill="#fff" fill-opacity="0.5" stroke="#ff0000" stroke-width="0.6" stroke-opacity="0.9"/><path d="M126.61 104.04h5.0" stroke="#ff0000" stroke-width="0.5"/><path d="M137.35 130.47V131.81M137.35 133.15V133.92M136.15 130.47h2.4M136.15 133.92h2.4" stroke="#0000ff" stroke-width="0.5" fill="none" stroke-opacity="0.7"/><rect x="134.85" y="131.81" width="5.0" height="1.34" fill="#fff" fill-opacity="0.5" stroke="#0000ff" stroke-width="0.6" stroke-opacity="0.9"/><path d="M134.85 132.58h5.0" stroke="#0000ff" stroke-width="0.5"/><path d="M145.60 55.79V80.11M145.60 99.06V124.73M144.40 55.79h2.4M144.40 124.73h2.4" stroke="#ff0000" stroke-width="0.5" fill="none" stroke-opacity="0.7"/><rect x="143.10" y="80.11" width="5.0" height="18.96" fill="#fff" fill-opacity="0.5" stroke="#ff0000" stroke-width="0.6" stroke-opacity="0.9"/><path d="M143.10 88.91h5.0" stroke="#ff0000" stroke-width="0.5"/><path d="M153.84 94.09V102.89M153.84 114.19V127.60M152.64 94.09h2.4M152.64 127.60h2.4" stroke="#0000ff" stroke-width="0.5" fill="none" stroke-opacity="0.7"/><rect x="151.34" y="102.89" width="5.0" height="11.30" fill="#fff" fill-opacity="0.5" stroke="#0000ff" stroke-width="0.6" stroke-opacity="0.9"/><path d="M151.34 107.87h5.0" stroke="#0000ff" stroke-width="0.5"/><path d="M162.09 48.13V74.94M162.09 99.06V121.85M160.89 48.13h2.4M160.89 121.85h2.4" stroke="#ff0000" stroke-width="0.5" fill="none" stroke-opacity="0.7"/><rect x="159.59" y="74.94" width="5.0" height="24.13" fill="#fff" fill-opacity="0.5" stroke="#ff0000" stroke-width="0.6" stroke-opacity="0.9"/><path d="M159.59 83.74h5.0" stroke="#ff0000" stroke-width="0.5"/><path d="M170.33 32.81V56.93M170.33 78.77V111.51M169.13 32.81h2.4M169.13 111.51h2.4" stroke="#ff0000" stroke-width="0.5" fill="none" stroke-opacity="0.7"/><rect x="167.83" y="56.93" width="5.0" height="21.83" fill="#fff" fill-opacity="0.5" stroke="#ff0000" stroke-width="0.6" stroke-opacity="0.9"/><path d="M167.83 68.42h5.0" stroke="#ff0000" stroke-width="0.5"/><path d="M178.57 99.06V110.36M178.57 125.68V128.56M177.37 99.06h2.4M177.37 128.56h2.4" stroke="#0000ff" stroke-width="0.5" fill="none" stroke-opacity="0.7"/><rect x="176.07" y="110.36" width="5.0" height="15.32" fill="#fff" fill-opacity="0.5" stroke="#0000ff" stroke-width="0.6" stroke-opacity="0.9"/><path d="M176.07 123.19h5.0" stroke="#0000ff" stroke-width="0.5"/><path d="M186.82 63.45V84.89M186.82 104.62V127.02M185.62 63.45h2.4M185.62 127.02h2.4" stroke="#ff0000" stroke-width="0.5" fill="none" stroke-opacity="0.7"/><rect x="184.32" y="84.89" width="5.0" height="19.72" fill="#fff" fill-opacity="0.5" stroke="#ff0000" stroke-width="0.6" stroke-opacity="0.9"/><path d="M184.32 94.47h5.0" stroke="#ff0000" stroke-width="0.5"/><path d="M195.06 129.51V130.09M195.06 131.62V132.39M193.86 129.51h2.4M193.86 132.39h2.4" stroke="#0000ff" stroke-width="0.5" fill="none" stroke-opacity="0.7"/><rect x="192.56" y="130.09" width="5.0" height="1.53" fill="#fff" fill-opacity="0.5" stroke="#0000ff" stroke-width="0.6" stroke-opacity="0.9"/><path d="M192.56 130.85h5.0" stroke="#0000ff" stroke-width="0.5"/><path d="M203.31 45.44V73.59M203.31 96.38V127.02M202.11 45.44h2.4M202.11 127.02h2.4" stroke="#ff0000" stroke-width="0.5" fill="none" stroke-opacity="0.7"/><rect x="200.81" y="73.59" width="5.0" height="22.79" fill="#fff" fill-opacity="0.5" stroke="#ff0000" stroke-width="0.6" stroke-opacity="0.9"/><path d="M200.81 85.08h5.0" stroke="#ff0000" stroke-width="0.5"/><path d="M211.55 94.09V97.92M211.55 121.28V128.56M210.35 94.09h2.4M210.35 128.56h2.4" stroke="#0000ff" stroke-width="0.5" fill="none" stroke-opacity="0.7"/><rect x="209.05" y="97.92" width="5.0" height="23.36" fill="#fff" fill-opacity="0.5" stroke="#0000ff" stroke-width="0.6" stroke-opacity="0.9"/><path d="M209.05 107.68h5.0" stroke="#0000ff" stroke-width="0.5"/><path d="M219.80 45.44V64.59M219.80 88.72V121.85M218.60 45.44h2.4M218.60 121.85h2.4" stroke="#ff0000" stroke-width="0.5" fill="none" stroke-opacity="0.7"/><rect x="217.30" y="64.59" width="5.0" height="24.13" fill="#fff" fill-opacity="0.5" stroke="#ff0000" stroke-width="0.6" stroke-opacity="0.9"/><path d="M217.30 74.94h5.0" stroke="#ff0000" stroke-width="0.5"/><path d="M228.04 46.78V73.59M228.04 97.72V127.02M226.84 46.78h2.4M226.84 127.02h2.4" stroke="#ff0000" stroke-width="0.5" fill="none" stroke-opacity="0.7"/><rect x="225.54" y="73.59" width="5.0" height="24.13" fill="#fff" fill-opacity="0.5" stroke="#ff0000" stroke-width="0.6" stroke-opacity="0.9"/><path d="M225.54 85.66h5.0" stroke="#ff0000" stroke-width="0.5"/><path d="M236.28 110.36V121.85M236.28 129.51V133.34M235.08 110.36h2.4M235.08 133.34h2.4" stroke="#ff0000" stroke-width="0.5" fill="none" stroke-opacity="0.7"/><rect x="233.78" y="121.85" width="5.0" height="7.66" fill="#fff" fill-opacity="0.5" stroke="#ff0000" stroke-width="0.6" stroke-opacity="0.9"/><path d="M233.78 127.02h5.0" stroke="#ff0000" stroke-width="0.5"/><path d="M244.53 114.19V121.85M244.53 129.51V132.39M243.33 114.19h2.4M243.33 132.39h2.4" stroke="#0000ff" stroke-width="0.5" fill="none" stroke-opacity="0.7"/><rect x="242.03" y="121.85" width="5.0" height="7.66" fill="#fff" fill-opacity="0.5" stroke="#0000ff" stroke-width="0.6" stroke-opacity="0.9"/><path d="M242.03 125.68h5.0" stroke="#0000ff" stroke-width="0.5"/><path d="M252.77 96.10V113.04M252.77 124.34V133.34M251.57 96.10h2.4M251.57 133.34h2.4" stroke="#ff0000" stroke-width="0.5" fill="none" stroke-opacity="0.7"/><rect x="250.27" y="113.04" width="5.0" height="11.30" fill="#fff" fill-opacity="0.5" stroke="#ff0000" stroke-width="0.6" stroke-opacity="0.9"/><path d="M250.27 119.36h5.0" stroke="#ff0000" stroke-width="0.5"/><path d="M261.02 110.36V121.85M261.02 129.51V133.34M259.82 110.36h2.4M259.82 133.34h2.4" stroke="#0000ff" stroke-width="0.5" fill="none" stroke-opacity="0.7"/><rect x="258.52" y="121.85" width="5.0" height="7.66" fill="#fff" fill-opacity="0.5" stroke="#0000ff" stroke-width="0.6" stroke-opacity="0.9"/><path d="M258.52 125.68h5.0" stroke="#0000ff" stroke-width="0.5"/><path d="M269.26 100.79V118.02M269.26 129.51V133.92M268.06 100.79h2.4M268.06 133.92h2.4" stroke="#ff0000" stroke-width="0.5" fill="none" stroke-opacity="0.7"/><rect x="266.76" y="118.02" width="5.0" height="11.49" fill="#fff" fill-opacity="0.5" stroke="#ff0000" stroke-width="0.6" stroke-opacity="0.9"/><path d="M266.76 124.34h5.0" stroke="#ff0000" stroke-width="0.5"/><path d="M277.51 118.02V123.19M277.51 129.51V133.34M276.31 118.02h2.4M276.31 133.34h2.4" stroke="#0000ff" stroke-width="0.5" fill="none" stroke-opacity="0.7"/><rect x="275.01" y="123.19" width="5.0" height="6.32" fill="#fff" fill-opacity="0.5" stroke="#0000ff" stroke-width="0.6" stroke-opacity="0.9"/><path d="M275.01 126.26h5.0" stroke="#0000ff" stroke-width="0.5"/><path d="M285.75 43.34V64.59M285.75 78.77V100.02M284.55 43.34h2.4M284.55 100.02h2.4" stroke="#ff0000" stroke-width="0.5" fill="none" stroke-opacity="0.7"/><rect x="283.25" y="64.59" width="5.0" height="14.17" fill="#fff" fill-opacity="0.5" stroke="#ff0000" stroke-width="0.6" stroke-opacity="0.9"/><path d="M283.25 71.11h5.0" stroke="#ff0000" stroke-width="0.5"/><path d="M293.99 99.93V116.87M293.99 128.17V133.92M292.79 99.93h2.4M292.79 133.92h2.4" stroke="#ff0000" stroke-width="0.5" fill="none" stroke-opacity="0.7"/><rect x="291.49" y="116.87" width="5.0" height="11.30" fill="#fff" fill-opacity="0.5" stroke="#ff0000" stroke-width="0.6" stroke-opacity="0.9"/><path d="M291.49 123.19h5.0" stroke="#ff0000" stroke-width="0.5"/><path d="M302.24 85.37V110.36M302.24 127.02V133.34M301.04 85.37h2.4M301.04 133.34h2.4" stroke="#ff0000" stroke-width="0.5" fill="none" stroke-opacity="0.7"/><rect x="299.74" y="110.36" width="5.0" height="16.66" fill="#fff" fill-opacity="0.5" stroke="#ff0000" stroke-width="0.6" stroke-opacity="0.9"/><path d="M299.74 119.36h5.0" stroke="#ff0000" stroke-width="0.5"/><path d="M310.48 130.47V131.62M310.48 133.34V134.30M309.28 130.47h2.4M309.28 134.30h2.4" stroke="#0000ff" stroke-width="0.5" fill="none" stroke-opacity="0.7"/><rect x="307.98" y="131.62" width="5.0" height="1.72" fill="#fff" fill-opacity="0.5" stroke="#0000ff" stroke-width="0.6" stroke-opacity="0.9"/><path d="M307.98 132.39h5.0" stroke="#0000ff" stroke-width="0.5"/><path d="M318.73 55.40V87.57M318.73 109.02V127.02M317.53 55.40h2.4M317.53 127.02h2.4" stroke="#ff0000" stroke-width="0.5" fill="none" stroke-opacity="0.7"/><rect x="316.23" y="87.57" width="5.0" height="21.45" fill="#fff" fill-opacity="0.5" stroke="#ff0000" stroke-width="0.6" stroke-opacity="0.9"/><path d="M316.23 97.72h5.0" stroke="#ff0000" stroke-width="0.5"/><path d="M326.97 102.70V106.53M326.97 116.87V121.85M325.77 102.70h2.4M325.77 121.85h2.4" stroke="#0000ff" stroke-width="0.5" fill="none" stroke-opacity="0.7"/><rect x="324.47" y="106.53" width="5.0" height="10.34" fill="#fff" fill-opacity="0.5" stroke="#0000ff" stroke-width="0.6" stroke-opacity="0.9"/><path d="M324.47 113.04h5.0" stroke="#0000ff" stroke-width="0.5"/><path d="M335.22 39.12V69.76M335.22 91.21V121.85M334.02 39.12h2.4M334.02 121.85h2.4" stroke="#ff0000" stroke-width="0.5" fill="none" stroke-opacity="0.7"/><rect x="332.72" y="69.76" width="5.0" height="21.45" fill="#fff" fill-opacity="0.5" stroke="#ff0000" stroke-width="0.6" stroke-opacity="0.9"/><path d="M332.72 81.25h5.0" stroke="#ff0000" stroke-width="0.5"/><path d="M343.46 99.06V106.53M343.46 116.87V124.34M342.26 99.06h2.4M342.26 124.34h2.4" stroke="#0000ff" stroke-width="0.5" fill="none" stroke-opacity="0.7"/><rect x="340.96" y="106.53" width="5.0" height="10.34" fill="#fff" fill-opacity="0.5" stroke="#0000ff" stroke-width="0.6" stroke-opacity="0.9"/><path d="M340.96 111.70h5.0" stroke="#0000ff" stroke-width="0.5"/><path d="M351.70 58.27V82.02M351.70 108.64V123.19M350.50 58.27h2.4M350.50 123.19h2.4" stroke="#ff0000" stroke-width="0.5" fill="none" stroke-opacity="0.7"/><rect x="349.20" y="82.02" width="5.0" height="26.62" fill="#fff" fill-opacity="0.5" stroke="#ff0000" stroke-width="0.6" stroke-opacity="0.9"/><path d="M349.20 96.77h5.0" stroke="#ff0000" stroke-width="0.5"/><path d="M359.95 48.13V72.25M359.95 91.21V119.65M358.75 48.13h2.4M358.75 119.65h2.4" stroke="#ff0000" stroke-width="0.5" fill="none" stroke-opacity="0.7"/><rect x="357.45" y="72.25" width="5.0" height="18.96" fill="#fff" fill-opacity="0.5" stroke="#ff0000" stroke-width="0.6" stroke-opacity="0.9"/><path d="M357.45 82.40h5.0" stroke="#ff0000" stroke-width="0.5"/><path d="M368.19 73.59V100.21M368.19 121.85V132.39M366.99 73.59h2.4M366.99 132.39h2.4" stroke="#ff0000" stroke-width="0.5" fill="none" stroke-opacity="0.7"/><rect x="365.69" y="100.21" width="5.0" height="21.64" fill="#fff" fill-opacity="0.5" stroke="#ff0000" stroke-width="0.6" stroke-opacity="0.9"/><path d="M365.69 110.36h5.0" stroke="#ff0000" stroke-width="0.5"/><path d="M376.44 117.07V118.02M376.44 124.34V124.73M375.24 117.07h2.4M375.24 124.73h2.4" stroke="#0000ff" stroke-width="0.5" fill="none" stroke-opacity="0.7"/><rect x="373.94" y="118.02" width="5.0" height="6.32" fill="#fff" fill-opacity="0.5" stroke="#0000ff" stroke-width="0.6" stroke-opacity="0.9"/><path d="M373.94 120.51h5.0" stroke="#0000ff" stroke-width="0.5"/><path d="M384.68 104.14V119.36M384.68 129.51V133.92M383.48 104.14h2.4M383.48 133.92h2.4" stroke="#ff0000" stroke-width="0.5" fill="none" stroke-opacity="0.7"/><rect x="382.18" y="119.36" width="5.0" height="10.15" fill="#fff" fill-opacity="0.5" stroke="#ff0000" stroke-width="0.6" stroke-opacity="0.9"/><path d="M382.18 124.92h5.0" stroke="#ff0000" stroke-width="0.5"/><path d="M392.93 131.24V131.62M392.93 132.39V132.77M391.73 131.24h2.4M391.73 132.77h2.4" stroke="#0000ff" stroke-width="0.5" fill="none" stroke-opacity="0.7"/><rect x="390.43" y="131.62" width="5.0" height="0.77" fill="#fff" fill-opacity="0.5" stroke="#0000ff" stroke-width="0.6" stroke-opacity="0.9"/><path d="M390.43 132.00h5.0" stroke="#0000ff" stroke-width="0.5"/><path d="M401.17 96.57V115.53M401.17 128.17V133.92M399.97 96.57h2.4M399.97 133.92h2.4" stroke="#ff0000" stroke-width="0.5" fill="none" stroke-opacity="0.7"/><rect x="398.67" y="115.53" width="5.0" height="12.64" fill="#fff" fill-opacity="0.5" stroke="#ff0000" stroke-width="0.6" stroke-opacity="0.9"/><path d="M398.67 122.04h5.0" stroke="#ff0000" stroke-width="0.5"/><path d="M409.41 114.19V121.85M409.41 128.17V131.43M408.21 114.19h2.4M408.21 131.43h2.4" stroke="#0000ff" stroke-width="0.5" fill="none" stroke-opacity="0.7"/><rect x="406.91" y="121.85" width="5.0" height="6.32" fill="#fff" fill-opacity="0.5" stroke="#0000ff" stroke-width="0.6" stroke-opacity="0.9"/><path d="M406.91 125.11h5.0" stroke="#0000ff" stroke-width="0.5"/><path d="M417.66 64.79V83.74M417.66 96.38V115.34M416.46 64.79h2.4M416.46 115.34h2.4" stroke="#ff0000" stroke-width="0.5" fill="none" stroke-opacity="0.7"/><rect x="415.16" y="83.74" width="5.0" height="12.64" fill="#fff" fill-opacity="0.5" stroke="#ff0000" stroke-width="0.6" stroke-opacity="0.9"/><path d="M415.16 90.06h5.0" stroke="#ff0000" stroke-width="0.5"/><path d="M425.90 96.00V101.55M425.90 111.70V112.28M424.70 96.00h2.4M424.70 112.28h2.4" stroke="#0000ff" stroke-width="0.5" fill="none" stroke-opacity="0.7"/><rect x="423.40" y="101.55" width="5.0" height="10.15" fill="#fff" fill-opacity="0.5" stroke="#0000ff" stroke-width="0.6" stroke-opacity="0.9"/><path d="M423.40 106.53h5.0" stroke="#0000ff" stroke-width="0.5"/><path d="M434.15 45.92V80.11M434.15 102.89V127.02M432.95 45.92h2.4M432.95 127.02h2.4" stroke="#ff0000" stroke-width="0.5" fill="none" stroke-opacity="0.7"/><rect x="431.65" y="80.11" width="5.0" height="22.79" fill="#fff" fill-opacity="0.5" stroke="#ff0000" stroke-width="0.6" stroke-opacity="0.9"/><path d="M431.65 91.21h5.0" stroke="#ff0000" stroke-width="0.5"/><path d="M442.39 53.10V85.08M442.39 109.02V127.02M441.19 53.10h2.4M441.19 127.02h2.4" stroke="#ff0000" stroke-width="0.5" fill="none" stroke-opacity="0.7"/><rect x="439.89" y="85.08" width="5.0" height="23.94" fill="#fff" fill-opacity="0.5" stroke="#ff0000" stroke-width="0.6" stroke-opacity="0.9"/><path d="M439.89 96.38h5.0" stroke="#ff0000" stroke-width="0.5"/><path d="M450.64 49.47V76.08M450.64 109.02V133.34M449.44 49.47h2.4M449.44 133.34h2.4" stroke="#9b30ff" stroke-width="0.5" fill="none" stroke-opacity="0.7"/><rect x="448.14" y="76.08" width="5.0" height="32.94" fill="#fff" fill-opacity="0.5" stroke="#9b30ff" stroke-width="0.6" stroke-opacity="0.9"/><path d="M448.14 92.55h5.0" stroke="#9b30ff" stroke-width="0.5"/><path d="M458.88 44.30V68.42M458.88 91.21V125.40M457.68 44.30h2.4M457.68 125.40h2.4" stroke="#ff0000" stroke-width="0.5" fill="none" stroke-opacity="0.7"/><rect x="456.38" y="68.42" width="5.0" height="22.79" fill="#fff" fill-opacity="0.5" stroke="#ff0000" stroke-width="0.6" stroke-opacity="0.9"/><path d="M456.38 79.91h5.0" stroke="#ff0000" stroke-width="0.5"/><path d="M467.12 94.09V109.02M467.12 124.34V132.39M465.92 94.09h2.4M465.92 132.39h2.4" stroke="#0000ff" stroke-width="0.5" fill="none" stroke-opacity="0.7"/><rect x="464.62" y="109.02" width="5.0" height="15.32" fill="#fff" fill-opacity="0.5" stroke="#0000ff" stroke-width="0.6" stroke-opacity="0.9"/><path d="M464.62 116.87h5.0" stroke="#0000ff" stroke-width="0.5"/><path d="M475.37 58.27V71.11M475.37 86.23V108.93M474.17 58.27h2.4M474.17 108.93h2.4" stroke="#ff0000" stroke-width="0.5" fill="none" stroke-opacity="0.7"/><rect x="472.87" y="71.11" width="5.0" height="15.13" fill="#fff" fill-opacity="0.5" stroke="#ff0000" stroke-width="0.6" stroke-opacity="0.9"/><path d="M472.87 78.77h5.0" stroke="#ff0000" stroke-width="0.5"/><path d="M483.61 68.33V95.04M483.61 112.85V129.51M482.41 68.33h2.4M482.41 129.51h2.4" stroke="#ff0000" stroke-width="0.5" fill="none" stroke-opacity="0.7"/><rect x="481.11" y="95.04" width="5.0" height="17.81" fill="#fff" fill-opacity="0.5" stroke="#ff0000" stroke-width="0.6" stroke-opacity="0.9"/><path d="M481.11 104.04h5.0" stroke="#ff0000" stroke-width="0.5"/><path d="M491.86 78.48V96.00M491.86 107.68V121.85M490.66 78.48h2.4M490.66 121.85h2.4" stroke="#0000ff" stroke-width="0.5" fill="none" stroke-opacity="0.7"/><rect x="489.36" y="96.00" width="5.0" height="11.68" fill="#fff" fill-opacity="0.5" stroke="#0000ff" stroke-width="0.6" stroke-opacity="0.9"/><path d="M489.36 101.75h5.0" stroke="#0000ff" stroke-width="0.5"/><path d="M500.10 53.39V76.08M500.10 91.21V113.91M498.90 53.39h2.4M498.90 113.91h2.4" stroke="#ff0000" stroke-width="0.5" fill="none" stroke-opacity="0.7"/><rect x="497.60" y="76.08" width="5.0" height="15.13" fill="#fff" fill-opacity="0.5" stroke="#ff0000" stroke-width="0.6" stroke-opacity="0.9"/><path d="M497.60 82.40h5.0" stroke="#ff0000" stroke-width="0.5"/><path d="M508.35 38.74V74.94M508.35 99.06V131.43M507.15 38.74h2.4M507.15 131.43h2.4" stroke="#ff0000" stroke-width="0.5" fill="none" stroke-opacity="0.7"/><rect x="505.85" y="74.94" width="5.0" height="24.13" fill="#fff" fill-opacity="0.5" stroke="#ff0000" stroke-width="0.6" stroke-opacity="0.9"/><path d="M505.85 88.91h5.0" stroke="#ff0000" stroke-width="0.5"/><path d="M516.59 109.02V120.51M516.59 128.17V132.39M515.39 109.02h2.4M515.39 132.39h2.4" stroke="#0000ff" stroke-width="0.5" fill="none" stroke-opacity="0.7"/><rect x="514.09" y="120.51" width="5.0" height="7.66" fill="#fff" fill-opacity="0.5" stroke="#0000ff" stroke-width="0.6" stroke-opacity="0.9"/><path d="M514.09 124.34h5.0" stroke="#0000ff" stroke-width="0.5"/><path d="M524.83 59.62V69.76M524.83 90.06V109.02M523.63 59.62h2.4M523.63 109.02h2.4" stroke="#ff0000" stroke-width="0.5" fill="none" stroke-opacity="0.7"/><rect x="522.33" y="69.76" width="5.0" height="20.30" fill="#fff" fill-opacity="0.5" stroke="#ff0000" stroke-width="0.6" stroke-opacity="0.9"/><path d="M522.33 79.91h5.0" stroke="#ff0000" stroke-width="0.5"/><path d="M533.08 114.19V125.68M533.08 133.34V134.30M531.88 114.19h2.4M531.88 134.30h2.4" stroke="#ff0000" stroke-width="0.5" fill="none" stroke-opacity="0.7"/><rect x="530.58" y="125.68" width="5.0" height="7.66" fill="#fff" fill-opacity="0.5" stroke="#ff0000" stroke-width="0.6" stroke-opacity="0.9"/><path d="M530.58 129.51h5.0" stroke="#ff0000" stroke-width="0.5"/><text x="51.19" y="26.4" font-family="Liberation Sans, sans-serif" font-size="7" font-weight="bold" letter-spacing="1.75" fill="#222" stroke="#222" stroke-width="0.9" stroke-linejoin="round" text-anchor="middle">***</text><text x="67.68" y="26.4" font-family="Liberation Sans, sans-serif" font-size="7" font-weight="bold" letter-spacing="1.75" fill="#222" stroke="#222" stroke-width="0.9" stroke-linejoin="round" text-anchor="middle">***</text><text x="117.14" y="26.4" font-family="Liberation Sans, sans-serif" font-size="7" font-weight="bold" letter-spacing="1.75" fill="#222" stroke="#222" stroke-width="0.9" stroke-linejoin="round" text-anchor="middle">**</text><text x="133.63" y="26.4" font-family="Liberation Sans, sans-serif" font-size="7" font-weight="bold" letter-spacing="1.75" fill="#222" stroke="#222" stroke-width="0.9" stroke-linejoin="round" text-anchor="middle">***</text><text x="150.12" y="26.4" font-family="Liberation Sans, sans-serif" font-size="7" font-weight="bold" letter-spacing="1.75" fill="#222" stroke="#222" stroke-width="0.9" stroke-linejoin="round" text-anchor="middle">***</text><text x="174.85" y="26.4" font-family="Liberation Sans, sans-serif" font-size="7" font-weight="bold" letter-spacing="1.75" fill="#222" stroke="#222" stroke-width="0.9" stroke-linejoin="round" text-anchor="middle">***</text><text x="191.34" y="26.4" font-family="Liberation Sans, sans-serif" font-size="7" font-weight="bold" letter-spacing="1.75" fill="#222" stroke="#222" stroke-width="0.9" stroke-linejoin="round" text-anchor="middle">***</text><text x="207.83" y="26.4" font-family="Liberation Sans, sans-serif" font-size="7" font-weight="bold" letter-spacing="1.75" fill="#222" stroke="#222" stroke-width="0.9" stroke-linejoin="round" text-anchor="middle">***</text><text x="224.32" y="26.4" font-family="Liberation Sans, sans-serif" font-size="7" font-weight="bold" letter-spacing="1.75" fill="#222" stroke="#222" stroke-width="0.9" stroke-linejoin="round" text-anchor="middle">***</text><text x="257.30" y="26.4" font-family="Liberation Sans, sans-serif" font-size="7" font-weight="bold" letter-spacing="1.75" fill="#222" stroke="#222" stroke-width="0.9" stroke-linejoin="round" text-anchor="middle">***</text><text x="273.78" y="26.4" font-family="Liberation Sans, sans-serif" font-size="7" font-weight="bold" letter-spacing="1.75" fill="#222" stroke="#222" stroke-width="0.9" stroke-linejoin="round" text-anchor="middle">***</text><text x="306.76" y="26.4" font-family="Liberation Sans, sans-serif" font-size="7" font-weight="bold" letter-spacing="1.75" fill="#222" stroke="#222" stroke-width="0.9" stroke-linejoin="round" text-anchor="middle">***</text><text x="323.25" y="26.4" font-family="Liberation Sans, sans-serif" font-size="7" font-weight="bold" letter-spacing="1.75" fill="#222" stroke="#222" stroke-width="0.9" stroke-linejoin="round" text-anchor="middle">***</text><text x="339.74" y="26.4" font-family="Liberation Sans, sans-serif" font-size="7" font-weight="bold" letter-spacing="1.75" fill="#222" stroke="#222" stroke-width="0.9" stroke-linejoin="round" text-anchor="middle">***</text><text x="422.18" y="26.4" font-family="Liberation Sans, sans-serif" font-size="7" font-weight="bold" letter-spacing="1.75" fill="#222" stroke="#222" stroke-width="0.9" stroke-linejoin="round" text-anchor="middle">***</text><text x="446.91" y="26.4" font-family="Liberation Sans, sans-serif" font-size="7" font-weight="bold" letter-spacing="1.75" fill="#222" stroke="#222" stroke-width="0.9" stroke-linejoin="round" text-anchor="middle">***</text><text x="463.40" y="26.4" font-family="Liberation Sans, sans-serif" font-size="7" font-weight="bold" letter-spacing="1.75" fill="#222" stroke="#222" stroke-width="0.9" stroke-linejoin="round" text-anchor="middle">***</text><text x="512.87" y="26.4" font-family="Liberation Sans, sans-serif" font-size="7" font-weight="bold" letter-spacing="1.75" fill="#222" stroke="#222" stroke-width="0.9" stroke-linejoin="round" text-anchor="middle">***</text><path d="M32.1 134.30H34.3" stroke="#444" stroke-width="0.8"/><text transform="translate(29.9 134.30) rotate(-90)" font-family="Liberation Sans, sans-serif" font-size="6.6" fill="#444" stroke="#444" stroke-width="0.15" text-anchor="middle">0</text><path d="M32.1 96.00H34.3" stroke="#444" stroke-width="0.8"/><text transform="translate(29.9 96.00) rotate(-90)" font-family="Liberation Sans, sans-serif" font-size="6.6" fill="#444" stroke="#444" stroke-width="0.15" text-anchor="middle">2</text><path d="M32.1 57.70H34.3" stroke="#444" stroke-width="0.8"/><text transform="translate(29.9 57.70) rotate(-90)" font-family="Liberation Sans, sans-serif" font-size="6.6" fill="#444" stroke="#444" stroke-width="0.15" text-anchor="middle">4</text><path d="M32.1 19.40H34.3" stroke="#444" stroke-width="0.8"/><text transform="translate(29.9 19.40) rotate(-90)" font-family="Liberation Sans, sans-serif" font-size="6.6" fill="#444" stroke="#444" stroke-width="0.15" text-anchor="middle">6</text><text transform="translate(23.2 77.05) rotate(-90)" font-family="Liberation Sans, sans-serif" font-size="7.7" fill="#111" stroke="#111" stroke-width="0.2" text-anchor="middle" textLength="122.7" lengthAdjust="spacingAndGlyphs">KIF18A Expression Level (log2 TPM)</text><text transform="translate(41.02 142.8) rotate(-90) scale(1 0.93)" font-family="Liberation Sans, sans-serif" font-size="6.1" fill="#222" stroke="#222" stroke-width="0.22" text-anchor="end">ACC.Tumor (n=79)</text><text transform="translate(49.27 142.8) rotate(-90) scale(1 0.93)" font-family="Liberation Sans, sans-serif" font-size="6.1" fill="#222" stroke="#222" stroke-width="0.22" text-anchor="end">BLCA.Tumor (n=408)</text><text transform="translate(57.51 142.8) rotate(-90) scale(1 0.93)" font-family="Liberation Sans, sans-serif" font-size="6.1" fill="#222" stroke="#222" stroke-width="0.22" text-anchor="end">BLCA.Normal (n=19)</text><text transform="translate(65.75 142.8) rotate(-90) scale(1 0.93)" font-family="Liberation Sans, sans-serif" font-size="6.1" fill="#222" stroke="#222" stroke-width="0.22" text-anchor="end">BRCA.Tumor (n=1093)</text><text transform="translate(74.00 142.8) rotate(-90) scale(1 0.93)" font-family="Liberation Sans, sans-serif" font-size="6.1" fill="#222" stroke="#222" stroke-width="0.22" text-anchor="end">BRCA.Normal (n=112)</text><text transform="translate(82.24 142.8) rotate(-90) scale(1 0.93)" font-family="Liberation Sans, sans-serif" font-size="6.1" fill="#222" stroke="#222" stroke-width="0.22" text-anchor="end">BRCA-Basal.Tumor (n=190)</text><text transform="translate(90.49 142.8) rotate(-90) scale(1 0.93)" font-family="Liberation Sans, sans-serif" font-size="6.1" fill="#222" stroke="#222" stroke-width="0.22" text-anchor="end">BRCA-Her2.Tumor (n=82)</text><text transform="translate(98.73 142.8) rotate(-90) scale(1 0.93)" font-family="Liberation Sans, sans-serif" font-size="6.1" fill="#222" stroke="#222" stroke-width="0.22" text-anchor="end">BRCA-LumA.Tumor (n=564)</text><text transform="translate(106.98 142.8) rotate(-90) scale(1 0.93)" font-family="Liberation Sans, sans-serif" font-size="6.1" fill="#222" stroke="#222" stroke-width="0.22" text-anchor="end">BRCA-LumB.Tumor (n=217)</text><text transform="translate(115.22 142.8) rotate(-90) scale(1 0.93)" font-family="Liberation Sans, sans-serif" font-size="6.1" fill="#222" stroke="#222" stroke-width="0.22" text-anchor="end">CESC.Tumor (n=304)</text><text transform="translate(123.46 142.8) rotate(-90) scale(1 0.93)" font-family="Liberation Sans, sans-serif" font-size="6.1" fill="#222" stroke="#222" stroke-width="0.22" text-anchor="end">CESC.Normal (n=3)</text><text transform="translate(131.71 142.8) rotate(-90) scale(1 0.93)" font-family="Liberation Sans, sans-serif" font-size="6.1" fill="#222" stroke="#222" stroke-width="0.22" text-anchor="end">CHOL.Tumor (n=36)</text><text transform="translate(139.95 142.8) rotate(-90) scale(1 0.93)" font-family="Liberation Sans, sans-serif" font-size="6.1" fill="#222" stroke="#222" stroke-width="0.22" text-anchor="end">CHOL.Normal (n=9)</text><text transform="translate(148.20 142.8) rotate(-90) scale(1 0.93)" font-family="Liberation Sans, sans-serif" font-size="6.1" fill="#222" stroke="#222" stroke-width="0.22" text-anchor="end">COAD.Tumor (n=457)</text><text transform="translate(156.44 142.8) rotate(-90) scale(1 0.93)" font-family="Liberation Sans, sans-serif" font-size="6.1" fill="#222" stroke="#222" stroke-width="0.22" text-anchor="end">COAD.Normal (n=41)</text><text transform="translate(164.69 142.8) rotate(-90) scale(1 0.93)" font-family="Liberation Sans, sans-serif" font-size="6.1" fill="#222" stroke="#222" stroke-width="0.22" text-anchor="end">DLBC.Tumor (n=48)</text><text transform="translate(172.93 142.8) rotate(-90) scale(1 0.93)" font-family="Liberation Sans, sans-serif" font-size="6.1" fill="#222" stroke="#222" stroke-width="0.22" text-anchor="end">ESCA.Tumor (n=184)</text><text transform="translate(181.17 142.8) rotate(-90) scale(1 0.93)" font-family="Liberation Sans, sans-serif" font-size="6.1" fill="#222" stroke="#222" stroke-width="0.22" text-anchor="end">ESCA.Normal (n=11)</text><text transform="translate(189.42 142.8) rotate(-90) scale(1 0.93)" font-family="Liberation Sans, sans-serif" font-size="6.1" fill="#222" stroke="#222" stroke-width="0.22" text-anchor="end">GBM.Tumor (n=153)</text><text transform="translate(197.66 142.8) rotate(-90) scale(1 0.93)" font-family="Liberation Sans, sans-serif" font-size="6.1" fill="#222" stroke="#222" stroke-width="0.22" text-anchor="end">GBM.Normal (n=5)</text><text transform="translate(205.91 142.8) rotate(-90) scale(1 0.93)" font-family="Liberation Sans, sans-serif" font-size="6.1" fill="#222" stroke="#222" stroke-width="0.22" text-anchor="end">HNSC.Tumor (n=520)</text><text transform="translate(214.15 142.8) rotate(-90) scale(1 0.93)" font-family="Liberation Sans, sans-serif" font-size="6.1" fill="#222" stroke="#222" stroke-width="0.22" text-anchor="end">HNSC.Normal (n=44)</text><text transform="translate(222.40 142.8) rotate(-90) scale(1 0.93)" font-family="Liberation Sans, sans-serif" font-size="6.1" fill="#222" stroke="#222" stroke-width="0.22" text-anchor="end">HNSC-HPV+.Tumor (n=97)</text><text transform="translate(230.64 142.8) rotate(-90) scale(1 0.93)" font-family="Liberation Sans, sans-serif" font-size="6.1" fill="#222" stroke="#222" stroke-width="0.22" text-anchor="end">HNSC-HPV-.Tumor (n=421)</text><text transform="translate(238.88 142.8) rotate(-90) scale(1 0.93)" font-family="Liberation Sans, sans-serif" font-size="6.1" fill="#222" stroke="#222" stroke-width="0.22" text-anchor="end">KICH.Tumor (n=66)</text><text transform="translate(247.13 142.8) rotate(-90) scale(1 0.93)" font-family="Liberation Sans, sans-serif" font-size="6.1" fill="#222" stroke="#222" stroke-width="0.22" text-anchor="end">KICH.Normal (n=25)</text><text transform="translate(255.37 142.8) rotate(-90) scale(1 0.93)" font-family="Liberation Sans, sans-serif" font-size="6.1" fill="#222" stroke="#222" stroke-width="0.22" text-anchor="end">KIRC.Tumor (n=533)</text><text transform="translate(263.62 142.8) rotate(-90) scale(1 0.93)" font-family="Liberation Sans, sans-serif" font-size="6.1" fill="#222" stroke="#222" stroke-width="0.22" text-anchor="end">KIRC.Normal (n=72)</text><text transform="translate(271.86 142.8) rotate(-90) scale(1 0.93)" font-family="Liberation Sans, sans-serif" font-size="6.1" fill="#222" stroke="#222" stroke-width="0.22" text-anchor="end">KIRP.Tumor (n=290)</text><text transform="translate(280.11 142.8) rotate(-90) scale(1 0.93)" font-family="Liberation Sans, sans-serif" font-size="6.1" fill="#222" stroke="#222" stroke-width="0.22" text-anchor="end">KIRP.Normal (n=32)</text><text transform="translate(288.35 142.8) rotate(-90) scale(1 0.93)" font-family="Liberation Sans, sans-serif" font-size="6.1" fill="#222" stroke="#222" stroke-width="0.22" text-anchor="end">LAML.Tumor (n=173)</text><text transform="translate(296.59 142.8) rotate(-90) scale(1 0.93)" font-family="Liberation Sans, sans-serif" font-size="6.1" fill="#222" stroke="#222" stroke-width="0.22" text-anchor="end">LGG.Tumor (n=516)</text><text transform="translate(304.84 142.8) rotate(-90) scale(1 0.93)" font-family="Liberation Sans, sans-serif" font-size="6.1" fill="#222" stroke="#222" stroke-width="0.22" text-anchor="end">LIHC.Tumor (n=371)</text><text transform="translate(313.08 142.8) rotate(-90) scale(1 0.93)" font-family="Liberation Sans, sans-serif" font-size="6.1" fill="#222" stroke="#222" stroke-width="0.22" text-anchor="end">LIHC.Normal (n=50)</text><text transform="translate(321.33 142.8) rotate(-90) scale(1 0.93)" font-family="Liberation Sans, sans-serif" font-size="6.1" fill="#222" stroke="#222" stroke-width="0.22" text-anchor="end">LUAD.Tumor (n=515)</text><text transform="translate(329.57 142.8) rotate(-90) scale(1 0.93)" font-family="Liberation Sans, sans-serif" font-size="6.1" fill="#222" stroke="#222" stroke-width="0.22" text-anchor="end">LUAD.Normal (n=59)</text><text transform="translate(337.82 142.8) rotate(-90) scale(1 0.93)" font-family="Liberation Sans, sans-serif" font-size="6.1" fill="#222" stroke="#222" stroke-width="0.22" text-anchor="end">LUSC.Tumor (n=501)</text><text transform="translate(346.06 142.8) rotate(-90) scale(1 0.93)" font-family="Liberation Sans, sans-serif" font-size="6.1" fill="#222" stroke="#222" stroke-width="0.22" text-anchor="end">LUSC.Normal (n=51)</text><text transform="translate(354.30 142.8) rotate(-90) scale(1 0.93)" font-family="Liberation Sans, sans-serif" font-size="6.1" fill="#222" stroke="#222" stroke-width="0.22" text-anchor="end">MESO.Tumor (n=87)</text><text transform="translate(362.55 142.8) rotate(-90) scale(1 0.93)" font-family="Liberation Sans, sans-serif" font-size="6.1" fill="#222" stroke="#222" stroke-width="0.22" text-anchor="end">OV.Tumor (n=303)</text><text transform="translate(370.79 142.8) rotate(-90) scale(1 0.93)" font-family="Liberation Sans, sans-serif" font-size="6.1" fill="#222" stroke="#222" stroke-width="0.22" text-anchor="end">PAAD.Tumor (n=178)</text><text transform="translate(379.04 142.8) rotate(-90) scale(1 0.93)" font-family="Liberation Sans, sans-serif" font-size="6.1" fill="#222" stroke="#222" stroke-width="0.22" text-anchor="end">PAAD.Normal (n=4)</text><text transform="translate(387.28 142.8) rotate(-90) scale(1 0.93)" font-family="Liberation Sans, sans-serif" font-size="6.1" fill="#222" stroke="#222" stroke-width="0.22" text-anchor="end">PCPG.Tumor (n=179)</text><text transform="translate(395.53 142.8) rotate(-90) scale(1 0.93)" font-family="Liberation Sans, sans-serif" font-size="6.1" fill="#222" stroke="#222" stroke-width="0.22" text-anchor="end">PCPG.Normal (n=3)</text><text transform="translate(403.77 142.8) rotate(-90) scale(1 0.93)" font-family="Liberation Sans, sans-serif" font-size="6.1" fill="#222" stroke="#222" stroke-width="0.22" text-anchor="end">PRAD.Tumor (n=497)</text><text transform="translate(412.01 142.8) rotate(-90) scale(1 0.93)" font-family="Liberation Sans, sans-serif" font-size="6.1" fill="#222" stroke="#222" stroke-width="0.22" text-anchor="end">PRAD.Normal (n=52)</text><text transform="translate(420.26 142.8) rotate(-90) scale(1 0.93)" font-family="Liberation Sans, sans-serif" font-size="6.1" fill="#222" stroke="#222" stroke-width="0.22" text-anchor="end">READ.Tumor (n=166)</text><text transform="translate(428.50 142.8) rotate(-90) scale(1 0.93)" font-family="Liberation Sans, sans-serif" font-size="6.1" fill="#222" stroke="#222" stroke-width="0.22" text-anchor="end">READ.Normal (n=10)</text><text transform="translate(436.75 142.8) rotate(-90) scale(1 0.93)" font-family="Liberation Sans, sans-serif" font-size="6.1" fill="#222" stroke="#222" stroke-width="0.22" text-anchor="end">SARC.Tumor (n=259)</text><text transform="translate(444.99 142.8) rotate(-90) scale(1 0.93)" font-family="Liberation Sans, sans-serif" font-size="6.1" fill="#222" stroke="#222" stroke-width="0.22" text-anchor="end">SKCM.Tumor (n=103)</text><text transform="translate(453.24 142.8) rotate(-90) scale(1 0.93)" font-family="Liberation Sans, sans-serif" font-size="6.1" fill="#222" stroke="#222" stroke-width="0.22" text-anchor="end">SKCM.Metastasis (n=368)</text><text transform="translate(461.48 142.8) rotate(-90) scale(1 0.93)" font-family="Liberation Sans, sans-serif" font-size="6.1" fill="#222" stroke="#222" stroke-width="0.22" text-anchor="end">STAD.Tumor (n=415)</text><text transform="translate(469.72 142.8) rotate(-90) scale(1 0.93)" font-family="Liberation Sans, sans-serif" font-size="6.1" fill="#222" stroke="#222" stroke-width="0.22" text-anchor="end">STAD.Normal (n=35)</text><text transform="translate(477.97 142.8) rotate(-90) scale(1 0.93)" font-family="Liberation Sans, sans-serif" font-size="6.1" fill="#222" stroke="#222" stroke-width="0.22" text-anchor="end">TGCT.Tumor (n=150)</text><text transform="translate(486.21 142.8) rotate(-90) scale(1 0.93)" font-family="Liberation Sans, sans-serif" font-size="6.1" fill="#222" stroke="#222" stroke-width="0.22" text-anchor="end">THCA.Tumor (n=501)</text><text transform="translate(494.46 142.8) rotate(-90) scale(1 0.93)" font-family="Liberation Sans, sans-serif" font-size="6.1" fill="#222" stroke="#222" stroke-width="0.22" text-anchor="end">THCA.Normal (n=59)</text><text transform="translate(502.70 142.8) rotate(-90) scale(1 0.93)" font-family="Liberation Sans, sans-serif" font-size="6.1" fill="#222" stroke="#222" stroke-width="0.22" text-anchor="end">THYM.Tumor (n=120)</text><text transform="translate(510.95 142.8) rotate(-90) scale(1 0.93)" font-family="Liberation Sans, sans-serif" font-size="6.1" fill="#222" stroke="#222" stroke-width="0.22" text-anchor="end">UCEC.Tumor (n=545)</text><text transform="translate(519.19 142.8) rotate(-90) scale(1 0.93)" font-family="Liberation Sans, sans-serif" font-size="6.1" fill="#222" stroke="#222" stroke-width="0.22" text-anchor="end">UCEC.Normal (n=35)</text><text transform="translate(527.43 142.8) rotate(-90) scale(1 0.93)" font-family="Liberation Sans, sans-serif" font-size="6.1" fill="#222" stroke="#222" stroke-width="0.22" text-anchor="end">UCS.Tumor (n=57)</text><text transform="translate(535.68 142.8) rotate(-90) scale(1 0.93)" font-family="Liberation Sans, sans-serif" font-size="6.1" fill="#222" stroke="#222" stroke-width="0.22" text-anchor="end">UVM.Tumor (n=80)</text><path d="M38.42 139.5v2.5M46.67 139.5v2.5M54.91 139.5v2.5M63.15 139.5v2.5M71.40 139.5v2.5M79.64 139.5v2.5M87.89 139.5v2.5M96.13 139.5v2.5M104.38 139.5v2.5M112.62 139.5v2.5M120.86 139.5v2.5M129.11 139.5v2.5M137.35 139.5v2.5M145.60 139.5v2.5M153.84 139.5v2.5M162.09 139.5v2.5M170.33 139.5v2.5M178.57 139.5v2.5M186.82 139.5v2.5M195.06 139.5v2.5M203.31 139.5v2.5M211.55 139.5v2.5M219.80 139.5v2.5M228.04 139.5v2.5M236.28 139.5v2.5M244.53 139.5v2.5M252.77 139.5v2.5M261.02 139.5v2.5M269.26 139.5v2.5M277.51 139.5v2.5M285.75 139.5v2.5M293.99 139.5v2.5M302.24 139.5v2.5M310.48 139.5v2.5M318.73 139.5v2.5M326.97 139.5v2.5M335.22 139.5v2.5M343.46 139.5v2.5M351.70 139.5v2.5M359.95 139.5v2.5M368.19 139.5v2.5M376.44 139.5v2.5M384.68 139.5v2.5M392.93 139.5v2.5M401.17 139.5v2.5M409.41 139.5v2.5M417.66 139.5v2.5M425.90 139.5v2.5M434.15 139.5v2.5M442.39 139.5v2.5M450.64 139.5v2.5M458.88 139.5v2.5M467.12 139.5v2.5M475.37 139.5v2.5M483.61 139.5v2.5M491.86 139.5v2.5M500.10 139.5v2.5M508.35 139.5v2.5M516.59 139.5v2.5M524.83 139.5v2.5M533.08 139.5v2.5" stroke="#333" stroke-width="0.8"/><text x="2" y="10.5" font-family="Liberation Serif, serif" font-size="12" font-weight="bold" fill="#000">A</text><text x="8.1" y="250.3" font-family="Liberation Serif, serif" font-size="11.9" font-weight="bold" fill="#000">B</text><path d="M37.0 258.5V445.8H515.0" stroke="#222" stroke-width="1.1" fill="none"/><path d="M34.5 437.50H37.0" stroke="#222" stroke-width="1"/><text transform="translate(31.2 441.20) scale(1 1.7)" font-family="Liberation Sans, sans-serif" font-size="6.1" fill="#333" stroke="#333" stroke-width="0.3" text-anchor="end">0</text><path d="M34.5 409.75H37.0" stroke="#222" stroke-width="1"/><text transform="translate(31.2 413.45) scale(1 1.7)" font-family="Liberation Sans, sans-serif" font-size="6.1" fill="#333" stroke="#333" stroke-width="0.3" text-anchor="end">1</text><path d="M34.5 382.00H37.0" stroke="#222" stroke-width="1"/><text transform="translate(31.2 385.70) scale(1 1.7)" font-family="Liberation Sans, sans-serif" font-size="6.1" fill="#333" stroke="#333" stroke-width="0.3" text-anchor="end">2</text><path d="M34.5 354.25H37.0" stroke="#222" stroke-width="1"/><text transform="translate(31.2 357.95) scale(1 1.7)" font-family="Liberation Sans, sans-serif" font-size="6.1" fill="#333" stroke="#333" stroke-width="0.3" text-anchor="end">3</text><path d="M34.5 326.50H37.0" stroke="#222" stroke-width="1"/><text transform="translate(31.2 330.20) scale(1 1.7)" font-family="Liberation Sans, sans-serif" font-size="6.1" fill="#333" stroke="#333" stroke-width="0.3" text-anchor="end">4</text><path d="M34.5 298.75H37.0" stroke="#222" stroke-width="1"/><text transform="translate(31.2 302.45) scale(1 1.7)" font-family="Liberation Sans, sans-serif" font-size="6.1" fill="#333" stroke="#333" stroke-width="0.3" text-anchor="end">5</text><path d="M34.5 271.00H37.0" stroke="#222" stroke-width="1"/><text transform="translate(31.2 274.70) scale(1 1.7)" font-family="Liberation Sans, sans-serif" font-size="6.1" fill="#333" stroke="#333" stroke-width="0.3" text-anchor="end">6</text><path d="M45.35 445.8v4.4" stroke="#222" stroke-width="1"/><text transform="translate(48.95 459.6) scale(1 1.1) rotate(-52)" font-family="Liberation Sans, sans-serif" font-style="italic" font-size="8.4" fill="#222" stroke="#222" stroke-width="0.25" text-anchor="end">ACC</text><text transform="translate(45.75 269.4) scale(1 1.55)" font-family="Liberation Sans, sans-serif" font-size="5.7" font-weight="bold" fill="#333" text-anchor="middle">***</text><path d="M59.76 445.8v4.4" stroke="#222" stroke-width="1"/><text transform="translate(63.36 459.6) scale(1 1.1) rotate(-52)" font-family="Liberation Sans, sans-serif" font-style="italic" font-size="8.4" fill="#222" stroke="#222" stroke-width="0.25" text-anchor="end">BLCA</text><text transform="translate(60.16 269.4) scale(1 1.55)" font-family="Liberation Sans, sans-serif" font-size="5.7" font-weight="bold" fill="#333" text-anchor="middle">***</text><path d="M74.17 445.8v4.4" stroke="#222" stroke-width="1"/><text transform="translate(77.77 459.6) scale(1 1.1) rotate(-52)" font-family="Liberation Sans, sans-serif" font-style="italic" font-size="8.4" fill="#222" stroke="#222" stroke-width="0.25" text-anchor="end">BRCA</text><text transform="translate(74.57 269.4) scale(1 1.55)" font-family="Liberation Sans, sans-serif" font-size="5.7" font-weight="bold" fill="#333" text-anchor="middle">***</text><path d="M88.58 445.8v4.4" stroke="#222" stroke-width="1"/><text transform="translate(92.18 459.6) scale(1 1.1) rotate(-52)" font-family="Liberation Sans, sans-serif" font-style="italic" font-size="8.4" fill="#222" stroke="#222" stroke-width="0.25" text-anchor="end">CESC</text><text transform="translate(88.98 269.4) scale(1 1.55)" font-family="Liberation Sans, sans-serif" font-size="5.7" font-weight="bold" fill="#333" text-anchor="middle">***</text><path d="M102.99 445.8v4.4" stroke="#222" stroke-width="1"/><text transform="translate(106.59 459.6) scale(1 1.1) rotate(-52)" font-family="Liberation Sans, sans-serif" font-style="italic" font-size="8.4" fill="#222" stroke="#222" stroke-width="0.25" text-anchor="end">CHOL</text><text transform="translate(103.39 269.4) scale(1 1.55)" font-family="Liberation Sans, sans-serif" font-size="5.7" font-weight="bold" fill="#333" text-anchor="middle">***</text><path d="M117.40 445.8v4.4" stroke="#222" stroke-width="1"/><text transform="translate(121.00 459.6) scale(1 1.1) rotate(-52)" font-family="Liberation Sans, sans-serif" font-style="italic" font-size="8.4" fill="#222" stroke="#222" stroke-width="0.25" text-anchor="end">COAD</text><text transform="translate(117.80 269.4) scale(1 1.55)" font-family="Liberation Sans, sans-serif" font-size="5.7" font-weight="bold" fill="#333" text-anchor="middle">***</text><path d="M131.81 445.8v4.4" stroke="#222" stroke-width="1"/><text transform="translate(135.41 459.6) scale(1 1.1) rotate(-52)" font-family="Liberation Sans, sans-serif" font-style="italic" font-size="8.4" fill="#222" stroke="#222" stroke-width="0.25" text-anchor="end">DLBC</text><text transform="translate(132.21 269.4) scale(1 1.55)" font-family="Liberation Sans, sans-serif" font-size="5.7" font-weight="bold" fill="#333" text-anchor="middle">***</text><path d="M146.22 445.8v4.4" stroke="#222" stroke-width="1"/><text transform="translate(149.82 459.6) scale(1 1.1) rotate(-52)" font-family="Liberation Sans, sans-serif" font-style="italic" font-size="8.4" fill="#222" stroke="#222" stroke-width="0.25" text-anchor="end">ESCA</text><text transform="translate(146.62 269.4) scale(1 1.55)" font-family="Liberation Sans, sans-serif" font-size="5.7" font-weight="bold" fill="#333" text-anchor="middle">***</text><path d="M160.63 445.8v4.4" stroke="#222" stroke-width="1"/><text transform="translate(164.23 459.6) scale(1 1.1) rotate(-52)" font-family="Liberation Sans, sans-serif" font-style="italic" font-size="8.4" fill="#222" stroke="#222" stroke-width="0.25" text-anchor="end">GBM</text><text transform="translate(161.03 269.4) scale(1 1.55)" font-family="Liberation Sans, sans-serif" font-size="5.7" font-weight="bold" fill="#333" text-anchor="middle">***</text><path d="M175.04 445.8v4.4" stroke="#222" stroke-width="1"/><text transform="translate(178.64 459.6) scale(1 1.1) rotate(-52)" font-family="Liberation Sans, sans-serif" font-style="italic" font-size="8.4" fill="#222" stroke="#222" stroke-width="0.25" text-anchor="end">HNSC</text><text transform="translate(175.44 269.4) scale(1 1.55)" font-family="Liberation Sans, sans-serif" font-size="5.7" font-weight="bold" fill="#333" text-anchor="middle">***</text><path d="M189.45 445.8v4.4" stroke="#222" stroke-width="1"/><text transform="translate(193.05 459.6) scale(1 1.1) rotate(-52)" font-family="Liberation Sans, sans-serif" font-style="italic" font-size="8.4" fill="#222" stroke="#222" stroke-width="0.25" text-anchor="end">KICH</text><text transform="translate(189.65 267.6) scale(1 1.3)" font-family="Liberation Sans, sans-serif" font-size="6.8" fill="#333" stroke="#333" stroke-width="0.25" text-anchor="middle">ns</text><path d="M203.86 445.8v4.4" stroke="#222" stroke-width="1"/><text transform="translate(207.46 459.6) scale(1 1.1) rotate(-52)" font-family="Liberation Sans, sans-serif" font-style="italic" font-size="8.4" fill="#222" stroke="#222" stroke-width="0.25" text-anchor="end">KIRC</text><text transform="translate(204.26 269.4) scale(1 1.55)" font-family="Liberation Sans, sans-serif" font-size="5.7" font-weight="bold" fill="#333" text-anchor="middle">***</text><path d="M218.27 445.8v4.4" stroke="#222" stroke-width="1"/><text transform="translate(221.87 459.6) scale(1 1.1) rotate(-52)" font-family="Liberation Sans, sans-serif" font-style="italic" font-size="8.4" fill="#222" stroke="#222" stroke-width="0.25" text-anchor="end">KIRP</text><text transform="translate(218.67 269.4) scale(1 1.55)" font-family="Liberation Sans, sans-serif" font-size="5.7" font-weight="bold" fill="#333" text-anchor="middle">***</text><path d="M232.68 445.8v4.4" stroke="#222" stroke-width="1"/><text transform="translate(236.28 459.6) scale(1 1.1) rotate(-52)" font-family="Liberation Sans, sans-serif" font-style="italic" font-size="8.4" fill="#222" stroke="#222" stroke-width="0.25" text-anchor="end">LAML</text><text transform="translate(233.08 269.4) scale(1 1.55)" font-family="Liberation Sans, sans-serif" font-size="5.7" font-weight="bold" fill="#333" text-anchor="middle">***</text><path d="M247.09 445.8v4.4" stroke="#222" stroke-width="1"/><text transform="translate(250.69 459.6) scale(1 1.1) rotate(-52)" font-family="Liberation Sans, sans-serif" font-style="italic" font-size="8.4" fill="#222" stroke="#222" stroke-width="0.25" text-anchor="end">LGG</text><text transform="translate(247.49 269.4) scale(1 1.55)" font-family="Liberation Sans, sans-serif" font-size="5.7" font-weight="bold" fill="#333" text-anchor="middle">***</text><path d="M261.50 445.8v4.4" stroke="#222" stroke-width="1"/><text transform="translate(265.10 459.6) scale(1 1.1) rotate(-52)" font-family="Liberation Sans, sans-serif" font-style="italic" font-size="8.4" fill="#222" stroke="#222" stroke-width="0.25" text-anchor="end">LIHC</text><text transform="translate(261.90 269.4) scale(1 1.55)" font-family="Liberation Sans, sans-serif" font-size="5.7" font-weight="bold" fill="#333" text-anchor="middle">***</text><path d="M275.91 445.8v4.4" stroke="#222" stroke-width="1"/><text transform="translate(279.51 459.6) scale(1 1.1) rotate(-52)" font-family="Liberation Sans, sans-serif" font-style="italic" font-size="8.4" fill="#222" stroke="#222" stroke-width="0.25" text-anchor="end">LUAD</text><text transform="translate(276.31 269.4) scale(1 1.55)" font-family="Liberation Sans, sans-serif" font-size="5.7" font-weight="bold" fill="#333" text-anchor="middle">***</text><path d="M290.32 445.8v4.4" stroke="#222" stroke-width="1"/><text transform="translate(293.92 459.6) scale(1 1.1) rotate(-52)" font-family="Liberation Sans, sans-serif" font-style="italic" font-size="8.4" fill="#222" stroke="#222" stroke-width="0.25" text-anchor="end">LUSC</text><text transform="translate(290.72 269.4) scale(1 1.55)" font-family="Liberation Sans, sans-serif" font-size="5.7" font-weight="bold" fill="#333" text-anchor="middle">***</text><path d="M304.73 445.8v4.4" stroke="#222" stroke-width="1"/><text transform="translate(308.33 459.6) scale(1 1.1) rotate(-52)" font-family="Liberation Sans, sans-serif" font-style="italic" font-size="8.4" fill="#222" stroke="#222" stroke-width="0.25" text-anchor="end">MESO</text><path d="M319.14 445.8v4.4" stroke="#222" stroke-width="1"/><text transform="translate(322.74 459.6) scale(1 1.1) rotate(-52)" font-family="Liberation Sans, sans-serif" font-style="italic" font-size="8.4" fill="#222" stroke="#222" stroke-width="0.25" text-anchor="end">OV</text><text transform="translate(319.54 269.4) scale(1 1.55)" font-family="Liberation Sans, sans-serif" font-size="5.7" font-weight="bold" fill="#333" text-anchor="middle">***</text><path d="M333.55 445.8v4.4" stroke="#222" stroke-width="1"/><text transform="translate(337.15 459.6) scale(1 1.1) rotate(-52)" font-family="Liberation Sans, sans-serif" font-style="italic" font-size="8.4" fill="#222" stroke="#222" stroke-width="0.25" text-anchor="end">PAAD</text><text transform="translate(333.95 269.4) scale(1 1.55)" font-family="Liberation Sans, sans-serif" font-size="5.7" font-weight="bold" fill="#333" text-anchor="middle">***</text><path d="M347.96 445.8v4.4" stroke="#222" stroke-width="1"/><text transform="translate(351.56 459.6) scale(1 1.1) rotate(-52)" font-family="Liberation Sans, sans-serif" font-style="italic" font-size="8.4" fill="#222" stroke="#222" stroke-width="0.25" text-anchor="end">PCPG</text><text transform="translate(348.36 269.4) scale(1 1.55)" font-family="Liberation Sans, sans-serif" font-size="5.7" font-weight="bold" fill="#333" text-anchor="middle">*</text><path d="M362.37 445.8v4.4" stroke="#222" stroke-width="1"/><text transform="translate(365.97 459.6) scale(1 1.1) rotate(-52)" font-family="Liberation Sans, sans-serif" font-style="italic" font-size="8.4" fill="#222" stroke="#222" stroke-width="0.25" text-anchor="end">PRAD</text><text transform="translate(362.77 269.4) scale(1 1.55)" font-family="Liberation Sans, sans-serif" font-size="5.7" font-weight="bold" fill="#333" text-anchor="middle">***</text><path d="M376.78 445.8v4.4" stroke="#222" stroke-width="1"/><text transform="translate(380.38 459.6) scale(1 1.1) rotate(-52)" font-family="Liberation Sans, sans-serif" font-style="italic" font-size="8.4" fill="#222" stroke="#222" stroke-width="0.25" text-anchor="end">READ</text><text transform="translate(377.18 269.4) scale(1 1.55)" font-family="Liberation Sans, sans-serif" font-size="5.7" font-weight="bold" fill="#333" text-anchor="middle">***</text><path d="M391.19 445.8v4.4" stroke="#222" stroke-width="1"/><text transform="translate(394.79 459.6) scale(1 1.1) rotate(-52)" font-family="Liberation Sans, sans-serif" font-style="italic" font-size="8.4" fill="#222" stroke="#222" stroke-width="0.25" text-anchor="end">SARC</text><path d="M405.60 445.8v4.4" stroke="#222" stroke-width="1"/><text transform="translate(409.20 459.6) scale(1 1.1) rotate(-52)" font-family="Liberation Sans, sans-serif" font-style="italic" font-size="8.4" fill="#222" stroke="#222" stroke-width="0.25" text-anchor="end">SKCM</text><text transform="translate(406.00 269.4) scale(1 1.55)" font-family="Liberation Sans, sans-serif" font-size="5.7" font-weight="bold" fill="#333" text-anchor="middle">***</text><path d="M420.01 445.8v4.4" stroke="#222" stroke-width="1"/><text transform="translate(423.61 459.6) scale(1 1.1) rotate(-52)" font-family="Liberation Sans, sans-serif" font-style="italic" font-size="8.4" fill="#222" stroke="#222" stroke-width="0.25" text-anchor="end">STAD</text><text transform="translate(420.41 269.4) scale(1 1.55)" font-family="Liberation Sans, sans-serif" font-size="5.7" font-weight="bold" fill="#333" text-anchor="middle">***</text><path d="M434.42 445.8v4.4" stroke="#222" stroke-width="1"/><text transform="translate(438.02 459.6) scale(1 1.1) rotate(-52)" font-family="Liberation Sans, sans-serif" font-style="italic" font-size="8.4" fill="#222" stroke="#222" stroke-width="0.25" text-anchor="end">TGCT</text><text transform="translate(434.82 269.4) scale(1 1.55)" font-family="Liberation Sans, sans-serif" font-size="5.7" font-weight="bold" fill="#333" text-anchor="middle">***</text><path d="M448.83 445.8v4.4" stroke="#222" stroke-width="1"/><text transform="translate(452.43 459.6) scale(1 1.1) rotate(-52)" font-family="Liberation Sans, sans-serif" font-style="italic" font-size="8.4" fill="#222" stroke="#222" stroke-width="0.25" text-anchor="end">THCA</text><text transform="translate(449.23 269.4) scale(1 1.55)" font-family="Liberation Sans, sans-serif" font-size="5.7" font-weight="bold" fill="#333" text-anchor="middle">***</text><path d="M463.24 445.8v4.4" stroke="#222" stroke-width="1"/><text transform="translate(466.84 459.6) scale(1 1.1) rotate(-52)" font-family="Liberation Sans, sans-serif" font-style="italic" font-size="8.4" fill="#222" stroke="#222" stroke-width="0.25" text-anchor="end">THYM</text><text transform="translate(463.64 269.4) scale(1 1.55)" font-family="Liberation Sans, sans-serif" font-size="5.7" font-weight="bold" fill="#333" text-anchor="middle">***</text><path d="M477.65 445.8v4.4" stroke="#222" stroke-width="1"/><text transform="translate(481.25 459.6) scale(1 1.1) rotate(-52)" font-family="Liberation Sans, sans-serif" font-style="italic" font-size="8.4" fill="#222" stroke="#222" stroke-width="0.25" text-anchor="end">UCEC</text><text transform="translate(478.05 269.4) scale(1 1.55)" font-family="Liberation Sans, sans-serif" font-size="5.7" font-weight="bold" fill="#333" text-anchor="middle">***</text><path d="M492.06 445.8v4.4" stroke="#222" stroke-width="1"/><text transform="translate(495.66 459.6) scale(1 1.1) rotate(-52)" font-family="Liberation Sans, sans-serif" font-style="italic" font-size="8.4" fill="#222" stroke="#222" stroke-width="0.25" text-anchor="end">UCS</text><text transform="translate(492.46 269.4) scale(1 1.55)" font-family="Liberation Sans, sans-serif" font-size="5.7" font-weight="bold" fill="#333" text-anchor="middle">***</text><path d="M506.47 445.8v4.4" stroke="#222" stroke-width="1"/><text transform="translate(510.07 459.6) scale(1 1.1) rotate(-52)" font-family="Liberation Sans, sans-serif" font-style="italic" font-size="8.4" fill="#222" stroke="#222" stroke-width="0.25" text-anchor="end">UVM</text><path d="M42.50 427.00V430.70M42.50 434.40V436.50" stroke="#2a2a2a" stroke-width="1.0"/><rect x="40.10" y="430.70" width="5.0" height="3.70" fill="#1a3a44" stroke="#1a1a1a" stroke-width="0.95"/><path d="M40.10 432.50h5.0" stroke="#111" stroke-width="1.9"/><circle cx="42.50" cy="414.50" r="0.95" fill="#333"/><circle cx="42.50" cy="418.00" r="0.95" fill="#333"/><circle cx="42.50" cy="421.00" r="0.95" fill="#333"/><circle cx="42.50" cy="424.00" r="0.95" fill="#333"/><path d="M48.50 364.00V397.70M48.50 423.70V434.00" stroke="#2a2a2a" stroke-width="1.0"/><rect x="45.90" y="397.70" width="5.0" height="26.00" fill="#e64b35" stroke="#1a1a1a" stroke-width="0.95"/><path d="M45.90 410.50h5.0" stroke="#111" stroke-width="1.9"/><circle cx="48.50" cy="346.40" r="0.95" fill="#333"/><circle cx="48.50" cy="353.40" r="0.95" fill="#333"/><path d="M57.50 402.30V415.40M57.50 431.40V437.00" stroke="#2a2a2a" stroke-width="1.0"/><rect x="54.50" y="415.40" width="5.0" height="16.00" fill="#4dbbd5" stroke="#1a1a1a" stroke-width="0.95"/><path d="M54.50 428.00h5.0" stroke="#111" stroke-width="1.9"/><circle cx="57.50" cy="388.50" r="0.95" fill="#333"/><circle cx="57.50" cy="392.00" r="0.95" fill="#333"/><path d="M62.50 330.30V372.40M62.50 403.80V435.90" stroke="#2a2a2a" stroke-width="1.0"/><rect x="60.30" y="372.40" width="5.0" height="31.40" fill="#e64b35" stroke="#1a1a1a" stroke-width="0.95"/><path d="M60.30 387.60h5.0" stroke="#111" stroke-width="1.9"/><circle cx="62.50" cy="310.00" r="0.95" fill="#333"/><circle cx="62.50" cy="320.60" r="0.95" fill="#333"/><path d="M71.50 400.80V419.70M71.50 432.80V437.00" stroke="#2a2a2a" stroke-width="1.0"/><rect x="68.80" y="419.70" width="5.0" height="13.10" fill="#4dbbd5" stroke="#1a1a1a" stroke-width="0.95"/><path d="M68.80 427.60h5.0" stroke="#111" stroke-width="1.9"/><circle cx="71.50" cy="379.28" r="0.95" fill="#333"/><circle cx="71.50" cy="384.62" r="0.95" fill="#333"/><circle cx="71.50" cy="390.66" r="0.95" fill="#333"/><circle cx="71.50" cy="393.07" r="0.95" fill="#333"/><circle cx="71.50" cy="397.09" r="0.95" fill="#333"/><path d="M76.50 312.00V369.30M76.50 402.90V437.00" stroke="#2a2a2a" stroke-width="1.0"/><rect x="74.30" y="369.30" width="5.0" height="33.60" fill="#e64b35" stroke="#1a1a1a" stroke-width="0.95"/><path d="M74.30 387.60h5.0" stroke="#111" stroke-width="1.9"/><circle cx="76.50" cy="306.50" r="0.95" fill="#333"/><circle cx="76.50" cy="308.32" r="0.95" fill="#333"/><circle cx="76.50" cy="309.84" r="0.95" fill="#333"/><circle cx="76.50" cy="311.00" r="0.95" fill="#333"/><path d="M85.50 421.50V427.30M85.50 433.40V436.00" stroke="#2a2a2a" stroke-width="1.0"/><rect x="83.20" y="427.30" width="5.0" height="6.10" fill="#4dbbd5" stroke="#1a1a1a" stroke-width="0.95"/><path d="M83.20 430.50h5.0" stroke="#111" stroke-width="1.9"/><circle cx="85.50" cy="405.30" r="0.95" fill="#333"/><path d="M91.50 323.80V356.50M91.50 380.00V413.00" stroke="#2a2a2a" stroke-width="1.0"/><rect x="89.00" y="356.50" width="5.0" height="23.50" fill="#e64b35" stroke="#1a1a1a" stroke-width="0.95"/><path d="M89.00 367.80h5.0" stroke="#111" stroke-width="1.9"/><circle cx="91.50" cy="317.70" r="0.95" fill="#333"/><circle cx="91.50" cy="414.50" r="0.95" fill="#333"/><circle cx="91.50" cy="417.00" r="0.95" fill="#333"/><circle cx="91.50" cy="419.00" r="0.95" fill="#333"/><path d="M100.50 434.40V434.40M100.50 436.20V436.20" stroke="#2a2a2a" stroke-width="1.0"/><rect x="97.50" y="434.40" width="5.0" height="1.80" fill="#4dbbd5" stroke="#1a1a1a" stroke-width="0.95"/><path d="M97.50 435.30h5.0" stroke="#111" stroke-width="1.9"/><path d="M105.50 367.20V390.70M105.50 411.50V429.80" stroke="#2a2a2a" stroke-width="1.0"/><rect x="103.30" y="390.70" width="5.0" height="20.80" fill="#e64b35" stroke="#1a1a1a" stroke-width="0.95"/><path d="M103.30 400.20h5.0" stroke="#111" stroke-width="1.9"/><path d="M114.50 386.00V417.00M114.50 433.40V436.50" stroke="#2a2a2a" stroke-width="1.0"/><rect x="112.30" y="417.00" width="5.0" height="16.40" fill="#4dbbd5" stroke="#1a1a1a" stroke-width="0.95"/><path d="M112.30 427.60h5.0" stroke="#111" stroke-width="1.9"/><path d="M120.50 341.20V369.60M120.50 388.50V413.00" stroke="#2a2a2a" stroke-width="1.0"/><rect x="117.80" y="369.60" width="5.0" height="18.90" fill="#e64b35" stroke="#1a1a1a" stroke-width="0.95"/><path d="M117.80 378.80h5.0" stroke="#111" stroke-width="1.9"/><circle cx="120.50" cy="335.00" r="0.95" fill="#333"/><circle cx="120.50" cy="417.60" r="0.95" fill="#333"/><path d="M128.50 350.40V401.40M128.50 435.90V436.50" stroke="#2a2a2a" stroke-width="1.0"/><rect x="126.30" y="401.40" width="5.0" height="34.50" fill="#4dbbd5" stroke="#1a1a1a" stroke-width="0.95"/><path d="M126.30 433.70h5.0" stroke="#111" stroke-width="1.9"/><path d="M128.50 331.00V350.40" stroke="#2a2a2a" stroke-width="2.0" stroke-linecap="round"/><circle cx="128.50" cy="319.00" r="0.95" fill="#333"/><circle cx="128.50" cy="329.00" r="0.95" fill="#333"/><path d="M134.50 325.00V361.70M134.50 397.70V434.40" stroke="#2a2a2a" stroke-width="1.0"/><rect x="132.10" y="361.70" width="5.0" height="36.00" fill="#e64b35" stroke="#1a1a1a" stroke-width="0.95"/><path d="M132.10 380.00h5.0" stroke="#111" stroke-width="1.9"/><path d="M143.50 376.30V410.50M143.50 435.00V436.50" stroke="#2a2a2a" stroke-width="1.0"/><rect x="140.70" y="410.50" width="5.0" height="24.50" fill="#4dbbd5" stroke="#1a1a1a" stroke-width="0.95"/><path d="M140.70 431.90h5.0" stroke="#111" stroke-width="1.9"/><circle cx="143.50" cy="372.70" r="0.95" fill="#333"/><path d="M149.50 305.50V343.40M149.50 369.60V408.40" stroke="#2a2a2a" stroke-width="1.0"/><rect x="146.80" y="343.40" width="5.0" height="26.20" fill="#e64b35" stroke="#1a1a1a" stroke-width="0.95"/><path d="M146.80 351.90h5.0" stroke="#111" stroke-width="1.9"/><circle cx="149.50" cy="413.00" r="0.95" fill="#333"/><circle cx="149.50" cy="416.00" r="0.95" fill="#333"/><circle cx="149.50" cy="419.70" r="0.95" fill="#333"/><path d="M157.50 430.00V433.10M157.50 436.20V436.50" stroke="#2a2a2a" stroke-width="1.0"/><rect x="155.30" y="433.10" width="5.0" height="3.10" fill="#4dbbd5" stroke="#1a1a1a" stroke-width="0.95"/><path d="M155.30 435.00h5.0" stroke="#111" stroke-width="1.9"/><path d="M157.50 410.00V430.00" stroke="#2a2a2a" stroke-width="2.0" stroke-linecap="round"/><circle cx="157.50" cy="408.40" r="0.95" fill="#333"/><path d="M163.50 348.90V374.80M163.50 403.20V433.40" stroke="#2a2a2a" stroke-width="1.0"/><rect x="161.10" y="374.80" width="5.0" height="28.40" fill="#e64b35" stroke="#1a1a1a" stroke-width="0.95"/><path d="M161.10 388.50h5.0" stroke="#111" stroke-width="1.9"/><path d="M172.50 384.00V397.70M172.50 422.70V435.90" stroke="#2a2a2a" stroke-width="1.0"/><rect x="169.70" y="397.70" width="5.0" height="25.00" fill="#4dbbd5" stroke="#1a1a1a" stroke-width="0.95"/><path d="M169.70 405.30h5.0" stroke="#111" stroke-width="1.9"/><path d="M177.50 325.00V360.50M177.50 388.00V425.20" stroke="#2a2a2a" stroke-width="1.0"/><rect x="175.20" y="360.50" width="5.0" height="27.50" fill="#e64b35" stroke="#1a1a1a" stroke-width="0.95"/><path d="M175.20 373.30h5.0" stroke="#111" stroke-width="1.9"/><path d="M186.50 417.50V425.90M186.50 433.10V436.00" stroke="#2a2a2a" stroke-width="1.0"/><rect x="183.90" y="425.90" width="5.0" height="7.20" fill="#4dbbd5" stroke="#1a1a1a" stroke-width="0.95"/><path d="M183.90 429.20h5.0" stroke="#111" stroke-width="1.9"/><circle cx="186.50" cy="402.20" r="0.95" fill="#333"/><circle cx="186.50" cy="411.00" r="0.95" fill="#333"/><path d="M192.50 419.40V425.30M192.50 433.10V436.00" stroke="#2a2a2a" stroke-width="1.0"/><rect x="189.70" y="425.30" width="5.0" height="7.80" fill="#e64b35" stroke="#1a1a1a" stroke-width="0.95"/><path d="M189.70 429.00h5.0" stroke="#111" stroke-width="1.9"/><circle cx="192.50" cy="350.20" r="0.95" fill="#333"/><circle cx="192.50" cy="377.80" r="0.95" fill="#333"/><circle cx="192.50" cy="392.40" r="0.95" fill="#333"/><circle cx="192.50" cy="402.20" r="0.95" fill="#333"/><path d="M201.50 420.00V426.00M201.50 431.50V435.00" stroke="#2a2a2a" stroke-width="1.0"/><rect x="198.50" y="426.00" width="5.0" height="5.50" fill="#4dbbd5" stroke="#1a1a1a" stroke-width="0.95"/><path d="M198.50 429.00h5.0" stroke="#111" stroke-width="1.9"/><circle cx="201.50" cy="410.30" r="0.95" fill="#333"/><path d="M206.50 386.00V407.70M206.50 421.70V433.00" stroke="#2a2a2a" stroke-width="1.0"/><rect x="204.40" y="407.70" width="5.0" height="14.00" fill="#e64b35" stroke="#1a1a1a" stroke-width="0.95"/><path d="M204.40 414.20h5.0" stroke="#111" stroke-width="1.9"/><circle cx="206.50" cy="341.25" r="0.95" fill="#333"/><circle cx="206.50" cy="349.40" r="0.95" fill="#333"/><circle cx="206.50" cy="352.94" r="0.95" fill="#333"/><circle cx="206.50" cy="358.50" r="0.95" fill="#333"/><circle cx="206.50" cy="361.58" r="0.95" fill="#333"/><circle cx="206.50" cy="364.25" r="0.95" fill="#333"/><circle cx="206.50" cy="367.83" r="0.95" fill="#333"/><circle cx="206.50" cy="369.84" r="0.95" fill="#333"/><circle cx="206.50" cy="373.20" r="0.95" fill="#333"/><circle cx="206.50" cy="375.53" r="0.95" fill="#333"/><circle cx="206.50" cy="377.25" r="0.95" fill="#333"/><circle cx="206.50" cy="380.38" r="0.95" fill="#333"/><circle cx="206.50" cy="382.41" r="0.95" fill="#333"/><circle cx="206.50" cy="384.26" r="0.95" fill="#333"/><path d="M215.50 421.70V427.20M215.50 433.10V436.00" stroke="#2a2a2a" stroke-width="1.0"/><rect x="213.20" y="427.20" width="5.0" height="5.90" fill="#4dbbd5" stroke="#1a1a1a" stroke-width="0.95"/><path d="M213.20 430.00h5.0" stroke="#111" stroke-width="1.9"/><circle cx="215.50" cy="402.20" r="0.95" fill="#333"/><path d="M221.50 405.40V418.50M221.50 430.50V435.00" stroke="#2a2a2a" stroke-width="1.0"/><rect x="219.00" y="418.50" width="5.0" height="12.00" fill="#e64b35" stroke="#1a1a1a" stroke-width="0.95"/><path d="M219.00 425.00h5.0" stroke="#111" stroke-width="1.9"/><circle cx="221.50" cy="360.40" r="0.95" fill="#333"/><circle cx="221.50" cy="366.22" r="0.95" fill="#333"/><circle cx="221.50" cy="372.17" r="0.95" fill="#333"/><circle cx="221.50" cy="374.60" r="0.95" fill="#333"/><circle cx="221.50" cy="378.60" r="0.95" fill="#333"/><circle cx="221.50" cy="383.28" r="0.95" fill="#333"/><circle cx="221.50" cy="386.30" r="0.95" fill="#333"/><circle cx="221.50" cy="389.51" r="0.95" fill="#333"/><circle cx="221.50" cy="392.28" r="0.95" fill="#333"/><circle cx="221.50" cy="395.75" r="0.95" fill="#333"/><circle cx="221.50" cy="399.03" r="0.95" fill="#333"/><circle cx="221.50" cy="401.06" r="0.95" fill="#333"/><circle cx="221.50" cy="403.80" r="0.95" fill="#333"/><path d="M229.50 320.90V325.80M229.50 332.30V338.80" stroke="#2a2a2a" stroke-width="1.0"/><rect x="227.10" y="325.80" width="5.0" height="6.50" fill="#4dbbd5" stroke="#1a1a1a" stroke-width="0.95"/><path d="M227.10 329.00h5.0" stroke="#111" stroke-width="1.9"/><circle cx="229.50" cy="303.00" r="0.95" fill="#333"/><circle cx="229.50" cy="307.38" r="0.95" fill="#333"/><circle cx="229.50" cy="310.48" r="0.95" fill="#333"/><circle cx="229.50" cy="313.53" r="0.95" fill="#333"/><circle cx="229.50" cy="315.35" r="0.95" fill="#333"/><circle cx="229.50" cy="317.32" r="0.95" fill="#333"/><circle cx="229.50" cy="320.00" r="0.95" fill="#333"/><path d="M235.50 314.40V350.20M235.50 378.50V419.40" stroke="#2a2a2a" stroke-width="1.0"/><rect x="233.00" y="350.20" width="5.0" height="28.30" fill="#e64b35" stroke="#1a1a1a" stroke-width="0.95"/><path d="M233.00 363.20h5.0" stroke="#111" stroke-width="1.9"/><path d="M243.50 432.40V432.40M243.50 436.30V436.30" stroke="#2a2a2a" stroke-width="1.0"/><rect x="241.40" y="432.40" width="5.0" height="3.90" fill="#4dbbd5" stroke="#1a1a1a" stroke-width="0.95"/><path d="M241.40 434.50h5.0" stroke="#111" stroke-width="1.9"/><path d="M243.50 413.00V432.00" stroke="#2a2a2a" stroke-width="2.0" stroke-linecap="round"/><circle cx="243.50" cy="411.00" r="0.95" fill="#333"/><path d="M249.50 387.60V413.60M249.50 429.80V436.00" stroke="#2a2a2a" stroke-width="1.0"/><rect x="247.30" y="413.60" width="5.0" height="16.20" fill="#e64b35" stroke="#1a1a1a" stroke-width="0.95"/><path d="M247.30 424.00h5.0" stroke="#111" stroke-width="1.9"/><circle cx="249.50" cy="343.54" r="0.95" fill="#333"/><circle cx="249.50" cy="349.98" r="0.95" fill="#333"/><circle cx="249.50" cy="353.03" r="0.95" fill="#333"/><circle cx="249.50" cy="356.32" r="0.95" fill="#333"/><circle cx="249.50" cy="359.33" r="0.95" fill="#333"/><circle cx="249.50" cy="362.42" r="0.95" fill="#333"/><circle cx="249.50" cy="365.41" r="0.95" fill="#333"/><circle cx="249.50" cy="367.55" r="0.95" fill="#333"/><circle cx="249.50" cy="369.97" r="0.95" fill="#333"/><circle cx="249.50" cy="372.42" r="0.95" fill="#333"/><circle cx="249.50" cy="374.26" r="0.95" fill="#333"/><circle cx="249.50" cy="376.15" r="0.95" fill="#333"/><circle cx="249.50" cy="377.89" r="0.95" fill="#333"/><circle cx="249.50" cy="380.38" r="0.95" fill="#333"/><circle cx="249.50" cy="381.45" r="0.95" fill="#333"/><circle cx="249.50" cy="383.65" r="0.95" fill="#333"/><circle cx="249.50" cy="385.34" r="0.95" fill="#333"/><circle cx="249.50" cy="387.00" r="0.95" fill="#333"/><path d="M258.50 433.70V433.70M258.50 437.00V437.00" stroke="#2a2a2a" stroke-width="1.0"/><rect x="255.50" y="433.70" width="5.0" height="3.30" fill="#4dbbd5" stroke="#1a1a1a" stroke-width="0.95"/><path d="M255.50 435.50h5.0" stroke="#111" stroke-width="1.9"/><path d="M258.50 423.00V433.00" stroke="#2a2a2a" stroke-width="2.0" stroke-linecap="round"/><circle cx="258.50" cy="421.50" r="0.95" fill="#333"/><path d="M264.50 376.20V404.50M264.50 429.80V436.00" stroke="#2a2a2a" stroke-width="1.0"/><rect x="262.00" y="404.50" width="5.0" height="25.30" fill="#e64b35" stroke="#1a1a1a" stroke-width="0.95"/><path d="M262.00 420.70h5.0" stroke="#111" stroke-width="1.9"/><circle cx="264.50" cy="338.80" r="0.95" fill="#333"/><circle cx="264.50" cy="344.59" r="0.95" fill="#333"/><circle cx="264.50" cy="348.01" r="0.95" fill="#333"/><circle cx="264.50" cy="351.73" r="0.95" fill="#333"/><circle cx="264.50" cy="354.29" r="0.95" fill="#333"/><circle cx="264.50" cy="357.69" r="0.95" fill="#333"/><circle cx="264.50" cy="359.82" r="0.95" fill="#333"/><circle cx="264.50" cy="361.84" r="0.95" fill="#333"/><circle cx="264.50" cy="364.80" r="0.95" fill="#333"/><path d="M273.50 390.20V411.00M273.50 421.70V433.00" stroke="#2a2a2a" stroke-width="1.0"/><rect x="270.80" y="411.00" width="5.0" height="10.70" fill="#4dbbd5" stroke="#1a1a1a" stroke-width="0.95"/><path d="M270.80 416.20h5.0" stroke="#111" stroke-width="1.9"/><path d="M279.50 333.90V380.40M279.50 405.40V429.80" stroke="#2a2a2a" stroke-width="1.0"/><rect x="276.60" y="380.40" width="5.0" height="25.00" fill="#e64b35" stroke="#1a1a1a" stroke-width="0.95"/><path d="M276.60 392.40h5.0" stroke="#111" stroke-width="1.9"/><circle cx="279.50" cy="306.60" r="0.95" fill="#333"/><circle cx="279.50" cy="316.00" r="0.95" fill="#333"/><circle cx="279.50" cy="325.70" r="0.95" fill="#333"/><circle cx="279.50" cy="328.50" r="0.95" fill="#333"/><circle cx="279.50" cy="331.20" r="0.95" fill="#333"/><path d="M287.50 397.30V411.00M287.50 421.70V433.00" stroke="#2a2a2a" stroke-width="1.0"/><rect x="284.80" y="411.00" width="5.0" height="10.70" fill="#4dbbd5" stroke="#1a1a1a" stroke-width="0.95"/><path d="M284.80 416.00h5.0" stroke="#111" stroke-width="1.9"/><path d="M293.50 324.10V359.00M293.50 383.70V413.60" stroke="#2a2a2a" stroke-width="1.0"/><rect x="290.60" y="359.00" width="5.0" height="24.70" fill="#e64b35" stroke="#1a1a1a" stroke-width="0.95"/><path d="M290.60 371.30h5.0" stroke="#111" stroke-width="1.9"/><circle cx="293.50" cy="312.80" r="0.95" fill="#333"/><circle cx="293.50" cy="315.20" r="0.95" fill="#333"/><circle cx="293.50" cy="317.60" r="0.95" fill="#333"/><circle cx="293.50" cy="420.00" r="0.95" fill="#333"/><circle cx="293.50" cy="423.00" r="0.95" fill="#333"/><path d="M304.50 337.20V369.70M304.50 405.40V429.80" stroke="#2a2a2a" stroke-width="1.0"/><rect x="299.60" y="369.70" width="10.4" height="35.70" fill="#e64b35" stroke="#1a1a1a" stroke-width="0.95"/><path d="M299.60 390.80h10.4" stroke="#111" stroke-width="1.9"/><path d="M316.50 423.30V428.20M316.50 433.10V436.00" stroke="#2a2a2a" stroke-width="1.0"/><rect x="314.10" y="428.20" width="5.0" height="4.90" fill="#4dbbd5" stroke="#1a1a1a" stroke-width="0.95"/><path d="M314.10 430.50h5.0" stroke="#111" stroke-width="1.9"/><circle cx="316.50" cy="408.70" r="0.95" fill="#333"/><circle cx="316.50" cy="413.00" r="0.95" fill="#333"/><path d="M322.50 329.00V365.40M322.50 392.40V429.80" stroke="#2a2a2a" stroke-width="1.0"/><rect x="319.70" y="365.40" width="5.0" height="27.00" fill="#e64b35" stroke="#1a1a1a" stroke-width="0.95"/><path d="M319.70 378.50h5.0" stroke="#111" stroke-width="1.9"/><circle cx="322.50" cy="322.50" r="0.95" fill="#333"/><circle cx="322.50" cy="436.00" r="0.95" fill="#333"/><path d="M330.50 433.10V433.10M330.50 435.70V435.70" stroke="#2a2a2a" stroke-width="1.0"/><rect x="328.10" y="433.10" width="5.0" height="2.60" fill="#4dbbd5" stroke="#1a1a1a" stroke-width="0.95"/><path d="M328.10 434.40h5.0" stroke="#111" stroke-width="1.9"/><path d="M330.50 422.50V431.00" stroke="#2a2a2a" stroke-width="2.0" stroke-linecap="round"/><circle cx="330.50" cy="420.00" r="0.95" fill="#333"/><path d="M336.50 371.30V399.00M336.50 418.50V432.40" stroke="#2a2a2a" stroke-width="1.0"/><rect x="334.00" y="399.00" width="5.0" height="19.50" fill="#e64b35" stroke="#1a1a1a" stroke-width="0.95"/><path d="M334.00 408.70h5.0" stroke="#111" stroke-width="1.9"/><circle cx="336.50" cy="355.00" r="0.95" fill="#333"/><circle cx="336.50" cy="360.00" r="0.95" fill="#333"/><path d="M345.50 433.20V433.20M345.50 434.20V434.20" stroke="#2a2a2a" stroke-width="1.0"/><rect x="342.70" y="433.20" width="5.0" height="1.00" fill="#4dbbd5" stroke="#1a1a1a" stroke-width="0.95"/><path d="M342.70 433.70h5.0" stroke="#111" stroke-width="1.9"/><path d="M350.50 416.80V424.00M350.50 433.10V436.00" stroke="#2a2a2a" stroke-width="1.0"/><rect x="348.30" y="424.00" width="5.0" height="9.10" fill="#e64b35" stroke="#1a1a1a" stroke-width="0.95"/><path d="M348.30 429.20h5.0" stroke="#111" stroke-width="1.9"/><circle cx="350.50" cy="390.80" r="0.95" fill="#333"/><circle cx="350.50" cy="395.03" r="0.95" fill="#333"/><circle cx="350.50" cy="399.21" r="0.95" fill="#333"/><circle cx="350.50" cy="402.72" r="0.95" fill="#333"/><circle cx="350.50" cy="405.47" r="0.95" fill="#333"/><circle cx="350.50" cy="407.42" r="0.95" fill="#333"/><circle cx="350.50" cy="410.61" r="0.95" fill="#333"/><circle cx="350.50" cy="413.11" r="0.95" fill="#333"/><circle cx="350.50" cy="415.20" r="0.95" fill="#333"/><path d="M359.50 421.70V426.60M359.50 432.40V436.00" stroke="#2a2a2a" stroke-width="1.0"/><rect x="357.10" y="426.60" width="5.0" height="5.80" fill="#4dbbd5" stroke="#1a1a1a" stroke-width="0.95"/><path d="M357.10 429.50h5.0" stroke="#111" stroke-width="1.9"/><circle cx="359.50" cy="405.83" r="0.95" fill="#333"/><circle cx="359.50" cy="409.50" r="0.95" fill="#333"/><circle cx="359.50" cy="412.14" r="0.95" fill="#333"/><circle cx="359.50" cy="414.87" r="0.95" fill="#333"/><circle cx="359.50" cy="417.32" r="0.95" fill="#333"/><circle cx="359.50" cy="419.98" r="0.95" fill="#333"/><path d="M365.50 413.60V420.70M365.50 429.80V434.00" stroke="#2a2a2a" stroke-width="1.0"/><rect x="362.90" y="420.70" width="5.0" height="9.10" fill="#e64b35" stroke="#1a1a1a" stroke-width="0.95"/><path d="M362.90 426.00h5.0" stroke="#111" stroke-width="1.9"/><circle cx="365.50" cy="372.90" r="0.95" fill="#333"/><circle cx="365.50" cy="379.10" r="0.95" fill="#333"/><circle cx="365.50" cy="383.29" r="0.95" fill="#333"/><circle cx="365.50" cy="385.98" r="0.95" fill="#333"/><circle cx="365.50" cy="388.59" r="0.95" fill="#333"/><circle cx="365.50" cy="391.66" r="0.95" fill="#333"/><circle cx="365.50" cy="394.26" r="0.95" fill="#333"/><circle cx="365.50" cy="395.95" r="0.95" fill="#333"/><circle cx="365.50" cy="397.81" r="0.95" fill="#333"/><circle cx="365.50" cy="400.51" r="0.95" fill="#333"/><circle cx="365.50" cy="401.64" r="0.95" fill="#333"/><circle cx="365.50" cy="403.94" r="0.95" fill="#333"/><circle cx="365.50" cy="405.46" r="0.95" fill="#333"/><circle cx="365.50" cy="407.18" r="0.95" fill="#333"/><circle cx="365.50" cy="409.18" r="0.95" fill="#333"/><circle cx="365.50" cy="410.23" r="0.95" fill="#333"/><circle cx="365.50" cy="412.00" r="0.95" fill="#333"/><path d="M374.50 385.00V419.40M374.50 433.10V437.00" stroke="#2a2a2a" stroke-width="1.0"/><rect x="371.70" y="419.40" width="5.0" height="13.70" fill="#4dbbd5" stroke="#1a1a1a" stroke-width="0.95"/><path d="M371.70 429.80h5.0" stroke="#111" stroke-width="1.9"/><path d="M380.50 337.20V364.10M380.50 390.80V426.00" stroke="#2a2a2a" stroke-width="1.0"/><rect x="377.50" y="364.10" width="5.0" height="26.70" fill="#e64b35" stroke="#1a1a1a" stroke-width="0.95"/><path d="M377.50 378.50h5.0" stroke="#111" stroke-width="1.9"/><path d="M388.50 427.70V427.70M388.50 428.70V428.70" stroke="#2a2a2a" stroke-width="1.0"/><rect x="385.80" y="427.70" width="5.0" height="1.00" fill="#4dbbd5" stroke="#1a1a1a" stroke-width="0.95"/><path d="M385.80 428.20h5.0" stroke="#111" stroke-width="1.9"/><path d="M394.50 317.60V368.70M394.50 405.40V429.80" stroke="#2a2a2a" stroke-width="1.0"/><rect x="391.60" y="368.70" width="5.0" height="36.70" fill="#e64b35" stroke="#1a1a1a" stroke-width="0.95"/><path d="M391.60 387.60h5.0" stroke="#111" stroke-width="1.9"/><circle cx="394.50" cy="305.60" r="0.95" fill="#333"/><path d="M402.50 373.00V405.40M402.50 426.00V433.00" stroke="#2a2a2a" stroke-width="1.0"/><rect x="400.40" y="405.40" width="5.0" height="20.60" fill="#4dbbd5" stroke="#1a1a1a" stroke-width="0.95"/><path d="M400.40 417.50h5.0" stroke="#111" stroke-width="1.9"/><circle cx="402.50" cy="321.53" r="0.95" fill="#333"/><circle cx="402.50" cy="324.12" r="0.95" fill="#333"/><circle cx="402.50" cy="326.89" r="0.95" fill="#333"/><circle cx="402.50" cy="329.15" r="0.95" fill="#333"/><circle cx="402.50" cy="330.75" r="0.95" fill="#333"/><circle cx="402.50" cy="333.50" r="0.95" fill="#333"/><circle cx="402.50" cy="335.65" r="0.95" fill="#333"/><circle cx="402.50" cy="338.29" r="0.95" fill="#333"/><circle cx="402.50" cy="340.89" r="0.95" fill="#333"/><circle cx="402.50" cy="343.19" r="0.95" fill="#333"/><circle cx="402.50" cy="346.13" r="0.95" fill="#333"/><circle cx="402.50" cy="348.54" r="0.95" fill="#333"/><circle cx="402.50" cy="350.59" r="0.95" fill="#333"/><circle cx="402.50" cy="352.69" r="0.95" fill="#333"/><circle cx="402.50" cy="355.41" r="0.95" fill="#333"/><circle cx="402.50" cy="356.80" r="0.95" fill="#333"/><circle cx="402.50" cy="359.07" r="0.95" fill="#333"/><circle cx="402.50" cy="362.33" r="0.95" fill="#333"/><circle cx="402.50" cy="364.21" r="0.95" fill="#333"/><circle cx="402.50" cy="366.86" r="0.95" fill="#333"/><circle cx="402.50" cy="368.93" r="0.95" fill="#333"/><circle cx="402.50" cy="371.00" r="0.95" fill="#333"/><path d="M408.50 325.80V370.70M408.50 405.40V431.50" stroke="#2a2a2a" stroke-width="1.0"/><rect x="405.90" y="370.70" width="5.0" height="34.70" fill="#e64b35" stroke="#1a1a1a" stroke-width="0.95"/><path d="M405.90 387.60h5.0" stroke="#111" stroke-width="1.9"/><path d="M416.50 408.70V423.30M416.50 433.10V436.00" stroke="#2a2a2a" stroke-width="1.0"/><rect x="414.40" y="423.30" width="5.0" height="9.80" fill="#4dbbd5" stroke="#1a1a1a" stroke-width="0.95"/><path d="M414.40 429.20h5.0" stroke="#111" stroke-width="1.9"/><circle cx="416.50" cy="390.80" r="0.95" fill="#333"/><circle cx="416.50" cy="396.08" r="0.95" fill="#333"/><circle cx="416.50" cy="399.62" r="0.95" fill="#333"/><circle cx="416.50" cy="401.88" r="0.95" fill="#333"/><circle cx="416.50" cy="404.17" r="0.95" fill="#333"/><circle cx="416.50" cy="406.88" r="0.95" fill="#333"/><path d="M422.50 322.50V358.30M422.50 386.90V425.00" stroke="#2a2a2a" stroke-width="1.0"/><rect x="420.20" y="358.30" width="5.0" height="28.60" fill="#e64b35" stroke="#1a1a1a" stroke-width="0.95"/><path d="M420.20 372.90h5.0" stroke="#111" stroke-width="1.9"/><circle cx="422.50" cy="271.40" r="0.95" fill="#333"/><circle cx="422.50" cy="300.40" r="0.95" fill="#333"/><circle cx="422.50" cy="433.00" r="0.95" fill="#333"/><path d="M431.50 319.20V335.00M431.50 347.70V365.50" stroke="#2a2a2a" stroke-width="1.0"/><rect x="429.00" y="335.00" width="5.0" height="12.70" fill="#4dbbd5" stroke="#1a1a1a" stroke-width="0.95"/><path d="M429.00 340.60h5.0" stroke="#111" stroke-width="1.9"/><circle cx="431.50" cy="368.00" r="0.95" fill="#333"/><circle cx="431.50" cy="371.50" r="0.95" fill="#333"/><circle cx="431.50" cy="375.40" r="0.95" fill="#333"/><path d="M437.50 340.60V358.40M437.50 377.60V415.20" stroke="#2a2a2a" stroke-width="1.0"/><rect x="434.50" y="358.40" width="5.0" height="19.20" fill="#e64b35" stroke="#1a1a1a" stroke-width="0.95"/><path d="M434.50 365.50h5.0" stroke="#111" stroke-width="1.9"/><circle cx="437.50" cy="418.50" r="0.95" fill="#333"/><circle cx="437.50" cy="422.00" r="0.95" fill="#333"/><circle cx="437.50" cy="426.00" r="0.95" fill="#333"/><circle cx="437.50" cy="430.00" r="0.95" fill="#333"/><circle cx="437.50" cy="434.70" r="0.95" fill="#333"/><path d="M445.50 384.30V408.70M445.50 418.50V429.80" stroke="#2a2a2a" stroke-width="1.0"/><rect x="443.30" y="408.70" width="5.0" height="9.80" fill="#4dbbd5" stroke="#1a1a1a" stroke-width="0.95"/><path d="M443.30 413.60h5.0" stroke="#111" stroke-width="1.9"/><circle cx="445.50" cy="353.40" r="0.95" fill="#333"/><circle cx="445.50" cy="361.20" r="0.95" fill="#333"/><circle cx="445.50" cy="364.80" r="0.95" fill="#333"/><circle cx="445.50" cy="371.20" r="0.95" fill="#333"/><circle cx="445.50" cy="432.50" r="0.95" fill="#333"/><path d="M451.50 376.90V396.70M451.50 412.00V429.80" stroke="#2a2a2a" stroke-width="1.0"/><rect x="449.20" y="396.70" width="5.0" height="15.30" fill="#e64b35" stroke="#1a1a1a" stroke-width="0.95"/><path d="M449.20 403.80h5.0" stroke="#111" stroke-width="1.9"/><circle cx="451.50" cy="351.30" r="0.95" fill="#333"/><circle cx="451.50" cy="358.40" r="0.95" fill="#333"/><circle cx="451.50" cy="366.90" r="0.95" fill="#333"/><path d="M460.50 355.00V399.00M460.50 435.70V437.00" stroke="#2a2a2a" stroke-width="1.0"/><rect x="457.90" y="399.00" width="5.0" height="36.70" fill="#4dbbd5" stroke="#1a1a1a" stroke-width="0.95"/><path d="M457.90 433.10h5.0" stroke="#111" stroke-width="1.9"/><path d="M460.50 331.50V345.00" stroke="#2a2a2a" stroke-width="2.0" stroke-linecap="round"/><circle cx="460.50" cy="319.40" r="0.95" fill="#333"/><path d="M466.50 326.40V364.10M466.50 403.20V433.10" stroke="#2a2a2a" stroke-width="1.0"/><rect x="463.60" y="364.10" width="5.0" height="39.10" fill="#e64b35" stroke="#1a1a1a" stroke-width="0.95"/><path d="M463.60 381.70h5.0" stroke="#111" stroke-width="1.9"/><path d="M474.50 418.50V426.00M474.50 432.40V435.50" stroke="#2a2a2a" stroke-width="1.0"/><rect x="472.40" y="426.00" width="5.0" height="6.40" fill="#4dbbd5" stroke="#1a1a1a" stroke-width="0.95"/><path d="M472.40 429.20h5.0" stroke="#111" stroke-width="1.9"/><circle cx="474.50" cy="384.30" r="0.95" fill="#333"/><circle cx="474.50" cy="405.40" r="0.95" fill="#333"/><circle cx="474.50" cy="409.00" r="0.95" fill="#333"/><circle cx="474.50" cy="412.00" r="0.95" fill="#333"/><circle cx="474.50" cy="437.50" r="0.95" fill="#333"/><path d="M480.50 326.00V366.40M480.50 394.10V426.00" stroke="#2a2a2a" stroke-width="1.0"/><rect x="478.30" y="366.40" width="5.0" height="27.70" fill="#e64b35" stroke="#1a1a1a" stroke-width="0.95"/><path d="M478.30 379.40h5.0" stroke="#111" stroke-width="1.9"/><circle cx="480.50" cy="311.10" r="0.95" fill="#333"/><path d="M489.50 422.70V427.20M489.50 433.10V436.00" stroke="#2a2a2a" stroke-width="1.0"/><rect x="487.10" y="427.20" width="5.0" height="5.90" fill="#4dbbd5" stroke="#1a1a1a" stroke-width="0.95"/><path d="M487.10 430.00h5.0" stroke="#111" stroke-width="1.9"/><circle cx="489.50" cy="415.20" r="0.95" fill="#333"/><path d="M494.50 342.00V359.00M494.50 384.30V406.40" stroke="#2a2a2a" stroke-width="1.0"/><rect x="492.30" y="359.00" width="5.0" height="25.30" fill="#e64b35" stroke="#1a1a1a" stroke-width="0.95"/><path d="M492.30 370.70h5.0" stroke="#111" stroke-width="1.9"/><path d="M506.50 415.20V428.20M506.50 434.70V436.50" stroke="#2a2a2a" stroke-width="1.0"/><rect x="501.90" y="428.20" width="9.8" height="6.50" fill="#e64b35" stroke="#1a1a1a" stroke-width="0.95"/><path d="M501.90 431.50h9.8" stroke="#111" stroke-width="1.9"/><circle cx="506.50" cy="403.80" r="0.95" fill="#333"/><circle cx="506.50" cy="407.84" r="0.95" fill="#333"/><circle cx="506.50" cy="409.66" r="0.95" fill="#333"/><circle cx="506.50" cy="412.00" r="0.95" fill="#333"/><path d="M521.9 326.2v8.6M521.9 338.2v8.6" stroke="#222" stroke-width="0.8"/><rect x="519" y="328.2" width="5.8" height="6.2" fill="#4dbbd5" stroke="#1a1a1a" stroke-width="0.8"/><path d="M519 331.3h5.8" stroke="#111" stroke-width="1.2"/><rect x="519" y="340.2" width="5.8" height="6.2" fill="#e64b35" stroke="#1a1a1a" stroke-width="0.8"/><path d="M519 343.3h5.8" stroke="#111" stroke-width="1.2"/><text transform="translate(529.3 334.5) scale(1 1.6)" font-family="Liberation Sans, sans-serif" font-size="5.6" fill="#222" stroke="#222" stroke-width="0.2">Normal</text><text transform="translate(529.3 346.5) scale(1 1.6)" font-family="Liberation Sans, sans-serif" font-size="5.6" fill="#222" stroke="#222" stroke-width="0.2">Tumor</text><text transform="translate(12.9 353) rotate(-90) scale(1.525 1)" font-family="Liberation Sans, sans-serif" font-size="7.6" fill="#111" stroke="#111" stroke-width="0.3" text-anchor="middle">The expression of KIF18A</text><text transform="translate(19.8 348.5) rotate(-90) scale(1.525 1)" font-family="Liberation Sans, sans-serif" font-size="7.6" fill="#111" stroke="#111" stroke-width="0.3" text-anchor="middle">Log<tspan font-size="5.4" dy="1.8">2</tspan><tspan dy="-1.8"> (TPM+1)</tspan></text></svg>
</body></html>
